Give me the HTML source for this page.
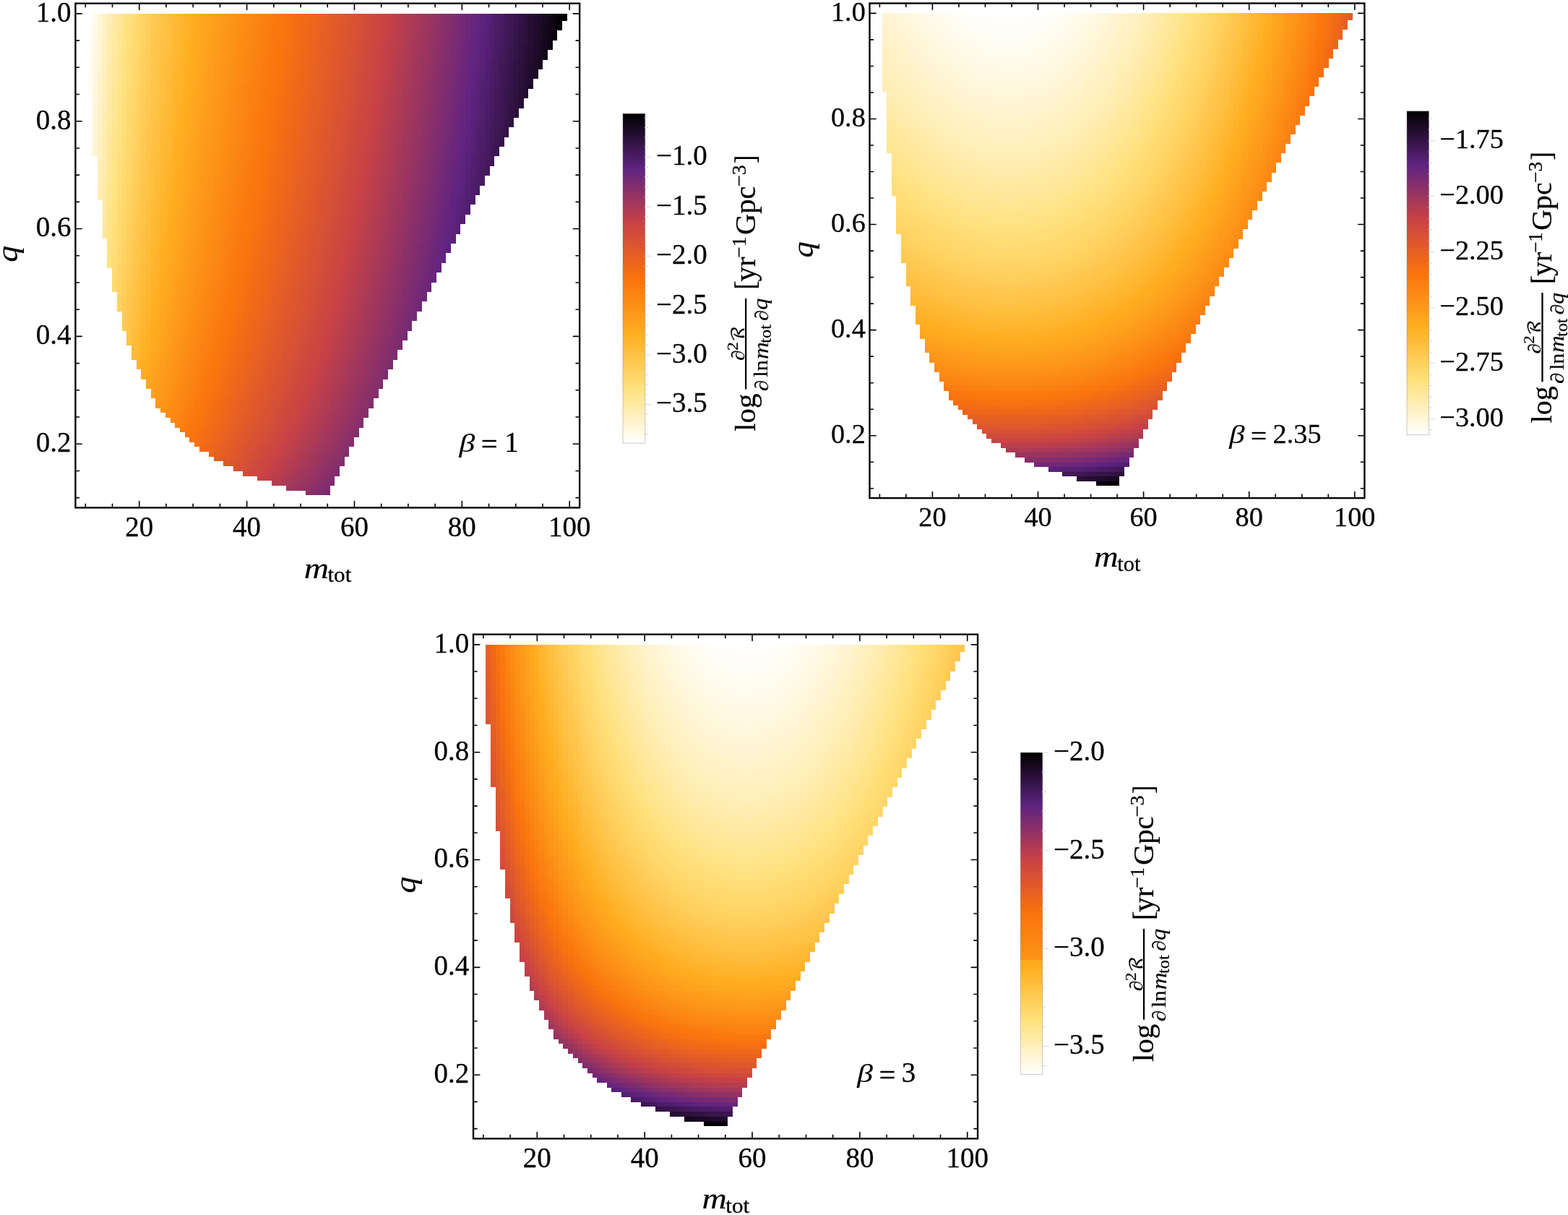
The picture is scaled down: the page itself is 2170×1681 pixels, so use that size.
<!DOCTYPE html>
<html lang="en"><head><meta charset="utf-8"><title>Merger rate distribution</title>
<style>html,body{margin:0;padding:0;background:#fff}svg{display:block}</style></head>
<body><svg width="2170" height="1681" viewBox="0 0 2170 1681" font-family="'Liberation Serif','DejaVu Serif',serif" font-size="39" fill="#000">
<rect width="2170" height="1681" fill="#fff"/>
<defs>
<linearGradient id="cb0" x1="0" x2="0" y1="0" y2="1"><stop offset="0.0000" stop-color="#000000"/><stop offset="0.1667" stop-color="#5f2381"/><stop offset="0.3333" stop-color="#c94245"/><stop offset="0.5000" stop-color="#fa730d"/><stop offset="0.6667" stop-color="#ffae21"/><stop offset="0.8333" stop-color="#ffe17d"/><stop offset="1.0000" stop-color="#ffffff"/></linearGradient>
<linearGradient id="cb1" x1="0" x2="0" y1="0" y2="1"><stop offset="0.0000" stop-color="#000000"/><stop offset="0.1667" stop-color="#5f2381"/><stop offset="0.3333" stop-color="#c94245"/><stop offset="0.5000" stop-color="#fa730d"/><stop offset="0.6667" stop-color="#ffae21"/><stop offset="0.8333" stop-color="#ffe17d"/><stop offset="1.0000" stop-color="#ffffff"/></linearGradient>
<linearGradient id="cb2" x1="0" x2="0" y1="0" y2="1"><stop offset="0.0000" stop-color="#000000"/><stop offset="0.1667" stop-color="#5f2381"/><stop offset="0.3333" stop-color="#c94245"/><stop offset="0.5000" stop-color="#fa730d"/><stop offset="0.6447" stop-color="#fc9518"/><stop offset="0.6447" stop-color="#ffa81f"/><stop offset="0.6667" stop-color="#ffae21"/><stop offset="0.8333" stop-color="#ffe17d"/><stop offset="1.0000" stop-color="#ffffff"/></linearGradient>
</defs>
<g shape-rendering="crispEdges"><path fill="#000000" d="M778 19h7v3h-7zm0 3h7v7h-7z"/><path fill="#050207" d="M771 22h7v7h-7zm0 7h7v7h-7zm0 7h7v6h-7z"/><path fill="#07030a" d="M771 19h7v3h-7z"/><path fill="#09030c" d="M765 42h6v7h-6zm0 7h6v7h-6z"/><path fill="#0b040f" d="M765 22h6v7h-6zm0 7h6v7h-6zm0 7h6v6h-6z"/><path fill="#0d0511" d="M765 19h6v3h-6z"/><path fill="#0e0513" d="M758 49h7v7h-7zm0 7h7v6h-7zm0 6h7v7h-7z"/><path fill="#100616" d="M758 29h7v7h-7zm0 7h7v6h-7zm0 6h7v7h-7z"/><path fill="#120718" d="M758 19h7v3h-7zm0 3h7v7h-7zm-7 47h7v7h-7zm0 7h7v7h-7z"/><path fill="#14071b" d="M751 56h7v6h-7zm0 6h7v7h-7z"/><path fill="#15081d" d="M751 36h7v6h-7zm0 6h7v7h-7zm0 7h7v7h-7z"/><path fill="#170920" d="M751 19h7v3h-7zm0 3h7v7h-7zm0 7h7v7h-7zm-6 47h6v7h-6zm0 7h6v6h-6zm0 6h6v7h-6z"/><path fill="#190922" d="M745 56h6v6h-6zm0 6h6v7h-6zm0 7h6v7h-6z"/><path fill="#1b0a24" d="M745 36h6v6h-6zm0 6h6v7h-6zm0 7h6v7h-6zm-7 47h7v7h-7zm0 7h7v6h-7z"/><path fill="#1d0b27" d="M745 19h6v3h-6zm0 3h6v7h-6zm0 7h6v7h-6zm-7 47h7v7h-7zm0 7h7v6h-7zm0 6h7v7h-7z"/><path fill="#1e0b29" d="M738 56h7v6h-7zm0 6h7v7h-7zm0 7h7v7h-7zm-7 47h7v7h-7z"/><path fill="#200c2c" d="M738 42h7v7h-7zm0 7h7v7h-7zm-7 47h7v7h-7zm0 7h7v6h-7zm0 6h7v7h-7z"/><path fill="#220c2e" d="M738 22h7v7h-7zm0 7h7v7h-7zm0 7h7v6h-7zm-7 47h7v6h-7zm0 6h7v7h-7z"/><path fill="#240d31" d="M738 19h7v3h-7zm-7 43h7v7h-7zm0 7h7v7h-7zm0 7h7v7h-7zm-6 40h6v7h-6zm0 7h6v6h-6zm0 6h6v7h-6z"/><path fill="#260e33" d="M731 42h7v7h-7zm0 7h7v7h-7zm0 7h7v6h-7zm-6 47h6v6h-6zm0 6h6v7h-6z"/><path fill="#270e35" d="M731 22h7v7h-7zm0 7h7v7h-7zm0 7h7v6h-7zm-6 47h6v6h-6zm0 6h6v7h-6zm0 7h6v7h-6zm-7 40h7v7h-7zm0 7h7v7h-7z"/><path fill="#290f38" d="M731 19h7v3h-7zm-6 43h6v7h-6zm0 7h6v7h-6zm0 7h6v7h-6zm-7 47h7v6h-7zm0 6h7v7h-7z"/><path fill="#2b103a" d="M725 42h6v7h-6zm0 7h6v7h-6zm0 7h6v6h-6zm-7 47h7v6h-7zm0 6h7v7h-7zm0 7h7v7h-7zm-7 40h7v7h-7z"/><path fill="#2d103d" d="M725 22h6v7h-6zm0 7h6v7h-6zm0 7h6v6h-6zm-7 47h7v6h-7zm0 6h7v7h-7zm0 7h7v7h-7zm-7 40h7v7h-7zm0 7h7v7h-7zm0 7h7v6h-7z"/><path fill="#2e113f" d="M725 19h6v3h-6zm-7 43h7v7h-7zm0 7h7v7h-7zm0 7h7v7h-7zm-7 47h7v6h-7zm0 6h7v7h-7z"/><path fill="#301242" d="M718 42h7v7h-7zm0 7h7v7h-7zm0 7h7v6h-7zm-7 47h7v6h-7zm0 6h7v7h-7zm0 7h7v7h-7zm-7 40h7v7h-7zm0 7h7v7h-7zm0 7h7v6h-7z"/><path fill="#321244" d="M718 29h7v7h-7zm0 7h7v6h-7zm-7 47h7v6h-7zm0 6h7v7h-7zm0 7h7v7h-7zm-7 47h7v7h-7zm0 7h7v6h-7z"/><path fill="#341346" d="M718 19h7v3h-7zm0 3h7v7h-7zm-7 40h7v7h-7zm0 7h7v7h-7zm0 7h7v7h-7zm-7 47h7v6h-7zm0 6h7v7h-7zm0 7h7v7h-7zm-6 40h6v7h-6zm0 7h6v7h-6z"/><path fill="#361449" d="M711 49h7v7h-7zm0 7h7v6h-7zm-7 47h7v6h-7zm0 6h7v7h-7zm0 7h7v7h-7zm-6 40h6v7h-6zm0 7h6v7h-6zm0 7h6v6h-6z"/><path fill="#37144b" d="M711 29h7v7h-7zm0 7h7v6h-7zm0 6h7v7h-7zm-7 41h7v6h-7zm0 6h7v7h-7zm0 7h7v7h-7zm-6 47h6v7h-6zm0 7h6v6h-6zm-7 40h7v6h-7zm0 6h7v7h-7z"/><path fill="#39154e" d="M711 19h7v3h-7zm0 3h7v7h-7zm-7 47h7v7h-7zm0 7h7v7h-7zm-6 47h6v6h-6zm0 6h6v7h-6zm0 7h6v7h-6zm-7 40h7v7h-7zm0 7h7v7h-7z"/><path fill="#3b1650" d="M704 49h7v7h-7zm0 7h7v6h-7zm0 6h7v7h-7zm-6 41h6v6h-6zm0 6h6v7h-6zm0 7h6v7h-6zm-7 40h7v7h-7zm0 7h7v7h-7zm0 7h7v6h-7zm-7 33h7v7h-7zm0 7h7v6h-7z"/><path fill="#3d1653" d="M704 29h7v7h-7zm0 7h7v6h-7zm0 6h7v7h-7zm-6 41h6v6h-6zm0 6h6v7h-6zm0 7h6v7h-6zm-7 47h7v7h-7zm0 7h7v6h-7zm-7 40h7v6h-7zm0 6h7v7h-7z"/><path fill="#3f1755" d="M704 19h7v3h-7zm0 3h7v7h-7zm-6 47h6v7h-6zm0 7h6v7h-6zm-7 47h7v6h-7zm0 6h7v7h-7zm0 7h7v7h-7zm-7 40h7v7h-7zm0 7h7v7h-7zm-6 40h6v7h-6z"/><path fill="#401857" d="M698 49h6v7h-6zm0 7h6v6h-6zm0 6h6v7h-6zm-7 41h7v6h-7zm0 6h7v7h-7zm0 7h7v7h-7zm-7 40h7v7h-7zm0 7h7v7h-7zm0 7h7v6h-7zm-6 33h6v7h-6zm0 7h6v6h-6zm0 6h6v7h-6z"/><path fill="#42185a" d="M698 29h6v7h-6zm0 7h6v6h-6zm0 6h6v7h-6zm-7 41h7v6h-7zm0 6h7v7h-7zm0 7h7v7h-7zm-7 40h7v7h-7zm0 7h7v7h-7zm0 7h7v6h-7zm-6 40h6v6h-6zm0 6h6v7h-6zm-7 41h7v6h-7z"/><path fill="#44195c" d="M698 19h6v3h-6zm0 3h6v7h-6zm-7 47h7v7h-7zm0 7h7v7h-7zm-7 47h7v6h-7zm0 6h7v7h-7zm-6 41h6v6h-6zm0 6h6v7h-6zm0 7h6v7h-6zm-7 40h7v7h-7zm0 7h7v7h-7z"/><path fill="#461a5f" d="M691 49h7v7h-7zm0 7h7v6h-7zm0 6h7v7h-7zm-7 41h7v6h-7zm0 6h7v7h-7zm0 7h7v7h-7zm-6 40h6v7h-6zm0 7h6v7h-6zm-7 40h7v7h-7zm0 7h7v6h-7zm0 6h7v7h-7zm-7 34h7v7h-7z"/><path fill="#481a61" d="M691 29h7v7h-7zm0 7h7v6h-7zm0 6h7v7h-7zm-7 41h7v6h-7zm0 6h7v7h-7zm0 7h7v7h-7zm-6 40h6v7h-6zm0 7h6v7h-6zm0 7h6v6h-6zm-7 40h7v6h-7zm0 6h7v7h-7zm-7 41h7v6h-7zm0 6h7v7h-7z"/><path fill="#491b64" d="M691 19h7v3h-7zm0 3h7v7h-7zm-7 47h7v7h-7zm0 7h7v7h-7zm-6 47h6v6h-6zm0 6h6v7h-6zm-7 41h7v6h-7zm0 6h7v7h-7zm0 7h7v7h-7zm-7 33h7v7h-7zm0 7h7v7h-7zm0 7h7v7h-7zm-6 33h6v7h-6z"/><path fill="#4b1c66" d="M684 49h7v7h-7zm0 7h7v6h-7zm0 6h7v7h-7zm-6 41h6v6h-6zm0 6h6v7h-6zm0 7h6v7h-6zm-7 40h7v7h-7zm0 7h7v7h-7zm-7 40h7v7h-7zm0 7h7v6h-7zm-6 40h6v7h-6zm0 7h6v6h-6z"/><path fill="#4d1c68" d="M684 29h7v7h-7zm0 7h7v6h-7zm0 6h7v7h-7zm-6 41h6v6h-6zm0 6h6v7h-6zm0 7h6v7h-6zm-7 40h7v7h-7zm0 7h7v7h-7zm0 7h7v6h-7zm-7 40h7v6h-7zm0 6h7v7h-7zm-6 34h6v7h-6zm0 7h6v6h-6zm0 6h6v7h-6zm-7 34h7v6h-7z"/><path fill="#4f1d6b" d="M684 19h7v3h-7zm0 3h7v7h-7zm-6 40h6v7h-6zm0 7h6v7h-6zm0 7h6v7h-6zm-7 47h7v6h-7zm0 6h7v7h-7zm-7 41h7v6h-7zm0 6h7v7h-7zm0 7h7v7h-7zm-6 33h6v7h-6zm0 7h6v7h-6zm-7 40h7v7h-7zm0 7h7v7h-7z"/><path fill="#501e6d" d="M678 49h6v7h-6zm0 7h6v6h-6zm-7 47h7v6h-7zm0 6h7v7h-7zm0 7h7v7h-7zm-7 40h7v7h-7zm0 7h7v7h-7zm-6 40h6v7h-6zm0 7h6v6h-6zm-7 33h7v7h-7zm0 7h7v7h-7zm0 7h7v6h-7zm-7 33h7v7h-7z"/><path fill="#521e70" d="M678 29h6v7h-6zm0 7h6v6h-6zm0 6h6v7h-6zm-7 41h7v6h-7zm0 6h7v7h-7zm0 7h7v7h-7zm-7 40h7v7h-7zm0 7h7v7h-7zm0 7h7v6h-7zm-6 33h6v7h-6zm0 7h6v6h-6zm0 6h6v7h-6zm-7 34h7v7h-7zm0 7h7v6h-7zm-7 40h7v6h-7zm0 6h7v7h-7z"/><path fill="#541f72" d="M678 19h6v3h-6zm0 3h6v7h-6zm-7 40h7v7h-7zm0 7h7v7h-7zm0 7h7v7h-7zm-7 40h7v7h-7zm0 7h7v6h-7zm0 6h7v7h-7zm-6 41h6v6h-6zm0 6h6v7h-6zm-7 40h7v7h-7zm0 7h7v7h-7zm-7 34h7v6h-7zm0 6h7v7h-7zm0 7h7v7h-7zm-7 27h7v7h-7zm0 7h7v6h-7z"/><path fill="#562075" d="M671 42h7v7h-7zm0 7h7v7h-7zm0 7h7v6h-7zm-7 47h7v6h-7zm0 6h7v7h-7zm-6 41h6v6h-6zm0 6h6v7h-6zm0 7h6v7h-6zm-7 33h7v7h-7zm0 7h7v7h-7zm0 7h7v6h-7zm-7 33h7v7h-7zm0 7h7v7h-7zm-7 33h7v7h-7zm0 7h7v7h-7z"/><path fill="#582077" d="M671 22h7v7h-7zm0 7h7v7h-7zm0 7h7v6h-7zm-7 47h7v6h-7zm0 6h7v7h-7zm0 7h7v7h-7zm-6 40h6v7h-6zm0 7h6v7h-6zm-7 40h7v7h-7zm0 7h7v6h-7zm-7 40h7v7h-7zm0 7h7v6h-7zm-7 33h7v7h-7zm0 7h7v6h-7zm-6 33h6v7h-6zm0 7h6v7h-6z"/><path fill="#592179" d="M671 19h7v3h-7zm-7 43h7v7h-7zm0 7h7v7h-7zm0 7h7v7h-7zm-6 40h6v7h-6zm0 7h6v6h-6zm0 6h6v7h-6zm-7 34h7v7h-7zm0 7h7v6h-7zm0 6h7v7h-7zm-7 34h7v6h-7zm0 6h7v7h-7zm0 7h7v7h-7zm-7 34h7v6h-7zm0 6h7v7h-7zm-6 34h6v7h-6zm0 7h6v6h-6z"/><path fill="#5b217c" d="M664 42h7v7h-7zm0 7h7v7h-7zm0 7h7v6h-7zm-6 40h6v7h-6zm0 7h6v6h-6zm0 6h6v7h-6zm-7 41h7v6h-7zm0 6h7v7h-7zm-7 40h7v7h-7zm0 7h7v7h-7zm-7 40h7v7h-7zm0 7h7v7h-7zm-6 33h6v7h-6zm0 7h6v7h-6zm-7 34h7v6h-7zm0 6h7v7h-7z"/><path fill="#5d227e" d="M664 22h7v7h-7zm0 7h7v7h-7zm0 7h7v6h-7zm-6 47h6v6h-6zm0 6h6v7h-6zm-7 40h7v7h-7zm0 7h7v7h-7zm0 7h7v7h-7zm-7 40h7v7h-7zm0 7h7v6h-7zm-7 33h7v7h-7zm0 7h7v7h-7zm0 7h7v6h-7zm-6 33h6v7h-6zm0 7h6v6h-6zm-7 33h7v7h-7zm0 7h7v7h-7zm-7 27h7v6h-7z"/><path fill="#5f2381" d="M664 19h7v3h-7zm-6 43h6v7h-6zm0 7h6v7h-6zm0 7h6v7h-6zm-7 40h7v7h-7zm0 7h7v6h-7zm-7 40h7v7h-7zm0 7h7v6h-7zm0 6h7v7h-7zm-7 34h7v6h-7zm0 6h7v7h-7zm-6 41h6v6h-6zm0 6h6v7h-6zm-7 34h7v7h-7zm0 7h7v6h-7zm-7 26h7v7h-7zm0 7h7v7h-7z"/><path fill="#612380" d="M658 42h6v7h-6zm0 7h6v7h-6zm0 7h6v6h-6zm-7 40h7v7h-7zm0 7h7v6h-7zm0 6h7v7h-7zm-7 41h7v6h-7zm0 6h7v7h-7zm-7 40h7v7h-7zm0 7h7v7h-7zm-6 34h6v6h-6zm0 6h6v7h-6zm0 7h6v7h-6zm-7 27h7v6h-7zm0 6h7v7h-7zm0 7h7v7h-7zm-7 27h7v7h-7zm0 7h7v6h-7zm-6 26h6v7h-6zm0 7h6v7h-6z"/><path fill="#63247f" d="M658 22h6v7h-6zm0 7h6v7h-6zm0 7h6v6h-6zm-7 40h7v7h-7zm0 7h7v6h-7zm0 6h7v7h-7zm-7 40h7v7h-7zm0 7h7v7h-7zm0 7h7v7h-7zm-7 33h7v7h-7zm0 7h7v7h-7zm0 7h7v6h-7zm-6 33h6v7h-6zm0 7h6v7h-6zm-7 33h7v7h-7zm0 7h7v7h-7zm-7 34h7v6h-7zm0 6h7v7h-7zm-6 34h6v6h-6z"/><path fill="#65257e" d="M658 19h6v3h-6zm-7 37h7v6h-7zm0 6h7v7h-7zm0 7h7v7h-7zm-7 40h7v7h-7zm0 7h7v7h-7zm0 7h7v6h-7zm-7 40h7v7h-7zm0 7h7v6h-7zm-6 40h6v6h-6zm0 6h6v7h-6zm-7 34h7v7h-7zm0 7h7v6h-7zm-7 33h7v7h-7zm0 7h7v7h-7zm-6 33h6v7h-6zm0 7h6v7h-6zm-7 27h7v7h-7zm0 7h7v6h-7z"/><path fill="#67257d" d="M651 36h7v6h-7zm0 6h7v7h-7zm0 7h7v7h-7zm-7 47h7v7h-7zm0 7h7v6h-7zm-7 40h7v7h-7zm0 7h7v6h-7zm0 6h7v7h-7zm-6 34h6v6h-6zm0 6h6v7h-6zm0 7h6v7h-6zm-7 34h7v6h-7zm0 6h7v7h-7zm-7 34h7v6h-7zm0 6h7v7h-7zm-6 34h6v7h-6zm0 7h6v6h-6zm-7 26h7v7h-7zm0 7h7v7h-7zm-7 27h7v7h-7z"/><path fill="#69267c" d="M651 22h7v7h-7zm0 7h7v7h-7zm-7 47h7v7h-7zm0 7h7v6h-7zm0 6h7v7h-7zm-7 40h7v7h-7zm0 7h7v7h-7zm-6 40h6v7h-6zm0 7h6v7h-6zm-7 40h7v7h-7zm0 7h7v7h-7zm-7 33h7v7h-7zm0 7h7v7h-7zm-6 34h6v6h-6zm0 6h6v7h-6zm-7 27h7v7h-7zm0 7h7v6h-7zm-7 27h7v6h-7zm0 6h7v7h-7z"/><path fill="#6b267b" d="M651 19h7v3h-7zm-7 37h7v6h-7zm0 6h7v7h-7zm0 7h7v7h-7zm-7 40h7v7h-7zm0 7h7v7h-7zm0 7h7v6h-7zm-6 33h6v7h-6zm0 7h6v7h-6zm0 7h6v6h-6zm-7 33h7v7h-7zm0 7h7v6h-7zm0 6h7v7h-7zm-7 34h7v7h-7zm0 7h7v6h-7zm-6 33h6v7h-6zm0 7h6v7h-6zm-7 27h7v6h-7zm0 6h7v7h-7zm-7 27h7v7h-7zm0 7h7v7h-7zm-6 27h6v6h-6zm0 6h6v7h-6z"/><path fill="#6d2779" d="M644 36h7v6h-7zm0 6h7v7h-7zm0 7h7v7h-7zm-7 40h7v7h-7zm0 7h7v7h-7zm0 7h7v6h-7zm-6 40h6v7h-6zm0 7h6v6h-6zm-7 40h7v6h-7zm0 6h7v7h-7zm-7 34h7v7h-7zm0 7h7v6h-7zm0 6h7v7h-7zm-6 27h6v7h-6zm0 7h6v6h-6zm0 6h6v7h-6zm-7 27h7v7h-7zm0 7h7v7h-7zm-7 27h7v6h-7zm0 6h7v7h-7zm-6 27h6v7h-6zm0 7h6v7h-6zm-7 27h7v6h-7z"/><path fill="#6f2878" d="M644 19h7v3h-7zm0 3h7v7h-7zm0 7h7v7h-7zm-7 40h7v7h-7zm0 7h7v7h-7zm0 7h7v6h-7zm-6 40h6v6h-6zm0 6h6v7h-6zm0 7h6v7h-6zm-7 34h7v6h-7zm0 6h7v7h-7zm0 7h7v7h-7zm-7 33h7v7h-7zm0 7h7v7h-7zm-6 34h6v6h-6zm0 6h6v7h-6zm-7 34h7v7h-7zm0 7h7v6h-7zm-7 33h7v7h-7zm-6 34h6v6h-6zm-7 26h7v7h-7zm0 7h7v7h-7z"/><path fill="#712877" d="M637 56h7v6h-7zm0 6h7v7h-7zm-6 41h6v6h-6zm0 6h6v7h-6zm0 7h6v7h-6zm-7 40h7v7h-7zm0 7h7v7h-7zm-7 40h7v7h-7zm0 7h7v6h-7zm-6 33h6v7h-6zm0 7h6v7h-6zm-7 33h7v7h-7zm0 7h7v7h-7zm-7 34h7v6h-7zm0 6h7v7h-7zm-6 27h6v7h-6zm0 7h6v7h-6zm-7 27h7v6h-7zm-7 26h7v7h-7zm0 7h7v7h-7z"/><path fill="#732976" d="M637 36h7v6h-7zm0 6h7v7h-7zm0 7h7v7h-7zm-6 40h6v7h-6zm0 7h6v7h-6zm-7 40h7v7h-7zm0 7h7v7h-7zm0 7h7v6h-7zm-7 33h7v7h-7zm0 7h7v6h-7zm0 6h7v7h-7zm-6 34h6v7h-6zm0 7h6v6h-6zm-7 33h7v7h-7zm0 7h7v6h-7zm-7 33h7v7h-7zm0 7h7v7h-7zm-6 27h6v6h-6zm0 6h6v7h-6zm-7 27h7v7h-7zm0 7h7v7h-7zm-7 20h7v7h-7zm0 7h7v6h-7zm-7 27h7v6h-7z"/><path fill="#752975" d="M637 19h7v3h-7zm0 3h7v7h-7zm0 7h7v7h-7zm-6 40h6v7h-6zm0 7h6v7h-6zm0 7h6v6h-6zm-7 40h7v6h-7zm0 6h7v7h-7zm-7 41h7v6h-7zm0 6h7v7h-7zm-6 34h6v6h-6zm0 6h6v7h-6zm0 7h6v7h-6zm-7 34h7v6h-7zm0 6h7v7h-7zm-7 34h7v7h-7zm0 7h7v6h-7zm-6 26h6v7h-6zm0 7h6v7h-6zm-7 27h7v7h-7zm0 7h7v6h-7zm-7 26h7v7h-7zm-7 27h7v7h-7zm0 7h7v7h-7zm-6 20h6v7h-6z"/><path fill="#772a74" d="M631 49h6v7h-6zm0 7h6v6h-6zm0 6h6v7h-6zm-7 41h7v6h-7zm0 6h7v7h-7zm0 7h7v7h-7zm-7 34h7v6h-7zm0 6h7v7h-7zm0 7h7v7h-7zm-6 33h6v7h-6zm0 7h6v7h-6zm-7 34h7v6h-7zm0 6h7v7h-7zm0 7h7v7h-7zm-7 27h7v6h-7zm0 6h7v7h-7zm0 7h7v7h-7zm-6 27h6v7h-6zm0 7h6v6h-6zm-7 26h7v7h-7zm0 7h7v7h-7zm-7 27h7v7h-7zm0 7h7v6h-7zm-7 20h7v6h-7zm0 6h7v7h-7zm-6 21h6v6h-6zm0 6h6v7h-6zm-7 20h7v7h-7z"/><path fill="#792a73" d="M631 29h6v7h-6zm0 7h6v6h-6zm0 6h6v7h-6zm-7 41h7v6h-7zm0 6h7v7h-7zm0 7h7v7h-7zm-7 40h7v7h-7zm0 7h7v7h-7zm-6 40h6v7h-6zm0 7h6v6h-6zm-7 33h7v7h-7zm0 7h7v7h-7zm-7 33h7v7h-7zm0 7h7v7h-7zm-6 34h6v6h-6zm0 6h6v7h-6zm-7 27h7v7h-7zm0 7h7v6h-7zm-7 27h7v6h-7zm0 6h7v7h-7zm-7 27h7v7h-7zm-6 27h6v7h-6zm-7 27h7v6h-7zm-7 20h7v6h-7zm-100 201h7v6h-7z"/><path fill="#7b2b72" d="M631 19h6v3h-6zm0 3h6v7h-6zm-7 40h7v7h-7zm0 7h7v7h-7zm0 7h7v7h-7zm-7 40h7v7h-7zm0 7h7v6h-7zm0 6h7v7h-7zm-6 34h6v7h-6zm0 7h6v6h-6zm0 6h6v7h-6zm-7 34h7v6h-7zm0 6h7v7h-7zm-7 34h7v7h-7zm0 7h7v6h-7zm-6 33h6v7h-6zm0 7h6v7h-6zm-7 27h7v6h-7zm0 6h7v7h-7zm-7 27h7v7h-7zm0 7h7v7h-7zm-7 27h7v6h-7zm0 6h7v7h-7zm-6 20h6v7h-6zm0 7h6v7h-6zm-7 20h7v7h-7zm0 7h7v7h-7zm-7 20h7v7h-7zm-6 20h6v7h-6z"/><path fill="#7d2c70" d="M624 42h7v7h-7zm0 7h7v7h-7zm0 7h7v6h-7zm-7 40h7v7h-7zm0 7h7v6h-7zm0 6h7v7h-7zm-6 41h6v6h-6zm0 6h6v7h-6zm-7 34h7v6h-7zm0 6h7v7h-7zm0 7h7v7h-7zm-7 34h7v6h-7zm0 6h7v7h-7zm-6 34h6v6h-6zm0 6h6v7h-6zm-7 27h7v7h-7zm0 7h7v7h-7zm-7 33h7v7h-7zm-7 27h7v7h-7zm0 7h7v7h-7zm-6 27h6v6h-6zm-7 27h7v6h-7zm-7 26h7v7h-7zm-6 20h6v7h-6zm-7 20h7v7h-7zm-80 161h6v7h-6zm-7 7h7v7h-7zm-7 7h7v6h-7z"/><path fill="#7f2c6f" d="M624 29h7v7h-7zm0 7h7v6h-7zm-7 47h7v6h-7zm0 6h7v7h-7zm-6 40h6v7h-6zm0 7h6v7h-6zm0 7h6v7h-6zm-7 33h7v7h-7zm0 7h7v7h-7zm-7 40h7v7h-7zm0 7h7v7h-7zm-6 33h6v7h-6zm0 7h6v7h-6zm-7 27h7v7h-7zm0 7h7v6h-7zm-7 33h7v7h-7zm0 7h7v6h-7zm-7 27h7v6h-7zm-6 26h6v7h-6zm0 7h6v7h-6zm-7 20h7v7h-7zm0 7h7v7h-7zm-7 20h7v7h-7zm0 7h7v6h-7zm-6 20h6v6h-6zm-7 20h7v6h-7zm-7 20h7v7h-7zm-67 134h7v7h-7z"/><path fill="#812d6e" d="M624 19h7v3h-7zm0 3h7v7h-7zm-7 40h7v7h-7zm0 7h7v7h-7zm0 7h7v7h-7zm-6 33h6v7h-6zm0 7h6v7h-6zm0 7h6v6h-6zm-7 40h7v7h-7zm0 7h7v6h-7zm-7 33h7v7h-7zm0 7h7v6h-7zm0 6h7v7h-7zm-6 34h6v7h-6zm0 7h6v6h-6zm-7 26h7v7h-7zm0 7h7v7h-7zm-7 34h7v6h-7zm0 6h7v7h-7zm-7 27h7v7h-7zm0 7h7v7h-7zm-6 20h6v7h-6zm0 7h6v6h-6zm-7 26h7v7h-7zm-7 27h7v7h-7zm-6 27h6v7h-6zm-7 20h7v7h-7zm-7 20h7v7h-7zm-6 20h6v7h-6zm-54 107h7v7h-7zm-13 21h6v6h-6zm-7 6h7v7h-7zm-7 7h7v7h-7zm-6 7h6v6h-6z"/><path fill="#832d6d" d="M617 42h7v7h-7zm0 7h7v7h-7zm0 7h7v6h-7zm-6 40h6v7h-6zm0 7h6v6h-6zm-7 40h7v7h-7zm0 7h7v6h-7zm0 6h7v7h-7zm-7 34h7v6h-7zm0 6h7v7h-7zm-6 34h6v7h-6zm0 7h6v6h-6zm0 6h6v7h-6zm-7 27h7v7h-7zm0 7h7v6h-7zm-7 33h7v7h-7zm0 7h7v7h-7zm-7 27h7v6h-7zm0 6h7v7h-7zm-6 27h6v7h-6zm-7 27h7v7h-7zm0 7h7v6h-7zm-7 20h7v7h-7zm0 7h7v6h-7zm-6 20h6v6h-6zm0 6h6v7h-6zm-7 20h7v7h-7zm-7 20h7v7h-7zm-6 21h6v6h-6zm-7 20h7v6h-7zm-7 13h7v7h-7zm-33 67h6v7h-6zm-14 20h7v7h-7z"/><path fill="#852e6c" d="M617 22h7v7h-7zm0 7h7v7h-7zm0 7h7v6h-7zm-6 40h6v7h-6zm0 7h6v6h-6zm0 6h6v7h-6zm-7 34h7v6h-7zm0 6h7v7h-7zm0 7h7v7h-7zm-7 34h7v6h-7zm0 6h7v7h-7zm0 7h7v7h-7zm-6 33h6v7h-6zm0 7h6v7h-6zm-7 34h7v6h-7zm0 6h7v7h-7zm-7 34h7v7h-7zm0 7h7v6h-7zm-7 26h7v7h-7zm0 7h7v7h-7zm-6 27h6v7h-6zm0 7h6v6h-6zm-7 26h7v7h-7zm-7 27h7v7h-7zm-6 27h6v7h-6zm-7 20h7v7h-7zm0 7h7v6h-7zm-7 20h7v6h-7zm-6 20h6v7h-6zm-7 20h7v7h-7zm-7 13h7v7h-7zm-7 20h7v7h-7zm-6 14h6v7h-6zm-7 13h7v7h-7zm-7 14h7v6h-7zm-13 20h7v6h-7zm-13 20h6v7h-6zm-7 7h7v6h-7z"/><path fill="#872f6b" d="M617 19h7v3h-7zm-6 37h6v6h-6zm0 6h6v7h-6zm0 7h6v7h-6zm-7 40h7v7h-7zm0 7h7v7h-7zm-7 40h7v7h-7zm0 7h7v7h-7zm-6 40h6v7h-6zm0 7h6v6h-6zm-7 33h7v7h-7zm0 7h7v7h-7zm-7 33h7v7h-7zm0 7h7v7h-7zm-7 27h7v7h-7zm0 7h7v6h-7zm-6 26h6v7h-6zm0 7h6v7h-6zm-7 27h7v7h-7zm0 7h7v6h-7zm-7 20h7v6h-7zm0 6h7v7h-7zm-6 21h6v6h-6zm0 6h6v7h-6zm-7 20h7v7h-7zm-7 20h7v7h-7zm0 7h7v7h-7zm-6 20h6v7h-6zm-7 14h7v6h-7zm0 6h7v7h-7zm-7 14h7v6h-7zm-7 20h7v6h-7zm-6 13h6v7h-6zm-7 14h7v6h-7zm-7 13h7v7h-7zm-6 13h6v7h-6zm-14 20h7v7h-7zm-20 27h7v7h-7zm-6 7h6v7h-6zm-7 7h7v6h-7z"/><path fill="#892f6a" d="M611 36h6v6h-6zm0 6h6v7h-6zm0 7h6v7h-6zm-7 40h7v7h-7zm0 7h7v7h-7zm0 7h7v6h-7zm-7 33h7v7h-7zm0 7h7v7h-7zm0 7h7v6h-7zm-6 33h6v7h-6zm0 7h6v6h-6zm0 6h6v7h-6zm-7 34h7v7h-7zm0 7h7v6h-7zm-7 33h7v7h-7zm0 7h7v6h-7zm-7 27h7v6h-7zm0 6h7v7h-7zm-6 27h6v7h-6zm0 7h6v6h-6zm-7 27h7v6h-7zm0 6h7v7h-7zm-7 27h7v7h-7zm-6 27h6v7h-6zm-7 27h7v6h-7zm-7 20h7v6h-7zm-6 20h6v6h-6zm0 6h6v7h-6zm-7 14h7v7h-7zm-7 20h7v7h-7zm-7 20h7v7h-7zm-6 13h6v7h-6zm-7 14h7v7h-7zm-7 13h7v7h-7zm-6 14h6v6h-6zm-7 13h7v7h-7zm-13 20h6v7h-6zm-7 7h7v7h-7z"/><path fill="#8b3068" d="M611 19h6v3h-6zm0 3h6v7h-6zm0 7h6v7h-6zm-7 40h7v7h-7zm0 7h7v7h-7zm0 7h7v6h-7zm-7 40h7v6h-7zm0 6h7v7h-7zm-6 41h6v6h-6zm0 6h6v7h-6zm-7 34h7v6h-7zm0 6h7v7h-7zm0 7h7v7h-7zm-7 27h7v7h-7zm0 7h7v6h-7zm0 6h7v7h-7zm-7 27h7v7h-7zm0 7h7v7h-7zm-6 27h6v6h-6zm0 6h6v7h-6zm-7 27h7v7h-7zm0 7h7v7h-7zm-7 27h7v6h-7zm0 6h7v7h-7zm-6 20h6v7h-6zm0 7h6v7h-6zm-7 20h7v7h-7zm0 7h7v7h-7zm-7 20h7v7h-7zm-6 20h6v7h-6zm-7 20h7v7h-7zm-7 20h7v7h-7zm-7 20h7v7h-7zm-6 14h6v6h-6zm-7 13h7v7h-7zm-13 27h6v7h-6zm-7 13h7v7h-7zm-7 14h7v6h-7zm-6 6h6v7h-6zm-14 21h7v6h-7zm-6 6h6v7h-6zm-7 7h7v7h-7zm-7 7h7v6h-7z"/><path fill="#8d3067" d="M604 49h7v7h-7zm0 7h7v6h-7zm0 6h7v7h-7zm-7 41h7v6h-7zm0 6h7v7h-7zm0 7h7v7h-7zm-6 34h6v6h-6zm0 6h6v7h-6zm0 7h6v7h-6zm-7 33h7v7h-7zm0 7h7v7h-7zm-7 34h7v6h-7zm0 6h7v7h-7zm-7 34h7v6h-7zm0 6h7v7h-7zm-6 27h6v7h-6zm0 7h6v7h-6zm-7 27h7v6h-7zm0 6h7v7h-7zm-7 27h7v7h-7zm0 7h7v7h-7zm-6 27h6v6h-6zm-7 27h7v6h-7zm-7 20h7v6h-7zm0 6h7v7h-7zm-6 20h6v7h-6zm-7 20h7v7h-7zm-7 21h7v6h-7zm-7 20h7v6h-7zm-6 13h6v7h-6zm-14 34h7v6h-7zm-20 33h7v7h-7zm-13 20h7v7h-7z"/><path fill="#8f3166" d="M604 29h7v7h-7zm0 7h7v6h-7zm0 6h7v7h-7zm-7 41h7v6h-7zm0 6h7v7h-7zm0 7h7v7h-7zm-6 40h6v7h-6zm0 7h6v7h-6zm-7 33h7v7h-7zm0 7h7v7h-7zm0 7h7v6h-7zm-7 33h7v7h-7zm0 7h7v7h-7zm-7 33h7v7h-7zm0 7h7v7h-7zm-6 27h6v7h-6zm0 7h6v6h-6zm-7 33h7v7h-7zm-7 27h7v7h-7zm0 7h7v6h-7zm-6 26h6v7h-6zm0 7h6v7h-6zm-7 20h7v7h-7zm0 7h7v7h-7zm-7 20h7v7h-7zm-6 20h6v7h-6zm0 7h6v6h-6zm-7 20h7v6h-7zm-7 20h7v7h-7zm-7 20h7v7h-7zm-6 13h6v7h-6zm-7 20h7v7h-7zm-7 14h7v7h-7zm-6 13h6v7h-6zm-7 14h7v6h-7zm-13 20h6v6h-6zm-14 20h7v7h-7zm-6 7h6v6h-6z"/><path fill="#913265" d="M604 19h7v3h-7zm0 3h7v7h-7zm-7 40h7v7h-7zm0 7h7v7h-7zm0 7h7v7h-7zm-6 40h6v7h-6zm0 7h6v6h-6zm0 6h6v7h-6zm-7 34h7v7h-7zm0 7h7v6h-7zm-7 40h7v6h-7zm0 6h7v7h-7zm-7 34h7v7h-7zm0 7h7v6h-7zm-6 26h6v7h-6zm0 7h6v7h-6zm-7 34h7v6h-7zm0 6h7v7h-7zm-7 27h7v7h-7zm-6 27h6v7h-6zm0 7h6v6h-6zm-7 20h7v6h-7zm0 6h7v7h-7zm-7 21h7v6h-7zm0 6h7v7h-7zm-6 20h6v7h-6zm-7 20h7v7h-7zm0 7h7v7h-7zm-7 20h7v7h-7zm-7 20h7v7h-7zm-6 14h6v6h-6zm-7 20h7v6h-7zm-7 13h7v7h-7zm-6 14h6v6h-6zm-7 13h7v7h-7zm-7 13h7v7h-7zm-13 20h7v7h-7zm-20 27h7v7h-7zm-7 7h7v7h-7z"/><path fill="#933264" d="M597 49h7v7h-7zm0 7h7v6h-7zm-6 40h6v7h-6zm0 7h6v6h-6zm0 6h6v7h-6zm-7 34h7v7h-7zm0 7h7v6h-7zm0 6h7v7h-7zm-7 34h7v6h-7zm0 6h7v7h-7zm0 7h7v7h-7zm-7 27h7v7h-7zm0 7h7v6h-7zm0 6h7v7h-7zm-6 27h6v7h-6zm0 7h6v6h-6zm-7 33h7v7h-7zm0 7h7v7h-7zm-7 27h7v6h-7zm0 6h7v7h-7zm-6 21h6v6h-6zm0 6h6v7h-6zm-7 27h7v7h-7zm-7 27h7v7h-7zm-6 27h6v6h-6zm-7 20h7v6h-7zm-7 20h7v6h-7zm0 6h7v7h-7zm-7 14h7v7h-7zm0 7h7v6h-7zm-6 13h6v7h-6zm-7 20h7v7h-7zm-7 13h7v7h-7zm-6 14h6v7h-6zm-7 13h7v7h-7zm-7 14h7v6h-7zm-6 13h6v7h-6zm-7 7h7v6h-7zm-7 13h7v7h-7zm-6 7h6v7h-6z"/><path fill="#953363" d="M597 29h7v7h-7zm0 7h7v6h-7zm0 6h7v7h-7zm-6 41h6v6h-6zm0 6h6v7h-6zm-7 40h7v7h-7zm0 7h7v7h-7zm-7 40h7v7h-7zm0 7h7v7h-7zm-7 33h7v7h-7zm0 7h7v7h-7zm-6 34h6v6h-6zm0 6h6v7h-6zm-7 34h7v7h-7zm0 7h7v6h-7zm-7 26h7v7h-7zm0 7h7v7h-7zm-6 27h6v7h-6zm-7 27h7v6h-7zm0 6h7v7h-7zm-7 20h7v7h-7zm0 7h7v7h-7zm-6 20h6v7h-6zm0 7h6v7h-6zm-7 20h7v7h-7zm-7 20h7v7h-7zm-7 20h7v7h-7zm-6 20h6v7h-6zm-7 20h7v7h-7zm-7 14h7v6h-7zm-6 13h6v7h-6zm-7 14h7v6h-7zm-7 13h7v7h-7zm-6 13h6v7h-6zm-14 20h7v7h-7zm-13 21h7v6h-7zm-7 6h7v7h-7zm-7 7h7v7h-7z"/><path fill="#973362" d="M597 19h7v3h-7zm0 3h7v7h-7zm-6 40h6v7h-6zm0 7h6v7h-6zm0 7h6v7h-6zm-7 33h7v7h-7zm0 7h7v7h-7zm0 7h7v6h-7zm-7 33h7v7h-7zm0 7h7v7h-7zm0 7h7v6h-7zm-7 33h7v7h-7zm0 7h7v6h-7zm-6 33h6v7h-6zm0 7h6v7h-6zm-7 33h7v7h-7zm0 7h7v7h-7zm-7 27h7v7h-7zm0 7h7v6h-7zm-6 26h6v7h-6zm0 7h6v7h-6zm-7 20h7v7h-7zm0 7h7v7h-7zm-7 27h7v6h-7zm-6 27h6v6h-6zm-7 20h7v6h-7zm0 6h7v7h-7zm-7 20h7v7h-7zm-7 20h7v7h-7zm-6 21h6v6h-6zm-7 20h7v6h-7zm-7 13h7v7h-7zm-26 54h6v6h-6zm-7 13h7v7h-7zm-13 20h6v7h-6z"/><path fill="#993461" d="M591 42h6v7h-6zm0 7h6v7h-6zm0 7h6v6h-6zm-7 33h7v7h-7zm0 7h7v7h-7zm0 7h7v6h-7zm-7 40h7v7h-7zm0 7h7v6h-7zm-7 33h7v7h-7zm0 7h7v6h-7zm0 6h7v7h-7zm-6 34h6v7h-6zm0 7h6v6h-6zm-7 26h7v7h-7zm0 7h7v7h-7zm0 7h7v6h-7zm-7 27h7v6h-7zm0 6h7v7h-7zm-6 27h6v7h-6zm0 7h6v6h-6zm-7 27h7v6h-7zm-7 26h7v7h-7zm0 7h7v7h-7zm-6 20h6v7h-6zm0 7h6v7h-6zm-7 20h7v7h-7zm-7 27h7v6h-7zm-7 20h7v6h-7zm-6 20h6v7h-6zm-7 20h7v7h-7zm-7 13h7v7h-7zm-6 20h6v7h-6zm-7 14h7v7h-7zm-7 13h7v7h-7zm-20 34h7v6h-7zm-13 20h7v7h-7zm-7 7h7v6h-7zm-7 6h7v7h-7z"/><path fill="#9b345f" d="M591 22h6v7h-6zm0 7h6v7h-6zm0 7h6v6h-6zm-7 40h7v7h-7zm0 7h7v6h-7zm-7 40h7v6h-7zm0 6h7v7h-7zm0 7h7v7h-7zm-7 34h7v6h-7zm0 6h7v7h-7zm-6 34h6v6h-6zm0 6h6v7h-6zm0 7h6v7h-6zm-7 27h7v7h-7zm0 7h7v6h-7zm-7 33h7v7h-7zm0 7h7v7h-7zm-6 27h6v6h-6zm0 6h6v7h-6zm-7 27h7v7h-7zm0 7h7v7h-7zm-7 20h7v7h-7zm0 7h7v6h-7zm-6 26h6v7h-6zm-7 27h7v7h-7zm-7 20h7v7h-7zm0 7h7v7h-7zm-7 20h7v7h-7zm-6 20h6v7h-6zm-7 20h7v7h-7zm-7 14h7v6h-7zm-6 20h6v6h-6zm-7 13h7v7h-7zm-7 14h7v6h-7zm-6 13h6v7h-6zm-7 13h7v7h-7zm-7 7h7v7h-7zm-6 13h6v7h-6zm-7 7h7v7h-7zm-20 27h6v7h-6z"/><path fill="#9d355e" d="M591 19h6v3h-6zm-7 37h7v6h-7zm0 6h7v7h-7zm0 7h7v7h-7zm-7 34h7v6h-7zm0 6h7v7h-7zm0 7h7v7h-7zm-7 34h7v6h-7zm0 6h7v7h-7zm0 7h7v7h-7zm-6 33h6v7h-6zm0 7h6v7h-6zm-7 34h7v6h-7zm0 6h7v7h-7zm-7 34h7v6h-7zm0 6h7v7h-7zm-6 27h6v7h-6zm0 7h6v7h-6zm-7 27h7v6h-7zm0 6h7v7h-7zm-7 27h7v7h-7zm-6 27h6v7h-6zm0 7h6v6h-6zm-7 20h7v7h-7zm0 7h7v6h-7zm-7 20h7v6h-7zm-7 20h7v6h-7zm0 6h7v7h-7zm-6 14h6v6h-6zm0 6h6v7h-6zm-7 14h7v7h-7zm0 7h7v6h-7zm-7 13h7v7h-7zm-6 20h6v7h-6zm-7 13h7v7h-7zm-7 14h7v7h-7zm-6 13h6v7h-6zm-7 14h7v6h-7zm-13 20h6v6h-6zm-14 20h7v7h-7z"/><path fill="#9e365d" d="M584 36h7v6h-7zm0 6h7v7h-7zm0 7h7v7h-7zm-7 40h7v7h-7zm0 7h7v7h-7zm-7 40h7v7h-7zm0 7h7v7h-7zm-6 40h6v7h-6zm0 7h6v6h-6zm-7 33h7v7h-7zm0 7h7v7h-7zm-7 33h7v7h-7zm0 7h7v7h-7zm-6 27h6v7h-6zm0 7h6v6h-6zm-7 26h7v7h-7zm0 7h7v7h-7zm-7 27h7v7h-7zm0 7h7v6h-7zm-6 20h6v6h-6zm0 6h6v7h-6zm-7 27h7v7h-7zm-7 20h7v7h-7zm0 7h7v7h-7zm-7 20h7v7h-7zm-6 20h6v7h-6zm-7 20h7v7h-7zm-7 20h7v7h-7zm-6 20h6v7h-6zm-7 14h7v6h-7zm-7 13h7v7h-7zm-6 14h6v6h-6zm-7 13h7v7h-7zm-7 13h7v7h-7zm-13 20h7v7h-7zm-14 21h7v6h-7zm-6 6h6v7h-6zm-7 7h7v7h-7z"/><path fill="#a0365c" d="M584 19h7v3h-7zm0 3h7v7h-7zm0 7h7v7h-7zm-7 40h7v7h-7zm0 7h7v7h-7zm0 7h7v6h-7zm-7 33h7v7h-7zm0 7h7v6h-7zm0 6h7v7h-7zm-6 34h6v7h-6zm0 7h6v6h-6zm0 6h6v7h-6zm-7 27h7v7h-7zm0 7h7v6h-7zm0 6h7v7h-7zm-7 27h7v7h-7zm0 7h7v7h-7zm0 7h7v6h-7zm-6 26h6v7h-6zm0 7h6v7h-6zm-7 27h7v7h-7zm0 7h7v6h-7zm-7 26h7v7h-7zm0 7h7v7h-7zm-6 27h6v7h-6zm-7 27h7v6h-7zm0 6h7v7h-7zm-7 21h7v6h-7zm-7 26h7v7h-7zm-6 20h6v7h-6zm-7 20h7v7h-7zm-7 21h7v6h-7zm-6 20h6v6h-6zm-7 13h7v7h-7zm-7 13h7v7h-7zm-20 41h7v6h-7zm-6 13h6v7h-6zm-14 20h7v7h-7zm-7 7h7v7h-7z"/><path fill="#a2375b" d="M577 49h7v7h-7zm0 7h7v6h-7zm0 6h7v7h-7zm-7 34h7v7h-7zm0 7h7v6h-7zm0 6h7v7h-7zm-6 41h6v6h-6zm0 6h6v7h-6zm-7 34h7v6h-7zm0 6h7v7h-7zm-7 34h7v7h-7zm0 7h7v6h-7zm-6 33h6v7h-6zm0 7h6v6h-6zm-7 27h7v6h-7zm0 6h7v7h-7zm-7 27h7v7h-7zm0 7h7v6h-7zm-6 27h6v6h-6zm0 6h6v7h-6zm-7 20h7v7h-7zm0 7h7v7h-7zm-7 20h7v7h-7zm0 7h7v7h-7zm-7 20h7v7h-7zm0 7h7v6h-7zm-6 20h6v6h-6zm-7 20h7v6h-7zm-7 20h7v7h-7zm-6 20h6v7h-6zm-7 13h7v7h-7zm-13 34h6v7h-6zm-7 13h7v7h-7zm-13 20h6v7h-6zm-7 14h7v6h-7zm-20 27h6v6h-6zm-7 6h7v7h-7z"/><path fill="#a4375a" d="M577 29h7v7h-7zm0 7h7v6h-7zm0 6h7v7h-7zm-7 41h7v6h-7zm0 6h7v7h-7zm-6 40h6v7h-6zm0 7h6v7h-6zm0 7h6v7h-6zm-7 33h7v7h-7zm0 7h7v7h-7zm-7 33h7v7h-7zm0 7h7v7h-7zm-6 34h6v6h-6zm0 6h6v7h-6zm-7 27h7v7h-7zm0 7h7v7h-7zm-7 27h7v6h-7zm0 6h7v7h-7zm-6 27h6v7h-6zm0 7h6v7h-6zm-7 27h7v6h-7zm-7 26h7v7h-7zm-7 27h7v7h-7zm-6 20h6v7h-6zm0 7h6v7h-6zm-7 20h7v7h-7zm-7 20h7v7h-7zm-6 20h6v7h-6zm-7 14h7v6h-7zm-7 20h7v6h-7zm-6 13h6v7h-6zm-7 14h7v6h-7zm-7 13h7v7h-7zm-13 20h7v7h-7zm-7 13h7v7h-7zm-7 7h7v7h-7zm-20 27h7v7h-7z"/><path fill="#a63859" d="M577 19h7v3h-7zm0 3h7v7h-7zm-7 40h7v7h-7zm0 7h7v7h-7zm0 7h7v7h-7zm-6 33h6v7h-6zm0 7h6v7h-6zm0 7h6v6h-6zm-7 33h7v7h-7zm0 7h7v7h-7zm0 7h7v6h-7zm-7 33h7v7h-7zm0 7h7v6h-7zm-6 33h6v7h-6zm0 7h6v7h-6zm-7 27h7v6h-7zm0 6h7v7h-7zm-7 34h7v7h-7zm-6 27h6v6h-6zm0 6h6v7h-6zm-7 27h7v7h-7zm0 7h7v7h-7zm-7 20h7v7h-7zm0 7h7v6h-7zm-7 20h7v7h-7zm0 7h7v6h-7zm-6 20h6v6h-6zm-7 20h7v6h-7zm0 6h7v7h-7zm-7 14h7v6h-7zm0 6h7v7h-7zm-6 14h6v7h-6zm0 7h6v6h-6zm-7 13h7v7h-7zm-7 20h7v7h-7zm-6 13h6v7h-6zm-7 14h7v7h-7zm-7 13h7v7h-7zm-6 14h6v6h-6zm-14 20h7v6h-7zm-13 20h6v7h-6zm-7 7h7v6h-7z"/><path fill="#a83958" d="M570 42h7v7h-7zm0 7h7v7h-7zm0 7h7v6h-7zm-6 40h6v7h-6zm0 7h6v6h-6zm-7 40h7v7h-7zm0 7h7v6h-7zm-7 33h7v7h-7zm0 7h7v6h-7zm0 6h7v7h-7zm-6 27h6v7h-6zm0 7h6v7h-6zm0 7h6v6h-6zm-7 26h7v7h-7zm0 7h7v7h-7zm-7 34h7v6h-7zm0 6h7v7h-7zm-6 27h6v7h-6zm-7 27h7v7h-7zm0 7h7v6h-7zm-7 26h7v7h-7zm-7 27h7v7h-7zm-6 20h6v7h-6zm0 7h6v7h-6zm-7 20h7v7h-7zm-7 20h7v7h-7zm-6 20h6v7h-6zm-7 20h7v7h-7zm-7 20h7v7h-7zm-6 14h6v6h-6zm-7 13h7v7h-7zm-7 14h7v6h-7zm-6 13h6v7h-6zm-7 13h7v7h-7zm-14 20h7v7h-7zm-20 27h7v7h-7z"/><path fill="#aa3956" d="M570 22h7v7h-7zm0 7h7v7h-7zm0 7h7v6h-7zm-6 40h6v7h-6zm0 7h6v6h-6zm0 6h6v7h-6zm-7 34h7v6h-7zm0 6h7v7h-7zm0 7h7v7h-7zm-7 34h7v6h-7zm0 6h7v7h-7zm-6 34h6v6h-6zm0 6h6v7h-6zm-7 34h7v7h-7zm0 7h7v6h-7zm-7 33h7v7h-7zm0 7h7v7h-7zm-6 27h6v6h-6zm0 6h6v7h-6zm-7 20h7v7h-7zm0 7h7v7h-7zm-7 27h7v7h-7zm0 7h7v6h-7zm-7 20h7v6h-7zm0 6h7v7h-7zm-6 21h6v6h-6zm-7 26h7v7h-7zm-7 20h7v7h-7zm-6 20h6v7h-6zm-7 21h7v6h-7zm-7 20h7v6h-7zm-6 13h6v7h-6zm-7 13h7v7h-7zm-20 41h7v6h-7zm-7 13h7v7h-7zm-13 20h6v7h-6zm-7 7h7v7h-7z"/><path fill="#ac3a55" d="M570 19h7v3h-7zm-6 37h6v6h-6zm0 6h6v7h-6zm0 7h6v7h-6zm-7 34h7v6h-7zm0 6h7v7h-7zm0 7h7v7h-7zm-7 34h7v6h-7zm0 6h7v7h-7zm0 7h7v7h-7zm-6 33h6v7h-6zm0 7h6v7h-6zm-7 34h7v6h-7zm0 6h7v7h-7zm-7 27h7v7h-7zm0 7h7v6h-7zm0 6h7v7h-7zm-6 27h6v7h-6zm0 7h6v7h-6zm-7 27h7v6h-7zm-7 27h7v6h-7zm0 6h7v7h-7zm-7 27h7v7h-7zm-6 27h6v7h-6zm-7 20h7v7h-7zm0 7h7v6h-7zm-7 20h7v6h-7zm-6 20h6v6h-6zm-7 20h7v7h-7zm-7 20h7v7h-7zm-6 13h6v7h-6zm-14 34h7v7h-7zm-6 13h6v7h-6zm-14 20h7v7h-7zm-7 14h7v6h-7zm-20 27h7v6h-7zm-6 6h6v7h-6z"/><path fill="#ae3a54" d="M564 36h6v6h-6zm0 6h6v7h-6zm0 7h6v7h-6zm-7 40h7v7h-7zm0 7h7v7h-7zm-7 40h7v7h-7zm0 7h7v7h-7zm-6 33h6v7h-6zm0 7h6v7h-6zm0 7h6v6h-6zm-7 26h7v7h-7zm0 7h7v7h-7zm0 7h7v7h-7zm-7 27h7v6h-7zm0 6h7v7h-7zm-6 34h6v7h-6zm0 7h6v6h-6zm-7 26h7v7h-7zm0 7h7v7h-7zm-7 20h7v7h-7zm0 7h7v7h-7zm-7 27h7v6h-7zm0 6h7v7h-7zm-6 20h6v7h-6zm0 7h6v7h-6zm-7 20h7v7h-7zm-7 20h7v7h-7zm0 7h7v7h-7zm-6 20h6v7h-6zm-7 20h7v7h-7zm-7 14h7v6h-7zm0 6h7v7h-7zm-6 14h6v6h-6zm-7 20h7v6h-7zm-7 13h7v7h-7zm-6 14h6v6h-6zm-7 13h7v7h-7zm-14 20h7v7h-7zm-6 13h6v7h-6zm-7 7h7v7h-7z"/><path fill="#b03b53" d="M564 19h6v3h-6zm0 3h6v7h-6zm0 7h6v7h-6zm-7 40h7v7h-7zm0 7h7v7h-7zm0 7h7v6h-7zm-7 33h7v7h-7zm0 7h7v6h-7zm0 6h7v7h-7zm-6 34h6v7h-6zm0 7h6v6h-6zm-7 33h7v7h-7zm0 7h7v6h-7zm-7 33h7v7h-7zm0 7h7v7h-7zm-6 33h6v7h-6zm0 7h6v7h-6zm-7 27h7v7h-7zm0 7h7v6h-7zm-7 26h7v7h-7zm-7 27h7v7h-7zm0 7h7v7h-7zm-6 20h6v7h-6zm0 7h6v6h-6zm-7 20h7v7h-7zm0 7h7v6h-7zm-7 20h7v6h-7zm-6 20h6v6h-6zm0 6h6v7h-6zm-7 14h7v6h-7zm0 6h7v7h-7zm-7 14h7v7h-7zm-6 20h6v7h-6zm-7 20h7v7h-7zm-7 13h7v7h-7zm-6 14h6v7h-6zm-7 13h7v7h-7zm-7 14h7v6h-7zm-13 20h6v6h-6zm-14 20h7v7h-7zm-6 7h6v6h-6z"/><path fill="#b23c52" d="M557 49h7v7h-7zm0 7h7v6h-7zm0 6h7v7h-7zm-7 34h7v7h-7zm0 7h7v6h-7zm0 6h7v7h-7zm-6 34h6v7h-6zm0 7h6v6h-6zm0 6h6v7h-6zm-7 34h7v6h-7zm0 6h7v7h-7zm-7 34h7v7h-7zm0 7h7v6h-7zm-6 33h6v7h-6zm0 7h6v6h-6zm-7 27h7v6h-7zm0 6h7v7h-7zm-7 27h7v7h-7zm0 7h7v6h-7zm-7 20h7v7h-7zm0 7h7v6h-7zm-6 26h6v7h-6zm-7 27h7v7h-7zm-7 27h7v7h-7zm-6 20h6v7h-6zm-7 20h7v7h-7zm-7 20h7v7h-7zm-6 20h6v7h-6zm-7 20h7v7h-7zm-7 14h7v6h-7zm-6 13h6v7h-6zm-7 14h7v6h-7zm-7 13h7v7h-7zm-7 13h7v7h-7zm-13 20h7v7h-7zm-20 27h7v7h-7z"/><path fill="#b43c51" d="M557 29h7v7h-7zm0 7h7v6h-7zm0 6h7v7h-7zm-7 41h7v6h-7zm0 6h7v7h-7zm-6 40h6v7h-6zm0 7h6v7h-6zm-7 34h7v6h-7zm0 6h7v7h-7zm0 7h7v7h-7zm-7 33h7v7h-7zm0 7h7v7h-7zm-6 27h6v7h-6zm0 7h6v6h-6zm0 6h6v7h-6zm-7 27h7v7h-7zm0 7h7v7h-7zm-7 27h7v6h-7zm0 6h7v7h-7zm-7 27h7v7h-7zm-6 27h6v7h-6zm0 7h6v6h-6zm-7 20h7v6h-7zm0 6h7v7h-7zm-7 21h7v6h-7zm0 6h7v7h-7zm-6 20h6v7h-6zm-7 20h7v7h-7zm-7 20h7v7h-7zm-6 21h6v6h-6zm-7 20h7v6h-7zm-7 13h7v7h-7zm-6 13h6v7h-6zm-14 27h7v7h-7zm-7 14h7v6h-7zm-6 13h6v7h-6zm-14 20h7v7h-7zm-6 7h6v7h-6z"/><path fill="#b63d50" d="M557 19h7v3h-7zm0 3h7v7h-7zm-7 40h7v7h-7zm0 7h7v7h-7zm0 7h7v7h-7zm-6 33h6v7h-6zm0 7h6v7h-6zm0 7h6v6h-6zm-7 33h7v7h-7zm0 7h7v7h-7zm-7 33h7v7h-7zm0 7h7v7h-7zm0 7h7v6h-7zm-6 27h6v6h-6zm0 6h6v7h-6zm-7 34h7v6h-7zm0 6h7v7h-7zm-7 27h7v7h-7zm0 7h7v7h-7zm-7 27h7v6h-7zm0 6h7v7h-7zm-6 21h6v6h-6zm0 6h6v7h-6zm-7 27h7v7h-7zm-7 27h7v7h-7zm-6 20h6v7h-6zm0 7h6v6h-6zm-7 20h7v6h-7zm-7 20h7v6h-7zm-6 20h6v7h-6zm-7 20h7v7h-7zm-7 13h7v7h-7zm-6 14h6v6h-6zm-7 20h7v7h-7zm-20 33h6v7h-6zm-7 14h7v6h-7zm-7 6h7v7h-7zm-13 21h7v6h-7zm-7 6h7v7h-7z"/><path fill="#b83d4e" d="M550 42h7v7h-7zm0 7h7v7h-7zm0 7h7v6h-7zm-6 33h6v7h-6zm0 7h6v7h-6zm0 7h6v6h-6zm-7 33h7v7h-7zm0 7h7v7h-7zm0 7h7v6h-7zm-7 33h7v7h-7zm0 7h7v6h-7zm-6 33h6v7h-6zm0 7h6v7h-6zm-7 33h7v7h-7zm0 7h7v7h-7zm-7 27h7v7h-7zm0 7h7v6h-7zm-7 26h7v7h-7zm0 7h7v7h-7zm-6 27h6v7h-6zm-7 27h7v6h-7zm0 6h7v7h-7zm-7 20h7v7h-7zm0 7h7v7h-7zm-6 20h6v7h-6zm-7 20h7v7h-7zm0 7h7v7h-7zm-7 20h7v7h-7zm-6 20h6v7h-6zm-7 14h7v6h-7zm0 6h7v7h-7zm-7 14h7v6h-7zm-13 33h7v7h-7zm-7 14h7v6h-7zm-7 13h7v7h-7zm-13 20h7v7h-7zm-13 20h6v7h-6z"/><path fill="#ba3e4d" d="M550 22h7v7h-7zm0 7h7v7h-7zm0 7h7v6h-7zm-6 40h6v7h-6zm0 7h6v6h-6zm-7 40h7v6h-7zm0 6h7v7h-7zm-7 34h7v7h-7zm0 7h7v6h-7zm0 6h7v7h-7zm-6 34h6v6h-6zm0 6h6v7h-6zm-7 27h7v7h-7zm0 7h7v7h-7zm0 7h7v6h-7zm-7 26h7v7h-7zm0 7h7v7h-7zm-7 27h7v7h-7zm0 7h7v6h-7zm-6 26h6v7h-6zm0 7h6v7h-6zm-7 20h7v7h-7zm0 7h7v7h-7zm-7 20h7v7h-7zm0 7h7v6h-7zm-6 20h6v7h-6zm0 7h6v6h-6zm-7 20h7v6h-7zm-7 20h7v6h-7zm0 6h7v7h-7zm-6 14h6v6h-6zm0 6h6v7h-6zm-7 14h7v7h-7zm-7 20h7v7h-7zm-6 20h6v7h-6zm-7 13h7v7h-7zm-7 14h7v7h-7zm-7 13h7v7h-7zm-6 14h6v6h-6zm-14 20h7v6h-7zm-13 20h7v7h-7zm-7 7h7v6h-7z"/><path fill="#bc3f4c" d="M550 19h7v3h-7zm-6 37h6v6h-6zm0 6h6v7h-6zm0 7h6v7h-6zm-7 34h7v6h-7zm0 6h7v7h-7zm0 7h7v7h-7zm-7 34h7v6h-7zm0 6h7v7h-7zm-6 34h6v6h-6zm0 6h6v7h-6zm0 7h6v7h-6zm-7 27h7v7h-7zm0 7h7v6h-7zm-7 33h7v7h-7zm0 7h7v6h-7zm-7 27h7v6h-7zm0 6h7v7h-7zm-6 27h6v7h-6zm0 7h6v6h-6zm-7 27h7v6h-7zm-7 26h7v7h-7zm-6 27h6v7h-6zm-7 27h7v7h-7zm-7 20h7v7h-7zm-6 20h6v7h-6zm-7 20h7v7h-7zm-7 20h7v7h-7zm-6 20h6v7h-6zm-7 14h7v6h-7zm-7 13h7v7h-7zm-7 14h7v6h-7zm-6 13h6v7h-6zm-7 13h7v7h-7zm-13 20h6v7h-6z"/><path fill="#be3f4b" d="M544 36h6v6h-6zm0 6h6v7h-6zm0 7h6v7h-6zm-7 34h7v6h-7zm0 6h7v7h-7zm0 7h7v7h-7zm-7 33h7v7h-7zm0 7h7v7h-7zm0 7h7v7h-7zm-6 33h6v7h-6zm0 7h6v7h-6zm-7 33h7v7h-7zm0 7h7v7h-7zm-7 34h7v6h-7zm0 6h7v7h-7zm-7 27h7v7h-7zm0 7h7v7h-7zm-6 27h6v6h-6zm0 6h6v7h-6zm-7 27h7v7h-7zm0 7h7v7h-7zm-7 20h7v7h-7zm0 7h7v6h-7zm-6 20h6v6h-6zm0 6h6v7h-6zm-7 21h7v6h-7zm0 6h7v7h-7zm-7 20h7v7h-7zm-6 20h6v7h-6zm-7 20h7v7h-7zm-7 21h7v6h-7zm-6 20h6v6h-6zm-7 13h7v7h-7zm-7 13h7v7h-7zm-7 14h7v7h-7zm-6 13h6v7h-6zm-7 14h7v6h-7zm-7 13h7v7h-7zm-13 20h7v7h-7zm-7 7h7v7h-7z"/><path fill="#c0404a" d="M544 19h6v3h-6zm0 3h6v7h-6zm0 7h6v7h-6zm-7 33h7v7h-7zm0 7h7v7h-7zm0 7h7v7h-7zm-7 40h7v7h-7zm0 7h7v6h-7zm-6 33h6v7h-6zm0 7h6v7h-6zm0 7h6v6h-6zm-7 33h7v7h-7zm0 7h7v6h-7zm-7 27h7v6h-7zm0 6h7v7h-7zm0 7h7v7h-7zm-7 27h7v6h-7zm0 6h7v7h-7zm-6 27h6v7h-6zm0 7h6v7h-6zm-7 27h7v6h-7zm0 6h7v7h-7zm-7 21h7v6h-7zm0 6h7v7h-7zm-6 27h6v7h-6zm-7 27h7v7h-7zm-7 20h7v7h-7zm0 7h7v6h-7zm-6 20h6v6h-6zm-7 20h7v6h-7zm-7 20h7v7h-7zm-6 13h6v7h-6zm0 7h6v7h-6zm-7 13h7v7h-7zm-7 14h7v6h-7zm-27 53h7v7h-7zm-6 14h6v6h-6zm-7 6h7v7h-7zm-13 21h6v6h-6z"/><path fill="#c24049" d="M537 49h7v7h-7zm0 7h7v6h-7zm-7 40h7v7h-7zm0 7h7v6h-7zm0 6h7v7h-7zm-6 34h6v7h-6zm0 7h6v6h-6zm-7 33h7v7h-7zm0 7h7v6h-7zm0 6h7v7h-7zm-7 27h7v7h-7zm0 7h7v7h-7zm-7 33h7v7h-7zm0 7h7v7h-7zm-6 27h6v7h-6zm0 7h6v6h-6zm-7 26h7v7h-7zm0 7h7v7h-7zm-7 27h7v7h-7zm-6 27h6v6h-6zm0 6h6v7h-6zm-7 20h7v7h-7zm0 7h7v7h-7zm-7 20h7v7h-7zm-6 20h6v7h-6zm0 7h6v7h-6zm-7 20h7v7h-7zm-7 20h7v7h-7zm-6 14h6v6h-6zm-7 20h7v6h-7zm-7 13h7v7h-7zm-7 20h7v7h-7zm-6 14h6v6h-6zm-7 13h7v7h-7zm-13 20h6v7h-6zm-14 20h7v7h-7z"/><path fill="#c44148" d="M537 29h7v7h-7zm0 7h7v6h-7zm0 6h7v7h-7zm-7 34h7v7h-7zm0 7h7v6h-7zm0 6h7v7h-7zm-6 34h6v6h-6zm0 6h6v7h-6zm0 7h6v7h-6zm-7 34h7v6h-7zm0 6h7v7h-7zm-7 34h7v6h-7zm0 6h7v7h-7zm-7 34h7v7h-7zm0 7h7v6h-7zm-6 26h6v7h-6zm0 7h6v7h-6zm-7 27h7v7h-7zm0 7h7v6h-7zm-7 26h7v7h-7zm0 7h7v7h-7zm-6 20h6v7h-6zm0 7h6v7h-6zm-7 20h7v7h-7zm0 7h7v6h-7zm-7 20h7v7h-7zm0 7h7v6h-7zm-6 20h6v6h-6zm-7 20h7v6h-7zm0 6h7v7h-7zm-7 14h7v6h-7zm0 6h7v7h-7zm-6 14h6v7h-6zm-7 20h7v7h-7zm-14 33h7v7h-7zm-6 14h6v7h-6zm-7 13h7v7h-7zm-7 14h7v6h-7zm-13 20h7v6h-7zm-13 20h6v7h-6z"/><path fill="#c64147" d="M537 19h7v3h-7zm0 3h7v7h-7zm-7 34h7v6h-7zm0 6h7v7h-7zm0 7h7v7h-7zm-6 40h6v7h-6zm0 7h6v7h-6zm-7 34h7v6h-7zm0 6h7v7h-7zm0 7h7v7h-7zm-7 33h7v7h-7zm0 7h7v7h-7zm-7 34h7v6h-7zm0 6h7v7h-7zm-6 27h6v7h-6zm0 7h6v6h-6zm-7 27h7v6h-7zm0 6h7v7h-7zm-7 27h7v7h-7zm0 7h7v6h-7zm-6 27h6v6h-6zm-7 26h7v7h-7zm-7 27h7v7h-7zm-6 27h6v7h-6zm-7 20h7v7h-7zm-7 20h7v7h-7zm-6 20h6v7h-6zm-7 20h7v7h-7zm-7 20h7v7h-7zm-7 14h7v6h-7zm-6 13h6v7h-6zm-7 14h7v6h-7zm-7 13h7v7h-7zm-6 13h6v7h-6zm-14 20h7v7h-7zm-13 21h7v6h-7z"/><path fill="#c84245" d="M530 36h7v6h-7zm0 6h7v7h-7zm0 7h7v7h-7zm-6 40h6v7h-6zm0 7h6v7h-6zm0 7h6v6h-6zm-7 33h7v7h-7zm0 7h7v7h-7zm-7 33h7v7h-7zm0 7h7v7h-7zm0 7h7v6h-7zm-7 26h7v7h-7zm0 7h7v7h-7zm0 7h7v7h-7zm-6 27h6v6h-6zm0 6h6v7h-6zm-7 27h7v7h-7zm0 7h7v7h-7zm-7 27h7v6h-7zm0 6h7v7h-7zm-6 27h6v7h-6zm0 7h6v7h-6zm-7 20h7v7h-7zm0 7h7v6h-7zm-7 20h7v6h-7zm0 6h7v7h-7zm-6 21h6v6h-6zm0 6h6v7h-6zm-7 20h7v7h-7zm-7 20h7v7h-7zm-6 20h6v7h-6zm-7 21h7v6h-7zm-7 20h7v6h-7zm-7 13h7v7h-7zm-6 13h6v7h-6zm-7 14h7v7h-7zm-7 13h7v7h-7zm-6 14h6v6h-6zm-7 13h7v7h-7zm-13 20h6v7h-6zm-7 7h7v7h-7z"/><path fill="#ca4344" d="M530 22h7v7h-7zm0 7h7v7h-7zm-6 40h6v7h-6zm0 7h6v7h-6zm0 7h6v6h-6zm-7 33h7v7h-7zm0 7h7v6h-7zm0 6h7v7h-7zm-7 34h7v7h-7zm0 7h7v6h-7zm-7 33h7v7h-7zm0 7h7v6h-7zm-6 33h6v7h-6zm0 7h6v7h-6zm-7 27h7v6h-7zm0 6h7v7h-7zm-7 27h7v7h-7zm0 7h7v7h-7zm-6 27h6v6h-6zm0 6h6v7h-6zm-7 27h7v7h-7zm-7 27h7v7h-7zm-6 27h6v7h-6zm-7 20h7v7h-7zm0 7h7v6h-7zm-7 20h7v6h-7zm-6 20h6v6h-6zm-7 20h7v7h-7zm-7 13h7v7h-7zm0 7h7v7h-7zm-7 13h7v7h-7zm-6 14h6v6h-6zm-27 53h7v7h-7zm-7 14h7v6h-7zm-20 27h7v6h-7z"/><path fill="#cb4443" d="M530 19h7v3h-7zm-6 30h6v7h-6zm0 7h6v6h-6zm0 6h6v7h-6zm-7 34h7v7h-7zm0 7h7v6h-7zm0 6h7v7h-7zm-7 34h7v7h-7zm0 7h7v6h-7zm0 6h7v7h-7zm-7 34h7v6h-7zm0 6h7v7h-7zm-6 27h6v7h-6zm0 7h6v7h-6zm0 7h6v6h-6zm-7 26h7v7h-7zm0 7h7v7h-7zm-7 27h7v7h-7zm0 7h7v6h-7zm-6 26h6v7h-6zm0 7h6v7h-6zm-7 27h7v7h-7zm0 7h7v6h-7zm-7 20h7v6h-7zm0 6h7v7h-7zm-6 20h6v7h-6zm0 7h6v7h-6zm-7 20h7v7h-7zm-7 20h7v7h-7zm0 7h7v7h-7zm-6 20h6v7h-6zm-7 20h7v7h-7zm-7 14h7v6h-7zm-7 20h7v6h-7zm-6 13h6v7h-6zm-7 20h7v7h-7zm-7 14h7v6h-7zm-6 13h6v7h-6zm-14 20h7v7h-7zm-6 13h6v7h-6zm-7 7h7v7h-7z"/><path fill="#cb4542" d="M524 29h6v7h-6zm0 7h6v6h-6zm0 6h6v7h-6zm-7 41h7v6h-7zm0 6h7v7h-7zm-7 40h7v7h-7zm0 7h7v7h-7zm-7 34h7v6h-7zm0 6h7v7h-7zm0 7h7v7h-7zm-6 27h6v6h-6zm0 6h6v7h-6zm-7 34h7v7h-7zm0 7h7v6h-7zm-7 26h7v7h-7zm0 7h7v7h-7zm-6 27h6v7h-6zm0 7h6v6h-6zm-7 26h7v7h-7zm0 7h7v7h-7zm-7 20h7v7h-7zm0 7h7v7h-7zm-6 27h6v6h-6zm-7 20h7v7h-7zm0 7h7v6h-7zm-7 20h7v6h-7zm-6 20h6v6h-6zm0 6h6v7h-6zm-7 14h7v6h-7zm0 6h7v7h-7zm-7 14h7v7h-7zm-7 20h7v7h-7zm-6 13h6v7h-6zm-7 20h7v7h-7zm-7 14h7v7h-7zm-6 13h6v7h-6zm-7 14h7v6h-7zm-13 20h6v6h-6zm-14 20h7v7h-7z"/><path fill="#cc4641" d="M524 19h6v3h-6zm0 3h6v7h-6zm-7 40h7v7h-7zm0 7h7v7h-7zm0 7h7v7h-7zm-7 33h7v7h-7zm0 7h7v7h-7zm0 7h7v6h-7zm-7 33h7v7h-7zm0 7h7v7h-7zm-6 33h6v7h-6zm0 7h6v7h-6zm-7 34h7v6h-7zm0 6h7v7h-7zm-7 27h7v7h-7zm0 7h7v6h-7zm-6 27h6v6h-6zm0 6h6v7h-6zm-7 27h7v7h-7zm0 7h7v6h-7zm-7 27h7v6h-7zm-6 26h6v7h-6zm0 7h6v7h-6zm-7 20h7v7h-7zm-7 27h7v7h-7zm-6 20h6v7h-6zm-7 20h7v7h-7zm-7 20h7v7h-7zm-7 20h7v7h-7zm-13 34h7v6h-7zm-7 13h7v7h-7zm-6 14h6v6h-6zm-7 13h7v7h-7zm-7 13h7v7h-7zm-13 20h7v7h-7z"/><path fill="#cd4740" d="M517 42h7v7h-7zm0 7h7v7h-7zm0 7h7v6h-7zm-7 33h7v7h-7zm0 7h7v7h-7zm0 7h7v6h-7zm-7 33h7v7h-7zm0 7h7v7h-7zm0 7h7v6h-7zm-6 26h6v7h-6zm0 7h6v7h-6zm0 7h6v6h-6zm-7 26h7v7h-7zm0 7h7v7h-7zm0 7h7v7h-7zm-7 27h7v6h-7zm0 6h7v7h-7zm-6 27h6v7h-6zm0 7h6v7h-6zm-7 27h7v6h-7zm0 6h7v7h-7zm-7 27h7v7h-7zm0 7h7v7h-7zm-6 20h6v7h-6zm0 7h6v6h-6zm-7 20h7v6h-7zm0 6h7v7h-7zm-7 21h7v6h-7zm0 6h7v7h-7zm-6 20h6v7h-6zm-7 20h7v7h-7zm-7 20h7v7h-7zm-7 21h7v6h-7zm-6 13h6v7h-6zm0 7h6v6h-6zm-7 13h7v7h-7zm-7 13h7v7h-7zm-6 14h6v7h-6zm-7 13h7v7h-7zm-7 14h7v6h-7zm-6 13h6v7h-6zm-14 20h7v7h-7z"/><path fill="#ce473f" d="M517 22h7v7h-7zm0 7h7v7h-7zm0 7h7v6h-7zm-7 33h7v7h-7zm0 7h7v7h-7zm0 7h7v6h-7zm-7 33h7v7h-7zm0 7h7v6h-7zm0 6h7v7h-7zm-6 34h6v7h-6zm0 7h6v6h-6zm-7 33h7v7h-7zm0 7h7v6h-7zm-7 33h7v7h-7zm0 7h7v7h-7zm-6 27h6v6h-6zm0 6h6v7h-6zm-7 27h7v7h-7zm0 7h7v7h-7zm-7 27h7v6h-7zm0 6h7v7h-7zm-6 27h6v7h-6zm-7 27h7v7h-7zm-7 27h7v7h-7zm-6 20h6v7h-6zm0 7h6v6h-6zm-7 20h7v6h-7zm-7 20h7v6h-7zm-7 20h7v7h-7zm-6 13h6v7h-6zm-7 20h7v7h-7zm-7 14h7v6h-7zm-26 53h6v7h-6zm-7 14h7v6h-7zm-14 20h7v7h-7z"/><path fill="#cf483e" d="M517 19h7v3h-7zm-7 37h7v6h-7zm0 6h7v7h-7zm-7 41h7v6h-7zm0 6h7v7h-7zm-6 34h6v7h-6zm0 7h6v6h-6zm0 6h6v7h-6zm-7 34h7v6h-7zm0 6h7v7h-7zm-7 34h7v7h-7zm0 7h7v6h-7zm-6 26h6v7h-6zm0 7h6v7h-6zm-7 27h7v7h-7zm0 7h7v6h-7zm-7 26h7v7h-7zm0 7h7v7h-7zm-6 27h6v7h-6zm0 7h6v6h-6zm-7 20h7v6h-7zm0 6h7v7h-7zm-7 20h7v7h-7zm0 7h7v7h-7zm-6 20h6v7h-6zm-7 20h7v7h-7zm0 7h7v7h-7zm-7 20h7v7h-7zm-7 20h7v7h-7zm-6 14h6v6h-6zm-7 20h7v6h-7zm-7 13h7v7h-7zm-6 20h6v7h-6zm-7 14h7v6h-7zm-7 13h7v7h-7zm-13 20h7v7h-7zm-7 13h7v7h-7z"/><path fill="#d0493d" d="M510 36h7v6h-7zm0 6h7v7h-7zm0 7h7v7h-7zm-7 34h7v6h-7zm0 6h7v7h-7zm0 7h7v7h-7zm-6 33h6v7h-6zm0 7h6v7h-6zm-7 34h7v6h-7zm0 6h7v7h-7zm0 7h7v7h-7zm-7 27h7v6h-7zm0 6h7v7h-7zm0 7h7v7h-7zm-6 27h6v7h-6zm0 7h6v6h-6zm-7 26h7v7h-7zm0 7h7v7h-7zm-7 27h7v7h-7zm0 7h7v6h-7zm-6 26h6v7h-6zm0 7h6v7h-6zm-7 20h7v7h-7zm0 7h7v7h-7zm-7 27h7v6h-7zm-6 20h6v7h-6zm0 7h6v6h-6zm-7 20h7v6h-7zm-7 20h7v6h-7zm0 6h7v7h-7zm-7 14h7v6h-7zm0 6h7v7h-7zm-6 14h6v7h-6zm-7 20h7v7h-7zm-13 33h6v7h-6zm-7 14h7v7h-7zm-7 13h7v7h-7zm-6 14h6v6h-6zm-14 20h7v6h-7zm-7 13h7v7h-7zm-6 7h6v7h-6z"/><path fill="#d14a3c" d="M510 19h7v3h-7zm0 3h7v7h-7zm0 7h7v7h-7zm-7 33h7v7h-7zm0 7h7v7h-7zm0 7h7v7h-7zm-6 33h6v7h-6zm0 7h6v7h-6zm0 7h6v6h-6zm-7 33h7v7h-7zm0 7h7v7h-7zm-7 33h7v7h-7zm0 7h7v7h-7zm-6 34h6v6h-6zm0 6h6v7h-6zm-7 27h7v7h-7zm0 7h7v6h-7zm-7 27h7v6h-7zm0 6h7v7h-7zm-6 27h6v7h-6zm0 7h6v6h-6zm-7 27h7v6h-7zm-7 26h7v7h-7zm0 7h7v7h-7zm-6 20h6v7h-6zm-7 27h7v7h-7zm-7 20h7v7h-7zm-7 20h7v7h-7zm-6 20h6v7h-6zm-7 20h7v7h-7zm-7 20h7v7h-7zm-6 14h6v6h-6zm-7 13h7v7h-7zm-7 14h7v6h-7zm-6 13h6v7h-6zm-7 13h7v7h-7zm-14 20h7v7h-7z"/><path fill="#d24b3b" d="M503 42h7v7h-7zm0 7h7v7h-7zm0 7h7v6h-7zm-6 40h6v7h-6zm0 7h6v6h-6zm-7 33h7v7h-7zm0 7h7v7h-7zm0 7h7v6h-7zm-7 33h7v7h-7zm0 7h7v6h-7zm-6 33h6v7h-6zm0 7h6v7h-6zm-7 27h7v6h-7zm0 6h7v7h-7zm-7 27h7v7h-7zm0 7h7v7h-7zm-6 27h6v6h-6zm0 6h6v7h-6zm-7 27h7v7h-7zm0 7h7v7h-7zm-7 20h7v7h-7zm0 7h7v6h-7zm-6 20h6v6h-6zm0 6h6v7h-6zm-7 21h7v6h-7zm0 6h7v7h-7zm-7 20h7v7h-7zm-7 20h7v7h-7zm-6 20h6v7h-6zm-7 21h7v6h-7zm-7 20h7v6h-7zm-6 13h6v7h-6zm-7 13h7v7h-7zm-7 14h7v7h-7zm-13 27h7v6h-7zm-7 13h7v7h-7zm-13 20h6v7h-6z"/><path fill="#d34c3a" d="M503 22h7v7h-7zm0 7h7v7h-7zm0 7h7v6h-7zm-6 40h6v7h-6zm0 7h6v6h-6zm0 6h6v7h-6zm-7 34h7v6h-7zm0 6h7v7h-7zm-7 34h7v7h-7zm0 7h7v6h-7zm0 6h7v7h-7zm-6 27h6v7h-6zm0 7h6v6h-6zm0 6h6v7h-6zm-7 27h7v7h-7zm0 7h7v7h-7zm-7 27h7v6h-7zm0 6h7v7h-7zm-6 27h6v7h-6zm0 7h6v7h-6zm-7 27h7v6h-7zm0 6h7v7h-7zm-7 27h7v7h-7zm-6 27h6v7h-6zm-7 27h7v7h-7zm-7 20h7v7h-7zm0 7h7v6h-7zm-7 20h7v6h-7zm-6 20h6v6h-6zm-7 20h7v7h-7zm-7 13h7v7h-7zm0 7h7v7h-7zm-6 13h6v7h-6zm-7 14h7v6h-7zm-13 33h6v7h-6zm-14 20h7v7h-7zm-7 14h7v6h-7zm-13 20h7v7h-7z"/><path fill="#d44d39" d="M503 19h7v3h-7zm-6 37h6v6h-6zm0 6h6v7h-6zm0 7h6v7h-6zm-7 34h7v6h-7zm0 6h7v7h-7zm0 7h7v7h-7zm-7 34h7v6h-7zm0 6h7v7h-7zm-6 34h6v6h-6zm0 6h6v7h-6zm-7 34h7v7h-7zm0 7h7v6h-7zm-7 26h7v7h-7zm0 7h7v7h-7zm-6 27h6v7h-6zm0 7h6v6h-6zm-7 26h7v7h-7zm0 7h7v7h-7zm-7 27h7v7h-7zm0 7h7v6h-7zm-6 20h6v6h-6zm0 6h6v7h-6zm-7 20h7v7h-7zm0 7h7v7h-7zm-7 20h7v7h-7zm-7 20h7v7h-7zm0 7h7v7h-7zm-6 20h6v7h-6zm-7 20h7v7h-7zm-7 14h7v6h-7zm-6 20h6v6h-6zm-14 33h7v7h-7zm-6 14h6v6h-6zm-7 13h7v7h-7zm-20 33h6v7h-6z"/><path fill="#d54e38" d="M497 36h6v6h-6zm0 6h6v7h-6zm0 7h6v7h-6zm-7 34h7v6h-7zm0 6h7v7h-7zm0 7h7v7h-7zm-7 33h7v7h-7zm0 7h7v7h-7zm0 7h7v7h-7zm-6 33h6v7h-6zm0 7h6v7h-6zm-7 33h7v7h-7zm0 7h7v7h-7zm-7 27h7v7h-7zm0 7h7v6h-7zm-6 26h6v7h-6zm0 7h6v7h-6zm-7 27h7v7h-7zm0 7h7v6h-7zm-7 26h7v7h-7zm0 7h7v7h-7zm-6 20h6v7h-6zm0 7h6v7h-6zm-7 27h7v6h-7zm-7 20h7v7h-7zm0 7h7v6h-7zm-7 20h7v6h-7zm-6 20h6v6h-6zm0 6h6v7h-6zm-7 14h7v6h-7zm0 6h7v7h-7zm-7 14h7v7h-7zm-6 20h6v7h-6zm-7 20h7v7h-7zm-7 13h7v7h-7zm-6 14h6v7h-6zm-7 13h7v7h-7zm-7 14h7v6h-7zm-7 13h7v7h-7zm-13 20h7v7h-7z"/><path fill="#d64f37" d="M497 19h6v3h-6zm0 3h6v7h-6zm0 7h6v7h-6zm-7 40h7v7h-7zm0 7h7v7h-7zm-7 33h7v7h-7zm0 7h7v7h-7zm0 7h7v6h-7zm-6 33h6v7h-6zm0 7h6v7h-6zm0 7h6v6h-6zm-7 26h7v7h-7zm0 7h7v7h-7zm0 7h7v6h-7zm-7 27h7v6h-7zm0 6h7v7h-7zm-6 27h6v7h-6zm0 7h6v6h-6zm-7 27h7v6h-7zm0 6h7v7h-7zm-7 27h7v7h-7zm0 7h7v6h-7zm-6 27h6v6h-6zm-7 26h7v7h-7zm0 7h7v7h-7zm-7 20h7v7h-7zm-7 27h7v7h-7zm-6 20h6v7h-6zm-7 20h7v7h-7zm-7 20h7v7h-7zm-6 20h6v7h-6zm-7 20h7v7h-7zm-7 14h7v6h-7zm-6 13h6v7h-6zm-7 14h7v6h-7zm-7 13h7v7h-7zm-7 13h7v7h-7zm-6 14h6v6h-6z"/><path fill="#d65036" d="M490 49h7v7h-7zm0 7h7v6h-7zm0 6h7v7h-7zm-7 34h7v7h-7zm0 7h7v6h-7zm-6 40h6v7h-6zm0 7h6v6h-6zm-7 33h7v7h-7zm0 7h7v6h-7zm-7 33h7v7h-7zm0 7h7v7h-7zm-6 27h6v6h-6zm0 6h6v7h-6zm-7 34h7v7h-7zm-7 27h7v6h-7zm0 6h7v7h-7zm-6 27h6v7h-6zm0 7h6v7h-6zm-7 20h7v7h-7zm0 7h7v6h-7zm-7 20h7v6h-7zm0 6h7v7h-7zm-7 21h7v6h-7zm0 6h7v7h-7zm-6 20h6v7h-6zm-7 20h7v7h-7zm-7 20h7v7h-7zm-6 21h6v6h-6zm-7 20h7v6h-7zm-7 13h7v7h-7zm-6 13h6v7h-6zm-27 54h6v7h-6zm-7 13h7v7h-7zm-7 7h7v7h-7z"/><path fill="#d75135" d="M490 29h7v7h-7zm0 7h7v6h-7zm0 6h7v7h-7zm-7 34h7v7h-7zm0 7h7v6h-7zm0 6h7v7h-7zm-6 34h6v6h-6zm0 6h6v7h-6zm0 7h6v7h-6zm-7 27h7v7h-7zm0 7h7v6h-7zm0 6h7v7h-7zm-7 27h7v7h-7zm0 7h7v6h-7zm0 6h7v7h-7zm-6 27h6v7h-6zm0 7h6v7h-6zm-7 27h7v6h-7zm0 6h7v7h-7zm0 7h7v7h-7zm-7 20h7v7h-7zm0 7h7v7h-7zm-6 27h6v6h-6zm0 6h6v7h-6zm-7 27h7v7h-7zm-7 27h7v7h-7zm-7 27h7v7h-7zm-6 20h6v7h-6zm0 7h6v6h-6zm-7 20h7v6h-7zm-7 20h7v6h-7zm-6 20h6v7h-6zm-7 20h7v7h-7zm-7 13h7v7h-7zm-13 34h7v7h-7zm-7 13h7v7h-7zm-7 14h7v6h-7zm-13 20h7v6h-7z"/><path fill="#d85233" d="M490 19h7v3h-7zm0 3h7v7h-7zm-7 34h7v6h-7zm0 6h7v7h-7zm0 7h7v7h-7zm-6 34h6v6h-6zm0 6h6v7h-6zm0 7h6v7h-6zm-7 34h7v6h-7zm0 6h7v7h-7zm-7 34h7v6h-7zm0 6h7v7h-7zm-6 34h6v7h-6zm0 7h6v6h-6zm-7 26h7v7h-7zm0 7h7v7h-7zm-7 34h7v6h-7zm-6 26h6v7h-6zm0 7h6v7h-6zm-7 27h7v7h-7zm0 7h7v6h-7zm-7 20h7v6h-7zm0 6h7v7h-7zm-7 20h7v7h-7zm0 7h7v7h-7zm-6 20h6v7h-6zm-7 20h7v7h-7zm0 7h7v7h-7zm-7 20h7v7h-7zm-6 20h6v7h-6zm-7 14h7v6h-7zm0 6h7v7h-7zm-7 14h7v6h-7zm-6 20h6v6h-6zm-7 13h7v7h-7zm-7 14h7v6h-7zm-7 13h7v7h-7zm-6 13h6v7h-6zm-14 20h7v7h-7z"/><path fill="#d95232" d="M483 36h7v6h-7zm0 6h7v7h-7zm0 7h7v7h-7zm-6 40h6v7h-6zm0 7h6v7h-6zm-7 33h7v7h-7zm0 7h7v7h-7zm0 7h7v7h-7zm-7 33h7v7h-7zm0 7h7v7h-7zm-6 33h6v7h-6zm0 7h6v7h-6zm-7 27h7v7h-7zm0 7h7v6h-7zm-7 33h7v7h-7zm0 7h7v7h-7zm-6 20h6v7h-6zm0 7h6v6h-6zm-7 26h7v7h-7zm0 7h7v7h-7zm-7 20h7v7h-7zm0 7h7v7h-7zm-7 27h7v6h-7zm-6 20h6v7h-6zm0 7h6v6h-6zm-7 20h7v6h-7zm-7 20h7v6h-7zm0 6h7v7h-7zm-6 14h6v6h-6zm0 6h6v7h-6zm-7 14h7v7h-7zm-7 20h7v7h-7zm-6 20h6v7h-6zm-7 13h7v7h-7zm-7 14h7v7h-7zm-7 13h7v7h-7zm-6 14h6v6h-6zm-7 13h7v7h-7zm-13 20h6v7h-6z"/><path fill="#da5331" d="M483 19h7v3h-7zm0 3h7v7h-7zm0 7h7v7h-7zm-6 40h6v7h-6zm0 7h6v7h-6zm0 7h6v6h-6zm-7 33h7v7h-7zm0 7h7v6h-7zm-7 33h7v7h-7zm0 7h7v7h-7zm0 7h7v6h-7zm-6 26h6v7h-6zm0 7h6v7h-6zm0 7h6v6h-6zm-7 27h7v6h-7zm0 6h7v7h-7zm-7 27h7v7h-7zm0 7h7v6h-7zm0 6h7v7h-7zm-6 27h6v7h-6zm-7 27h7v7h-7zm0 7h7v6h-7zm-7 27h7v6h-7zm-7 26h7v7h-7zm0 7h7v7h-7zm-6 20h6v7h-6zm-7 27h7v7h-7zm-7 20h7v7h-7zm-6 20h6v7h-6zm-7 20h7v7h-7zm-7 20h7v7h-7zm-6 20h6v7h-6zm-7 14h7v6h-7zm-7 13h7v7h-7zm-20 40h7v7h-7zm-7 14h7v6h-7z"/><path fill="#db5430" d="M477 49h6v7h-6zm0 7h6v6h-6zm0 6h6v7h-6zm-7 34h7v7h-7zm0 7h7v6h-7zm0 6h7v7h-7zm-7 34h7v7h-7zm0 7h7v6h-7zm-6 33h6v7h-6zm0 7h6v6h-6zm-7 33h7v7h-7zm0 7h7v7h-7zm-7 27h7v6h-7zm0 6h7v7h-7zm-6 34h6v7h-6zm0 7h6v6h-6zm-7 20h7v6h-7zm0 6h7v7h-7zm-7 27h7v7h-7zm0 7h7v7h-7zm-7 20h7v7h-7zm0 7h7v6h-7zm-6 20h6v6h-6zm0 6h6v7h-6zm-7 21h7v6h-7zm0 6h7v7h-7zm-7 20h7v7h-7zm-6 20h6v7h-6zm-7 20h7v7h-7zm-7 21h7v6h-7zm-6 20h6v6h-6zm-7 13h7v7h-7zm-14 34h7v6h-7zm-6 13h6v7h-6zm-20 33h6v7h-6z"/><path fill="#dc552f" d="M477 29h6v7h-6zm0 7h6v6h-6zm0 6h6v7h-6zm-7 34h7v7h-7zm0 7h7v6h-7zm0 6h7v7h-7zm-7 34h7v6h-7zm0 6h7v7h-7zm0 7h7v7h-7zm-6 27h6v7h-6zm0 7h6v6h-6zm0 6h6v7h-6zm-7 34h7v6h-7zm0 6h7v7h-7zm-7 27h7v7h-7zm0 7h7v7h-7zm-6 33h6v7h-6zm0 7h6v7h-6zm-7 27h7v7h-7zm-7 27h7v6h-7zm0 6h7v7h-7zm-7 27h7v7h-7zm-6 27h6v7h-6zm-7 27h7v7h-7zm-7 20h7v7h-7zm0 7h7v6h-7zm-6 20h6v6h-6zm-7 20h7v6h-7zm-7 20h7v7h-7zm-6 20h6v7h-6zm-7 13h7v7h-7zm-7 20h7v7h-7zm-7 14h7v7h-7zm-6 13h6v7h-6zm-7 14h7v6h-7zm-7 13h7v7h-7z"/><path fill="#dd562e" d="M477 19h6v3h-6zm0 3h6v7h-6zm-7 34h7v6h-7zm0 6h7v7h-7zm0 7h7v7h-7zm-7 34h7v6h-7zm0 6h7v7h-7zm0 7h7v7h-7zm-6 34h6v6h-6zm0 6h6v7h-6zm-7 34h7v6h-7zm0 6h7v7h-7zm0 7h7v7h-7zm-7 27h7v7h-7zm0 7h7v6h-7zm-6 26h6v7h-6zm0 7h6v7h-6zm0 7h6v6h-6zm-7 27h7v6h-7zm0 6h7v7h-7zm-7 20h7v7h-7zm0 7h7v7h-7zm-7 27h7v7h-7zm0 7h7v6h-7zm-6 20h6v6h-6zm0 6h6v7h-6zm-7 20h7v7h-7zm0 7h7v7h-7zm-7 20h7v7h-7zm-6 20h6v7h-6zm0 7h6v7h-6zm-7 20h7v7h-7zm-7 20h7v7h-7zm-6 20h6v7h-6zm-7 14h7v6h-7zm-7 20h7v6h-7zm-7 13h7v7h-7zm-6 14h6v6h-6zm-7 13h7v7h-7zm-7 13h7v7h-7zm-6 14h6v6h-6z"/><path fill="#de572d" d="M470 42h7v7h-7zm0 7h7v7h-7zm-7 40h7v7h-7zm0 7h7v7h-7zm-6 33h6v7h-6zm0 7h6v7h-6zm0 7h6v7h-6zm-7 33h7v7h-7zm0 7h7v7h-7zm-7 33h7v7h-7zm0 7h7v7h-7zm-6 27h6v7h-6zm0 7h6v6h-6zm-7 33h7v7h-7zm0 7h7v7h-7zm-7 27h7v6h-7zm-7 26h7v7h-7zm0 7h7v7h-7zm-6 27h6v7h-6zm-7 27h7v6h-7zm-7 20h7v7h-7zm0 7h7v6h-7zm-6 20h6v6h-6zm-7 20h7v6h-7zm0 6h7v7h-7zm-7 20h7v7h-7zm-6 14h6v7h-6zm0 7h6v6h-6zm-7 13h7v7h-7zm-7 20h7v7h-7zm-7 13h7v7h-7zm-6 14h6v7h-6zm-20 40h6v7h-6zm-7 13h7v7h-7z"/><path fill="#df582c" d="M470 22h7v7h-7zm0 7h7v7h-7zm0 7h7v6h-7zm-7 33h7v7h-7zm0 7h7v7h-7zm0 7h7v6h-7zm-6 33h6v7h-6zm0 7h6v6h-6zm-7 33h7v7h-7zm0 7h7v7h-7zm0 7h7v6h-7zm-7 26h7v7h-7zm0 7h7v7h-7zm0 7h7v6h-7zm-6 27h6v6h-6zm0 6h6v7h-6zm-7 34h7v6h-7zm0 6h7v7h-7zm-7 27h7v7h-7zm0 7h7v7h-7zm-7 20h7v7h-7zm0 7h7v6h-7zm-6 27h6v6h-6zm0 6h6v7h-6zm-7 20h7v7h-7zm0 7h7v7h-7zm-7 20h7v7h-7zm-6 27h6v7h-6zm-7 20h7v7h-7zm-7 20h7v7h-7zm0 7h7v6h-7zm-6 13h6v7h-6zm-7 20h7v7h-7zm-7 20h7v7h-7zm-7 14h7v6h-7zm-13 33h7v7h-7zm-7 14h7v6h-7zm-13 20h7v6h-7z"/><path fill="#e0592b" d="M470 19h7v3h-7zm-7 30h7v7h-7zm0 7h7v6h-7zm0 6h7v7h-7zm-6 34h6v7h-6zm0 7h6v6h-6zm0 6h6v7h-6zm-7 34h7v7h-7zm0 7h7v6h-7zm-7 33h7v7h-7zm0 7h7v6h-7zm-6 33h6v7h-6zm0 7h6v7h-6zm-7 27h7v6h-7zm0 6h7v7h-7zm0 7h7v7h-7zm-7 27h7v7h-7zm0 7h7v6h-7zm-7 20h7v6h-7zm0 6h7v7h-7zm-6 27h6v7h-6zm0 7h6v7h-6zm-7 20h7v7h-7zm0 7h7v6h-7zm-7 20h7v6h-7zm0 6h7v7h-7zm-6 21h6v6h-6zm0 6h6v7h-6zm-7 20h7v7h-7zm-7 20h7v7h-7zm-6 20h6v7h-6zm-7 21h7v6h-7zm-7 20h7v6h-7zm-7 13h7v7h-7zm-6 20h6v7h-6zm-7 14h7v6h-7zm-7 13h7v7h-7zm-6 13h6v7h-6zm-14 20h7v7h-7z"/><path fill="#e15a2a" d="M463 29h7v7h-7zm0 7h7v6h-7zm0 6h7v7h-7zm-6 34h6v7h-6zm0 7h6v6h-6zm0 6h6v7h-6zm-7 34h7v6h-7zm0 6h7v7h-7zm0 7h7v7h-7zm-7 34h7v6h-7zm0 6h7v7h-7zm-6 34h6v6h-6zm0 6h6v7h-6zm-7 27h7v7h-7zm0 7h7v7h-7zm-7 33h7v7h-7zm0 7h7v7h-7zm-7 27h7v7h-7zm-6 27h6v6h-6zm0 6h6v7h-6zm-7 27h7v7h-7zm-7 27h7v7h-7zm-6 27h6v7h-6zm-7 20h7v7h-7zm0 7h7v6h-7zm-7 20h7v6h-7zm-6 20h6v6h-6zm-7 20h7v7h-7zm-7 20h7v7h-7zm-7 13h7v7h-7zm-6 20h6v7h-6zm-7 14h7v7h-7zm-7 13h7v7h-7zm-6 14h6v6h-6zm-7 13h7v7h-7z"/><path fill="#e15b29" d="M463 19h7v3h-7zm0 3h7v7h-7zm-6 40h6v7h-6zm0 7h6v7h-6zm-7 40h7v7h-7zm0 7h7v7h-7zm-7 34h7v6h-7zm0 6h7v7h-7zm0 7h7v7h-7zm-6 27h6v6h-6zm0 6h6v7h-6zm0 7h6v7h-6zm-7 27h7v7h-7zm0 7h7v6h-7zm-7 33h7v7h-7zm0 7h7v6h-7zm-7 27h7v6h-7zm0 6h7v7h-7zm-6 20h6v7h-6zm0 7h6v7h-6zm-7 27h7v7h-7zm0 7h7v6h-7zm-7 20h7v6h-7zm0 6h7v7h-7zm-6 20h6v7h-6zm0 7h6v7h-6zm-7 20h7v7h-7zm-7 27h7v7h-7zm-6 20h6v7h-6zm-7 20h7v7h-7zm-7 20h7v7h-7zm-7 14h7v6h-7zm-6 20h6v6h-6zm-7 13h7v7h-7zm-27 54h7v6h-7z"/><path fill="#e25c28" d="M457 42h6v7h-6zm0 7h6v7h-6zm0 7h6v6h-6zm-7 33h7v7h-7zm0 7h7v7h-7zm0 7h7v6h-7zm-7 33h7v7h-7zm0 7h7v7h-7zm-6 33h6v7h-6zm0 7h6v7h-6zm-7 33h7v7h-7zm0 7h7v7h-7zm-7 27h7v7h-7zm0 7h7v6h-7zm0 6h7v7h-7zm-7 27h7v7h-7zm0 7h7v7h-7zm-6 27h6v6h-6zm-7 26h7v7h-7zm0 7h7v7h-7zm-7 27h7v7h-7zm-6 27h6v6h-6zm-7 27h7v6h-7zm-7 20h7v6h-7zm0 6h7v7h-7zm-6 20h6v7h-6zm-7 20h7v7h-7zm-7 21h7v6h-7zm-7 13h7v7h-7zm-6 20h6v7h-6zm-7 13h7v7h-7zm-7 21h7v6h-7zm-6 13h6v7h-6zm-7 13h7v7h-7z"/><path fill="#e35d27" d="M457 22h6v7h-6zm0 7h6v7h-6zm0 7h6v6h-6zm-7 33h7v7h-7zm0 7h7v7h-7zm0 7h7v6h-7zm-7 33h7v7h-7zm0 7h7v6h-7zm0 6h7v7h-7zm-6 27h6v7h-6zm0 7h6v7h-6zm0 7h6v6h-6zm-7 26h7v7h-7zm0 7h7v7h-7zm0 7h7v6h-7zm-7 27h7v6h-7zm0 6h7v7h-7zm-7 34h7v6h-7zm0 6h7v7h-7zm-6 27h6v7h-6zm0 7h6v7h-6zm-7 20h7v7h-7zm0 7h7v6h-7zm-7 27h7v6h-7zm0 6h7v7h-7zm-6 20h6v7h-6zm0 7h6v7h-6zm-7 20h7v7h-7zm0 7h7v7h-7zm-7 20h7v7h-7zm-6 20h6v7h-6zm0 7h6v6h-6zm-7 20h7v6h-7zm-7 20h7v7h-7zm-7 13h7v7h-7zm-6 20h6v7h-6zm-14 34h7v7h-7zm-6 13h6v7h-6zm-7 14h7v6h-7zm-7 13h7v7h-7z"/><path fill="#e45e26" d="M457 19h6v3h-6zm-7 30h7v7h-7zm0 7h7v6h-7zm0 6h7v7h-7zm-7 34h7v7h-7zm0 7h7v6h-7zm0 6h7v7h-7zm-6 34h6v7h-6zm0 7h6v6h-6zm-7 33h7v7h-7zm0 7h7v6h-7zm-7 33h7v7h-7zm0 7h7v7h-7zm-7 27h7v6h-7zm0 6h7v7h-7zm0 7h7v7h-7zm-6 27h6v7h-6zm0 7h6v6h-6zm-7 26h7v7h-7zm-7 27h7v7h-7zm0 7h7v7h-7zm-6 27h6v6h-6zm-7 26h7v7h-7zm-7 21h7v6h-7zm0 6h7v7h-7zm-6 20h6v7h-6zm-7 20h7v7h-7zm0 7h7v7h-7zm-7 13h7v7h-7zm0 7h7v7h-7zm-7 14h7v6h-7zm-6 20h6v6h-6zm-7 20h7v6h-7zm-7 13h7v7h-7zm-6 14h6v6h-6zm-7 13h7v7h-7zm-7 13h7v7h-7zm-6 14h6v6h-6z"/><path fill="#e55e25" d="M450 29h7v7h-7zm0 7h7v6h-7zm0 6h7v7h-7zm-7 34h7v7h-7zm0 7h7v6h-7zm0 6h7v7h-7zm-6 34h6v6h-6zm0 6h6v7h-6zm0 7h6v7h-6zm-7 34h7v6h-7zm0 6h7v7h-7zm-7 34h7v6h-7zm0 6h7v7h-7zm-7 27h7v7h-7zm0 7h7v7h-7zm-6 33h6v7h-6zm0 7h6v7h-6zm-7 27h7v7h-7zm0 7h7v6h-7zm-7 20h7v6h-7zm0 6h7v7h-7zm-6 27h6v7h-6zm0 7h6v7h-6zm-7 20h7v7h-7zm0 7h7v6h-7zm-7 20h7v7h-7zm-6 27h6v6h-6zm-7 20h7v6h-7zm-7 20h7v6h-7zm-7 20h7v7h-7zm-6 20h6v7h-6zm-7 20h7v7h-7zm-7 13h7v7h-7z"/><path fill="#e65f24" d="M450 19h7v3h-7zm0 3h7v7h-7zm-7 40h7v7h-7zm0 7h7v7h-7zm-6 40h6v7h-6zm0 7h6v7h-6zm-7 34h7v6h-7zm0 6h7v7h-7zm0 7h7v7h-7zm-7 27h7v6h-7zm0 6h7v7h-7zm0 7h7v7h-7zm-7 27h7v7h-7zm0 7h7v6h-7zm-6 33h6v7h-6zm0 7h6v6h-6zm-7 27h7v6h-7zm0 6h7v7h-7zm-7 27h7v7h-7zm-6 27h6v7h-6zm0 7h6v6h-6zm-7 20h7v6h-7zm0 6h7v7h-7zm-7 20h7v7h-7zm0 7h7v7h-7zm-6 20h6v7h-6zm0 7h6v7h-6zm-7 20h7v7h-7zm-7 20h7v7h-7zm-7 20h7v7h-7zm-6 20h6v7h-6zm-7 20h7v7h-7zm-7 14h7v6h-7zm-6 20h6v7h-6zm-7 13h7v7h-7zm-7 14h7v6h-7zm-6 13h6v7h-6z"/><path fill="#e76023" d="M443 42h7v7h-7zm0 7h7v7h-7zm0 7h7v6h-7zm-6 33h6v7h-6zm0 7h6v7h-6zm0 7h6v6h-6zm-7 33h7v7h-7zm0 7h7v7h-7zm-7 33h7v7h-7zm0 7h7v7h-7zm-7 33h7v7h-7zm0 7h7v7h-7zm-6 27h6v7h-6zm0 7h6v6h-6zm0 6h6v7h-6zm-7 27h7v7h-7zm0 7h7v7h-7zm-7 27h7v6h-7zm0 6h7v7h-7zm-6 20h6v7h-6zm0 7h6v7h-6zm-7 27h7v7h-7zm-7 27h7v6h-7zm-6 27h6v6h-6zm-7 20h7v6h-7zm0 6h7v7h-7zm-7 20h7v7h-7zm-7 20h7v7h-7zm-6 21h6v6h-6zm-7 20h7v6h-7zm-7 13h7v7h-7zm-6 20h6v7h-6zm-7 14h7v6h-7zm-7 13h7v7h-7zm-6 13h6v7h-6zm-7 14h7v6h-7z"/><path fill="#e86122" d="M443 22h7v7h-7zm0 7h7v7h-7zm0 7h7v6h-7zm-6 33h6v7h-6zm0 7h6v7h-6zm0 7h6v6h-6zm-7 33h7v7h-7zm0 7h7v6h-7zm0 6h7v7h-7zm-7 27h7v7h-7zm0 7h7v7h-7zm0 7h7v6h-7zm-7 33h7v7h-7zm0 7h7v6h-7zm-6 27h6v6h-6zm0 6h6v7h-6zm-7 34h7v6h-7zm0 6h7v7h-7zm-7 27h7v7h-7zm0 7h7v7h-7zm-6 27h6v6h-6zm-7 27h7v6h-7zm0 6h7v7h-7zm-7 20h7v7h-7zm0 7h7v7h-7zm-6 20h6v7h-6zm0 7h6v7h-6zm-7 20h7v7h-7zm-7 27h7v6h-7zm-7 20h7v6h-7zm-6 20h6v7h-6zm-7 20h7v7h-7zm-7 13h7v7h-7zm-6 20h6v7h-6zm-7 14h7v7h-7zm-20 40h7v7h-7z"/><path fill="#e96221" d="M443 19h7v3h-7zm-6 30h6v7h-6zm0 7h6v6h-6zm0 6h6v7h-6zm-7 34h7v7h-7zm0 7h7v6h-7zm0 6h7v7h-7zm-7 34h7v7h-7zm0 7h7v6h-7zm-7 33h7v7h-7zm0 7h7v6h-7zm0 6h7v7h-7zm-6 27h6v7h-6zm0 7h6v7h-6zm-7 33h7v7h-7zm0 7h7v7h-7zm-7 27h7v7h-7zm0 7h7v6h-7zm-6 26h6v7h-6zm0 7h6v7h-6zm-7 20h7v7h-7zm0 7h7v7h-7zm-7 27h7v6h-7zm-6 26h6v7h-6zm-7 27h7v7h-7zm-7 20h7v7h-7zm0 7h7v7h-7zm-7 20h7v7h-7zm-6 20h6v7h-6zm-7 20h7v7h-7zm-7 14h7v6h-7zm-6 20h6v6h-6zm-7 13h7v7h-7zm-7 20h7v7h-7zm-6 14h6v6h-6z"/><path fill="#ea631f" d="M437 29h6v7h-6zm0 7h6v6h-6zm0 6h6v7h-6zm-7 41h7v6h-7zm0 6h7v7h-7zm-7 34h7v6h-7zm0 6h7v7h-7zm0 7h7v7h-7zm-7 34h7v6h-7zm0 6h7v7h-7zm-6 34h6v6h-6zm0 6h6v7h-6zm-7 27h7v7h-7zm0 7h7v7h-7zm0 7h7v6h-7zm-7 26h7v7h-7zm0 7h7v7h-7zm-6 27h6v7h-6zm0 7h6v6h-6zm-7 26h7v7h-7zm-7 27h7v7h-7zm0 7h7v7h-7zm-6 20h6v7h-6zm0 7h6v6h-6zm-7 20h7v7h-7zm0 7h7v6h-7zm-7 20h7v6h-7zm-7 20h7v6h-7zm0 6h7v7h-7zm-6 20h6v7h-6zm-7 21h7v6h-7zm-7 13h7v7h-7zm-6 20h6v7h-6zm-14 34h7v6h-7zm-6 13h6v7h-6zm-7 13h7v7h-7z"/><path fill="#eb641e" d="M437 19h6v3h-6zm0 3h6v7h-6zm-7 40h7v7h-7zm0 7h7v7h-7zm0 7h7v7h-7zm-7 33h7v7h-7zm0 7h7v7h-7zm-7 34h7v6h-7zm0 6h7v7h-7zm0 7h7v7h-7zm-6 27h6v6h-6zm0 6h6v7h-6zm0 7h6v7h-6zm-7 27h7v7h-7zm0 7h7v6h-7zm-7 33h7v7h-7zm0 7h7v6h-7zm-6 27h6v6h-6zm0 6h6v7h-6zm-7 27h7v7h-7zm0 7h7v6h-7zm-7 20h7v7h-7zm0 7h7v6h-7zm-6 26h6v7h-6zm-7 27h7v7h-7zm-7 20h7v7h-7zm0 7h7v7h-7zm-7 20h7v7h-7zm-6 20h6v7h-6zm0 7h6v6h-6zm-7 13h7v7h-7zm0 7h7v7h-7zm-7 13h7v7h-7zm-6 20h6v7h-6zm-7 20h7v7h-7zm-7 14h7v7h-7zm-6 13h6v7h-6zm-7 14h7v6h-7zm-7 13h7v7h-7z"/><path fill="#ec651d" d="M430 42h7v7h-7zm0 7h7v7h-7zm0 7h7v6h-7zm-7 33h7v7h-7zm0 7h7v7h-7zm0 7h7v6h-7zm-7 33h7v7h-7zm0 7h7v7h-7zm-6 33h6v7h-6zm0 7h6v7h-6zm-7 33h7v7h-7zm0 7h7v7h-7zm-7 34h7v6h-7zm0 6h7v7h-7zm-6 27h6v7h-6zm0 7h6v7h-6zm-7 27h7v6h-7zm0 6h7v7h-7zm-7 27h7v7h-7zm-6 27h6v7h-6zm0 7h6v6h-6zm-7 20h7v6h-7zm0 6h7v7h-7zm-7 21h7v6h-7zm-7 26h7v7h-7zm-6 20h6v7h-6zm-7 20h7v7h-7zm-7 21h7v6h-7zm-6 20h6v6h-6zm-7 20h7v6h-7zm-7 13h7v7h-7z"/><path fill="#ec661c" d="M430 22h7v7h-7zm0 7h7v7h-7zm0 7h7v6h-7zm-7 33h7v7h-7zm0 7h7v7h-7zm0 7h7v6h-7zm-7 33h7v7h-7zm0 7h7v6h-7zm0 6h7v7h-7zm-6 34h6v7h-6zm0 7h6v6h-6zm-7 33h7v7h-7zm0 7h7v6h-7zm-7 27h7v6h-7zm0 6h7v7h-7zm0 7h7v7h-7zm-6 27h6v6h-6zm0 6h6v7h-6zm-7 27h7v7h-7zm0 7h7v7h-7zm-7 27h7v6h-7zm0 6h7v7h-7zm-6 21h6v6h-6zm0 6h6v7h-6zm-7 27h7v7h-7zm-7 27h7v7h-7zm-7 20h7v7h-7zm0 7h7v6h-7zm-6 20h6v6h-6zm-7 20h7v6h-7zm-7 20h7v7h-7zm-6 20h6v7h-6zm-7 20h7v7h-7zm-7 13h7v7h-7zm-6 21h6v6h-6zm-7 13h7v7h-7zm-7 13h7v7h-7z"/><path fill="#ed671b" d="M430 19h7v3h-7zm-7 30h7v7h-7zm0 7h7v6h-7zm0 6h7v7h-7zm-7 34h7v7h-7zm0 7h7v6h-7zm0 6h7v7h-7zm-6 34h6v7h-6zm0 7h6v6h-6zm0 6h6v7h-6zm-7 27h7v7h-7zm0 7h7v6h-7zm0 6h7v7h-7zm-7 27h7v7h-7zm0 7h7v7h-7zm-6 33h6v7h-6zm0 7h6v7h-6zm-7 27h7v7h-7zm0 7h7v6h-7zm-7 26h7v7h-7zm0 7h7v7h-7zm-6 27h6v7h-6zm-7 27h7v6h-7zm0 6h7v7h-7zm-7 20h7v7h-7zm0 7h7v7h-7zm-7 20h7v7h-7zm-6 27h6v7h-6zm-7 20h7v7h-7zm-7 20h7v7h-7zm-6 20h6v7h-6zm-7 20h7v7h-7zm-13 34h6v7h-6zm-7 13h7v7h-7zm-7 14h7v6h-7z"/><path fill="#ee681a" d="M423 36h7v6h-7zm0 6h7v7h-7zm-7 41h7v6h-7zm0 6h7v7h-7zm-6 34h6v6h-6zm0 6h6v7h-6zm0 7h6v7h-6zm-7 34h7v6h-7zm0 6h7v7h-7zm-7 34h7v6h-7zm0 6h7v7h-7zm-6 34h6v7h-6zm0 7h6v6h-6zm-7 26h7v7h-7zm0 7h7v7h-7zm-7 27h7v7h-7zm0 7h7v6h-7zm-6 26h6v7h-6zm0 7h6v7h-6zm-7 20h7v7h-7zm0 7h7v7h-7zm-7 27h7v6h-7zm-7 27h7v6h-7zm-6 20h6v6h-6zm0 6h6v7h-6zm-7 20h7v7h-7zm-7 20h7v7h-7zm-6 21h6v6h-6zm-7 20h7v6h-7zm-7 20h7v6h-7zm-6 13h6v7h-6z"/><path fill="#ef6919" d="M423 19h7v3h-7zm0 3h7v7h-7zm0 7h7v7h-7zm-7 33h7v7h-7zm0 7h7v7h-7zm0 7h7v7h-7zm-6 33h6v7h-6zm0 7h6v7h-6zm-7 34h7v6h-7zm0 6h7v7h-7zm0 7h7v7h-7zm-7 33h7v7h-7zm0 7h7v7h-7zm-6 27h6v7h-6zm0 7h6v6h-6zm0 6h6v7h-6zm-7 27h7v7h-7zm0 7h7v6h-7zm-7 27h7v6h-7zm0 6h7v7h-7zm-6 27h6v7h-6zm0 7h6v6h-6zm-7 27h7v6h-7zm-7 26h7v7h-7zm0 7h7v7h-7zm-7 20h7v7h-7zm0 7h7v7h-7zm-6 20h6v7h-6zm-7 20h7v7h-7zm0 7h7v6h-7zm-7 20h7v6h-7zm-6 20h6v7h-6zm-7 20h7v7h-7zm-7 20h7v7h-7zm-6 13h6v7h-6zm-7 21h7v6h-7zm-7 13h7v7h-7zm-7 13h7v7h-7z"/><path fill="#f06918" d="M416 42h7v7h-7zm0 7h7v7h-7zm0 7h7v6h-7zm-6 33h6v7h-6zm0 7h6v7h-6zm0 7h6v6h-6zm-7 33h7v7h-7zm0 7h7v7h-7zm-7 33h7v7h-7zm0 7h7v7h-7zm0 7h7v6h-7zm-6 26h6v7h-6zm0 7h6v7h-6zm-7 34h7v6h-7zm0 6h7v7h-7zm-7 27h7v7h-7zm0 7h7v7h-7zm-6 27h6v6h-6zm0 6h6v7h-6zm-7 27h7v7h-7zm0 7h7v7h-7zm-7 20h7v7h-7zm0 7h7v6h-7zm-7 26h7v7h-7zm-6 21h6v6h-6zm0 6h6v7h-6zm-7 20h7v7h-7zm-7 27h7v7h-7zm-6 20h6v7h-6zm-7 20h7v7h-7zm-7 20h7v7h-7zm-6 14h6v6h-6zm-7 20h7v7h-7zm-7 13h7v7h-7zm-7 14h7v6h-7z"/><path fill="#f16a17" d="M416 22h7v7h-7zm0 7h7v7h-7zm0 7h7v6h-7zm-6 33h6v7h-6zm0 7h6v7h-6zm0 7h6v6h-6zm-7 33h7v7h-7zm0 7h7v6h-7zm0 6h7v7h-7zm-7 34h7v7h-7zm0 7h7v6h-7zm-6 33h6v7h-6zm0 7h6v6h-6zm-7 33h7v7h-7zm0 7h7v7h-7zm-7 27h7v6h-7zm0 6h7v7h-7zm-6 27h6v7h-6zm0 7h6v7h-6zm-7 27h7v6h-7zm0 6h7v7h-7zm-7 27h7v7h-7zm-7 27h7v7h-7zm0 7h7v6h-7zm-6 20h6v7h-6zm-7 27h7v6h-7zm-7 20h7v6h-7zm0 6h7v7h-7zm-6 20h6v7h-6zm-7 21h7v6h-7zm-7 20h7v6h-7zm-6 13h6v7h-6zm-7 20h7v7h-7zm-7 14h7v6h-7z"/><path fill="#f26b16" d="M416 19h7v3h-7zm-6 37h6v6h-6zm0 6h6v7h-6zm-7 41h7v6h-7zm0 6h7v7h-7zm-7 34h7v7h-7zm0 7h7v6h-7zm0 6h7v7h-7zm-6 34h6v6h-6zm0 6h6v7h-6zm-7 27h7v7h-7zm0 7h7v7h-7zm0 7h7v6h-7zm-7 26h7v7h-7zm0 7h7v7h-7zm-6 27h6v7h-6zm0 7h6v6h-6zm-7 26h7v7h-7zm0 7h7v7h-7zm-7 27h7v7h-7zm0 7h7v6h-7zm-7 20h7v6h-7zm0 6h7v7h-7zm-6 27h6v7h-6zm-7 20h7v7h-7zm0 7h7v7h-7zm-7 20h7v7h-7zm-6 20h6v7h-6zm0 7h6v6h-6zm-7 20h7v7h-7zm-7 20h7v7h-7zm-13 33h7v7h-7zm-14 34h7v7h-7zm-6 13h6v7h-6z"/><path fill="#f36c15" d="M410 36h6v6h-6zm0 6h6v7h-6zm0 7h6v7h-6zm-7 34h7v6h-7zm0 6h7v7h-7zm0 7h7v7h-7zm-7 33h7v7h-7zm0 7h7v7h-7zm-6 34h6v6h-6zm0 6h6v7h-6zm0 7h6v7h-6zm-7 27h7v6h-7zm0 6h7v7h-7zm-7 34h7v7h-7zm0 7h7v6h-7zm-6 26h6v7h-6zm0 7h6v7h-6zm-7 27h7v7h-7zm0 7h7v6h-7zm-7 26h7v7h-7zm0 7h7v7h-7zm-7 27h7v7h-7zm-6 27h6v6h-6zm0 6h6v7h-6zm-7 21h7v6h-7zm-7 26h7v7h-7zm-6 20h6v7h-6zm-7 27h7v7h-7zm-7 20h7v7h-7zm-6 20h6v7h-6zm-7 14h7v6h-7zm-7 20h7v7h-7zm-7 13h7v7h-7zm-6 14h6v6h-6z"/><path fill="#f46d14" d="M410 19h6v3h-6zm0 3h6v7h-6zm0 7h6v7h-6zm-7 33h7v7h-7zm0 7h7v7h-7zm0 7h7v7h-7zm-7 33h7v7h-7zm0 7h7v7h-7zm0 7h7v6h-7zm-6 33h6v7h-6zm0 7h6v7h-6zm-7 33h7v7h-7zm0 7h7v7h-7zm-7 34h7v6h-7zm0 6h7v7h-7zm-6 27h6v7h-6zm0 7h6v6h-6zm-7 33h7v7h-7zm-7 27h7v7h-7zm0 7h7v6h-7zm-7 27h7v6h-7zm0 6h7v7h-7zm-6 20h6v7h-6zm0 7h6v7h-6zm-7 27h7v7h-7zm-7 20h7v7h-7zm0 7h7v6h-7zm-6 20h6v6h-6zm-7 20h7v6h-7zm0 6h7v7h-7zm-7 21h7v6h-7zm-6 20h6v6h-6zm-7 13h7v7h-7zm-7 20h7v7h-7zm-7 14h7v6h-7z"/><path fill="#f56e13" d="M403 42h7v7h-7zm0 7h7v7h-7zm0 7h7v6h-7zm-7 33h7v7h-7zm0 7h7v7h-7zm0 7h7v6h-7zm-6 33h6v7h-6zm0 7h6v7h-6zm0 7h6v6h-6zm-7 26h7v7h-7zm0 7h7v7h-7zm0 7h7v6h-7zm-7 26h7v7h-7zm0 7h7v7h-7zm0 7h7v7h-7zm-6 27h6v6h-6zm0 6h6v7h-6zm-7 34h7v7h-7zm0 7h7v6h-7zm-7 26h7v7h-7zm-7 27h7v7h-7zm0 7h7v7h-7zm-6 27h6v6h-6zm-7 26h7v7h-7zm0 7h7v7h-7zm-7 20h7v7h-7zm-6 27h6v7h-6zm-7 20h7v7h-7zm-7 20h7v7h-7zm0 7h7v7h-7zm-6 20h6v7h-6zm-7 13h7v7h-7zm-7 20h7v7h-7zm-13 34h6v7h-6z"/><path fill="#f66f12" d="M403 22h7v7h-7zm0 7h7v7h-7zm0 7h7v6h-7zm-7 40h7v7h-7zm0 7h7v6h-7zm-6 40h6v6h-6zm0 6h6v7h-6zm-7 34h7v7h-7zm0 7h7v6h-7zm-7 33h7v7h-7zm0 7h7v6h-7zm-6 33h6v7h-6zm0 7h6v7h-6zm-7 33h7v7h-7zm0 7h7v7h-7zm-7 27h7v7h-7zm0 7h7v6h-7zm-7 26h7v7h-7zm-6 27h6v7h-6zm0 7h6v7h-6zm-7 20h7v7h-7zm0 7h7v6h-7zm-7 27h7v6h-7zm-6 20h6v6h-6zm0 6h6v7h-6zm-7 20h7v7h-7zm-7 20h7v7h-7zm-6 27h6v7h-6zm-7 14h7v6h-7zm-7 20h7v6h-7zm-7 20h7v7h-7zm-6 13h6v7h-6z"/><path fill="#f77011" d="M403 19h7v3h-7zm-7 37h7v6h-7zm0 6h7v7h-7zm0 7h7v7h-7zm-6 34h6v6h-6zm0 6h6v7h-6zm0 7h6v7h-6zm-7 34h7v6h-7zm0 6h7v7h-7zm-7 34h7v6h-7zm0 6h7v7h-7zm-6 34h6v7h-6zm0 7h6v6h-6zm-7 26h7v7h-7zm0 7h7v7h-7zm0 7h7v6h-7zm-7 27h7v6h-7zm0 6h7v7h-7zm-7 27h7v7h-7zm0 7h7v6h-7zm-6 20h6v7h-6zm0 7h6v6h-6zm-7 26h7v7h-7zm-7 27h7v7h-7zm0 7h7v7h-7zm-6 20h6v7h-6zm-7 27h7v6h-7zm-7 20h7v6h-7zm-6 20h6v7h-6zm0 7h6v6h-6zm-7 13h7v7h-7zm-7 20h7v7h-7zm-7 20h7v7h-7zm-6 14h6v6h-6zm-7 20h7v6h-7z"/><path fill="#f77110" d="M396 36h7v6h-7zm0 6h7v7h-7zm0 7h7v7h-7zm-6 34h6v6h-6zm0 6h6v7h-6zm0 7h6v7h-6zm-7 33h7v7h-7zm0 7h7v7h-7zm0 7h7v7h-7zm-7 27h7v6h-7zm0 6h7v7h-7zm0 7h7v7h-7zm-6 33h6v7h-6zm0 7h6v7h-6zm-7 27h7v7h-7zm0 7h7v6h-7zm-7 33h7v7h-7zm0 7h7v7h-7zm-7 27h7v6h-7zm0 6h7v7h-7zm-6 27h6v7h-6zm-7 27h7v7h-7zm0 7h7v6h-7zm-7 26h7v7h-7zm-6 27h6v7h-6zm-7 20h7v7h-7zm0 7h7v7h-7zm-7 20h7v7h-7zm-6 20h6v7h-6zm-7 20h7v7h-7zm-7 20h7v7h-7zm-7 20h7v7h-7zm-13 34h7v7h-7z"/><path fill="#f8720f" d="M396 19h7v3h-7zm0 3h7v7h-7zm0 7h7v7h-7zm-6 33h6v7h-6zm0 7h6v7h-6zm0 7h6v7h-6zm-7 33h7v7h-7zm0 7h7v7h-7zm0 7h7v6h-7zm-7 33h7v7h-7zm0 7h7v7h-7zm-6 33h6v7h-6zm0 7h6v7h-6zm0 7h6v6h-6zm-7 27h7v6h-7zm0 6h7v7h-7zm-7 34h7v6h-7zm0 6h7v7h-7zm-7 27h7v7h-7zm0 7h7v7h-7zm-6 27h6v6h-6zm0 6h6v7h-6zm-7 27h7v7h-7zm-7 27h7v7h-7zm0 7h7v6h-7zm-6 20h6v7h-6zm0 7h6v6h-6zm-7 20h7v6h-7zm-7 26h7v7h-7zm-6 20h6v7h-6zm-7 21h7v6h-7zm-7 20h7v6h-7zm-7 20h7v6h-7zm-6 20h6v7h-6zm-7 13h7v7h-7z"/><path fill="#f9730e" d="M390 42h6v7h-6zm0 7h6v7h-6zm0 7h6v6h-6zm-7 40h7v7h-7zm0 7h7v6h-7zm-7 33h7v7h-7zm0 7h7v7h-7zm0 7h7v6h-7zm-6 33h6v7h-6zm0 7h6v6h-6zm-7 33h7v7h-7zm0 7h7v7h-7zm-7 33h7v7h-7zm0 7h7v7h-7zm-7 27h7v7h-7zm0 7h7v6h-7zm-6 26h6v7h-6zm0 7h6v7h-6zm-7 27h7v7h-7zm0 7h7v6h-7zm-7 20h7v6h-7zm0 6h7v7h-7zm-6 27h6v7h-6zm-7 27h7v7h-7zm-7 20h7v7h-7zm0 7h7v6h-7zm-6 20h6v6h-6zm-7 20h7v7h-7zm-7 20h7v7h-7zm-7 20h7v7h-7zm-6 20h6v7h-6z"/><path fill="#fa740d" d="M390 29h6v7h-6zm0 7h6v6h-6zm-7 40h7v7h-7zm0 7h7v6h-7zm0 6h7v7h-7zm-7 34h7v6h-7zm0 6h7v7h-7zm-6 34h6v7h-6zm0 7h6v6h-6zm0 6h6v7h-6zm-7 34h7v6h-7zm0 6h7v7h-7zm-7 34h7v7h-7zm0 7h7v6h-7zm-7 26h7v7h-7zm0 7h7v7h-7zm-6 27h6v7h-6zm0 7h6v6h-6zm-7 26h7v7h-7zm0 7h7v7h-7zm-7 27h7v7h-7zm-6 27h6v6h-6zm0 6h6v7h-6zm-7 21h7v6h-7zm0 6h7v7h-7zm-7 20h7v7h-7zm-6 27h6v7h-6zm-7 20h7v7h-7zm-7 20h7v7h-7zm-7 20h7v7h-7zm-6 20h6v7h-6zm-7 21h7v6h-7zm-7 13h7v7h-7z"/><path fill="#fa750e" d="M390 19h6v3h-6zm0 3h6v7h-6zm-7 34h7v6h-7zm0 6h7v7h-7zm0 7h7v7h-7zm-7 34h7v6h-7zm0 6h7v7h-7zm0 7h7v7h-7zm-6 34h6v6h-6zm0 6h6v7h-6zm-7 34h7v6h-7zm0 6h7v7h-7zm0 7h7v7h-7zm-7 27h7v7h-7zm0 7h7v6h-7zm0 6h7v7h-7zm-7 27h7v7h-7zm0 7h7v6h-7zm-6 27h6v6h-6zm0 6h6v7h-6zm-7 27h7v7h-7zm0 7h7v6h-7zm-7 27h7v6h-7zm0 6h7v7h-7zm-6 27h6v7h-6zm-7 27h7v7h-7zm-7 27h7v6h-7zm-6 26h6v7h-6zm-7 20h7v7h-7zm-7 21h7v6h-7zm-7 20h7v6h-7zm-6 20h6v6h-6zm-7 20h7v7h-7zm-7 13h7v7h-7z"/><path fill="#fa760e" d="M383 36h7v6h-7zm0 6h7v7h-7zm0 7h7v7h-7zm-7 40h7v7h-7zm0 7h7v7h-7zm-6 33h6v7h-6zm0 7h6v7h-6zm0 7h6v7h-6zm-7 33h7v7h-7zm0 7h7v7h-7zm-7 33h7v7h-7zm0 7h7v7h-7zm-7 34h7v6h-7zm0 6h7v7h-7zm-6 27h6v7h-6zm0 7h6v7h-6zm-7 33h7v7h-7zm-7 27h7v7h-7zm0 7h7v7h-7zm-6 27h6v6h-6zm0 6h6v7h-6zm-7 20h7v7h-7zm0 7h7v7h-7zm-7 20h7v7h-7zm0 7h7v7h-7zm-6 20h6v7h-6zm0 7h6v6h-6zm-7 20h7v6h-7zm-7 20h7v7h-7zm-7 20h7v7h-7zm-6 20h6v7h-6zm-7 20h7v7h-7z"/><path fill="#fa770e" d="M383 19h7v3h-7zm0 3h7v7h-7zm0 7h7v7h-7zm-7 40h7v7h-7zm0 7h7v7h-7zm0 7h7v6h-7zm-6 33h6v7h-6zm0 7h6v6h-6zm-7 33h7v7h-7zm0 7h7v7h-7zm0 7h7v6h-7zm-7 33h7v7h-7zm0 7h7v6h-7zm-7 33h7v7h-7zm0 7h7v7h-7zm-6 27h6v6h-6zm0 6h6v7h-6zm-7 34h7v7h-7zm0 7h7v6h-7zm-7 26h7v7h-7zm-6 27h6v7h-6zm0 7h6v7h-6zm-7 27h7v6h-7zm-7 27h7v6h-7zm-6 26h6v7h-6zm-7 27h7v7h-7zm-7 20h7v7h-7zm-7 20h7v7h-7zm-6 20h6v7h-6zm-7 20h7v7h-7zm-7 21h7v6h-7z"/><path fill="#fa780f" d="M376 49h7v7h-7zm0 7h7v6h-7zm0 6h7v7h-7zm-6 34h6v7h-6zm0 7h6v6h-6zm0 6h6v7h-6zm-7 34h7v7h-7zm0 7h7v6h-7zm-7 33h7v7h-7zm0 7h7v6h-7zm0 6h7v7h-7zm-7 34h7v7h-7zm0 7h7v6h-7zm-6 26h6v7h-6zm0 7h6v7h-6zm-7 34h7v6h-7zm0 6h7v7h-7zm-7 27h7v7h-7zm0 7h7v6h-7zm-6 27h6v6h-6zm-7 26h7v7h-7zm0 7h7v7h-7zm-7 27h7v7h-7zm-6 27h6v6h-6zm-7 20h7v6h-7zm0 6h7v7h-7zm-7 20h7v7h-7zm-7 21h7v6h-7zm-6 20h6v6h-6zm-7 20h7v6h-7zm-7 20h7v7h-7z"/><path fill="#fa790f" d="M376 29h7v7h-7zm0 7h7v6h-7zm0 6h7v7h-7zm-6 34h6v7h-6zm0 7h6v6h-6zm0 6h6v7h-6zm-7 34h7v6h-7zm0 6h7v7h-7zm0 7h7v7h-7zm-7 34h7v6h-7zm0 6h7v7h-7zm-7 34h7v6h-7zm0 6h7v7h-7zm0 7h7v7h-7zm-6 27h6v7h-6zm0 7h6v6h-6zm-7 33h7v7h-7zm0 7h7v7h-7zm-7 27h7v6h-7zm0 6h7v7h-7zm-6 27h6v7h-6zm0 7h6v7h-6zm-7 27h7v6h-7zm-7 26h7v7h-7zm0 7h7v7h-7zm-6 20h6v7h-6zm0 7h6v7h-6zm-7 20h7v7h-7zm-7 27h7v6h-7zm-7 20h7v7h-7zm-6 20h6v7h-6zm-7 20h7v7h-7zm-7 20h7v7h-7zm-6 20h6v7h-6z"/><path fill="#fa7a0f" d="M376 19h7v3h-7zm0 3h7v7h-7zm-6 40h6v7h-6zm0 7h6v7h-6zm-7 40h7v7h-7zm0 7h7v7h-7zm-7 40h7v7h-7zm0 7h7v7h-7zm-7 33h7v7h-7zm0 7h7v7h-7zm-6 34h6v6h-6zm0 6h6v7h-6zm-7 34h7v6h-7zm0 6h7v7h-7zm-7 27h7v7h-7zm0 7h7v7h-7zm-6 27h6v6h-6zm0 6h6v7h-6zm-7 27h7v7h-7zm0 7h7v7h-7zm-7 27h7v6h-7zm-6 27h6v6h-6zm-7 26h7v7h-7zm-7 27h7v7h-7zm-7 20h7v7h-7zm-6 20h6v7h-6zm-14 40h7v7h-7zm-6 21h6v6h-6z"/><path fill="#fa7b10" d="M370 42h6v7h-6zm0 7h6v7h-6zm0 7h6v6h-6zm-7 33h7v7h-7zm0 7h7v7h-7zm0 7h7v6h-7zm-7 33h7v7h-7zm0 7h7v7h-7zm0 7h7v6h-7zm-7 33h7v7h-7zm0 7h7v6h-7zm-6 33h6v7h-6zm0 7h6v7h-6zm-7 33h7v7h-7zm0 7h7v7h-7zm-7 27h7v7h-7zm0 7h7v6h-7zm-6 26h6v7h-6zm0 7h6v7h-6zm-7 27h7v7h-7zm0 7h7v6h-7zm-7 26h7v7h-7zm0 7h7v7h-7zm-6 20h6v7h-6zm0 7h6v7h-6zm-7 20h7v7h-7zm0 7h7v6h-7zm-7 20h7v6h-7zm0 6h7v7h-7zm-7 20h7v7h-7zm-6 21h6v6h-6zm-7 26h7v7h-7zm-13 34h6v7h-6z"/><path fill="#fb7d10" d="M370 22h6v7h-6zm0 7h6v7h-6zm0 7h6v6h-6zm-7 33h7v7h-7zm0 7h7v7h-7zm0 7h7v6h-7zm-7 33h7v7h-7zm0 7h7v6h-7zm0 6h7v7h-7zm-7 34h7v7h-7zm0 7h7v6h-7zm0 6h7v7h-7zm-6 27h6v7h-6zm0 7h6v6h-6zm0 6h6v7h-6zm-7 27h7v7h-7zm0 7h7v7h-7zm0 7h7v6h-7zm-7 26h7v7h-7zm0 7h7v7h-7zm-6 34h6v6h-6zm-7 33h7v7h-7zm-7 27h7v7h-7zm0 7h7v6h-7zm-6 26h6v7h-6zm-7 27h7v7h-7zm-7 27h7v7h-7zm-7 27h7v6h-7zm-6 20h6v7h-6zm-7 27h7v6h-7zm-7 20h7v6h-7zm-6 13h6v7h-6z"/><path fill="#fb7e11" d="M370 19h6v3h-6zm-7 30h7v7h-7zm0 7h7v6h-7zm0 6h7v7h-7zm-7 41h7v6h-7zm0 6h7v7h-7zm-7 41h7v6h-7zm0 6h7v7h-7zm-6 34h6v6h-6zm0 6h6v7h-6zm-7 34h7v7h-7zm0 7h7v6h-7zm-7 33h7v7h-7zm0 7h7v6h-7zm-6 33h6v7h-6zm0 7h6v7h-6zm-7 27h7v6h-7zm0 6h7v7h-7zm-7 27h7v7h-7zm-6 27h6v7h-6zm0 7h6v6h-6zm-7 27h7v6h-7zm-7 26h7v7h-7zm-7 27h7v7h-7zm-6 20h6v7h-6zm-7 27h7v7h-7zm-7 20h7v7h-7zm-13 34h7v6h-7z"/><path fill="#fb7f11" d="M363 36h7v6h-7zm0 6h7v7h-7zm-7 41h7v6h-7zm0 6h7v7h-7zm0 7h7v7h-7zm-7 33h7v7h-7zm0 7h7v7h-7zm0 7h7v7h-7zm-6 33h6v7h-6zm0 7h6v7h-6zm-7 33h7v7h-7zm0 7h7v7h-7zm-7 34h7v6h-7zm0 6h7v7h-7zm-6 34h6v7h-6zm0 7h6v6h-6zm-7 26h7v7h-7zm0 7h7v7h-7zm-7 27h7v7h-7zm0 7h7v6h-7zm-6 26h6v7h-6zm-7 27h7v7h-7zm0 7h7v7h-7zm-7 20h7v7h-7zm0 7h7v6h-7zm-7 20h7v6h-7zm0 6h7v7h-7zm-6 20h6v7h-6zm-7 21h7v6h-7zm0 6h7v7h-7zm-7 20h7v7h-7zm-6 20h6v7h-6z"/><path fill="#fb8011" d="M363 19h7v3h-7zm0 3h7v7h-7zm0 7h7v7h-7zm-7 33h7v7h-7zm0 7h7v7h-7zm0 7h7v7h-7zm-7 33h7v7h-7zm0 7h7v7h-7zm0 7h7v6h-7zm-6 33h6v7h-6zm0 7h6v7h-6zm0 7h6v6h-6zm-7 33h7v7h-7zm0 7h7v6h-7zm-7 33h7v7h-7zm0 7h7v7h-7zm-6 33h6v7h-6zm0 7h6v7h-6zm-7 27h7v7h-7zm0 7h7v6h-7zm-7 26h7v7h-7zm0 7h7v7h-7zm-6 27h6v7h-6zm0 7h6v6h-6zm-7 26h7v7h-7zm-7 27h7v7h-7zm-7 27h7v7h-7zm-6 27h6v6h-6zm-7 20h7v7h-7zm-7 27h7v6h-7zm-6 20h6v6h-6zm-7 20h7v7h-7z"/><path fill="#fb8112" d="M356 42h7v7h-7zm0 7h7v7h-7zm0 7h7v6h-7zm-7 40h7v7h-7zm0 7h7v6h-7zm-6 40h6v7h-6zm0 7h6v6h-6zm-7 33h7v7h-7zm0 7h7v6h-7zm0 6h7v7h-7zm-7 34h7v7h-7zm0 7h7v6h-7zm-6 33h6v7h-6zm0 7h6v6h-6zm-7 27h7v6h-7zm0 6h7v7h-7zm-7 27h7v7h-7zm0 7h7v6h-7zm-6 27h6v6h-6zm0 6h6v7h-6zm-7 27h7v7h-7zm0 7h7v6h-7zm-7 27h7v6h-7zm-7 26h7v7h-7zm-6 27h6v7h-6zm-7 20h7v7h-7zm-7 27h7v7h-7zm-6 20h6v7h-6zm-7 20h7v7h-7z"/><path fill="#fb8212" d="M356 22h7v7h-7zm0 7h7v7h-7zm0 7h7v6h-7zm-7 40h7v7h-7zm0 7h7v6h-7zm0 6h7v7h-7zm-6 34h6v6h-6zm0 6h6v7h-6zm0 7h6v7h-6zm-7 34h7v6h-7zm0 6h7v7h-7zm-7 34h7v6h-7zm0 6h7v7h-7zm0 7h7v7h-7zm-6 27h6v7h-6zm0 7h6v6h-6zm0 6h6v7h-6zm-7 27h7v7h-7zm0 7h7v7h-7zm-7 33h7v7h-7zm-6 34h6v7h-6zm-7 33h7v7h-7zm-7 27h7v7h-7zm0 7h7v7h-7zm-7 20h7v7h-7zm0 7h7v6h-7zm-6 20h6v6h-6zm0 6h6v7h-6zm-7 20h7v7h-7zm-7 27h7v7h-7zm-6 20h6v7h-6zm-7 20h7v7h-7z"/><path fill="#fb8313" d="M356 19h7v3h-7zm-7 37h7v6h-7zm0 6h7v7h-7zm0 7h7v7h-7zm-6 40h6v7h-6zm0 7h6v7h-6zm-7 40h7v7h-7zm0 7h7v7h-7zm-7 33h7v7h-7zm0 7h7v7h-7zm-6 34h6v6h-6zm0 6h6v7h-6zm-7 34h7v6h-7zm0 6h7v7h-7zm-7 34h7v7h-7zm0 7h7v6h-7zm-6 26h6v7h-6zm0 7h6v7h-6zm-7 27h7v7h-7zm0 7h7v6h-7zm-7 26h7v7h-7zm-7 27h7v7h-7zm-6 27h6v7h-6zm-7 27h7v6h-7zm-7 27h7v6h-7zm-6 20h6v6h-6zm-7 20h7v6h-7zm-7 20h7v7h-7z"/><path fill="#fb8413" d="M349 36h7v6h-7zm0 6h7v7h-7zm0 7h7v7h-7zm-6 40h6v7h-6zm0 7h6v7h-6zm0 7h6v6h-6zm-7 33h7v7h-7zm0 7h7v7h-7zm0 7h7v6h-7zm-7 33h7v7h-7zm0 7h7v6h-7zm-6 33h6v7h-6zm0 7h6v7h-6zm-7 33h7v7h-7zm0 7h7v7h-7zm-7 34h7v6h-7zm0 6h7v7h-7zm-6 27h6v7h-6zm0 7h6v6h-6zm-7 27h7v6h-7zm0 6h7v7h-7zm-7 27h7v7h-7zm0 7h7v6h-7zm-7 27h7v6h-7zm-6 26h6v7h-6zm-7 27h7v7h-7zm-7 27h7v7h-7zm-6 20h6v7h-6zm-7 20h7v7h-7zm-7 20h7v7h-7z"/><path fill="#fb8513" d="M349 19h7v3h-7zm0 3h7v7h-7zm0 7h7v7h-7zm-6 40h6v7h-6zm0 7h6v7h-6zm0 7h6v6h-6zm-7 33h7v7h-7zm0 7h7v6h-7zm0 6h7v7h-7zm-7 34h7v7h-7zm0 7h7v6h-7zm0 6h7v7h-7zm-6 34h6v6h-6zm0 6h6v7h-6zm-7 34h7v7h-7zm0 7h7v6h-7zm-7 33h7v7h-7zm0 7h7v7h-7zm-6 27h6v6h-6zm0 6h6v7h-6zm-7 34h7v7h-7zm-7 33h7v7h-7zm-7 27h7v7h-7zm0 7h7v7h-7zm-6 20h6v7h-6zm0 7h6v6h-6zm-7 26h7v7h-7zm-7 20h7v7h-7zm0 7h7v7h-7zm-6 20h6v7h-6zm-7 20h7v7h-7zm-7 20h7v7h-7z"/><path fill="#fb8714" d="M343 49h6v7h-6zm0 7h6v6h-6zm0 6h6v7h-6zm-7 41h7v6h-7zm0 6h7v7h-7zm-7 41h7v6h-7zm0 6h7v7h-7zm-6 40h6v7h-6zm0 7h6v7h-6zm-7 34h7v6h-7zm0 6h7v7h-7zm-7 34h7v6h-7zm0 6h7v7h-7zm-6 27h6v7h-6zm0 7h6v7h-6zm-7 33h7v7h-7zm0 7h7v7h-7zm-7 27h7v7h-7zm0 7h7v6h-7zm-7 26h7v7h-7zm-6 27h6v7h-6zm-7 27h7v7h-7zm0 7h7v6h-7zm-7 20h7v6h-7zm-6 27h6v6h-6zm-7 20h7v6h-7z"/><path fill="#fc8814" d="M343 29h6v7h-6zm0 7h6v6h-6zm0 6h6v7h-6zm-7 41h7v6h-7zm0 6h7v7h-7zm0 7h7v7h-7zm-7 33h7v7h-7zm0 7h7v7h-7zm0 7h7v7h-7zm-6 33h6v7h-6zm0 7h6v7h-6zm0 7h6v6h-6zm-7 33h7v7h-7zm0 7h7v7h-7zm-7 33h7v7h-7zm0 7h7v7h-7zm-6 34h6v6h-6zm-7 33h7v7h-7zm0 7h7v6h-7zm-7 27h7v6h-7zm0 6h7v7h-7zm-7 27h7v7h-7zm0 7h7v6h-7zm-6 27h6v6h-6zm-7 26h7v7h-7zm-7 27h7v7h-7zm-6 27h6v7h-6zm-7 20h7v7h-7zm-7 27h7v6h-7z"/><path fill="#fc8914" d="M343 19h6v3h-6zm0 3h6v7h-6zm-7 40h7v7h-7zm0 7h7v7h-7zm0 7h7v7h-7zm-7 40h7v7h-7zm0 7h7v6h-7zm-6 40h6v7h-6zm0 7h6v6h-6zm-7 33h7v7h-7zm0 7h7v6h-7zm0 6h7v7h-7zm-7 34h7v7h-7zm0 7h7v6h-7zm-6 33h6v7h-6zm0 7h6v7h-6zm-7 27h7v6h-7zm0 6h7v7h-7zm-7 34h7v7h-7zm-7 33h7v7h-7zm-6 27h6v7h-6zm0 7h6v7h-6zm-7 27h7v6h-7zm-7 26h7v7h-7zm-6 27h6v7h-6zm-7 20h7v7h-7zm-7 27h7v7h-7zm-6 20h6v7h-6z"/><path fill="#fc8a15" d="M336 42h7v7h-7zm0 7h7v7h-7zm0 7h7v6h-7zm-7 40h7v7h-7zm0 7h7v6h-7zm0 6h7v7h-7zm-6 34h6v7h-6zm0 7h6v6h-6zm0 6h6v7h-6zm-7 34h7v6h-7zm0 6h7v7h-7zm-7 34h7v7h-7zm0 7h7v6h-7zm0 6h7v7h-7zm-6 34h6v6h-6zm0 6h6v7h-6zm-7 27h7v7h-7zm0 7h7v7h-7zm-7 33h7v7h-7zm0 7h7v7h-7zm-7 27h7v7h-7zm0 7h7v6h-7zm-6 26h6v7h-6zm-7 27h7v7h-7zm0 7h7v7h-7zm-7 27h7v6h-7zm-6 26h6v7h-6zm-7 21h7v6h-7zm-7 26h7v7h-7zm-6 20h6v7h-6z"/><path fill="#fc8b15" d="M336 22h7v7h-7zm0 7h7v7h-7zm0 7h7v6h-7zm-7 40h7v7h-7zm0 7h7v6h-7zm0 6h7v7h-7zm-6 40h6v7h-6zm0 7h6v7h-6zm-7 40h7v7h-7zm0 7h7v7h-7zm-7 33h7v7h-7zm0 7h7v7h-7zm-6 34h6v6h-6zm0 6h6v7h-6zm0 7h6v7h-6zm-7 27h7v7h-7zm0 7h7v6h-7zm-7 33h7v7h-7zm0 7h7v6h-7zm-7 27h7v6h-7zm0 6h7v7h-7zm-6 27h6v7h-6zm0 7h6v6h-6zm-7 27h7v6h-7zm-7 26h7v7h-7zm0 7h7v7h-7zm-6 20h6v7h-6zm0 7h6v6h-6zm-7 20h7v7h-7zm-7 27h7v6h-7zm-6 20h6v6h-6z"/><path fill="#fc8c16" d="M336 19h7v3h-7zm-7 37h7v6h-7zm0 6h7v7h-7zm0 7h7v7h-7zm-6 40h6v7h-6zm0 7h6v7h-6zm0 7h6v6h-6zm-7 33h7v7h-7zm0 7h7v7h-7zm0 7h7v6h-7zm-7 33h7v7h-7zm0 7h7v6h-7zm-6 33h6v7h-6zm0 7h6v7h-6zm-7 33h7v7h-7zm0 7h7v7h-7zm-7 34h7v6h-7zm0 6h7v7h-7zm-7 34h7v7h-7zm-6 33h6v7h-6zm-7 27h7v7h-7zm0 7h7v7h-7zm-7 27h7v6h-7zm-6 26h6v7h-6zm-7 27h7v7h-7zm-7 27h7v7h-7zm-6 20h6v7h-6z"/><path fill="#fc8d16" d="M329 42h7v7h-7zm0 7h7v7h-7zm-6 40h6v7h-6zm0 7h6v7h-6zm0 7h6v6h-6zm-7 40h7v7h-7zm0 7h7v6h-7zm-7 40h7v6h-7zm0 6h7v7h-7zm-6 34h6v7h-6zm0 7h6v6h-6zm-7 33h7v7h-7zm0 7h7v6h-7zm-7 33h7v7h-7zm0 7h7v7h-7zm-7 33h7v7h-7zm0 7h7v7h-7zm-6 27h6v7h-6zm0 7h6v6h-6zm-7 26h7v7h-7zm-7 34h7v7h-7zm-6 27h6v6h-6zm-7 26h7v7h-7zm-7 27h7v7h-7zm-6 20h6v7h-6z"/><path fill="#fc8e16" d="M329 22h7v7h-7zm0 7h7v7h-7zm0 7h7v6h-7zm-6 40h6v7h-6zm0 7h6v6h-6zm-7 40h7v6h-7zm0 6h7v7h-7zm0 7h7v7h-7zm-7 34h7v6h-7zm0 6h7v7h-7zm0 7h7v7h-7zm-6 33h6v7h-6zm0 7h6v7h-6zm-7 34h7v6h-7zm0 6h7v7h-7zm-7 34h7v7h-7zm0 7h7v6h-7zm-7 33h7v7h-7zm0 7h7v6h-7zm-6 27h6v6h-6zm0 6h6v7h-6zm-7 27h7v7h-7zm0 7h7v6h-7zm-7 27h7v6h-7zm0 6h7v7h-7zm-6 27h6v7h-6zm-7 27h7v6h-7zm-7 27h7v6h-7zm-6 20h6v6h-6zm-7 26h7v7h-7z"/><path fill="#fc8f17" d="M329 19h7v3h-7zm-6 37h6v6h-6zm0 6h6v7h-6zm0 7h6v7h-6zm-7 34h7v6h-7zm0 6h7v7h-7zm0 7h7v7h-7zm-7 40h7v7h-7zm0 7h7v7h-7zm-6 40h6v7h-6zm0 7h6v6h-6zm-7 33h7v7h-7zm0 7h7v7h-7zm-7 33h7v7h-7zm0 7h7v7h-7zm-7 34h7v6h-7zm0 6h7v7h-7zm-6 34h6v7h-6zm-7 33h7v7h-7zm-7 34h7v7h-7zm-6 27h6v6h-6zm0 6h6v7h-6zm-7 27h7v7h-7zm-7 27h7v7h-7zm-6 20h6v7h-6zm-7 27h7v6h-7z"/><path fill="#fc9117" d="M323 36h6v6h-6zm0 6h6v7h-6zm0 7h6v7h-6zm-7 40h7v7h-7zm0 7h7v7h-7zm-7 40h7v7h-7zm0 7h7v7h-7zm0 7h7v6h-7zm-6 33h6v7h-6zm0 7h6v6h-6zm0 6h6v7h-6zm-7 34h7v7h-7zm0 7h7v6h-7zm-7 33h7v7h-7zm0 7h7v6h-7zm-7 33h7v7h-7zm0 7h7v7h-7zm-6 33h6v7h-6zm0 7h6v7h-6zm-7 27h7v7h-7zm0 7h7v6h-7zm-7 26h7v7h-7zm0 7h7v7h-7zm-6 27h6v7h-6zm-7 27h7v6h-7zm0 6h7v7h-7zm-7 20h7v7h-7zm0 7h7v7h-7zm-6 20h6v7h-6zm-7 27h7v7h-7z"/><path fill="#fc9217" d="M323 19h6v3h-6zm0 3h6v7h-6zm0 7h6v7h-6zm-7 40h7v7h-7zm0 7h7v7h-7zm0 7h7v6h-7zm-7 40h7v6h-7zm0 6h7v7h-7zm-6 41h6v6h-6zm0 6h6v7h-6zm-7 40h7v7h-7zm0 7h7v7h-7zm-7 34h7v6h-7zm0 6h7v7h-7zm-7 34h7v7h-7zm0 7h7v6h-7zm-6 33h6v7h-6zm0 7h6v6h-6zm-7 33h7v7h-7zm-7 34h7v6h-7zm-6 27h6v6h-6zm0 6h6v7h-6zm-7 27h7v7h-7zm-7 27h7v6h-7zm-6 27h6v6h-6zm-7 26h7v7h-7z"/><path fill="#fd9318" d="M316 49h7v7h-7zm0 7h7v6h-7zm0 6h7v7h-7zm-7 41h7v6h-7zm0 6h7v7h-7zm0 7h7v7h-7zm-6 34h6v6h-6zm0 6h6v7h-6zm0 7h6v7h-6zm-7 33h7v7h-7zm0 7h7v7h-7zm0 7h7v6h-7zm-7 33h7v7h-7zm0 7h7v7h-7zm-7 33h7v7h-7zm0 7h7v7h-7zm-6 34h6v6h-6zm0 6h6v7h-6zm-7 34h7v7h-7zm0 7h7v6h-7zm-7 26h7v7h-7zm0 7h7v7h-7zm-6 27h6v7h-6zm-7 33h7v7h-7zm-7 27h7v7h-7zm-6 27h6v7h-6zm-7 27h7v6h-7zm-7 20h7v6h-7z"/><path fill="#fd9418" d="M316 29h7v7h-7zm0 7h7v6h-7zm0 6h7v7h-7zm-7 41h7v6h-7zm0 6h7v7h-7zm0 7h7v7h-7zm-6 40h6v7h-6zm0 7h6v7h-6zm-7 40h7v7h-7zm0 7h7v6h-7zm-7 40h7v7h-7zm0 7h7v6h-7zm-7 33h7v7h-7zm0 7h7v6h-7zm-6 33h6v7h-6zm0 7h6v7h-6zm-7 33h7v7h-7zm0 7h7v7h-7zm-7 27h7v7h-7zm0 7h7v6h-7zm-6 33h6v7h-6zm-7 27h7v7h-7zm0 7h7v6h-7zm-7 26h7v7h-7zm-6 27h6v7h-6zm-7 27h7v7h-7z"/><path fill="#fd9519" d="M316 19h7v3h-7zm0 3h7v7h-7zm-7 40h7v7h-7zm0 7h7v7h-7zm0 7h7v7h-7zm-6 40h6v7h-6zm0 7h6v6h-6zm0 6h6v7h-6zm-7 41h7v6h-7zm0 6h7v7h-7zm-7 40h7v7h-7zm0 7h7v7h-7zm-7 34h7v6h-7zm0 6h7v7h-7zm-6 34h6v7h-6zm0 7h6v6h-6zm-7 33h7v7h-7zm0 7h7v6h-7zm-7 33h7v7h-7zm-6 34h6v6h-6zm0 6h6v7h-6zm-7 27h7v7h-7zm-7 34h7v6h-7zm-6 26h6v7h-6zm-7 27h7v7h-7zm-7 27h7v7h-7z"/><path fill="#fd9619" d="M309 49h7v7h-7zm0 7h7v6h-7zm-6 47h6v6h-6zm0 6h6v7h-6zm-7 41h7v6h-7zm0 6h7v7h-7zm0 7h7v7h-7zm-7 33h7v7h-7zm0 7h7v7h-7zm0 7h7v6h-7zm-7 33h7v7h-7zm0 7h7v7h-7zm-6 33h6v7h-6zm0 7h6v7h-6zm-7 34h7v6h-7zm0 6h7v7h-7zm-7 34h7v7h-7zm0 7h7v6h-7zm-6 33h6v7h-6zm-7 34h7v6h-7zm-7 26h7v7h-7zm0 7h7v7h-7zm-6 27h6v6h-6zm-7 27h7v6h-7zm-7 26h7v7h-7z"/><path fill="#fd9719" d="M309 29h7v7h-7zm0 7h7v6h-7zm0 6h7v7h-7zm-6 41h6v6h-6zm0 6h6v7h-6zm0 7h6v7h-6zm-7 40h7v7h-7zm0 7h7v7h-7zm-7 40h7v7h-7zm0 7h7v6h-7zm-7 40h7v7h-7zm0 7h7v6h-7zm-6 33h6v7h-6zm0 7h6v6h-6zm-7 40h7v7h-7zm-7 33h7v7h-7zm0 7h7v7h-7zm-6 34h6v6h-6zm0 6h6v7h-6zm-7 27h7v7h-7zm0 7h7v7h-7zm-7 27h7v6h-7zm-6 33h6v7h-6zm-7 27h7v7h-7zm-7 27h7v6h-7z"/><path fill="#fd981a" d="M309 19h7v3h-7zm0 3h7v7h-7zm-6 40h6v7h-6zm0 7h6v7h-6zm0 7h6v7h-6zm-7 40h7v7h-7zm0 7h7v6h-7zm0 6h7v7h-7zm-7 34h7v7h-7zm0 7h7v6h-7zm0 6h7v7h-7zm-7 40h7v7h-7zm0 7h7v7h-7zm-6 34h6v6h-6zm0 6h6v7h-6zm-7 41h7v6h-7zm0 6h7v7h-7zm-7 34h7v6h-7zm-6 33h6v7h-6zm0 7h6v7h-6zm-7 33h7v7h-7zm-7 34h7v7h-7zm-6 27h6v6h-6zm0 6h6v7h-6zm-7 27h7v7h-7zm-7 27h7v7h-7zm-7 20h7v7h-7z"/><path fill="#fd991a" d="M303 42h6v7h-6zm0 7h6v7h-6zm0 7h6v6h-6zm-7 40h7v7h-7zm0 7h7v6h-7zm0 6h7v7h-7zm-7 41h7v6h-7zm0 6h7v7h-7zm-7 40h7v7h-7zm0 7h7v7h-7zm0 7h7v6h-7zm-6 33h6v7h-6zm0 7h6v7h-6zm-7 40h7v7h-7zm0 7h7v7h-7zm-7 33h7v7h-7zm0 7h7v7h-7zm-6 34h6v6h-6zm-7 33h7v7h-7zm0 7h7v6h-7zm-7 27h7v6h-7zm0 6h7v7h-7zm-6 27h6v7h-6zm-7 27h7v6h-7zm0 6h7v7h-7zm-7 27h7v7h-7z"/><path fill="#fd9a1a" d="M303 22h6v7h-6zm0 7h6v7h-6zm0 7h6v6h-6zm-7 47h7v6h-7zm0 6h7v7h-7zm-7 40h7v7h-7zm0 7h7v7h-7zm0 7h7v7h-7zm-7 40h7v7h-7zm0 7h7v6h-7zm-6 40h6v7h-6zm0 7h6v6h-6zm-7 40h7v6h-7zm0 6h7v7h-7zm-7 34h7v7h-7zm0 7h7v6h-7zm-6 33h6v7h-6zm0 7h6v7h-6zm-7 27h7v6h-7zm0 6h7v7h-7zm-7 34h7v7h-7zm-6 33h6v7h-6zm-7 27h7v7h-7zm-7 34h7v6h-7zm-7 26h7v7h-7z"/><path fill="#fd9c1b" d="M303 19h6v3h-6zm-7 43h7v7h-7zm0 7h7v7h-7zm0 7h7v7h-7zm-7 40h7v7h-7zm0 7h7v6h-7zm-7 40h7v7h-7zm0 7h7v6h-7zm0 6h7v7h-7zm-6 40h6v7h-6zm0 7h6v7h-6zm-7 40h7v7h-7zm0 7h7v7h-7zm-7 34h7v6h-7zm0 6h7v7h-7zm-6 34h6v6h-6zm0 6h6v7h-6zm-7 34h7v7h-7zm-7 33h7v7h-7zm0 7h7v7h-7zm-6 27h6v7h-6zm0 7h6v6h-6zm-7 26h7v7h-7zm-7 27h7v7h-7zm0 7h7v7h-7zm-7 27h7v6h-7z"/><path fill="#fd9d1b" d="M296 42h7v7h-7zm0 7h7v7h-7zm0 7h7v6h-7zm-7 40h7v7h-7zm0 7h7v6h-7zm0 6h7v7h-7zm-7 41h7v6h-7zm0 6h7v7h-7zm-6 40h6v7h-6zm0 7h6v7h-6zm0 7h6v6h-6zm-7 33h7v7h-7zm0 7h7v7h-7zm0 7h7v6h-7zm-7 33h7v7h-7zm0 7h7v7h-7zm-6 33h6v7h-6zm0 7h6v7h-6zm-7 34h7v6h-7zm0 6h7v7h-7zm-7 34h7v6h-7zm-6 33h6v7h-6zm-7 34h7v6h-7zm-7 26h7v7h-7zm-7 34h7v7h-7z"/><path fill="#fe9e1c" d="M296 22h7v7h-7zm0 7h7v7h-7zm0 7h7v6h-7zm-7 40h7v7h-7zm0 7h7v6h-7zm0 6h7v7h-7zm-7 40h7v7h-7zm0 7h7v7h-7zm0 7h7v7h-7zm-6 40h6v7h-6zm0 7h6v6h-6zm-7 40h7v7h-7zm0 7h7v6h-7zm-7 40h7v6h-7zm0 6h7v7h-7zm-6 34h6v7h-6zm0 7h6v6h-6zm-7 40h7v7h-7zm-7 33h7v7h-7zm0 7h7v7h-7zm-6 34h6v6h-6zm-7 33h7v7h-7zm-7 27h7v6h-7zm-7 33h7v7h-7z"/><path fill="#fe9f1c" d="M296 19h7v3h-7zm-7 43h7v7h-7zm0 7h7v7h-7zm-7 47h7v7h-7zm0 7h7v6h-7zm-6 47h6v6h-6zm0 6h6v7h-6zm-7 40h7v7h-7zm0 7h7v7h-7zm-7 40h7v7h-7zm0 7h7v7h-7zm-6 40h6v7h-6zm-7 40h7v7h-7zm0 7h7v7h-7zm-7 34h7v6h-7zm-6 33h6v7h-6zm0 7h6v7h-6zm-7 27h7v6h-7zm0 6h7v7h-7zm-7 27h7v7h-7zm-7 27h7v7h-7zm0 7h7v6h-7z"/><path fill="#fea01c" d="M289 42h7v7h-7zm0 7h7v7h-7zm0 7h7v6h-7zm-7 40h7v7h-7zm0 7h7v6h-7zm0 6h7v7h-7zm-6 41h6v6h-6zm0 6h6v7h-6zm0 7h6v7h-6zm-7 40h7v7h-7zm0 7h7v6h-7zm-7 40h7v7h-7zm0 7h7v6h-7zm-6 40h6v7h-6zm0 7h6v6h-6zm-7 33h7v7h-7zm0 7h7v6h-7zm-7 33h7v7h-7zm0 7h7v7h-7zm-6 33h6v7h-6zm-7 34h7v7h-7zm-7 33h7v7h-7zm-7 27h7v7h-7zm-6 34h6v6h-6z"/><path fill="#fea11d" d="M289 22h7v7h-7zm0 7h7v7h-7zm0 7h7v6h-7zm-7 40h7v7h-7zm0 7h7v6h-7zm0 6h7v7h-7zm-6 47h6v7h-6zm0 7h6v7h-6zm-7 40h7v7h-7zm0 7h7v6h-7zm0 6h7v7h-7zm-7 41h7v6h-7zm0 6h7v7h-7zm-6 40h6v7h-6zm0 7h6v7h-6zm-7 34h7v6h-7zm0 6h7v7h-7zm-7 34h7v7h-7zm0 7h7v6h-7zm-6 33h6v7h-6zm0 7h6v6h-6zm-7 27h7v6h-7zm0 6h7v7h-7zm-7 34h7v6h-7zm-7 26h7v7h-7zm-6 34h6v7h-6z"/><path fill="#fea21d" d="M289 19h7v3h-7zm-7 43h7v7h-7zm0 7h7v7h-7zm-6 47h6v7h-6zm0 7h6v6h-6zm0 6h6v7h-6zm-7 41h7v6h-7zm0 6h7v7h-7zm-7 40h7v7h-7zm0 7h7v7h-7zm0 7h7v7h-7zm-6 40h6v7h-6zm0 7h6v6h-6zm-7 33h7v7h-7zm0 7h7v7h-7zm-7 40h7v7h-7zm-6 34h6v6h-6zm0 6h6v7h-6zm-7 34h7v7h-7zm-7 33h7v7h-7zm0 7h7v7h-7zm-7 27h7v6h-7zm-6 33h6v7h-6z"/><path fill="#fea31d" d="M282 42h7v7h-7zm0 7h7v7h-7zm0 7h7v6h-7zm-6 40h6v7h-6zm0 7h6v6h-6zm0 6h6v7h-6zm-7 41h7v6h-7zm0 6h7v7h-7zm0 7h7v7h-7zm-7 40h7v7h-7zm0 7h7v6h-7zm-6 40h6v7h-6zm0 7h6v6h-6zm0 6h6v7h-6zm-7 34h7v7h-7zm0 7h7v6h-7zm-7 40h7v6h-7zm0 6h7v7h-7zm-6 34h6v7h-6zm-7 40h7v7h-7zm-7 34h7v6h-7zm-7 33h7v7h-7zm-6 34h6v6h-6z"/><path fill="#fea41e" d="M282 22h7v7h-7zm0 7h7v7h-7zm0 7h7v6h-7zm-6 47h6v6h-6zm0 6h6v7h-6zm-7 47h7v7h-7zm0 7h7v7h-7zm-7 47h7v6h-7zm0 6h7v7h-7zm-6 41h6v6h-6zm0 6h6v7h-6zm-7 40h7v7h-7zm0 7h7v7h-7zm-7 40h7v7h-7zm0 7h7v7h-7zm-6 34h6v6h-6zm0 6h6v7h-6zm-7 34h7v6h-7zm0 6h7v7h-7zm-7 34h7v7h-7zm-7 33h7v7h-7zm-6 27h6v7h-6zm0 7h6v7h-6z"/><path fill="#fea61e" d="M282 19h7v3h-7zm-6 43h6v7h-6zm0 7h6v7h-6zm0 7h6v7h-6zm-7 40h7v7h-7zm0 7h7v6h-7zm0 6h7v7h-7zm-7 41h7v6h-7zm0 6h7v7h-7zm0 7h7v7h-7zm-6 40h6v7h-6zm0 7h6v7h-6zm-7 40h7v7h-7zm0 7h7v6h-7zm-7 40h7v7h-7zm0 7h7v6h-7zm-6 33h6v7h-6zm0 7h6v7h-6zm-7 33h7v7h-7zm0 7h7v7h-7zm-7 34h7v6h-7zm0 6h7v7h-7zm-7 27h7v7h-7zm0 7h7v6h-7zm-6 26h6v7h-6z"/><path fill="#fea71f" d="M276 42h6v7h-6zm0 7h6v7h-6zm0 7h6v6h-6zm-7 47h7v6h-7zm0 6h7v7h-7zm-7 47h7v7h-7zm0 7h7v7h-7zm-6 47h6v6h-6zm0 6h6v7h-6zm-7 41h7v6h-7zm0 6h7v7h-7zm-7 41h7v6h-7zm0 6h7v7h-7zm-6 40h6v7h-6zm-7 41h7v6h-7zm-7 40h7v7h-7zm-7 33h7v7h-7zm-6 34h6v6h-6zm-7 33h7v7h-7z"/><path fill="#fea81f" d="M276 22h6v7h-6zm0 7h6v7h-6zm0 7h6v6h-6zm-7 47h7v6h-7zm0 6h7v7h-7zm0 7h7v7h-7zm-7 40h7v7h-7zm0 7h7v7h-7zm0 7h7v6h-7zm-6 40h6v6h-6zm0 6h6v7h-6zm0 7h6v7h-6zm-7 40h7v7h-7zm0 7h7v7h-7zm-7 40h7v7h-7zm0 7h7v7h-7zm-6 40h6v7h-6zm0 7h6v6h-6zm-7 33h7v7h-7zm0 7h7v7h-7zm-7 33h7v7h-7zm0 7h7v7h-7zm-7 34h7v6h-7zm-6 33h6v7h-6zm-7 34h7v6h-7z"/><path fill="#ffa91f" d="M276 19h6v3h-6zm-7 43h7v7h-7zm0 7h7v7h-7zm0 7h7v7h-7zm-7 47h7v6h-7zm0 6h7v7h-7zm-6 47h6v7h-6zm0 7h6v7h-6zm-7 47h7v7h-7zm0 7h7v6h-7zm-7 40h7v6h-7zm0 6h7v7h-7zm-6 41h6v6h-6zm0 6h6v7h-6zm-7 41h7v6h-7zm-7 40h7v6h-7zm-7 33h7v7h-7zm0 7h7v7h-7zm-6 33h6v7h-6zm-7 34h7v7h-7z"/><path fill="#ffaa20" d="M269 42h7v7h-7zm0 7h7v7h-7zm0 7h7v6h-7zm-7 47h7v6h-7zm0 6h7v7h-7zm0 7h7v7h-7zm-6 47h6v7h-6zm0 7h6v6h-6zm-7 46h7v7h-7zm0 7h7v7h-7zm-7 40h7v7h-7zm0 7h7v7h-7zm-6 40h6v7h-6zm0 7h6v7h-6zm-7 40h7v7h-7zm0 7h7v7h-7zm-7 33h7v7h-7zm0 7h7v7h-7zm-7 34h7v6h-7zm-6 33h6v7h-6zm0 7h6v6h-6zm-7 26h7v7h-7zm0 7h7v7h-7z"/><path fill="#ffab20" d="M269 22h7v7h-7zm0 7h7v7h-7zm0 7h7v6h-7zm-7 53h7v7h-7zm0 7h7v7h-7zm-6 47h6v7h-6zm0 7h6v6h-6zm0 6h6v7h-6zm-7 40h7v7h-7zm0 7h7v7h-7zm0 7h7v6h-7zm-7 40h7v7h-7zm0 7h7v6h-7zm-6 40h6v7h-6zm0 7h6v6h-6zm-7 40h7v6h-7zm0 6h7v7h-7zm-7 41h7v6h-7zm-7 40h7v7h-7zm-6 33h6v7h-6zm-7 34h7v6h-7z"/><path fill="#ffac20" d="M269 19h7v3h-7zm-7 50h7v7h-7zm0 7h7v7h-7zm0 7h7v6h-7zm-6 46h6v7h-6zm0 7h6v7h-6zm-7 47h7v7h-7zm0 7h7v6h-7zm-7 47h7v6h-7zm0 6h7v7h-7zm-6 40h6v7h-6zm0 7h6v7h-6zm-7 40h7v7h-7zm0 7h7v7h-7zm-7 40h7v7h-7zm0 7h7v7h-7zm-7 33h7v7h-7zm0 7h7v7h-7zm-6 34h6v6h-6zm-7 33h7v7h-7z"/><path fill="#ffad21" d="M262 49h7v7h-7zm0 7h7v6h-7zm0 6h7v7h-7zm-6 47h6v7h-6zm0 7h6v7h-6zm0 7h6v6h-6zm-7 47h7v6h-7zm0 6h7v7h-7zm-7 47h7v7h-7zm0 7h7v7h-7zm-6 40h6v7h-6zm0 7h6v6h-6zm-7 40h7v7h-7zm0 7h7v6h-7zm-7 40h7v7h-7zm0 7h7v6h-7zm-7 40h7v6h-7zm-6 33h6v7h-6zm0 7h6v7h-6zm-7 33h7v7h-7zm-7 34h7v7h-7z"/><path fill="#ffae22" d="M262 29h7v7h-7zm0 7h7v6h-7zm0 6h7v7h-7zm-6 47h6v7h-6zm0 7h6v7h-6zm0 7h6v6h-6zm-7 47h7v6h-7zm0 6h7v7h-7zm0 7h7v7h-7zm-7 40h7v7h-7zm0 7h7v6h-7zm0 6h7v7h-7zm-6 41h6v6h-6zm0 6h6v7h-6zm-7 47h7v7h-7zm-7 40h7v7h-7zm0 7h7v7h-7zm-7 40h7v7h-7zm0 7h7v7h-7zm-6 34h6v6h-6zm-7 40h7v6h-7zm-7 33h7v7h-7z"/><path fill="#ffaf23" d="M262 19h7v3h-7zm0 3h7v7h-7zm-6 54h6v7h-6zm0 7h6v6h-6zm-7 53h7v7h-7zm0 7h7v7h-7zm-7 47h7v6h-7zm0 6h7v7h-7zm-6 47h6v7h-6zm0 7h6v7h-6zm-7 47h7v7h-7zm0 7h7v6h-7zm-7 40h7v6h-7zm-7 40h7v7h-7zm0 7h7v6h-7zm-6 40h6v7h-6zm-7 33h7v7h-7zm0 7h7v7h-7zm-7 33h7v7h-7z"/><path fill="#ffb025" d="M256 56h6v6h-6zm0 6h6v7h-6zm0 7h6v7h-6zm-7 47h7v7h-7zm0 7h7v6h-7zm0 6h7v7h-7zm-7 47h7v7h-7zm0 7h7v7h-7zm-6 47h6v7h-6zm0 7h6v6h-6zm-7 46h7v7h-7zm0 7h7v7h-7zm-7 40h7v7h-7zm0 7h7v7h-7zm-7 40h7v7h-7zm-6 40h6v7h-6zm0 7h6v7h-6zm-7 34h7v6h-7zm-7 40h7v6h-7z"/><path fill="#ffb127" d="M256 36h6v6h-6zm0 6h6v7h-6zm0 7h6v7h-6zm-7 47h7v7h-7zm0 7h7v6h-7zm0 6h7v7h-7zm-7 47h7v7h-7zm0 7h7v7h-7zm0 7h7v6h-7zm-6 46h6v7h-6zm0 7h6v7h-6zm-7 47h7v7h-7zm0 7h7v6h-7zm-7 40h7v7h-7zm0 7h7v6h-7zm-7 40h7v7h-7zm0 7h7v6h-7zm-6 40h6v6h-6zm-7 40h7v7h-7zm-7 33h7v7h-7zm0 7h7v7h-7z"/><path fill="#ffb229" d="M256 19h6v3h-6zm0 3h6v7h-6zm0 7h6v7h-6zm-7 54h7v6h-7zm0 6h7v7h-7zm-7 54h7v7h-7zm0 7h7v6h-7zm-6 46h6v7h-6zm0 7h6v7h-6zm0 7h6v6h-6zm-7 40h7v7h-7zm0 7h7v6h-7zm0 6h7v7h-7zm-7 41h7v6h-7zm0 6h7v7h-7zm-7 40h7v7h-7zm0 7h7v7h-7zm-6 40h6v7h-6zm0 7h6v7h-6zm-7 34h7v6h-7zm0 6h7v7h-7zm-7 34h7v6h-7z"/><path fill="#ffb32a" d="M249 62h7v7h-7zm0 7h7v7h-7zm0 7h7v7h-7zm-7 47h7v6h-7zm0 6h7v7h-7zm0 7h7v7h-7zm-6 47h6v7h-6zm0 7h6v6h-6zm-7 47h7v6h-7zm0 6h7v7h-7zm-7 47h7v7h-7zm0 7h7v7h-7zm-7 47h7v6h-7zm-6 40h6v7h-6zm0 7h6v6h-6zm-7 40h7v7h-7zm-7 40h7v7h-7zm-6 33h6v7h-6z"/><path fill="#ffb42c" d="M249 42h7v7h-7zm0 7h7v7h-7zm0 7h7v6h-7zm-7 47h7v6h-7zm0 6h7v7h-7zm0 7h7v7h-7zm-6 54h6v6h-6zm0 6h6v7h-6zm-7 47h7v7h-7zm0 7h7v7h-7zm-7 47h7v6h-7zm0 6h7v7h-7zm-7 47h7v7h-7zm0 7h7v7h-7zm-6 40h6v7h-6zm-7 40h7v7h-7zm0 7h7v7h-7zm-7 40h7v7h-7zm-6 34h6v6h-6z"/><path fill="#ffb52e" d="M249 22h7v7h-7zm0 7h7v7h-7zm0 7h7v6h-7zm-7 53h7v7h-7zm0 7h7v7h-7zm-6 54h6v6h-6zm0 6h6v7h-6zm0 7h6v7h-6zm-7 47h7v6h-7zm0 6h7v7h-7zm-7 47h7v7h-7zm0 7h7v7h-7zm-7 47h7v7h-7zm0 7h7v6h-7zm-6 40h6v7h-6zm0 7h6v6h-6zm-7 40h7v6h-7zm-7 40h7v7h-7zm0 7h7v6h-7zm-6 33h6v7h-6z"/><path fill="#ffb630" d="M249 19h7v3h-7zm-7 50h7v7h-7zm0 7h7v7h-7zm0 7h7v6h-7zm-6 53h6v7h-6zm0 7h6v7h-6zm-7 47h7v6h-7zm0 6h7v7h-7zm0 7h7v7h-7zm-7 47h7v7h-7zm0 7h7v6h-7zm-7 47h7v6h-7zm0 6h7v7h-7zm-6 40h6v7h-6zm0 7h6v7h-6zm-7 40h7v7h-7zm0 7h7v7h-7zm-7 40h7v7h-7zm-6 40h6v7h-6z"/><path fill="#ffb731" d="M242 49h7v7h-7zm0 7h7v6h-7zm0 6h7v7h-7zm-6 54h6v7h-6zm0 7h6v6h-6zm0 6h6v7h-6zm-7 47h7v7h-7zm0 7h7v7h-7zm-7 54h7v6h-7zm0 6h7v7h-7zm-7 47h7v7h-7zm0 7h7v7h-7zm-6 47h6v6h-6zm-7 47h7v6h-7zm-7 40h7v7h-7zm0 7h7v6h-7zm-6 40h6v6h-6z"/><path fill="#ffb833" d="M242 29h7v7h-7zm0 7h7v6h-7zm0 6h7v7h-7zm-6 54h6v7h-6zm0 7h6v6h-6zm0 6h6v7h-6zm-7 54h7v7h-7zm0 7h7v6h-7zm-7 53h7v7h-7zm0 7h7v7h-7zm-7 47h7v6h-7zm0 6h7v7h-7zm-6 47h6v7h-6zm0 7h6v7h-6zm-7 40h7v7h-7zm0 7h7v7h-7zm-7 40h7v7h-7zm-6 40h6v7h-6zm0 7h6v7h-6z"/><path fill="#ffb935" d="M242 19h7v3h-7zm0 3h7v7h-7zm-6 61h6v6h-6zm0 6h6v7h-6zm-7 54h7v7h-7zm0 7h7v6h-7zm0 6h7v7h-7zm-7 47h7v7h-7zm0 7h7v6h-7zm0 6h7v7h-7zm-7 47h7v7h-7zm0 7h7v7h-7zm-6 47h6v7h-6zm0 7h6v6h-6zm-7 40h7v7h-7zm0 7h7v6h-7zm-7 40h7v6h-7zm0 6h7v7h-7zm-6 41h6v6h-6z"/><path fill="#ffba36" d="M236 62h6v7h-6zm0 7h6v7h-6zm0 7h6v7h-6zm-7 53h7v7h-7zm0 7h7v7h-7zm-7 54h7v6h-7zm0 6h7v7h-7zm-7 54h7v7h-7zm0 7h7v6h-7zm-6 47h6v6h-6zm0 6h6v7h-6zm-7 47h7v7h-7zm-7 47h7v7h-7zm-6 47h6v7h-6zm-7 40h7v7h-7z"/><path fill="#ffbb38" d="M236 42h6v7h-6zm0 7h6v7h-6zm0 7h6v6h-6zm-7 53h7v7h-7zm0 7h7v7h-7zm0 7h7v6h-7zm-7 53h7v7h-7zm0 7h7v7h-7zm-7 54h7v6h-7zm0 6h7v7h-7zm-6 47h6v7h-6zm0 7h6v7h-6zm-7 47h7v6h-7zm0 6h7v7h-7zm-7 41h7v6h-7zm0 6h7v7h-7zm-6 41h6v6h-6zm0 6h6v7h-6zm-7 40h7v7h-7z"/><path fill="#ffbc3a" d="M236 22h6v7h-6zm0 7h6v7h-6zm0 7h6v6h-6zm-7 53h7v7h-7zm0 7h7v7h-7zm0 7h7v6h-7zm-7 53h7v7h-7zm0 7h7v7h-7zm0 7h7v6h-7zm-7 46h7v7h-7zm0 7h7v7h-7zm0 7h7v7h-7zm-6 47h6v6h-6zm0 6h6v7h-6zm-7 47h7v7h-7zm0 7h7v7h-7zm-7 47h7v7h-7zm-6 47h6v7h-6zm-7 40h7v7h-7zm0 7h7v6h-7z"/><path fill="#ffbd3c" d="M236 19h6v3h-6zm-7 57h7v7h-7zm0 7h7v6h-7zm-7 60h7v7h-7zm0 7h7v6h-7zm-7 53h7v7h-7zm0 7h7v6h-7zm-6 53h6v7h-6zm0 7h6v7h-6zm-7 47h7v7h-7zm0 7h7v6h-7zm-7 47h7v6h-7zm0 6h7v7h-7zm-6 40h6v7h-6zm0 7h6v7h-6zm-7 40h7v7h-7z"/><path fill="#ffbe3d" d="M229 56h7v6h-7zm0 6h7v7h-7zm0 7h7v7h-7zm-7 54h7v6h-7zm0 6h7v7h-7zm0 7h7v7h-7zm-7 54h7v6h-7zm0 6h7v7h-7zm-6 54h6v7h-6zm0 7h6v6h-6zm-7 47h7v6h-7zm0 6h7v7h-7zm-7 47h7v7h-7zm0 7h7v7h-7zm-6 47h6v6h-6zm-7 47h7v6h-7z"/><path fill="#ffbf3f" d="M229 36h7v6h-7zm0 6h7v7h-7zm0 7h7v7h-7zm-7 54h7v6h-7zm0 6h7v7h-7zm0 7h7v7h-7zm-7 54h7v6h-7zm0 6h7v7h-7zm0 7h7v7h-7zm-6 54h6v6h-6zm0 6h6v7h-6zm-7 47h7v7h-7zm0 7h7v7h-7zm-7 53h7v7h-7zm-6 47h6v7h-6zm0 7h6v7h-6zm-7 40h7v7h-7zm0 7h7v7h-7z"/><path fill="#ffc041" d="M229 19h7v3h-7zm0 3h7v7h-7zm0 7h7v7h-7zm-7 60h7v7h-7zm0 7h7v7h-7zm-7 60h7v7h-7zm0 7h7v7h-7zm-6 53h6v7h-6zm0 7h6v7h-6zm0 7h6v7h-6zm-7 47h7v6h-7zm0 6h7v7h-7zm-7 54h7v7h-7zm0 7h7v6h-7zm-6 47h6v6h-6zm-7 47h7v6h-7z"/><path fill="#ffc143" d="M222 69h7v7h-7zm0 7h7v7h-7zm0 7h7v6h-7zm-7 53h7v7h-7zm0 7h7v7h-7zm0 7h7v6h-7zm-6 53h6v7h-6zm0 7h6v6h-6zm-7 53h7v7h-7zm0 7h7v7h-7zm-7 54h7v6h-7zm0 6h7v7h-7zm-6 47h6v7h-6zm0 7h6v7h-6zm-7 40h7v7h-7zm0 7h7v7h-7zm-7 40h7v7h-7z"/><path fill="#ffc244" d="M222 49h7v7h-7zm0 7h7v6h-7zm0 6h7v7h-7zm-7 61h7v6h-7zm0 6h7v7h-7zm-6 61h6v6h-6zm0 6h6v7h-6zm-7 54h7v7h-7zm0 7h7v6h-7zm-7 53h7v7h-7zm0 7h7v7h-7zm-6 47h6v7h-6zm0 7h6v6h-6zm-7 46h7v7h-7zm-7 47h7v7h-7z"/><path fill="#ffc346" d="M222 29h7v7h-7zm0 7h7v6h-7zm0 6h7v7h-7zm-7 61h7v6h-7zm0 6h7v7h-7zm0 7h7v7h-7zm-6 54h6v6h-6zm0 6h6v7h-6zm0 7h6v7h-6zm-7 54h7v6h-7zm0 6h7v7h-7zm-7 54h7v7h-7zm0 7h7v6h-7zm-6 53h6v7h-6zm-7 47h7v7h-7zm0 7h7v6h-7zm-7 47h7v6h-7z"/><path fill="#ffc348" d="M222 19h7v3h-7zm0 3h7v7h-7zm-7 61h7v6h-7zm0 6h7v7h-7zm0 7h7v7h-7zm-6 60h6v7h-6zm0 7h6v7h-6zm-7 60h7v7h-7zm0 7h7v7h-7zm-7 53h7v7h-7zm0 7h7v7h-7zm-6 54h6v6h-6zm0 6h6v7h-6zm-7 47h7v7h-7zm-7 47h7v7h-7zm0 7h7v7h-7z"/><path fill="#ffc44a" d="M215 69h7v7h-7zm0 7h7v7h-7zm-6 60h6v7h-6zm0 7h6v7h-6zm0 7h6v6h-6zm-7 60h7v6h-7zm0 6h7v7h-7zm-7 54h7v7h-7zm0 7h7v6h-7zm-6 53h6v7h-6zm0 7h6v7h-6zm-7 47h7v7h-7zm0 7h7v6h-7zm-7 47h7v6h-7z"/><path fill="#ffc54b" d="M215 49h7v7h-7zm0 7h7v6h-7zm0 6h7v7h-7zm-6 61h6v6h-6zm0 6h6v7h-6zm-7 61h7v6h-7zm0 6h7v7h-7zm0 7h7v7h-7zm-7 54h7v6h-7zm0 6h7v7h-7zm-6 54h6v7h-6zm0 7h6v6h-6zm-7 53h7v7h-7zm-7 47h7v7h-7zm0 7h7v7h-7z"/><path fill="#ffc64d" d="M215 29h7v7h-7zm0 7h7v6h-7zm0 6h7v7h-7zm-6 61h6v6h-6zm0 6h6v7h-6zm0 7h6v7h-6zm-7 60h7v7h-7zm0 7h7v7h-7zm-7 60h7v7h-7zm0 7h7v7h-7zm-6 54h6v6h-6zm0 6h6v7h-6zm-7 54h7v7h-7zm0 7h7v6h-7zm-7 46h7v7h-7z"/><path fill="#ffc74f" d="M215 19h7v3h-7zm0 3h7v7h-7zm-6 67h6v7h-6zm0 7h6v7h-6zm-7 60h7v7h-7zm0 7h7v7h-7zm0 7h7v6h-7zm-7 60h7v7h-7zm0 7h7v6h-7zm-6 53h6v7h-6zm0 7h6v7h-6zm-7 53h7v7h-7zm0 7h7v7h-7zm-7 47h7v7h-7zm0 7h7v6h-7z"/><path fill="#ffc850" d="M209 69h6v7h-6zm0 7h6v7h-6zm0 7h6v6h-6zm-7 60h7v7h-7zm0 7h7v6h-7zm-7 60h7v6h-7zm0 6h7v7h-7zm0 7h7v7h-7zm-6 54h6v6h-6zm0 6h6v7h-6zm-7 54h7v7h-7zm0 7h7v6h-7zm-7 53h7v7h-7zm-6 54h6v7h-6z"/><path fill="#ffc952" d="M209 49h6v7h-6zm0 7h6v6h-6zm0 6h6v7h-6zm-7 61h7v6h-7zm0 6h7v7h-7zm0 7h7v7h-7zm-7 60h7v7h-7zm0 7h7v7h-7zm-6 60h6v7h-6zm0 7h6v7h-6zm-7 60h7v7h-7zm-7 54h7v7h-7zm0 7h7v6h-7zm-6 47h6v6h-6zm0 6h6v7h-6z"/><path fill="#ffca54" d="M209 29h6v7h-6zm0 7h6v6h-6zm0 6h6v7h-6zm-7 67h7v7h-7zm0 7h7v7h-7zm-7 67h7v7h-7zm0 7h7v6h-7zm-6 60h6v7h-6zm0 7h6v6h-6zm-7 60h7v7h-7zm0 7h7v6h-7zm-7 53h7v7h-7zm-6 54h6v7h-6z"/><path fill="#ffcb56" d="M209 19h6v3h-6zm0 3h6v7h-6zm-7 67h7v7h-7zm0 7h7v7h-7zm0 7h7v6h-7zm-7 60h7v7h-7zm0 7h7v6h-7zm0 6h7v7h-7zm-6 61h6v6h-6zm0 6h6v7h-6zm-7 61h7v6h-7zm0 6h7v7h-7zm-7 54h7v7h-7zm0 7h7v6h-7zm-6 46h6v7h-6zm0 7h6v7h-6z"/><path fill="#ffcc57" d="M202 69h7v7h-7zm0 7h7v7h-7zm0 7h7v6h-7zm-7 67h7v6h-7zm0 6h7v7h-7zm-6 67h6v7h-6zm0 7h6v7h-6zm-7 60h7v7h-7zm0 7h7v7h-7zm-7 53h7v7h-7zm0 7h7v7h-7zm-6 54h6v6h-6z"/><path fill="#ffcd59" d="M202 49h7v7h-7zm0 7h7v6h-7zm0 6h7v7h-7zm-7 67h7v7h-7zm0 7h7v7h-7zm0 7h7v7h-7zm-6 60h6v7h-6zm0 7h6v6h-6zm0 6h6v7h-6zm-7 61h7v6h-7zm0 6h7v7h-7zm-7 54h7v7h-7zm0 7h7v6h-7zm-6 53h6v7h-6zm0 7h6v7h-6z"/><path fill="#ffce5b" d="M202 36h7v6h-7zm0 6h7v7h-7zm-7 74h7v7h-7zm0 7h7v6h-7zm-6 67h6v6h-6zm0 6h6v7h-6zm-7 67h7v7h-7zm0 7h7v7h-7zm-7 60h7v7h-7zm-6 61h6v6h-6z"/><path fill="#ffcf5d" d="M202 19h7v3h-7zm0 3h7v7h-7zm0 7h7v7h-7zm-7 67h7v7h-7zm0 7h7v6h-7zm0 6h7v7h-7zm-6 67h6v7h-6zm0 7h6v7h-6zm-7 67h7v7h-7zm0 7h7v6h-7zm-7 60h7v7h-7zm0 7h7v6h-7zm-6 53h6v7h-6zm0 7h6v7h-6z"/><path fill="#ffd05e" d="M195 76h7v7h-7zm0 7h7v6h-7zm0 6h7v7h-7zm-6 67h6v7h-6zm0 7h6v7h-6zm0 7h6v6h-6zm-7 60h7v7h-7zm0 7h7v6h-7zm0 6h7v7h-7zm-7 61h7v6h-7zm0 6h7v7h-7zm-6 54h6v7h-6zm0 7h6v6h-6zm-7 53h7v7h-7z"/><path fill="#ffd160" d="M195 62h7v7h-7zm0 7h7v7h-7zm-6 74h6v7h-6zm0 7h6v6h-6zm-7 66h7v7h-7zm0 7h7v7h-7zm-7 67h7v7h-7zm0 7h7v7h-7zm-6 60h6v7h-6zm-7 60h7v7h-7z"/><path fill="#ffd262" d="M195 42h7v7h-7zm0 7h7v7h-7zm0 7h7v6h-7zm-6 67h6v6h-6zm0 6h6v7h-6zm0 7h6v7h-6zm-7 67h7v7h-7zm0 7h7v6h-7zm-7 67h7v6h-7zm0 6h7v7h-7zm-6 61h6v6h-6zm0 6h6v7h-6zm-7 54h7v7h-7zm0 7h7v6h-7z"/><path fill="#ffd364" d="M195 22h7v7h-7zm0 7h7v7h-7zm0 7h7v6h-7zm-6 73h6v7h-6zm0 7h6v7h-6zm-7 74h7v6h-7zm0 6h7v7h-7zm-7 67h7v7h-7zm0 7h7v7h-7zm-6 60h6v7h-6zm0 7h6v7h-6zm-7 60h7v7h-7z"/><path fill="#ffd465" d="M195 19h7v3h-7zm-6 70h6v7h-6zm0 7h6v7h-6zm0 7h6v6h-6zm-7 67h7v6h-7zm0 6h7v7h-7zm0 7h7v7h-7zm-7 67h7v7h-7zm0 7h7v6h-7zm-6 60h6v7h-6zm0 7h6v6h-6zm-7 60h7v7h-7zm0 7h7v6h-7z"/><path fill="#ffd567" d="M189 69h6v7h-6zm0 7h6v7h-6zm0 7h6v6h-6zm-7 73h7v7h-7zm0 7h7v7h-7zm-7 67h7v7h-7zm0 7h7v6h-7zm0 6h7v7h-7zm-6 61h6v6h-6zm0 6h6v7h-6zm-7 61h7v6h-7zm0 6h7v7h-7z"/><path fill="#ffd669" d="M189 49h6v7h-6zm0 7h6v6h-6zm0 6h6v7h-6zm-7 74h7v7h-7zm0 7h7v7h-7zm0 7h7v6h-7zm-7 66h7v7h-7zm0 7h7v7h-7zm-6 67h6v7h-6zm0 7h6v7h-6zm-7 67h7v7h-7z"/><path fill="#ffd76a" d="M189 29h6v7h-6zm0 7h6v6h-6zm0 6h6v7h-6zm-7 81h7v6h-7zm0 6h7v7h-7zm-7 74h7v7h-7zm0 7h7v6h-7zm-6 67h6v6h-6zm0 6h6v7h-6zm-7 67h7v7h-7zm0 7h7v7h-7z"/><path fill="#ffd86c" d="M189 19h6v3h-6zm0 3h6v7h-6zm-7 81h7v6h-7zm0 6h7v7h-7zm0 7h7v7h-7zm-7 74h7v6h-7zm0 6h7v7h-7zm-6 67h6v7h-6zm0 7h6v7h-6zm-7 67h7v7h-7zm0 7h7v6h-7z"/><path fill="#ffd96e" d="M182 83h7v6h-7zm0 6h7v7h-7zm0 7h7v7h-7zm-7 74h7v6h-7zm0 6h7v7h-7zm0 7h7v7h-7zm-6 67h6v7h-6zm0 7h6v6h-6zm-7 67h7v6h-7zm0 6h7v7h-7zm-7 61h7v6h-7zm0 6h7v7h-7z"/><path fill="#ffd970" d="M182 62h7v7h-7zm0 7h7v7h-7zm0 7h7v7h-7zm-7 80h7v7h-7zm0 7h7v7h-7zm-6 74h6v6h-6zm0 6h6v7h-6zm-7 67h7v7h-7zm0 7h7v7h-7zm-7 67h7v7h-7z"/><path fill="#ffda71" d="M182 49h7v7h-7zm0 7h7v6h-7zm-7 80h7v7h-7zm0 7h7v7h-7zm0 7h7v6h-7zm-6 73h6v7h-6zm0 7h6v7h-6zm-7 67h7v7h-7zm0 7h7v6h-7zm-7 67h7v6h-7zm0 6h7v7h-7z"/><path fill="#ffdb73" d="M182 29h7v7h-7zm0 7h7v6h-7zm0 6h7v7h-7zm-7 81h7v6h-7zm0 6h7v7h-7zm-6 81h6v6h-6zm0 6h6v7h-6zm-7 67h7v7h-7zm0 7h7v7h-7zm-7 67h7v7h-7zm0 7h7v7h-7z"/><path fill="#ffdc75" d="M182 19h7v3h-7zm0 3h7v7h-7zm-7 81h7v6h-7zm0 6h7v7h-7zm0 7h7v7h-7zm-6 74h6v6h-6zm0 6h6v7h-6zm0 7h6v7h-6zm-7 67h7v7h-7zm0 7h7v6h-7zm-7 73h7v7h-7z"/><path fill="#ffdd77" d="M175 83h7v6h-7zm0 6h7v7h-7zm0 7h7v7h-7zm-6 80h6v7h-6zm0 7h6v7h-6zm-7 74h7v6h-7zm0 6h7v7h-7zm-7 74h7v7h-7zm0 7h7v6h-7z"/><path fill="#ffde78" d="M175 62h7v7h-7zm0 7h7v7h-7zm0 7h7v7h-7zm-6 80h6v7h-6zm0 7h6v7h-6zm0 7h6v6h-6zm-7 73h7v7h-7zm0 7h7v7h-7zm-7 74h7v6h-7zm0 6h7v7h-7z"/><path fill="#ffdf7a" d="M175 49h7v7h-7zm0 7h7v6h-7zm-6 87h6v7h-6zm0 7h6v6h-6zm-7 80h7v7h-7zm0 7h7v6h-7zm-7 73h7v7h-7zm0 7h7v7h-7z"/><path fill="#ffe07c" d="M175 29h7v7h-7zm0 7h7v6h-7zm0 6h7v7h-7zm-6 81h6v6h-6zm0 6h6v7h-6zm0 7h6v7h-6zm-7 80h7v7h-7zm0 7h7v7h-7zm-7 74h7v7h-7zm0 7h7v6h-7z"/><path fill="#ffe17e" d="M175 19h7v3h-7zm0 3h7v7h-7zm-6 87h6v7h-6zm0 7h6v7h-6zm-7 87h7v7h-7zm0 7h7v6h-7zm-7 73h7v7h-7zm0 7h7v7h-7zm-7 74h7v7h-7z"/><path fill="#ffe280" d="M169 89h6v7h-6zm0 7h6v7h-6zm0 7h6v6h-6zm-7 80h7v7h-7zm0 7h7v6h-7zm0 6h7v7h-7zm-7 74h7v7h-7zm0 7h7v6h-7zm-7 73h7v7h-7zm0 7h7v7h-7z"/><path fill="#ffe283" d="M169 69h6v7h-6zm0 7h6v7h-6zm0 7h6v6h-6zm-7 87h7v6h-7zm0 6h7v7h-7zm-7 81h7v6h-7zm0 6h7v7h-7zm-7 74h7v7h-7zm0 7h7v6h-7z"/><path fill="#ffe385" d="M169 49h6v7h-6zm0 7h6v6h-6zm0 6h6v7h-6zm-7 88h7v6h-7zm0 6h7v7h-7zm0 7h7v7h-7zm-7 80h7v7h-7zm0 7h7v7h-7zm-7 80h7v7h-7z"/><path fill="#ffe387" d="M169 36h6v6h-6zm0 6h6v7h-6zm-7 94h7v7h-7zm0 7h7v7h-7zm-7 87h7v7h-7zm0 7h7v6h-7zm-7 80h7v7h-7zm0 7h7v6h-7z"/><path fill="#ffe48a" d="M169 19h6v3h-6zm0 3h6v7h-6zm0 7h6v7h-6zm-7 87h7v7h-7zm0 7h7v6h-7zm0 6h7v7h-7zm-7 87h7v7h-7zm0 7h7v7h-7zm-7 81h7v6h-7zm0 6h7v7h-7z"/><path fill="#ffe48c" d="M162 103h7v6h-7zm0 6h7v7h-7zm-7 87h7v7h-7zm0 7h7v7h-7zm0 7h7v6h-7zm-7 80h7v7h-7zm0 7h7v7h-7z"/><path fill="#ffe58f" d="M162 83h7v6h-7zm0 6h7v7h-7zm0 7h7v7h-7zm-7 87h7v7h-7zm0 7h7v6h-7zm-7 87h7v6h-7zm0 6h7v7h-7z"/><path fill="#ffe691" d="M162 62h7v7h-7zm0 7h7v7h-7zm0 7h7v7h-7zm-7 94h7v6h-7zm0 6h7v7h-7zm-7 87h7v7h-7zm0 7h7v7h-7z"/><path fill="#ffe694" d="M162 42h7v7h-7zm0 7h7v7h-7zm0 7h7v6h-7zm-7 94h7v6h-7zm0 6h7v7h-7zm0 7h7v7h-7zm-7 87h7v7h-7zm0 7h7v6h-7z"/><path fill="#ffe796" d="M162 22h7v7h-7zm0 7h7v7h-7zm0 7h7v6h-7zm-7 100h7v7h-7zm0 7h7v7h-7zm-7 87h7v7h-7zm0 7h7v6h-7zm0 6h7v7h-7zm-6 81h6v6h-6z"/><path fill="#ffe799" d="M162 19h7v3h-7zm-7 97h7v7h-7zm0 7h7v6h-7zm0 6h7v7h-7zm-7 87h7v7h-7zm0 7h7v7h-7zm-6 87h6v7h-6zm0 7h6v7h-6z"/><path fill="#ffe89b" d="M155 96h7v7h-7zm0 7h7v6h-7zm0 6h7v7h-7zm-7 94h7v7h-7zm0 7h7v6h-7zm-6 87h6v7h-6zm0 7h6v6h-6z"/><path fill="#ffe89d" d="M155 83h7v6h-7zm0 6h7v7h-7zm-7 101h7v6h-7zm0 6h7v7h-7zm-6 87h6v7h-6zm0 7h6v7h-6z"/><path fill="#ffe9a0" d="M155 62h7v7h-7zm0 7h7v7h-7zm0 7h7v7h-7zm-7 94h7v6h-7zm0 6h7v7h-7zm0 7h7v7h-7zm-6 87h6v7h-6zm0 7h6v6h-6z"/><path fill="#ffeaa2" d="M155 42h7v7h-7zm0 7h7v7h-7zm0 7h7v6h-7zm-7 100h7v7h-7zm0 7h7v7h-7zm-6 94h6v6h-6zm0 6h6v7h-6z"/><path fill="#ffeaa5" d="M155 22h7v7h-7zm0 7h7v7h-7zm0 7h7v6h-7zm-7 100h7v7h-7zm0 7h7v7h-7zm0 7h7v6h-7zm-6 93h6v7h-6zm0 7h6v7h-6z"/><path fill="#ffeba7" d="M155 19h7v3h-7zm-7 104h7v6h-7zm0 6h7v7h-7zm-6 101h6v7h-6zm0 7h6v6h-6z"/><path fill="#ffebaa" d="M148 103h7v6h-7zm0 6h7v7h-7zm0 7h7v7h-7zm-6 100h6v7h-6zm0 7h6v7h-6z"/><path fill="#ffecac" d="M148 83h7v6h-7zm0 6h7v7h-7zm0 7h7v7h-7zm-6 100h6v7h-6zm0 7h6v7h-6zm0 7h6v6h-6z"/><path fill="#ffecae" d="M148 62h7v7h-7zm0 7h7v7h-7zm0 7h7v7h-7zm-6 107h6v7h-6zm0 7h6v6h-6z"/><path fill="#ffedb1" d="M148 49h7v7h-7zm0 7h7v6h-7zm-6 107h6v7h-6zm0 7h6v6h-6zm0 6h6v7h-6z"/><path fill="#ffedb3" d="M148 29h7v7h-7zm0 7h7v6h-7zm0 6h7v7h-7zm-6 108h6v6h-6zm0 6h6v7h-6zm-7 107h7v7h-7zm0 7h7v7h-7z"/><path fill="#ffeeb6" d="M148 19h7v3h-7zm0 3h7v7h-7zm-6 107h6v7h-6zm0 7h6v7h-6zm0 7h6v7h-6zm-7 100h7v7h-7zm0 7h7v7h-7zm0 7h7v6h-7z"/><path fill="#ffefb8" d="M142 116h6v7h-6zm0 7h6v6h-6zm-7 107h7v7h-7zm0 7h7v6h-7z"/><path fill="#ffefbb" d="M142 96h6v7h-6zm0 7h6v6h-6zm0 6h6v7h-6zm-7 107h7v7h-7zm0 7h7v7h-7z"/><path fill="#fff0bd" d="M142 76h6v7h-6zm0 7h6v6h-6zm0 6h6v7h-6zm-7 114h7v7h-7zm0 7h7v6h-7z"/><path fill="#fff0c0" d="M142 62h6v7h-6zm0 7h6v7h-6zm-7 114h7v7h-7zm0 7h7v6h-7zm0 6h7v7h-7z"/><path fill="#fff1c2" d="M142 42h6v7h-6zm0 7h6v7h-6zm0 7h6v6h-6zm-7 114h7v6h-7zm0 6h7v7h-7z"/><path fill="#fff1c4" d="M142 22h6v7h-6zm0 7h6v7h-6zm0 7h6v6h-6zm-7 114h7v6h-7zm0 6h7v7h-7zm0 7h7v7h-7z"/><path fill="#fff2c7" d="M142 19h6v3h-6zm-7 117h7v7h-7zm0 7h7v7h-7z"/><path fill="#fff3c9" d="M135 116h7v7h-7zm0 7h7v6h-7zm0 6h7v7h-7z"/><path fill="#fff3cc" d="M135 103h7v6h-7zm0 6h7v7h-7z"/><path fill="#fff4ce" d="M135 83h7v6h-7zm0 6h7v7h-7zm0 7h7v7h-7zm-7 114h7v6h-7z"/><path fill="#fff4d1" d="M135 62h7v7h-7zm0 7h7v7h-7zm0 7h7v7h-7zm-7 120h7v7h-7zm0 7h7v7h-7z"/><path fill="#fff5d3" d="M135 42h7v7h-7zm0 7h7v7h-7zm0 7h7v6h-7zm-7 127h7v7h-7zm0 7h7v6h-7z"/><path fill="#fff5d6" d="M135 22h7v7h-7zm0 7h7v7h-7zm0 7h7v6h-7zm-7 127h7v7h-7zm0 7h7v6h-7zm0 6h7v7h-7z"/><path fill="#fff6d8" d="M135 19h7v3h-7zm-7 131h7v6h-7zm0 6h7v7h-7z"/><path fill="#fff7da" d="M128 129h7v7h-7zm0 7h7v7h-7zm0 7h7v7h-7z"/><path fill="#fff7dd" d="M128 116h7v7h-7zm0 7h7v6h-7z"/><path fill="#fff8df" d="M128 96h7v7h-7zm0 7h7v6h-7zm0 6h7v7h-7z"/><path fill="#fff8e2" d="M128 76h7v7h-7zm0 7h7v6h-7zm0 6h7v7h-7z"/><path fill="#fff9e4" d="M128 62h7v7h-7zm0 7h7v7h-7z"/><path fill="#fff9e7" d="M128 42h7v7h-7zm0 7h7v7h-7zm0 7h7v6h-7z"/><path fill="#fffae9" d="M128 22h7v7h-7zm0 7h7v7h-7zm0 7h7v6h-7z"/><path fill="#fffaeb" d="M128 19h7v3h-7z"/><path fill="#fffcf0" d="M122 123h6v6h-6z"/><path fill="#fffcf3" d="M122 103h6v6h-6zm0 6h6v7h-6zm0 7h6v7h-6z"/><path fill="#fffdf5" d="M122 89h6v7h-6zm0 7h6v7h-6z"/><path fill="#fffdf8" d="M122 69h6v7h-6zm0 7h6v7h-6zm0 7h6v6h-6z"/><path fill="#fffefa" d="M122 49h6v7h-6zm0 7h6v6h-6zm0 6h6v7h-6z"/><path fill="#fffefd" d="M122 29h6v7h-6zm0 7h6v6h-6zm0 6h6v7h-6z"/><path fill="#ffffff" d="M122 19h6v3h-6zm0 3h6v7h-6z"/></g>
<path d="M118.30 702.40v-5.10M118.30 4.70v5.10M155.52 702.40v-5.10M155.52 4.70v5.10M192.73 702.40v-8.80M192.73 4.70v8.80M229.95 702.40v-5.10M229.95 4.70v5.10M267.17 702.40v-5.10M267.17 4.70v5.10M304.38 702.40v-5.10M304.38 4.70v5.10M341.60 702.40v-8.80M341.60 4.70v8.80M378.82 702.40v-5.10M378.82 4.70v5.10M416.03 702.40v-5.10M416.03 4.70v5.10M453.25 702.40v-5.10M453.25 4.70v5.10M490.47 702.40v-8.80M490.47 4.70v8.80M527.68 702.40v-5.10M527.68 4.70v5.10M564.90 702.40v-5.10M564.90 4.70v5.10M602.12 702.40v-5.10M602.12 4.70v5.10M639.33 702.40v-8.80M639.33 4.70v8.80M676.55 702.40v-5.10M676.55 4.70v5.10M713.77 702.40v-5.10M713.77 4.70v5.10M750.98 702.40v-5.10M750.98 4.70v5.10M788.20 702.40v-8.80M788.20 4.70v8.80M104.40 688.66h5.10M802.15 688.66h-5.10M104.40 651.45h5.10M802.15 651.45h-5.10M104.40 614.24h8.80M802.15 614.24h-8.80M104.40 577.03h5.10M802.15 577.03h-5.10M104.40 539.82h5.10M802.15 539.82h-5.10M104.40 502.62h5.10M802.15 502.62h-5.10M104.40 465.41h8.80M802.15 465.41h-8.80M104.40 428.20h5.10M802.15 428.20h-5.10M104.40 390.99h5.10M802.15 390.99h-5.10M104.40 353.78h5.10M802.15 353.78h-5.10M104.40 316.57h8.80M802.15 316.57h-8.80M104.40 279.36h5.10M802.15 279.36h-5.10M104.40 242.15h5.10M802.15 242.15h-5.10M104.40 204.94h5.10M802.15 204.94h-5.10M104.40 167.74h8.80M802.15 167.74h-8.80M104.40 130.53h5.10M802.15 130.53h-5.10M104.40 93.32h5.10M802.15 93.32h-5.10M104.40 56.11h5.10M802.15 56.11h-5.10M104.40 18.90h8.80M802.15 18.90h-8.80" stroke="#000" stroke-width="1.6" stroke-linecap="round" fill="none"/>
<rect x="104.40" y="4.70" width="697.75" height="697.70" fill="none" stroke="#000" stroke-width="2.35"/>
<g stroke="#000" stroke-width="0.28">
<text x="192.73" y="742.10" text-anchor="middle">20</text>
<text x="341.60" y="742.10" text-anchor="middle">40</text>
<text x="490.47" y="742.10" text-anchor="middle">60</text>
<text x="639.33" y="742.10" text-anchor="middle">80</text>
<text x="788.20" y="742.10" text-anchor="middle">100</text>
<text x="98.60" y="625.14" text-anchor="end">0.2</text>
<text x="98.60" y="476.31" text-anchor="end">0.4</text>
<text x="98.60" y="327.47" text-anchor="end">0.6</text>
<text x="98.60" y="178.64" text-anchor="end">0.8</text>
<text x="98.60" y="29.80" text-anchor="end">1.0</text>
<g transform="translate(453.27 799.50)"><text transform="translate(-32.52 0.00) scale(1.142 1)" font-size="41.6" font-style="italic" stroke-width="0.15">m</text><text transform="translate(0.20 5.50) scale(1.038 1)" font-size="30">tot</text></g>
<g transform="translate(23.80 361.35) rotate(-90) scale(1.0000)"><text transform="translate(-1.51 0.00) scale(1.065 1)" font-size="42.8" font-style="italic" stroke-width="0.1">q</text></g>
<g transform="translate(675.06 624.54)"><text transform="translate(-39.61 0.00) scale(1.197 1)" font-size="36.5" font-style="italic" stroke-width="0.1">β</text><text transform="translate(-9.35 3.30) scale(1.047 1)" font-size="39">=</text><text x="23.16" y="0.00" font-size="39">1</text></g>
</g>
<g shape-rendering="crispEdges"><path fill="#000000" d="M1543 666h6v6h-6z"/><path fill="#020102" d="M1536 666h7v6h-7z"/><path fill="#050207" d="M1530 666h6v6h-6z"/><path fill="#07030a" d="M1523 666h7v6h-7z"/><path fill="#09030c" d="M1517 666h6v6h-6z"/><path fill="#190922" d="M1543 659h6v7h-6z"/><path fill="#1b0a24" d="M1536 659h7v7h-7z"/><path fill="#1d0b27" d="M1530 659h6v7h-6z"/><path fill="#200c2c" d="M1523 659h7v7h-7z"/><path fill="#220c2e" d="M1517 659h6v7h-6z"/><path fill="#240d31" d="M1510 659h7v7h-7z"/><path fill="#260e33" d="M1503 659h7v7h-7z"/><path fill="#270e35" d="M1497 659h6v7h-6z"/><path fill="#290f38" d="M1490 659h7v7h-7z"/><path fill="#2d103d" d="M1549 653h7v6h-7z"/><path fill="#2e113f" d="M1543 653h6v6h-6z"/><path fill="#321244" d="M1536 653h7v6h-7z"/><path fill="#341346" d="M1530 653h6v6h-6z"/><path fill="#361449" d="M1523 653h7v6h-7z"/><path fill="#37144b" d="M1517 653h6v6h-6z"/><path fill="#39154e" d="M1510 653h7v6h-7z"/><path fill="#3b1650" d="M1503 653h7v6h-7z"/><path fill="#3d1653" d="M1497 653h6v6h-6z"/><path fill="#3f1755" d="M1490 653h7v6h-7z"/><path fill="#401857" d="M1549 646h7v7h-7zm-65 7h6v6h-6z"/><path fill="#42185a" d="M1470 653h14v6h-14z"/><path fill="#44195c" d="M1543 646h6v7h-6z"/><path fill="#461a5f" d="M1536 646h7v7h-7z"/><path fill="#481a61" d="M1530 646h6v7h-6z"/><path fill="#4b1c66" d="M1523 646h7v7h-7z"/><path fill="#4d1c68" d="M1517 646h6v7h-6z"/><path fill="#4f1d6b" d="M1510 646h7v7h-7z"/><path fill="#501e6d" d="M1503 646h7v7h-7z"/><path fill="#521e70" d="M1556 640h7v6h-7zm-59 6h6v7h-6z"/><path fill="#541f72" d="M1549 640h7v6h-7zm-59 6h7v7h-7z"/><path fill="#562075" d="M1477 646h13v7h-13z"/><path fill="#582077" d="M1543 640h6v6h-6zm-73 6h7v7h-7z"/><path fill="#592179" d="M1536 640h7v6h-7zm-79 6h13v7h-13z"/><path fill="#5b217c" d="M1530 640h6v6h-6zm-79 6h6v7h-6z"/><path fill="#5d227e" d="M1523 640h7v6h-7z"/><path fill="#612380" d="M1517 640h6v6h-6z"/><path fill="#63247f" d="M1510 640h7v6h-7z"/><path fill="#65257e" d="M1556 633h7v7h-7zm-53 7h7v6h-7z"/><path fill="#67257d" d="M1549 633h7v7h-7zm-52 7h6v6h-6z"/><path fill="#69267c" d="M1484 640h13v6h-13z"/><path fill="#6b267b" d="M1543 633h6v7h-6zm-66 7h7v6h-7z"/><path fill="#6d2779" d="M1536 633h7v7h-7zm-66 7h7v6h-7z"/><path fill="#6f2878" d="M1530 633h6v7h-6zm-73 7h13v6h-13z"/><path fill="#712877" d="M1523 633h7v7h-7zm-85 7h19v6h-19z"/><path fill="#732976" d="M1563 626h6v7h-6zm-132 14h7v6h-7z"/><path fill="#752975" d="M1517 633h6v7h-6z"/><path fill="#772a74" d="M1556 626h7v7h-7zm-46 7h7v7h-7z"/><path fill="#792a73" d="M1549 626h7v7h-7zm-46 7h7v7h-7z"/><path fill="#7b2b72" d="M1497 633h6v7h-6z"/><path fill="#7d2c70" d="M1543 626h6v7h-6zm-59 7h13v7h-13z"/><path fill="#7f2c6f" d="M1536 626h7v7h-7zm-59 7h7v7h-7z"/><path fill="#812d6e" d="M1470 633h7v7h-7z"/><path fill="#832d6d" d="M1530 626h6v7h-6zm-73 7h13v7h-13z"/><path fill="#852e6c" d="M1563 620h6v6h-6zm-40 6h7v7h-7zm-79 7h13v7h-13z"/><path fill="#872f6b" d="M1517 626h6v7h-6zm-99 7h26v7h-26z"/><path fill="#892f6a" d="M1556 620h7v6h-7zm-46 6h7v7h-7z"/><path fill="#8b3068" d="M1549 620h7v6h-7zm-46 6h7v7h-7z"/><path fill="#8d3067" d="M1497 626h6v7h-6z"/><path fill="#8f3166" d="M1543 620h6v6h-6zm-53 6h7v7h-7z"/><path fill="#913265" d="M1536 620h7v6h-7zm-52 6h6v7h-6z"/><path fill="#933264" d="M1569 613h7v7h-7zm-39 7h6v6h-6zm-60 6h14v7h-14z"/><path fill="#953363" d="M1563 613h6v7h-6zm-99 13h6v7h-6z"/><path fill="#973362" d="M1523 620h7v6h-7zm-72 6h13v7h-13z"/><path fill="#993461" d="M1556 613h7v7h-7zm-39 7h6v6h-6zm-86 6h20v7h-20z"/><path fill="#9b345f" d="M1549 613h7v7h-7zm-39 7h7v6h-7zm-105 6h26v7h-26z"/><path fill="#9d355e" d="M1503 620h7v6h-7z"/><path fill="#9e365d" d="M1543 613h6v7h-6zm-46 7h6v6h-6z"/><path fill="#a0365c" d="M1569 607h7v6h-7zm-33 6h7v7h-7zm-46 7h7v6h-7z"/><path fill="#a2375b" d="M1477 620h13v6h-13z"/><path fill="#a4375a" d="M1563 607h6v6h-6zm-33 6h6v7h-6zm-60 7h7v6h-7z"/><path fill="#a63859" d="M1523 613h7v7h-7zm-66 7h13v6h-13z"/><path fill="#a83958" d="M1556 607h7v6h-7zm-39 6h6v7h-6zm-73 7h13v6h-13z"/><path fill="#aa3956" d="M1549 607h7v6h-7zm-39 6h7v7h-7zm-86 7h20v6h-20z"/><path fill="#ac3a55" d="M1576 600h6v7h-6zm-73 13h7v7h-7zm-111 7h32v6h-32z"/><path fill="#ae3a54" d="M1543 607h6v6h-6zm-46 6h6v7h-6z"/><path fill="#b03b53" d="M1569 600h7v7h-7zm-33 7h7v6h-7zm-46 6h7v7h-7z"/><path fill="#b23c52" d="M1563 600h6v7h-6zm-33 7h6v6h-6zm-46 6h6v7h-6z"/><path fill="#b43c51" d="M1470 613h14v7h-14z"/><path fill="#b63d50" d="M1556 600h7v7h-7zm-33 7h7v6h-7zm-59 6h6v7h-6z"/><path fill="#b83d4e" d="M1549 600h7v7h-7zm-32 7h6v6h-6zm-66 6h13v7h-13z"/><path fill="#ba3e4d" d="M1576 594h6v6h-6zm-66 13h7v6h-7zm-79 6h20v7h-20z"/><path fill="#bc3f4c" d="M1543 600h6v7h-6zm-40 7h7v6h-7zm-118 6h46v7h-46z"/><path fill="#be3f4b" d="M1569 594h7v6h-7zm-33 6h7v7h-7zm-39 7h6v6h-6z"/><path fill="#c0404a" d="M1563 594h6v6h-6zm-73 13h7v6h-7z"/><path fill="#c24049" d="M1530 600h6v7h-6zm-46 7h6v6h-6z"/><path fill="#c44148" d="M1582 587h7v7h-7zm-26 7h7v6h-7zm-33 6h7v7h-7zm-53 7h14v6h-14z"/><path fill="#c64147" d="M1576 587h6v7h-6zm-27 7h7v6h-7zm-32 6h6v7h-6zm-60 7h13v6h-13z"/><path fill="#c84245" d="M1510 600h7v7h-7zm-66 7h13v6h-13z"/><path fill="#ca4344" d="M1569 587h7v7h-7zm-26 7h6v6h-6zm-40 6h7v7h-7zm-131 7h6v6h-6zm52 0h20v6h-20z"/><path fill="#cb4443" d="M1536 594h7v6h-7zm-39 6h6v7h-6zm-119 7h46v6h-46z"/><path fill="#cb4542" d="M1563 587h6v7h-6zm-73 13h7v7h-7z"/><path fill="#cc4641" d="M1582 580h7v7h-7zm-26 7h7v7h-7zm-26 7h6v6h-6zm-46 6h6v7h-6z"/><path fill="#cd4740" d="M1523 594h7v6h-7zm-46 6h7v7h-7z"/><path fill="#ce473f" d="M1576 580h6v7h-6zm-27 7h7v7h-7zm-32 7h6v6h-6zm-53 6h13v7h-13z"/><path fill="#cf483e" d="M1569 580h7v7h-7zm-26 7h6v7h-6zm-33 7h7v6h-7zm-59 6h13v7h-13z"/><path fill="#d0493d" d="M1589 574h6v6h-6zm-86 20h7v6h-7zm-138 6h7v7h-7zm73 0h13v7h-13z"/><path fill="#d14a3c" d="M1563 580h6v7h-6zm-27 7h7v7h-7zm-39 7h6v6h-6zm-125 6h66v7h-66z"/><path fill="#d24b3b" d="M1582 574h7v6h-7zm-52 13h6v7h-6zm-40 7h7v6h-7z"/><path fill="#d34c3a" d="M1576 574h6v6h-6zm-20 6h7v7h-7zm-33 7h7v7h-7zm-39 7h6v6h-6z"/><path fill="#d44d39" d="M1549 580h7v7h-7zm-72 14h7v6h-7z"/><path fill="#d54e38" d="M1589 567h6v7h-6zm-20 7h7v6h-7zm-52 13h6v7h-6zm-53 7h13v6h-13z"/><path fill="#d64f37" d="M1543 580h6v7h-6zm-33 7h7v7h-7zm-59 7h13v6h-13z"/><path fill="#d65036" d="M1582 567h7v7h-7zm-19 7h6v6h-6zm-27 6h7v7h-7zm-33 7h7v7h-7zm-144 7h6v6h-6zm79 0h13v6h-13z"/><path fill="#d75135" d="M1530 580h6v7h-6zm-33 7h6v7h-6zm-132 7h73v6h-73z"/><path fill="#d85233" d="M1595 561h7v6h-7zm-19 6h6v7h-6zm-20 7h7v6h-7zm-66 13h7v7h-7z"/><path fill="#d95232" d="M1549 574h7v6h-7zm-26 6h7v7h-7zm-39 7h6v7h-6z"/><path fill="#da5331" d="M1589 561h6v6h-6zm-20 6h7v7h-7zm-52 13h6v7h-6zm-47 7h14v7h-14z"/><path fill="#db5430" d="M1543 574h6v6h-6zm-33 6h7v7h-7zm-46 7h6v7h-6z"/><path fill="#dc552f" d="M1582 561h7v6h-7zm-19 6h6v7h-6zm-27 7h7v6h-7zm-33 6h7v7h-7zm-151 7h7v7h-7zm99 0h13v7h-13z"/><path fill="#dd562e" d="M1595 554h7v7h-7zm-39 13h7v7h-7zm-26 7h6v6h-6zm-33 6h6v7h-6zm-138 7h19v7h-19zm72 0h20v7h-20z"/><path fill="#de572d" d="M1576 561h6v6h-6zm-86 19h7v7h-7zm-112 7h53v7h-53z"/><path fill="#df582c" d="M1589 554h6v7h-6zm-20 7h7v6h-7zm-20 6h7v7h-7zm-26 7h7v6h-7zm-39 6h6v7h-6z"/><path fill="#e0592b" d="M1602 548h7v6h-7zm-59 19h6v7h-6zm-26 7h6v6h-6zm-40 6h7v7h-7z"/><path fill="#e15a2a" d="M1582 554h7v7h-7zm-19 7h6v6h-6zm-53 13h7v6h-7zm-46 6h13v7h-13z"/><path fill="#e15b29" d="M1595 548h7v6h-7zm-59 19h7v7h-7zm-33 7h7v6h-7zm-157 6h6v7h-6zm105 0h13v7h-13z"/><path fill="#e25c28" d="M1576 554h6v7h-6zm-20 7h7v6h-7zm-26 6h6v7h-6zm-33 7h6v6h-6zm-145 6h13v7h-13zm86 0h13v7h-13z"/><path fill="#e35d27" d="M1865 22h7v6h-7zm-276 526h6v6h-6zm-40 13h7v6h-7zm-26 6h7v7h-7zm-33 7h7v6h-7zm-125 6h73v7h-73z"/><path fill="#e45e26" d="M1865 18h7v4h-7zm-263 523h7v7h-7zm-33 13h7v7h-7zm-85 20h6v6h-6z"/><path fill="#e55e25" d="M1582 548h7v6h-7zm-19 6h6v7h-6zm-20 7h6v6h-6zm-26 6h6v7h-6zm-40 7h7v6h-7z"/><path fill="#e65f24" d="M1609 534h6v7h-6zm-14 7h7v7h-7zm-59 20h7v6h-7zm-26 6h7v7h-7zm-46 7h13v6h-13z"/><path fill="#e76023" d="M1858 28h7v7h-7zm0 7h7v6h-7zm-282 513h6v6h-6zm-20 6h7v7h-7zm-53 13h7v7h-7zm-164 7h13v6h-13zm112 0h13v6h-13z"/><path fill="#e86122" d="M1858 22h7v6h-7zm-256 512h7v7h-7zm-13 7h6v7h-6zm-20 7h7v6h-7zm-20 6h7v7h-7zm-19 7h6v6h-6zm-33 6h6v7h-6zm-145 7h13v6h-13zm86 0h13v6h-13z"/><path fill="#e96221" d="M1858 18h7v4h-7zm-335 543h7v6h-7zm-33 6h7v7h-7zm-125 7h73v6h-73z"/><path fill="#ea631f" d="M1852 48h6v7h-6zm-243 480h6v6h-6zm-14 6h7v7h-7zm-13 7h7v7h-7zm-19 7h6v6h-6zm-20 6h6v7h-6zm-26 7h6v6h-6zm-33 6h6v7h-6z"/><path fill="#eb641e" d="M1852 41h6v7h-6zm-276 500h6v7h-6zm-40 13h7v7h-7zm-26 7h7v6h-7zm-40 6h14v7h-14z"/><path fill="#ec651d" d="M1852 28h6v7h-6zm0 7h6v6h-6zm-237 486h7v7h-7zm-26 13h6v7h-6zm-33 14h7v6h-7zm-53 13h7v6h-7zm-171 6h7v7h-7zm132 0h6v7h-6z"/><path fill="#ec661c" d="M1852 22h6v6h-6zm-7 39h7v7h-7zm-243 467h7v6h-7zm-33 13h7v7h-7zm-20 7h7v6h-7zm-19 6h6v7h-6zm-33 7h6v6h-6zm-158 6h13v7h-13zm112 0h13v7h-13z"/><path fill="#ed671b" d="M1852 18h6v4h-6zm-7 37h7v6h-7zm-263 479h7v7h-7zm-59 20h7v7h-7zm-33 7h7v6h-7zm-138 6h20v7h-20zm79 0h20v7h-20z"/><path fill="#ee681a" d="M1845 48h7v7h-7zm-236 473h6v7h-6zm-14 7h7v6h-7zm-32 13h6v7h-6zm-20 7h6v6h-6zm-26 6h6v7h-6zm-33 7h6v6h-6zm-112 6h59v7h-59z"/><path fill="#ef6919" d="M1845 41h7v7h-7zm-230 474h7v6h-7zm-39 19h6v7h-6zm-40 14h7v6h-7zm-26 6h7v7h-7zm-33 7h7v6h-7z"/><path fill="#f06918" d="M1845 28h7v7h-7zm0 7h7v6h-7zm-6 33h6v6h-6zm0 6h6v7h-6zm-237 447h7v7h-7zm-13 7h6v6h-6zm-33 13h7v7h-7zm-230 20h6v6h-6zm138 0h13v6h-13z"/><path fill="#f16a17" d="M1845 22h7v6h-7zm-6 39h6v7h-6zm-217 447h6v7h-6zm-53 26h7v7h-7zm-20 7h7v7h-7zm-19 7h6v6h-6zm-27 6h7v7h-7zm-171 7h14v6h-14zm125 0h7v6h-7z"/><path fill="#f26b16" d="M1845 18h7v4h-7zm-6 37h6v6h-6zm-230 460h6v6h-6zm-14 6h7v7h-7zm-13 7h7v6h-7zm-59 20h7v6h-7zm-26 6h6v7h-6zm-151 7h13v6h-13zm98 0h13v6h-13z"/><path fill="#f36c15" d="M1839 48h6v7h-6zm-7 39h7v7h-7zm-217 421h7v7h-7zm-39 20h6v6h-6zm-13 6h6v7h-6zm-20 7h6v7h-6zm-26 7h6v6h-6zm-33 6h13v7h-13zm-125 7h26v6h-26zm59 0h26v6h-26z"/><path fill="#f46d14" d="M1839 41h6v7h-6zm-7 33h7v7h-7zm0 7h7v6h-7zm-230 434h7v6h-7zm-13 6h6v7h-6zm-33 13h7v7h-7zm-20 7h7v7h-7zm-26 7h7v6h-7zm-33 6h7v7h-7zm-92 7h33v6h-33z"/><path fill="#f56e13" d="M1839 28h6v7h-6zm0 7h6v6h-6zm-7 33h7v6h-7zm-210 434h6v6h-6zm-53 26h7v6h-7zm-250 26h13v7h-13zm151 0h7v7h-7z"/><path fill="#f66f12" d="M1839 22h6v6h-6zm-7 39h7v7h-7zm-7 33h7v7h-7zm0 7h7v6h-7zm-197 394h7v7h-7zm-19 13h6v7h-6zm-14 7h7v6h-7zm-13 6h7v7h-7zm-33 13h7v7h-7zm-19 7h6v7h-6zm-27 7h7v6h-7zm-171 6h14v7h-14zm125 0h13v7h-13z"/><path fill="#f77011" d="M1839 18h6v4h-6zm-7 37h7v6h-7zm-7 32h7v7h-7zm-210 415h7v6h-7zm-52 26h6v6h-6zm-20 6h6v7h-6zm-20 7h7v7h-7zm-26 7h6v6h-6zm-151 6h13v7h-13zm98 0h13v7h-13z"/><path fill="#f77110" d="M1832 48h7v7h-7zm-7 33h7v6h-7zm-6 33h6v6h-6zm-197 381h6v7h-6zm-20 13h7v7h-7zm-13 7h6v6h-6zm-13 6h6v7h-6zm-59 20h6v7h-6zm-33 7h13v6h-13zm-125 6h19v7h-19zm65 0h20v7h-20z"/><path fill="#f8720f" d="M1832 35h7v6h-7zm0 6h7v7h-7zm-7 33h7v7h-7zm-6 33h6v7h-6zm-210 395h6v6h-6zm-40 19h7v7h-7zm-13 7h7v6h-7zm-20 6h7v7h-7zm-26 7h7v7h-7zm-197 7h6v6h-6zm164 0h7v6h-7zm-99 6h46v7h-46z"/><path fill="#f9730e" d="M1832 28h7v7h-7zm-7 40h7v6h-7zm-6 33h6v6h-6zm-184 381h6v6h-6zm-7 6h7v7h-7zm-33 20h7v7h-7zm-13 7h7v6h-7zm-33 13h7v6h-7zm-19 6h6v7h-6zm-27 7h7v7h-7zm-184 7h13v6h-13zm151 0h7v6h-7z"/><path fill="#fa740d" d="M1832 22h7v6h-7zm-7 39h7v7h-7zm-6 33h6v7h-6zm-7 33h7v6h-7zm-197 368h7v7h-7zm-13 7h7v6h-7zm-39 19h6v7h-6zm-40 13h7v7h-7zm-26 7h6v7h-6zm-165 7h7v6h-7zm125 0h13v6h-13z"/><path fill="#fa750e" d="M1832 18h7v4h-7zm-7 37h7v6h-7zm-6 32h6v7h-6zm-7 33h7v7h-7zm-190 368h6v7h-6zm-33 20h6v7h-6zm-13 7h6v6h-6zm-33 13h6v6h-6zm-53 13h7v7h-7zm-151 7h13v6h-13zm105 0h13v6h-13z"/><path fill="#fa760e" d="M1825 41h7v7h-7zm0 7h7v7h-7zm-6 33h6v6h-6zm-7 33h7v6h-7zm-184 368h7v6h-7zm-19 13h6v7h-6zm-53 26h7v7h-7zm-20 7h7v6h-7zm-19 6h6v7h-6zm-33 7h6v7h-6zm-132 7h20v6h-20zm72 0h20v6h-20z"/><path fill="#fa770e" d="M1825 35h7v6h-7zm-6 39h6v7h-6zm-7 33h7v7h-7zm-6 33h6v7h-6zm-165 329h7v6h-7zm-6 6h6v7h-6zm-20 13h7v7h-7zm-20 14h7v6h-7zm-13 6h7v7h-7zm-13 7h7v6h-7zm-20 6h7v7h-7zm-39 13h7v7h-7zm-197 7h6v7h-6zm164 0h7v7h-7zm-105 7h52v6h-52z"/><path fill="#fa780f" d="M1825 28h7v7h-7zm-6 40h6v6h-6zm-7 33h7v6h-7zm-6 32h6v7h-6zm-184 349h6v6h-6zm-20 13h7v7h-7zm-39 20h6v6h-6zm-33 13h6v6h-6zm-27 6h7v7h-7zm-184 7h13v7h-13zm151 0h7v7h-7z"/><path fill="#fa790f" d="M1825 22h7v6h-7zm-6 33h6v6h-6zm0 6h6v7h-6zm-7 33h7v7h-7zm-6 33h6v6h-6zm-7 26h7v7h-7zm-171 322h7v7h-7zm-19 13h6v7h-6zm-20 14h6v6h-6zm-13 6h6v7h-6zm-33 13h6v7h-6zm-20 7h7v6h-7zm-26 6h6v7h-6zm-165 7h14v7h-14zm125 0h13v7h-13z"/><path fill="#fa7a0f" d="M1825 18h7v4h-7zm-6 30h6v7h-6zm-7 39h7v7h-7zm-6 33h6v7h-6zm-7 27h7v6h-7zm-158 315h7v7h-7zm-6 7h6v6h-6zm-40 26h7v7h-7zm-26 13h7v7h-7zm-13 7h7v6h-7zm-20 6h7v7h-7zm-19 7h6v6h-6zm-27 6h7v7h-7zm-144 7h13v7h-13zm98 0h13v7h-13z"/><path fill="#fa7b10" d="M1819 41h6v7h-6zm-7 33h7v7h-7zm0 7h7v6h-7zm-6 33h6v6h-6zm-7 26h7v7h-7zm-6 26h6v7h-6zm-145 290h7v6h-7zm-33 26h7v6h-7zm-33 20h7v6h-7zm-72 26h7v6h-7zm-204 6h13v7h-13zm178 0h6v7h-6zm-125 7h19v7h-19zm65 0h20v7h-20z"/><path fill="#fb7d10" d="M1819 35h6v6h-6zm-7 33h7v6h-7zm-6 33h6v6h-6zm0 6h6v7h-6zm-7 26h7v7h-7zm-6 27h6v6h-6zm-165 309h7v6h-7zm-6 6h6v7h-6zm-20 13h7v7h-7zm-13 7h6v7h-6zm-13 7h6v6h-6zm-13 6h6v7h-6zm-14 7h7v6h-7zm-19 6h6v7h-6zm-27 7h7v6h-7zm-184 6h7v7h-7zm151 0h14v7h-14zm-92 7h46v7h-46z"/><path fill="#fb7e11" d="M1819 22h6v6h-6zm0 6h6v7h-6zm-7 33h7v7h-7zm-6 33h6v7h-6zm-7 33h7v6h-7zm-6 26h6v7h-6zm-7 26h7v7h-7zm-145 277h7v6h-7zm-6 6h6v7h-6zm-26 20h6v6h-6zm-66 33h6v6h-6zm-20 6h7v7h-7zm-26 7h6v6h-6zm-171 6h13v7h-13zm138 0h6v7h-6z"/><path fill="#fb7f11" d="M1819 18h6v4h-6zm-7 37h7v6h-7zm-6 32h6v7h-6zm-7 33h7v7h-7zm-6 27h6v6h-6zm-7 26h7v6h-7zm-131 269h6v7h-6zm-7 7h7v7h-7zm-33 26h7v7h-7zm-20 13h7v7h-7zm-13 7h7v7h-7zm-13 7h7v6h-7zm-13 6h7v7h-7zm-39 13h6v7h-6zm-27 7h7v6h-7zm-151 6h7v7h-7zm112 0h13v7h-13z"/><path fill="#fb8011" d="M1812 48h7v7h-7zm-6 33h6v6h-6zm-7 33h7v6h-7zm-6 26h6v7h-6zm-14 53h7v6h-7zm-151 269h7v7h-7zm-6 7h6v6h-6zm-20 13h7v6h-7zm-53 26h7v7h-7zm-13 7h7v6h-7zm-230 13h7v6h-7zm178 0h6v6h-6zm-138 6h19v7h-19zm92 0h13v7h-13z"/><path fill="#fb8112" d="M1812 41h7v7h-7zm-6 33h6v7h-6zm-7 33h7v7h-7zm-6 26h6v7h-6zm-7 33h7v7h-7zm-7 20h7v7h-7zm-118 243h7v7h-7zm-6 7h6v6h-6zm-7 6h7v7h-7zm-7 7h7v7h-7zm-6 7h6v6h-6zm-26 19h6v7h-6zm-20 13h6v7h-6zm-13 7h6v7h-6zm-13 7h6v6h-6zm-33 13h6v6h-6zm-20 6h7v7h-7zm-197 7h6v6h-6zm164 0h7v6h-7zm-112 6h33v7h-33zm40 0h33v7h-33z"/><path fill="#fb8212" d="M1812 28h7v7h-7zm0 7h7v6h-7zm-6 33h6v6h-6zm-7 33h7v6h-7zm-6 26h6v6h-6zm-7 33h7v6h-7zm-13 46h6v6h-6zm-158 263h7v6h-7zm-20 13h7v6h-7zm-52 26h6v7h-6zm-20 7h7v6h-7zm-20 6h7v7h-7zm-184 7h13v6h-13zm151 0h7v6h-7zm-72 6h7v7h-7z"/><path fill="#fb8313" d="M1812 22h7v6h-7zm-6 39h6v7h-6zm-7 33h7v7h-7zm-6 26h6v7h-6zm-7 33h7v7h-7zm-7 26h7v7h-7zm-6 20h6v7h-6zm-145 257h7v6h-7zm-6 6h6v7h-6zm-20 13h7v7h-7zm-20 13h7v7h-7zm-13 7h7v7h-7zm-13 7h7v6h-7zm-20 6h7v7h-7zm-19 7h6v6h-6zm-20 6h6v7h-6zm-165 7h7v6h-7zm125 0h13v6h-13z"/><path fill="#fb8413" d="M1812 18h7v4h-7zm-6 30h6v7h-6zm0 7h6v6h-6zm-7 32h7v7h-7zm-6 27h6v6h-6zm-7 33h7v6h-7zm-7 26h7v6h-7zm-13 46h7v6h-7zm-98 197h6v7h-6zm-7 7h7v6h-7zm-6 6h6v7h-6zm-7 7h7v6h-7zm-7 6h7v7h-7zm-6 7h6v7h-6zm-26 20h6v6h-6zm-20 13h6v6h-6zm-40 20h7v6h-7zm-249 19h6v7h-6zm190 0h7v7h-7zm-151 7h13v6h-13zm105 0h13v6h-13z"/><path fill="#fb8513" d="M1806 41h6v7h-6zm-7 40h7v6h-7zm-6 26h6v7h-6zm-7 33h7v7h-7zm-7 26h7v7h-7zm-6 27h6v6h-6zm-7 19h7v7h-7zm-6 20h6v7h-6zm-86 171h7v7h-7zm-59 59h7v7h-7zm-20 13h7v7h-7zm-19 13h6v7h-6zm-13 7h6v7h-6zm-33 13h6v7h-6zm-20 7h7v6h-7zm-204 6h13v7h-13zm171 0h13v7h-13zm-125 7h20v6h-20zm72 0h20v6h-20z"/><path fill="#fb8714" d="M1806 35h6v6h-6zm-7 33h7v6h-7zm0 6h7v7h-7zm-6 27h6v6h-6zm-7 32h7v7h-7zm-7 27h7v6h-7zm-6 26h6v7h-6zm-7 20h7v6h-7zm-98 204h6v6h-6zm-7 6h7v7h-7zm-33 33h7v7h-7zm-6 7h6v6h-6zm-40 26h7v6h-7zm-13 6h7v7h-7zm-13 7h7v7h-7zm-13 7h6v6h-6zm-20 6h7v7h-7zm-20 7h7v6h-7zm-184 6h7v7h-7zm151 0h7v7h-7zm-98 7h52v6h-52z"/><path fill="#fc8814" d="M1806 28h6v7h-6zm-7 33h7v7h-7zm-6 33h6v7h-6zm-7 33h7v6h-7zm-7 26h7v7h-7zm-6 26h6v7h-6zm-7 20h7v7h-7zm-6 26h6v7h-6zm-7 20h7v7h-7zm-72 145h6v6h-6zm-26 33h6v6h-6zm-7 6h7v7h-7zm-7 7h7v6h-7zm-6 6h6v7h-6zm-26 20h6v7h-6zm-7 7h7v6h-7zm-13 6h6v7h-6zm-53 27h7v6h-7zm-19 6h6v7h-6zm-20 7h6v6h-6zm-171 6h13v7h-13zm138 0h6v7h-6z"/><path fill="#fc8914" d="M1806 18h6v4h-6zm0 4h6v6h-6zm-7 33h7v6h-7zm-6 32h6v7h-6zm-7 33h7v7h-7zm-7 27h7v6h-7zm-6 26h6v6h-6zm-13 46h6v6h-6zm-7 20h7v6h-7zm-6 19h6v7h-6zm-60 119h7v6h-7zm-13 19h7v7h-7zm-6 7h6v7h-6zm-53 53h7v6h-7zm-39 26h6v6h-6zm-13 6h6v7h-6zm-14 7h7v7h-7zm-249 20h6v6h-6zm190 0h7v6h-7zm-151 6h13v7h-13zm112 0h13v7h-13z"/><path fill="#fc8a15" d="M1799 48h7v7h-7zm-6 33h6v6h-6zm-7 33h7v6h-7zm-7 26h7v7h-7zm-6 26h6v7h-6zm-7 27h7v6h-7zm-6 19h6v7h-6zm-7 20h7v7h-7zm-6 20h6v6h-6zm-7 19h7v7h-7zm-7 14h7v6h-7zm-39 79h7v6h-7zm-13 19h6v7h-6zm-20 27h7v6h-7zm-6 6h6v7h-6zm-7 7h7v6h-7zm-7 6h7v7h-7zm-6 7h6v6h-6zm-7 6h7v7h-7zm-6 7h6v7h-6zm-27 20h7v6h-7zm-13 6h7v7h-7zm-39 20h6v7h-6zm-13 7h6v6h-6zm-20 6h7v7h-7zm-204 7h13v6h-13zm178 0h6v6h-6zm-132 6h13v7h-13zm79 0h20v7h-20z"/><path fill="#fc8b15" d="M1799 41h7v7h-7zm-6 33h6v7h-6zm-7 33h7v7h-7zm-7 26h7v7h-7zm-6 27h6v6h-6zm-7 26h7v7h-7zm-6 20h6v6h-6zm-7 19h7v7h-7zm-6 20h6v7h-6zm-7 20h7v6h-7zm-13 33h6v6h-6zm-7 13h7v6h-7zm-6 13h6v7h-6zm-7 13h7v7h-7zm-6 13h6v7h-6zm-14 20h7v7h-7zm-13 20h7v6h-7zm-65 66h6v6h-6zm-7 6h7v7h-7zm-33 20h7v6h-7zm-13 6h7v7h-7zm-33 14h7v6h-7zm-20 6h7v7h-7zm-184 7h7v6h-7zm151 0h14v6h-14zm-105 6h66v7h-66z"/><path fill="#fc8c16" d="M1799 28h7v7h-7zm0 7h7v6h-7zm-6 33h6v6h-6zm-7 33h7v6h-7zm-7 26h7v6h-7zm-6 26h6v7h-6zm-7 26h7v7h-7zm-6 20h6v7h-6zm-20 59h7v7h-7zm-7 20h7v7h-7zm-6 13h6v7h-6zm-33 66h7v7h-7zm-13 20h6v6h-6zm-13 19h6v7h-6zm-7 7h7v7h-7zm-46 46h7v7h-7zm-26 20h6v6h-6zm-13 6h6v7h-6zm-27 13h7v7h-7zm-13 7h7v7h-7zm-19 7h6v6h-6zm-224 6h7v7h-7zm204 0h6v7h-6zm-171 7h13v6h-13zm138 0h6v6h-6z"/><path fill="#fc8d16" d="M1799 22h7v6h-7zm-6 33h6v6h-6zm0 6h6v7h-6zm-7 26h7v7h-7zm0 7h7v7h-7zm-7 26h7v7h-7zm-6 27h6v6h-6zm-7 26h7v6h-7zm-13 46h7v6h-7zm-6 20h6v6h-6zm-14 32h7v7h-7zm-13 33h7v7h-7zm-6 13h6v7h-6zm-7 14h7v6h-7zm-6 13h6v6h-6zm-14 20h7v6h-7zm-13 19h7v7h-7zm-19 27h6v6h-6zm-7 6h7v7h-7zm-7 7h7v6h-7zm-6 6h6v7h-6zm-7 7h7v6h-7zm-6 6h6v7h-6zm-27 20h7v7h-7zm-32 20h6v6h-6zm-33 13h6v7h-6zm-20 7h7v6h-7zm-210 6h6v7h-6zm190 0h7v7h-7zm-151 7h7v6h-7zm112 0h13v6h-13z"/><path fill="#fc8e16" d="M1799 18h7v4h-7zm-6 30h6v7h-6zm-7 33h7v6h-7zm-7 33h7v6h-7zm-6 26h6v7h-6zm-7 26h7v7h-7zm-6 27h6v6h-6zm-7 19h7v7h-7zm-6 20h6v7h-6zm-7 20h7v6h-7zm-13 33h6v6h-6zm-7 13h7v6h-7zm-19 39h6v7h-6zm-7 13h7v7h-7zm-13 20h6v7h-6zm-13 20h6v6h-6zm-7 6h7v7h-7zm-52 53h6v7h-6zm-7 7h7v6h-7zm-20 13h7v6h-7zm-13 6h7v7h-7zm-13 7h7v6h-7zm-13 6h6v7h-6zm-237 20h13v7h-13zm178 0h6v7h-6zm-138 7h19v6h-19zm92 0h13v6h-13z"/><path fill="#fc8f17" d="M1793 41h6v7h-6zm-7 33h7v7h-7zm-7 33h7v7h-7zm-6 26h6v7h-6zm-7 27h7v6h-7zm-6 26h6v7h-6zm-7 20h7v6h-7zm-6 19h6v7h-6zm-7 20h7v7h-7zm-7 20h7v6h-7zm-6 13h6v7h-6zm-13 33h6v6h-6zm-7 13h7v7h-7zm-20 33h7v7h-7zm-13 20h7v6h-7zm-19 26h6v7h-6zm-7 7h7v6h-7zm-20 19h7v7h-7zm-6 7h6v6h-6zm-7 6h7v7h-7zm-26 20h6v7h-6zm-66 33h7v7h-7zm-20 7h7v6h-7zm-184 6h7v7h-7zm151 0h14v7h-14zm-105 7h73v6h-73z"/><path fill="#fc9117" d="M1793 35h6v6h-6zm-7 33h7v6h-7zm-7 33h7v6h-7zm-6 26h6v6h-6zm-7 26h7v7h-7zm-6 26h6v7h-6zm-7 20h7v7h-7zm-20 59h7v7h-7zm-13 33h7v7h-7zm-6 13h6v7h-6zm-7 13h7v7h-7zm-6 14h6v6h-6zm-7 13h7v6h-7zm-13 20h6v6h-6zm-13 19h6v7h-6zm-27 33h7v7h-7zm-6 7h6v6h-6zm-40 33h7v6h-7zm-19 13h6v6h-6zm-13 6h6v7h-6zm-14 7h7v6h-7zm-13 6h7v7h-7zm-19 7h6v7h-6zm-224 7h7v6h-7zm204 0h6v6h-6zm-171 6h13v7h-13zm138 0h6v7h-6z"/><path fill="#fc9217" d="M1793 28h6v7h-6zm-7 33h7v7h-7zm-7 33h7v7h-7zm-6 26h6v7h-6zm-7 27h7v6h-7zm-6 26h6v6h-6zm-13 46h6v6h-6zm-7 20h7v6h-7zm-13 32h6v7h-6zm-7 14h7v6h-7zm-33 65h7v7h-7zm-13 20h7v7h-7zm-13 20h7v6h-7zm-6 6h6v7h-6zm-46 46h6v7h-6zm-7 7h7v7h-7zm-20 13h7v7h-7zm-13 7h7v6h-7zm-26 13h6v6h-6zm-13 6h6v7h-6zm-20 7h7v7h-7zm-210 7h6v6h-6zm190 0h7v6h-7zm-151 6h7v7h-7zm112 0h13v7h-13z"/><path fill="#fd9318" d="M1793 18h6v4h-6zm0 4h6v6h-6zm-7 33h7v6h-7zm-7 32h7v7h-7zm-6 27h6v6h-6zm-7 26h7v7h-7zm-6 26h6v7h-6zm-7 27h7v6h-7zm-6 19h6v7h-6zm-7 20h7v7h-7zm-7 20h7v6h-7zm-6 13h6v6h-6zm-13 33h6v6h-6zm-7 13h7v6h-7zm-6 13h6v7h-6zm-7 13h7v7h-7zm-13 20h6v7h-6zm-13 20h6v6h-6zm-20 26h7v7h-7zm-7 7h7v6h-7zm-6 6h6v7h-6zm-7 7h7v6h-7zm-6 6h6v7h-6zm-7 7h7v6h-7zm-26 20h6v6h-6zm-33 19h7v7h-7zm-33 13h7v7h-7zm-20 7h7v7h-7zm-197 7h13v6h-13zm171 0h13v6h-13zm-131 6h19v7h-19zm92 0h13v7h-13z"/><path fill="#fd9418" d="M1786 41h7v7h-7zm0 7h7v7h-7zm-7 33h7v6h-7zm-6 26h6v7h-6zm-7 26h7v7h-7zm-6 27h6v6h-6zm-7 26h7v7h-7zm-6 20h6v6h-6zm-7 19h7v7h-7zm-7 20h7v7h-7zm-13 33h7v7h-7zm-6 13h6v7h-6zm-20 40h7v6h-7zm-7 13h7v6h-7zm-13 20h7v6h-7zm-13 19h7v7h-7zm-59 59h7v7h-7zm-7 7h7v7h-7zm-19 13h6v7h-6zm-13 7h6v6h-6zm-14 6h7v7h-7zm-13 7h7v6h-7zm-250 13h7v7h-7zm211 0h6v7h-6zm-178 7h7v6h-7zm151 0h7v6h-7zm-105 6h73v7h-73z"/><path fill="#fd9519" d="M1786 35h7v6h-7zm-7 33h7v6h-7zm0 6h7v7h-7zm-6 27h6v6h-6zm-7 26h7v6h-7zm-6 26h6v7h-6zm-7 26h7v7h-7zm-6 20h6v7h-6zm-7 20h7v6h-7zm-7 20h7v6h-7zm-6 19h6v7h-6zm-7 13h7v7h-7zm-13 33h7v7h-7zm-6 13h6v7h-6zm-20 33h6v7h-6zm-13 20h6v7h-6zm-13 20h6v6h-6zm-7 6h7v7h-7zm-7 7h7v7h-7zm-19 20h6v6h-6zm-7 6h7v7h-7zm-6 7h6v6h-6zm-27 20h7v6h-7zm-13 6h7v7h-7zm-39 20h6v6h-6zm-13 6h6v7h-6zm-224 7h13v7h-13zm197 0h7v7h-7zm-164 7h13v6h-13zm138 0h6v6h-6z"/><path fill="#fd9619" d="M1786 28h7v7h-7zm-7 33h7v7h-7zm-6 33h6v7h-6zm-7 26h7v7h-7zm-6 27h6v6h-6zm-7 26h7v6h-7zm-6 20h6v6h-6zm-20 59h6v6h-6zm-13 33h6v6h-6zm-7 13h7v6h-7zm-6 13h6v6h-6zm-7 13h7v7h-7zm-7 13h7v7h-7zm-13 20h7v7h-7zm-13 20h7v6h-7zm-26 33h6v6h-6zm-7 6h7v7h-7zm-33 26h7v7h-7zm-6 7h6v7h-6zm-33 20h7v6h-7zm-13 6h6v7h-6zm-33 13h7v7h-7zm-204 7h7v7h-7zm178 0h6v7h-6zm-145 7h13v6h-13zm112 0h13v6h-13z"/><path fill="#fd9719" d="M1786 22h7v6h-7zm-7 33h7v6h-7zm-6 32h6v7h-6zm-7 27h7v6h-7zm-6 26h6v7h-6zm-7 26h7v7h-7zm-13 46h7v7h-7zm-7 20h7v7h-7zm-13 33h7v6h-7zm-6 13h6v7h-6zm-33 66h6v6h-6zm-13 20h6v6h-6zm-13 19h6v7h-6zm-7 7h7v6h-7zm-46 46h7v6h-7zm-26 20h6v6h-6zm-13 6h6v7h-6zm-14 7h7v6h-7zm-13 6h7v7h-7zm-13 7h7v6h-7zm-237 6h7v7h-7zm217 0h7v7h-7zm-190 7h6v7h-6zm164 0h7v7h-7zm-125 7h13v6h-13zm79 0h20v6h-20z"/><path fill="#fd981a" d="M1786 18h7v4h-7zm-7 30h7v7h-7zm-6 33h6v6h-6zm-7 26h7v7h-7zm-6 26h6v7h-6zm-7 27h7v6h-7zm-6 26h6v7h-6zm-7 20h7v6h-7zm-7 19h7v7h-7zm-6 20h6v7h-6zm-7 13h7v7h-7zm-13 33h7v7h-7zm-6 13h6v7h-6zm-7 13h7v7h-7zm-7 14h7v6h-7zm-13 19h7v7h-7zm-13 20h7v7h-7zm-20 26h7v7h-7zm-6 7h6v7h-6zm-7 7h7v6h-7zm-6 6h6v7h-6zm-7 7h7v6h-7zm-6 6h6v7h-6zm-27 20h7v7h-7zm-65 33h6v6h-6zm-224 6h7v7h-7zm204 0h6v7h-6zm-178 7h13v7h-13zm151 0h7v7h-7zm-105 7h66v6h-66z"/><path fill="#fd991a" d="M1779 41h7v7h-7zm-6 33h6v7h-6zm-7 27h7v6h-7zm-6 26h6v6h-6zm-7 26h7v7h-7zm-6 26h6v7h-6zm-7 20h7v7h-7zm-7 20h7v6h-7zm-6 20h6v6h-6zm-13 32h6v7h-6zm-7 14h7v6h-7zm-20 39h7v7h-7zm-6 13h6v7h-6zm-13 20h6v7h-6zm-13 20h6v6h-6zm-7 6h7v7h-7zm-53 53h7v6h-7zm-6 6h6v7h-6zm-20 14h7v6h-7zm-13 6h7v7h-7zm-13 7h6v6h-6zm-13 6h6v7h-6zm-20 7h7v6h-7zm-210 6h6v7h-6zm190 0h7v7h-7zm-158 7h7v7h-7zm125 0h13v7h-13z"/><path fill="#fd9a1a" d="M1779 28h7v7h-7zm0 7h7v6h-7zm-6 26h6v7h-6zm0 7h6v6h-6zm-7 26h7v7h-7zm-6 26h6v7h-6zm-7 27h7v6h-7zm-6 26h6v6h-6zm-7 20h7v6h-7zm-7 19h7v7h-7zm-6 20h6v7h-6zm-7 20h7v6h-7zm-6 13h6v6h-6zm-13 33h6v6h-6zm-7 13h7v6h-7zm-20 33h7v6h-7zm-13 20h7v6h-7zm-20 26h7v6h-7zm-6 6h6v7h-6zm-7 7h7v7h-7zm-6 7h6v6h-6zm-7 6h7v7h-7zm-6 7h6v6h-6zm-7 6h7v7h-7zm-26 20h6v7h-6zm-13 7h6v6h-6zm-40 19h7v7h-7zm-243 7h6v6h-6zm223 0h7v6h-7zm-197 6h7v7h-7zm178 0h6v7h-6zm-145 7h13v7h-13zm105 0h13v7h-13z"/><path fill="#fd9c1b" d="M1779 22h7v6h-7zm-6 33h6v6h-6zm-7 32h7v7h-7zm-6 27h6v6h-6zm-7 26h7v7h-7zm-6 26h6v7h-6zm-7 20h7v7h-7zm-13 39h6v7h-6zm-7 20h7v7h-7zm-13 33h7v7h-7zm-6 13h6v7h-6zm-7 13h7v7h-7zm-7 13h7v7h-7zm-6 14h6v6h-6zm-13 19h6v7h-6zm-13 20h6v7h-6zm-66 66h6v6h-6zm-7 6h7v7h-7zm-13 7h7v7h-7zm-20 13h7v7h-7zm-13 7h7v6h-7zm-19 6h6v7h-6zm-231 7h7v6h-7zm211 0h6v6h-6zm-184 6h13v7h-13zm157 0h14v7h-14zm-118 7h20v7h-20zm72 0h20v7h-20z"/><path fill="#fd9d1b" d="M1779 18h7v4h-7zm-6 30h6v7h-6zm-7 33h7v6h-7zm-6 26h6v7h-6zm-7 26h7v7h-7zm-6 27h6v6h-6zm-14 46h7v6h-7zm-13 33h7v6h-7zm-6 19h6v7h-6zm-7 13h7v7h-7zm-33 66h7v7h-7zm-13 20h7v7h-7zm-13 20h7v6h-7zm-7 6h7v7h-7zm-6 7h6v6h-6zm-33 33h7v6h-7zm-7 6h7v7h-7zm-19 13h6v7h-6zm-20 14h7v6h-7zm-13 6h6v7h-6zm-13 7h6v6h-6zm-237 13h7v6h-7zm197 0h7v6h-7zm-164 6h6v7h-6zm138 0h6v7h-6zm-92 7h52v7h-52z"/><path fill="#fe9e1c" d="M1773 41h6v7h-6zm-7 33h7v7h-7zm-6 27h6v6h-6zm-7 26h7v6h-7zm-6 26h6v7h-6zm-7 26h7v7h-7zm-7 20h7v7h-7zm-6 20h6v6h-6zm-13 33h6v6h-6zm-13 33h6v6h-6zm-7 13h7v6h-7zm-7 13h7v6h-7zm-6 13h6v7h-6zm-13 20h6v6h-6zm-13 20h6v6h-6zm-27 32h7v7h-7zm-6 7h6v7h-6zm-7 7h7v6h-7zm-6 6h6v7h-6zm-27 20h7v6h-7zm-19 13h6v7h-6zm-40 20h7v6h-7zm-243 6h6v7h-6zm230 0h7v7h-7zm-210 7h13v6h-13zm184 0h6v6h-6zm-152 6h14v7h-14zm119 0h13v7h-13z"/><path fill="#fe9f1c" d="M1773 35h6v6h-6zm-7 33h7v6h-7zm-6 26h6v7h-6zm-7 26h7v7h-7zm-6 27h6v6h-6zm-7 26h7v6h-7zm-7 20h7v6h-7zm-6 19h6v7h-6zm-7 20h7v7h-7zm-13 33h7v6h-7zm-6 13h6v7h-6zm-7 13h7v7h-7zm-7 13h7v7h-7zm-6 13h6v7h-6zm-7 14h7v6h-7zm-13 19h7v7h-7zm-13 20h7v7h-7zm-7 7h7v6h-7zm-46 46h7v6h-7zm-6 6h6v7h-6zm-20 13h7v7h-7zm-20 14h7v6h-7zm-13 6h7v7h-7zm-250 13h7v7h-7zm217 0h7v7h-7zm-190 7h6v6h-6zm164 0h7v6h-7zm-131 6h13v7h-13zm92 0h13v7h-13z"/><path fill="#fea01c" d="M1773 22h6v6h-6zm0 6h6v7h-6zm-7 27h7v6h-7zm0 6h7v7h-7zm-6 26h6v7h-6zm-7 27h7v6h-7zm-6 26h6v7h-6zm-7 26h7v7h-7zm-7 20h7v7h-7zm-6 20h6v6h-6zm-7 19h7v7h-7zm-6 20h6v7h-6zm-7 13h7v7h-7zm-39 79h6v7h-6zm-13 20h6v7h-6zm-20 26h6v7h-6zm-7 7h7v6h-7zm-6 6h6v7h-6zm-7 7h7v7h-7zm-6 7h6v6h-6zm-7 6h7v7h-7zm-26 20h6v6h-6zm-20 13h7v7h-7zm-13 7h6v6h-6zm-13 6h6v7h-6zm-13 7h6v6h-6zm-224 6h7v7h-7zm204 0h6v7h-6zm-178 7h7v6h-7zm151 0h7v6h-7zm-111 6h26v7h-26zm52 0h27v7h-27z"/><path fill="#fea11d" d="M1773 18h6v4h-6zm-7 30h7v7h-7zm-6 33h6v6h-6zm-7 26h7v7h-7zm-6 26h6v7h-6zm-7 27h7v6h-7zm-7 19h7v7h-7zm-6 20h6v7h-6zm-7 20h7v6h-7zm-6 20h6v6h-6zm-13 32h6v7h-6zm-7 14h7v6h-7zm-7 13h7v6h-7zm-6 13h6v6h-6zm-7 13h7v7h-7zm-13 20h7v6h-7zm-13 20h7v6h-7zm-7 6h7v7h-7zm-59 59h7v7h-7zm-19 13h6v7h-6zm-40 20h7v7h-7zm-13 7h7v6h-7zm-210 6h6v7h-6zm190 0h7v7h-7zm-164 7h13v6h-13zm131 0h13v6h-13zm-72 6h26v7h-26z"/><path fill="#fea21d" d="M1766 41h7v7h-7zm-6 33h6v7h-6zm-7 27h7v6h-7zm-6 26h6v6h-6zm-7 26h7v7h-7zm-7 20h7v6h-7zm-19 59h6v7h-6zm-7 20h7v6h-7zm-6 13h6v6h-6zm-27 52h7v7h-7zm-6 14h6v6h-6zm-13 19h6v7h-6zm-20 27h6v6h-6zm-7 6h7v7h-7zm-6 7h6v6h-6zm-13 13h6v7h-6zm-7 7h7v6h-7zm-7 6h7v7h-7zm-6 7h6v6h-6zm-20 13h7v6h-7zm-20 13h7v7h-7zm-13 7h7v6h-7zm-256 13h6v6h-6zm223 0h7v6h-7zm-197 6h7v7h-7zm171 0h13v7h-13zm-138 7h13v6h-13zm105 0h13v6h-13z"/><path fill="#fea31d" d="M1766 35h7v6h-7zm-6 33h6v6h-6zm-7 26h7v7h-7zm-6 26h6v7h-6zm-7 27h7v6h-7zm-7 19h7v7h-7zm-6 27h6v6h-6zm-7 19h7v7h-7zm-13 33h7v7h-7zm-13 33h7v7h-7zm-7 13h7v7h-7zm-6 13h6v7h-6zm-20 33h7v7h-7zm-13 20h7v7h-7zm-7 7h7v6h-7zm-26 32h7v7h-7zm-39 33h6v7h-6zm-20 13h7v7h-7zm-13 7h6v7h-6zm-13 7h6v6h-6zm-13 6h6v7h-6zm-231 7h14v6h-14zm211 0h6v6h-6zm-184 6h13v7h-13zm157 0h7v7h-7zm-118 7h20v6h-20zm79 0h13v6h-13z"/><path fill="#fea41e" d="M1766 22h7v6h-7zm0 6h7v7h-7zm-6 27h6v6h-6zm0 6h6v7h-6zm-7 26h7v7h-7zm-6 27h6v6h-6zm-7 26h7v7h-7zm-13 46h6v7h-6zm-7 20h7v6h-7zm-6 19h6v7h-6zm-7 14h7v6h-7zm-6 19h6v7h-6zm-7 13h7v7h-7zm-7 14h7v6h-7zm-6 13h6v6h-6zm-7 13h7v6h-7zm-6 13h6v7h-6zm-13 20h6v6h-6zm-20 26h6v7h-6zm-7 7h7v6h-7zm-33 33h7v6h-7zm-6 6h6v7h-6zm-7 7h7v6h-7zm-19 13h6v6h-6zm-14 6h7v7h-7zm-26 14h7v6h-7zm-250 6h7v7h-7zm237 0h7v7h-7zm-210 7h6v6h-6zm190 0h7v6h-7zm-164 6h6v7h-6zm138 0h6v7h-6zm-92 7h59v6h-59z"/><path fill="#fea61e" d="M1766 18h7v4h-7zm-6 30h6v7h-6zm-7 33h7v6h-7zm-6 26h6v7h-6zm-7 26h7v7h-7zm-7 27h7v6h-7zm-6 19h6v7h-6zm-7 20h7v7h-7zm-6 20h6v6h-6zm-13 33h6v6h-6zm-7 13h7v6h-7zm-26 52h6v7h-6zm-7 14h7v6h-7zm-13 19h7v7h-7zm-7 7h7v7h-7zm-19 26h6v7h-6zm-7 7h7v6h-7zm-6 6h6v7h-6zm-7 7h7v7h-7zm-26 20h6v6h-6zm-7 6h7v7h-7zm-33 20h7v7h-7zm-256 13h6v7h-6zm223 0h7v7h-7zm-197 7h7v6h-7zm178 0h6v6h-6zm-152 6h14v7h-14zm119 0h13v7h-13z"/><path fill="#fea71f" d="M1760 41h6v7h-6zm-7 33h7v7h-7zm-6 27h6v6h-6zm-7 26h7v6h-7zm-7 26h7v7h-7zm-6 20h6v6h-6zm-7 20h7v6h-7zm-6 19h6v7h-6zm-7 20h7v7h-7zm-6 13h6v7h-6zm-14 33h7v7h-7zm-6 13h6v7h-6zm-7 13h7v7h-7zm-13 20h7v7h-7zm-6 13h6v7h-6zm-20 27h6v6h-6zm-7 6h7v7h-7zm-46 46h7v7h-7zm-19 13h6v7h-6zm-7 7h7v6h-7zm-13 6h6v7h-6zm-13 7h6v7h-6zm-13 7h6v6h-6zm-231 6h7v7h-7zm211 0h6v7h-6zm-184 7h6v6h-6zm164 0h7v6h-7zm-131 6h19v7h-19zm92 0h13v7h-13z"/><path fill="#fea81f" d="M1760 35h6v6h-6zm-7 33h7v6h-7zm-6 26h6v7h-6zm-7 26h7v7h-7zm-7 27h7v6h-7zm-6 19h6v7h-6zm-7 20h7v7h-7zm-6 20h6v6h-6zm-7 19h7v7h-7zm-13 33h7v7h-7zm-7 13h7v7h-7zm-6 14h6v6h-6zm-7 13h7v6h-7zm-6 13h6v6h-6zm-13 20h6v6h-6zm-7 13h7v6h-7zm-7 6h7v7h-7zm-19 27h6v6h-6zm-7 6h7v7h-7zm-6 7h6v6h-6zm-7 6h7v7h-7zm-7 7h7v7h-7zm-6 7h6v6h-6zm-20 13h7v6h-7zm-20 13h7v6h-7zm-13 6h7v7h-7zm-13 7h7v7h-7zm-250 7h7v6h-7zm237 0h7v6h-7zm-217 6h13v7h-13zm197 0h7v7h-7zm-171 7h13v6h-13zm145 0h13v6h-13zm-99 6h73v7h-73z"/><path fill="#ffa91f" d="M1760 22h6v6h-6zm0 6h6v7h-6zm-7 27h7v6h-7zm0 6h7v7h-7zm-6 26h6v7h-6zm-7 27h7v6h-7zm-7 26h7v7h-7zm-6 20h6v6h-6zm-20 59h7v6h-7zm-6 20h6v6h-6zm-7 13h7v6h-7zm-33 65h7v7h-7zm-13 20h7v7h-7zm-13 20h6v7h-6zm-7 7h7v6h-7zm-52 52h6v7h-6zm-20 13h7v7h-7zm-276 27h6v6h-6zm223 0h7v6h-7zm-197 6h7v7h-7zm178 0h6v7h-6zm-152 7h14v6h-14zm119 0h13v6h-13z"/><path fill="#ffaa20" d="M1760 18h6v4h-6zm-7 30h7v7h-7zm-6 33h6v6h-6zm-7 26h7v7h-7zm-7 26h7v7h-7zm-6 20h6v7h-6zm-7 26h7v7h-7zm-6 20h6v7h-6zm-13 33h6v7h-6zm-14 33h7v6h-7zm-6 13h6v7h-6zm-7 13h7v7h-7zm-6 13h6v7h-6zm-13 20h6v7h-6zm-14 20h7v6h-7zm-19 26h6v7h-6zm-7 7h7v6h-7zm-6 6h6v7h-6zm-7 7h7v6h-7zm-7 6h7v7h-7zm-6 7h6v7h-6zm-7 7h7v6h-7zm-19 13h6v6h-6zm-20 13h6v6h-6zm-13 6h6v7h-6zm-13 7h6v7h-6zm-231 7h7v6h-7zm211 0h6v6h-6zm-184 6h6v7h-6zm164 0h7v7h-7zm-131 7h13v6h-13zm92 0h13v6h-13z"/><path fill="#ffab20" d="M1753 41h7v7h-7zm-6 33h6v7h-6zm-7 27h7v6h-7zm-7 26h7v6h-7zm-6 20h6v6h-6zm-7 26h7v6h-7zm-6 20h6v6h-6zm-7 19h7v7h-7zm-6 13h6v7h-6zm-7 20h7v7h-7zm-7 13h7v7h-7zm-6 13h6v7h-6zm-7 14h7v6h-7zm-6 13h6v6h-6zm-7 13h7v6h-7zm-13 20h7v6h-7zm-13 19h6v7h-6zm-7 7h7v7h-7zm-52 53h6v6h-6zm-7 6h7v7h-7zm-20 13h7v7h-7zm-13 7h7v6h-7zm-13 6h7v7h-7zm-250 7h7v7h-7zm237 0h7v7h-7zm-217 7h7v6h-7zm197 0h7v6h-7zm-171 6h13v7h-13zm145 0h13v7h-13zm-105 7h19v6h-19zm59 0h20v6h-20z"/><path fill="#ffac20" d="M1753 35h7v6h-7zm-6 26h6v7h-6zm0 7h6v6h-6zm-7 26h7v7h-7zm-7 26h7v7h-7zm-6 20h6v7h-6zm-7 26h7v7h-7zm-6 20h6v7h-6zm-7 20h7v6h-7zm-13 33h7v6h-7zm-7 13h7v6h-7zm-26 52h7v7h-7zm-6 13h6v7h-6zm-14 20h7v7h-7zm-19 27h6v6h-6zm-7 6h7v7h-7zm-6 7h6v6h-6zm-14 13h7v6h-7zm-6 6h6v7h-6zm-7 7h7v7h-7zm-26 20h7v6h-7zm-13 6h6v7h-6zm-263 20h6v7h-6zm223 0h7v7h-7zm-203 7h13v6h-13zm184 0h6v6h-6zm-152 6h7v7h-7zm125 0h7v7h-7zm-79 7h40v6h-40z"/><path fill="#ffad21" d="M1753 22h7v6h-7zm0 6h7v7h-7zm-6 27h6v6h-6zm-7 32h7v7h-7zm-7 27h7v6h-7zm-6 19h6v7h-6zm-7 27h7v6h-7zm-6 19h6v7h-6zm-7 20h7v7h-7zm-6 20h6v6h-6zm-7 13h7v7h-7zm-13 33h6v6h-6zm-7 13h7v7h-7zm-6 13h6v7h-6zm-20 33h7v7h-7zm-13 20h6v6h-6zm-7 6h7v7h-7zm-26 33h7v7h-7zm-33 27h7v6h-7zm-6 6h6v7h-6zm-14 7h7v6h-7zm-19 13h6v6h-6zm-263 6h6v7h-6zm250 0h6v7h-6zm-231 7h7v7h-7zm211 0h6v7h-6zm-184 7h6v6h-6zm164 0h7v6h-7zm-138 6h13v7h-13zm105 0h13v7h-13z"/><path fill="#ffae22" d="M1753 18h7v4h-7zm-6 30h6v7h-6zm-7 26h7v7h-7zm0 7h7v6h-7zm-7 26h7v7h-7zm-6 20h6v6h-6zm-7 26h7v7h-7zm-6 20h6v6h-6zm-7 20h7v6h-7zm-6 19h6v7h-6zm-14 33h7v7h-7zm-6 13h6v7h-6zm-7 13h7v7h-7zm-6 14h6v6h-6zm-7 13h7v6h-7zm-6 13h6v6h-6zm-14 20h7v6h-7zm-19 26h6v7h-6zm-7 7h7v6h-7zm-33 32h7v7h-7zm-6 7h6v7h-6zm-20 13h7v7h-7zm-20 13h7v7h-7zm-13 7h7v6h-7zm-250 6h7v7h-7zm237 0h7v7h-7zm-217 7h7v7h-7zm197 0h7v7h-7zm-171 7h7v6h-7zm145 0h13v6h-13zm-112 6h26v7h-26zm72 0h20v7h-20z"/><path fill="#ffaf23" d="M1747 41h6v7h-6zm-7 27h7v6h-7zm-7 33h7v6h-7zm-6 19h6v7h-6zm-7 27h7v6h-7zm-6 19h6v7h-6zm-7 20h7v7h-7zm-6 20h6v6h-6zm-7 19h7v7h-7zm-7 14h7v6h-7zm-32 65h6v7h-6zm-7 13h7v7h-7zm-13 20h6v7h-6zm-7 7h7v6h-7zm-19 26h6v7h-6zm-7 7h7v6h-7zm-7 6h7v7h-7zm-6 7h6v6h-6zm-26 20h6v6h-6zm-20 13h6v6h-6zm-13 6h6v7h-6zm-13 7h6v6h-6zm-237 6h6v7h-6zm223 0h7v7h-7zm-203 7h13v7h-13zm184 0h6v7h-6zm-158 7h13v6h-13zm131 0h7v6h-7zm-79 6h46v7h-46z"/><path fill="#ffb025" d="M1747 35h6v6h-6zm-7 26h7v7h-7zm-7 26h7v7h-7zm0 7h7v7h-7zm-6 20h6v6h-6zm-7 26h7v7h-7zm-6 20h6v6h-6zm-7 19h7v7h-7zm-6 20h6v7h-6zm-7 20h7v6h-7zm-13 33h6v6h-6zm-7 13h7v6h-7zm-6 13h6v7h-6zm-7 13h7v7h-7zm-13 20h7v6h-7zm-7 13h7v7h-7zm-6 7h6v6h-6zm-13 19h6v7h-6zm-7 7h7v7h-7zm-39 39h6v7h-6zm-7 7h7v7h-7zm-20 13h7v7h-7zm-282 20h6v6h-6zm243 0h7v6h-7zm-224 6h7v7h-7zm211 0h6v7h-6zm-184 7h6v7h-6zm164 0h7v7h-7zm-138 7h13v6h-13zm105 0h13v6h-13z"/><path fill="#ffb127" d="M1747 22h6v6h-6zm0 6h6v7h-6zm-7 27h7v6h-7zm-7 26h7v6h-7zm-6 26h6v7h-6zm-7 26h7v7h-7zm-6 20h6v7h-6zm-13 40h6v6h-6zm-7 19h7v7h-7zm-7 20h7v7h-7zm-6 13h6v7h-6zm-7 13h7v7h-7zm-6 13h6v7h-6zm-7 14h7v6h-7zm-6 13h6v6h-6zm-14 19h7v7h-7zm-13 20h7v7h-7zm-19 27h6v6h-6zm-7 6h7v7h-7zm-7 7h7v6h-7zm-6 6h6v7h-6zm-7 7h7v6h-7zm-26 20h7v6h-7zm-20 13h7v6h-7zm-13 6h7v7h-7zm-250 7h7v6h-7zm20 6h13v7h-13zm197 0h7v7h-7zm-171 7h13v7h-13zm145 0h13v7h-13zm-112 7h20v6h-20zm72 0h20v6h-20z"/><path fill="#ffb229" d="M1747 18h6v4h-6zm-7 30h7v7h-7zm-7 26h7v7h-7zm-6 27h6v6h-6zm-7 26h7v6h-7zm-6 20h6v6h-6zm-7 26h7v6h-7zm-13 33h7v6h-7zm-7 19h7v7h-7zm-6 14h6v6h-6zm-33 65h7v7h-7zm-13 20h6v7h-6zm-13 20h6v6h-6zm-7 6h7v7h-7zm-39 40h6v6h-6zm-7 6h7v7h-7zm-6 7h6v7h-6zm-14 7h7v6h-7zm-6 6h6v7h-6zm-13 7h6v6h-6zm-263 6h6v7h-6zm250 0h6v7h-6zm-237 7h13v6h-13zm223 0h7v6h-7zm-197 6h7v7h-7zm178 0h6v7h-6zm-152 7h7v7h-7zm125 0h7v7h-7zm-85 7h52v6h-52z"/><path fill="#ffb32a" d="M1740 41h7v7h-7zm-7 27h7v6h-7zm-6 26h6v7h-6zm-7 26h7v7h-7zm-6 20h6v7h-6zm-7 26h7v7h-7zm-6 20h6v7h-6zm-14 33h7v6h-7zm-13 33h7v6h-7zm-6 13h6v6h-6zm-7 13h7v7h-7zm-6 13h6v7h-6zm-14 20h7v6h-7zm-13 20h7v6h-7zm-19 26h6v7h-6zm-7 7h7v6h-7zm-7 6h7v7h-7zm-6 7h6v6h-6zm-7 6h7v7h-7zm-26 20h7v7h-7zm-20 13h7v7h-7zm-13 7h7v6h-7zm-250 6h7v7h-7zm237 0h7v7h-7zm-217 7h7v6h-7zm204 0h6v6h-6zm-184 6h6v7h-6zm164 0h7v7h-7zm-138 7h13v7h-13zm105 0h13v7h-13z"/><path fill="#ffb42c" d="M1740 28h7v7h-7zm0 7h7v6h-7zm-7 26h7v7h-7zm-6 26h6v7h-6zm-7 27h7v6h-7zm-13 46h7v6h-7zm-6 19h6v7h-6zm-7 20h7v7h-7zm-7 13h7v7h-7zm-6 20h6v7h-6zm-7 13h7v7h-7zm-6 13h6v7h-6zm-7 13h7v7h-7zm-6 14h6v6h-6zm-7 13h7v6h-7zm-13 19h6v7h-6zm-13 20h6v7h-6zm-7 7h7v6h-7zm-46 46h7v6h-7zm-6 6h6v7h-6zm-20 14h6v6h-6zm-263 19h6v7h-6zm223 0h7v7h-7zm-203 7h6v6h-6zm190 0h7v6h-7zm-171 6h13v7h-13zm145 0h13v7h-13zm-112 7h20v7h-20zm72 0h20v7h-20z"/><path fill="#ffb52e" d="M1740 22h7v6h-7zm-7 33h7v6h-7zm-6 26h6v6h-6zm-7 26h7v7h-7zm-6 26h6v7h-6zm-7 20h7v7h-7zm-6 20h6v6h-6zm-7 20h7v6h-7zm-13 32h6v7h-6zm-7 14h7v6h-7zm-26 52h7v7h-7zm-7 13h7v7h-7zm-13 20h7v7h-7zm-6 7h6v6h-6zm-13 19h6v7h-6zm-7 7h7v7h-7zm-7 7h7v6h-7zm-6 6h6v7h-6zm-7 7h7v6h-7zm-6 6h6v7h-6zm-27 20h7v7h-7zm-19 13h6v7h-6zm-263 7h6v6h-6zm250 0h6v6h-6zm-231 6h7v7h-7zm211 0h6v7h-6zm-191 7h7v6h-7zm178 0h6v6h-6zm-152 6h7v7h-7zm125 0h7v7h-7zm-85 7h52v7h-52z"/><path fill="#ffb630" d="M1740 18h7v4h-7zm-7 23h7v7h-7zm0 7h7v7h-7zm-6 26h6v7h-6zm-7 27h7v6h-7zm-6 26h6v6h-6zm-7 20h7v6h-7zm-6 19h6v7h-6zm-7 20h7v7h-7zm-7 20h7v6h-7zm-6 13h6v6h-6zm-13 33h6v6h-6zm-7 13h7v6h-7zm-6 13h6v7h-6zm-14 20h7v6h-7zm-6 13h6v6h-6zm-20 26h7v7h-7zm-6 7h6v6h-6zm-46 46h6v6h-6zm-7 6h7v7h-7zm-13 7h6v7h-6zm-7 7h7v6h-7zm-13 6h7v7h-7zm-250 7h7v6h-7zm237 0h7v6h-7zm-217 6h7v7h-7zm197 0h7v7h-7zm-177 7h6v6h-6zm157 0h14v6h-14zm-131 6h20v7h-20zm105 0h13v7h-13z"/><path fill="#ffb731" d="M1733 35h7v6h-7zm-6 33h6v6h-6zm-7 26h7v7h-7zm-6 20h6v6h-6zm0 6h6v7h-6zm-7 20h7v7h-7zm-6 20h6v6h-6zm-7 19h7v7h-7zm-7 20h7v7h-7zm-13 33h7v7h-7zm-6 13h6v7h-6zm-7 13h7v7h-7zm-6 13h6v7h-6zm-7 14h7v6h-7zm-13 19h6v7h-6zm-7 13h7v7h-7zm-6 7h6v7h-6zm-20 26h7v7h-7zm-7 7h7v7h-7zm-6 7h6v6h-6zm-7 6h7v7h-7zm-6 7h6v6h-6zm-7 6h7v7h-7zm-20 13h7v7h-7zm-19 14h6v6h-6zm-270 6h7v7h-7zm257 0h6v7h-6zm-237 7h6v6h-6zm223 0h7v6h-7zm-203 6h6v7h-6zm184 0h6v7h-6zm-165 7h13v6h-13zm145 0h6v6h-6zm-105 6h19v7h-19zm59 0h26v7h-26z"/><path fill="#ffb833" d="M1733 28h7v7h-7zm-6 27h6v6h-6zm0 6h6v7h-6zm-7 26h7v7h-7zm-6 20h6v7h-6zm-7 26h7v7h-7zm-6 20h6v7h-6zm-7 20h7v6h-7zm-7 20h7v6h-7zm-6 19h6v7h-6zm-7 13h7v7h-7zm-6 14h6v6h-6zm-20 39h7v7h-7zm-7 13h7v7h-7zm-13 20h7v6h-7zm-13 20h7v6h-7zm-6 6h6v7h-6zm-46 46h6v7h-6zm-7 7h7v6h-7zm-20 13h7v7h-7zm-13 7h7v6h-7zm-256 6h6v7h-6zm243 0h7v7h-7zm-224 7h7v6h-7zm211 0h6v6h-6zm-191 6h7v7h-7zm171 0h7v7h-7zm-145 7h14v6h-14zm119 0h13v6h-13zm-73 6h40v7h-40z"/><path fill="#ffb935" d="M1733 22h7v6h-7zm-6 26h6v7h-6zm-7 26h7v7h-7zm0 7h7v6h-7zm-6 20h6v6h-6zm-7 26h7v6h-7zm-6 20h6v6h-6zm-7 19h7v7h-7zm-7 20h7v7h-7zm-6 20h6v6h-6zm-7 13h7v6h-7zm-13 33h7v6h-7zm-6 13h6v6h-6zm-20 33h6v6h-6zm-13 19h6v7h-6zm-20 27h7v6h-7zm-7 6h7v7h-7zm-6 7h6v7h-6zm-7 7h7v6h-7zm-6 6h6v7h-6zm-7 7h7v6h-7zm-26 19h6v7h-6zm-13 7h6v7h-6zm-270 7h7v6h-7zm13 6h7v7h-7zm20 7h7v6h-7zm197 0h7v6h-7zm-177 6h13v7h-13zm157 0h7v7h-7zm-124 7h13v6h-13zm92 0h13v6h-13z"/><path fill="#ffba36" d="M1733 18h7v4h-7zm-6 23h6v7h-6zm-7 27h7v6h-7zm-6 26h6v7h-6zm-7 26h7v7h-7zm-6 20h6v7h-6zm-7 20h7v6h-7zm-7 19h7v7h-7zm-6 20h6v7h-6zm-13 33h6v7h-6zm-7 13h7v7h-7zm-6 13h6v7h-6zm-7 13h7v7h-7zm-7 14h7v6h-7zm-13 19h7v7h-7zm-13 20h7v7h-7zm-6 7h6v6h-6zm-53 52h7v7h-7zm-7 7h7v6h-7zm-13 6h7v7h-7zm-269 14h6v6h-6zm250 0h6v6h-6zm-237 6h13v7h-13zm223 0h7v7h-7zm-203 7h13v6h-13zm184 0h6v6h-6zm-158 6h6v7h-6zm131 0h13v7h-13zm-98 7h26v6h-26zm52 0h27v6h-27z"/><path fill="#ffbb38" d="M1727 35h6v6h-6zm-7 26h7v7h-7zm-6 26h6v7h-6zm-7 27h7v6h-7zm-6 19h6v7h-6zm-7 20h7v7h-7zm-7 20h7v6h-7zm-6 20h6v6h-6zm-7 19h7v7h-7zm-6 13h6v7h-6zm-7 14h7v6h-7zm-6 13h6v6h-6zm-7 13h7v6h-7zm-7 13h7v7h-7zm-6 13h6v7h-6zm-13 20h6v6h-6zm-7 6h7v7h-7zm-13 20h7v7h-7zm-7 7h7v6h-7zm-6 6h6v7h-6zm-7 7h7v7h-7zm-6 7h6v6h-6zm-7 6h7v7h-7zm-6 7h6v6h-6zm-20 13h6v6h-6zm-283 13h7v7h-7zm263 0h7v7h-7zm-250 7h7v6h-7zm237 0h7v6h-7zm-217 6h7v7h-7zm204 0h6v7h-6zm-184 7h6v6h-6zm164 0h7v6h-7zm-145 6h14v7h-14zm119 0h6v7h-6zm-66 7h26v6h-26z"/><path fill="#ffbc3a" d="M1727 28h6v7h-6zm-7 27h7v6h-7zm-6 26h6v6h-6zm-7 26h7v7h-7zm-6 20h6v6h-6zm-20 59h6v7h-6zm-7 20h7v6h-7zm-6 13h6v6h-6zm-33 66h6v6h-6zm-7 13h7v6h-7zm-6 6h6v7h-6zm-13 20h6v7h-6zm-7 7h7v6h-7zm-46 46h7v6h-7zm-7 6h7v7h-7zm-19 13h6v7h-6zm-13 7h6v7h-6zm-237 7h6v6h-6zm223 0h7v6h-7zm-203 6h6v7h-6zm190 0h7v7h-7zm-171 7h7v6h-7zm145 0h13v6h-13zm-118 6h19v7h-19zm85 0h20v7h-20z"/><path fill="#ffbd3c" d="M1727 18h6v4h-6zm0 4h6v6h-6zm-7 26h7v7h-7zm-6 26h6v7h-6zm-7 27h7v6h-7zm-6 19h6v7h-6zm-7 27h7v6h-7zm-7 19h7v7h-7zm-6 13h6v7h-6zm-7 20h7v7h-7zm-13 33h7v7h-7zm-6 13h6v7h-6zm-7 13h7v7h-7zm-7 13h7v7h-7zm-13 20h7v7h-7zm-13 20h7v6h-7zm-20 26h7v7h-7zm-6 7h6v6h-6zm-7 6h7v7h-7zm-6 7h6v7h-6zm-7 7h7v6h-7zm-6 6h6v7h-6zm-20 13h6v7h-6zm-7 7h7v6h-7zm-13 6h7v7h-7zm-256 7h6v7h-6zm243 0h7v7h-7zm-224 7h7v6h-7zm211 0h6v6h-6zm-191 6h7v7h-7zm171 0h13v7h-13zm-151 7h13v6h-13zm131 0h7v6h-7zm-92 6h66v7h-66z"/><path fill="#ffbe3d" d="M1720 41h7v7h-7zm-6 27h6v6h-6zm-7 26h7v7h-7zm-6 20h6v6h-6zm-7 26h7v7h-7zm-7 20h7v6h-7zm-13 33h7v6h-7zm-6 19h6v7h-6zm-7 13h7v7h-7zm-6 14h6v6h-6zm-7 13h7v6h-7zm-7 13h7v6h-7zm-6 13h6v7h-6zm-13 20h6v6h-6zm-13 19h6v7h-6zm-7 7h7v7h-7zm-46 46h7v7h-7zm-7 7h7v6h-7zm-19 13h6v6h-6zm-270 6h7v7h-7zm257 0h6v7h-6zm-244 7h7v7h-7zm230 0h7v7h-7zm-210 7h7v6h-7zm197 0h7v6h-7zm-177 6h6v7h-6zm157 0h7v7h-7zm-131 7h13v6h-13zm105 0h13v6h-13z"/><path fill="#ffbf3f" d="M1720 28h7v7h-7zm0 7h7v6h-7zm-6 26h6v7h-6zm-7 26h7v7h-7zm-6 20h6v7h-6zm-7 26h7v7h-7zm-7 20h7v7h-7zm-6 20h6v6h-6zm-7 13h7v7h-7zm-6 20h6v6h-6zm-7 13h7v6h-7zm-6 13h6v7h-6zm-14 26h7v7h-7zm-6 13h6v7h-6zm-7 14h7v6h-7zm-13 19h7v7h-7zm-6 7h6v6h-6zm-14 20h7v6h-7zm-6 6h6v7h-6zm-7 7h7v6h-7zm-6 6h6v7h-6zm-7 7h7v7h-7zm-6 7h6v6h-6zm-20 13h6v6h-6zm-7 6h7v7h-7zm-282 7h6v6h-6zm269 0h7v6h-7zm-256 6h6v7h-6zm13 7h13v7h-13zm20 7h6v6h-6zm184 0h6v6h-6zm-165 6h13v7h-13zm145 0h6v7h-6zm-112 7h20v6h-20zm72 0h20v6h-20z"/><path fill="#ffc041" d="M1720 22h7v6h-7zm-6 26h6v7h-6zm0 7h6v6h-6zm-7 19h7v7h-7zm0 7h7v6h-7zm-6 20h6v6h-6zm-7 26h7v6h-7zm-7 20h7v6h-7zm-6 19h6v7h-6zm-13 33h6v7h-6zm-7 13h7v7h-7zm-13 33h7v7h-7zm-20 33h7v7h-7zm-6 13h6v7h-6zm-7 7h7v6h-7zm-13 19h7v7h-7zm-7 7h7v7h-7zm-39 40h7v6h-7zm-7 6h7v7h-7zm-19 13h6v7h-6zm-270 7h7v6h-7zm13 6h7v7h-7zm237 0h7v7h-7zm-217 7h7v7h-7zm204 0h6v7h-6zm-191 7h13v6h-13zm171 0h7v6h-7zm-145 6h14v7h-14zm119 0h13v7h-13zm-79 7h52v6h-52z"/><path fill="#ffc143" d="M1720 18h7v4h-7zm-6 23h6v7h-6zm-7 27h7v6h-7zm-6 26h6v7h-6zm-7 26h7v7h-7zm-7 20h7v7h-7zm-6 20h6v6h-6zm-7 19h7v7h-7zm-6 14h6v6h-6zm-13 32h6v7h-6zm-7 14h7v6h-7zm-7 13h7v6h-7zm-6 13h6v6h-6zm-13 20h6v6h-6zm-13 19h6v7h-6zm-20 27h6v6h-6zm-7 6h7v7h-7zm-6 7h6v6h-6zm-7 6h7v7h-7zm-6 7h6v7h-6zm-27 20h7v6h-7zm-282 6h6v7h-6zm13 7h6v6h-6zm250 0h6v6h-6zm-237 6h6v7h-6zm223 0h7v7h-7zm-203 7h6v7h-6zm184 0h13v7h-13zm-165 7h7v6h-7zm145 0h13v6h-13zm-118 6h13v7h-13zm92 0h13v7h-13z"/><path fill="#ffc244" d="M1714 35h6v6h-6zm-7 26h7v7h-7zm-6 26h6v7h-6zm-7 27h7v6h-7zm-7 19h7v7h-7zm-6 20h6v7h-6zm-7 20h7v6h-7zm-6 13h6v7h-6zm-7 20h7v6h-7zm-6 13h6v6h-6zm-7 13h7v7h-7zm-7 13h7v7h-7zm-6 13h6v7h-6zm-7 13h7v7h-7zm-13 20h7v7h-7zm-13 20h7v6h-7zm-7 6h7v7h-7zm-6 7h6v7h-6zm-33 33h7v7h-7zm-7 7h7v6h-7zm-6 6h6v7h-6zm-13 7h6v6h-6zm-270 6h7v7h-7zm263 0h7v7h-7zm-250 7h7v6h-7zm237 0h7v6h-7zm-224 6h7v7h-7zm211 0h6v7h-6zm-191 7h7v7h-7zm171 0h7v7h-7zm-151 7h13v6h-13zm131 0h7v6h-7zm-98 6h26v7h-26zm52 0h27v7h-27z"/><path fill="#ffc346" d="M1714 28h6v7h-6zm-7 27h7v6h-7zm-6 26h6v6h-6zm-7 20h7v6h-7zm0 6h7v7h-7zm-7 20h7v6h-7zm-6 20h6v6h-6zm-7 19h7v7h-7zm-13 33h7v7h-7zm-6 13h6v7h-6zm-20 40h6v6h-6zm-7 13h7v6h-7zm-6 13h6v7h-6zm-13 20h6v6h-6zm-7 6h7v7h-7zm-20 27h7v6h-7zm-6 6h6v7h-6zm-7 7h7v6h-7zm-6 6h6v7h-6zm-27 20h7v7h-7zm-19 13h6v7h-6zm-237 7h6v6h-6zm223 0h7v6h-7zm-210 6h7v7h-7zm197 0h7v7h-7zm-177 7h13v7h-13zm157 0h7v7h-7zm-131 7h13v6h-13zm105 0h13v6h-13zm-59 6h26v7h-26z"/><path fill="#ffc348" d="M1714 18h6v4h-6zm0 4h6v6h-6zm-7 26h7v7h-7zm-6 26h6v7h-6zm-7 20h7v7h-7zm-7 26h7v7h-7zm-6 20h6v7h-6zm-7 20h7v6h-7zm-6 19h6v7h-6zm-7 14h7v6h-7zm-13 32h7v7h-7zm-7 14h7v6h-7zm-19 32h6v7h-6zm-7 14h7v6h-7zm-6 6h6v7h-6zm-14 20h7v6h-7zm-6 6h6v7h-6zm-7 7h7v7h-7zm-26 26h7v7h-7zm-7 7h7v7h-7zm-6 7h6v6h-6zm-289 13h6v6h-6zm269 0h7v6h-7zm-256 6h6v7h-6zm243 0h7v7h-7zm-224 7h7v6h-7zm211 0h6v6h-6zm-197 6h13v7h-13zm184 0h6v7h-6zm-158 7h6v7h-6zm138 0h6v7h-6zm-112 7h20v6h-20zm72 0h20v6h-20z"/><path fill="#ffc44a" d="M1707 41h7v7h-7zm-6 27h6v6h-6zm-7 19h7v7h-7zm-7 27h7v6h-7zm-6 19h6v7h-6zm-7 20h7v7h-7zm-6 20h6v6h-6zm-7 13h7v7h-7zm-6 20h6v6h-6zm-7 13h7v6h-7zm-7 13h7v7h-7zm-6 13h6v7h-6zm-7 13h7v7h-7zm-13 20h7v7h-7zm-13 20h7v6h-7zm-7 6h7v7h-7zm-19 27h6v6h-6zm-7 6h7v7h-7zm-6 7h6v6h-6zm-27 20h7v6h-7zm-6 6h6v7h-6zm-270 7h7v6h-7zm257 0h6v6h-6zm-244 6h13v7h-13zm230 0h7v7h-7zm-210 7h7v6h-7zm197 0h7v6h-7zm-177 6h6v7h-6zm164 0h7v7h-7zm-145 7h14v7h-14zm119 0h13v7h-13zm-79 7h52v6h-52z"/><path fill="#ffc54b" d="M1707 28h7v7h-7zm0 7h7v6h-7zm-6 20h6v6h-6zm0 6h6v7h-6zm-7 20h7v6h-7zm-7 26h7v7h-7zm-6 20h6v6h-6zm-7 20h7v6h-7zm-6 19h6v7h-6zm-7 13h7v7h-7zm-6 20h6v7h-6zm-7 13h7v7h-7zm-7 13h7v7h-7zm-6 14h6v6h-6zm-7 13h7v6h-7zm-6 13h6v6h-6zm-13 20h6v6h-6zm-20 26h6v6h-6zm-7 6h7v7h-7zm-6 7h6v7h-6zm-13 13h6v7h-6zm-7 7h7v6h-7zm-7 6h7v7h-7zm-6 7h6v7h-6zm-289 13h6v7h-6zm269 0h7v7h-7zm-256 7h6v6h-6zm243 0h7v6h-7zm-224 6h7v7h-7zm211 0h6v7h-6zm-197 7h6v6h-6zm184 0h6v6h-6zm-165 6h7v7h-7zm145 0h13v7h-13zm-118 7h13v7h-13zm92 0h13v7h-13z"/><path fill="#ffc64d" d="M1707 22h7v6h-7zm-6 26h6v7h-6zm-7 26h7v7h-7zm-7 27h7v6h-7zm-6 19h6v7h-6zm-7 20h7v7h-7zm-6 20h6v6h-6zm-13 33h6v6h-6zm-7 13h7v6h-7zm-20 39h7v7h-7zm-6 13h6v7h-6zm-7 13h7v7h-7zm-6 7h6v7h-6zm-7 13h7v7h-7zm-7 7h7v6h-7zm-26 33h7v6h-7zm-33 26h7v7h-7zm-6 7h6v6h-6zm-270 6h7v7h-7zm257 0h6v7h-6zm-244 7h7v6h-7zm20 6h7v7h-7zm197 0h7v7h-7zm-184 7h13v6h-13zm171 0h7v6h-7zm-151 6h13v7h-13zm131 0h7v7h-7zm-98 7h33v7h-33zm46 0h33v7h-33z"/><path fill="#ffc74f" d="M1707 18h7v4h-7zm-6 23h6v7h-6zm-7 27h7v6h-7zm-7 26h7v7h-7zm-6 20h6v6h-6zm-7 19h7v7h-7zm-6 20h6v7h-6zm-7 20h7v6h-7zm-6 13h6v7h-6zm-14 33h7v6h-7zm-6 13h6v7h-6zm-20 33h7v6h-7zm-13 20h7v6h-7zm-13 19h6v7h-6zm-7 7h7v6h-7zm-6 6h6v7h-6zm-7 7h7v7h-7zm-6 7h6v6h-6zm-7 6h7v7h-7zm-7 7h7v6h-7zm-6 6h6v7h-6zm-289 14h6v6h-6zm269 0h7v6h-7zm-256 6h6v7h-6zm243 0h7v7h-7zm-230 7h6v6h-6zm223 0h7v6h-7zm-203 6h6v7h-6zm184 0h6v7h-6zm-165 7h7v6h-7zm151 0h7v6h-7zm-131 6h13v7h-13zm105 0h13v7h-13zm-52 7h13v7h-13z"/><path fill="#ffc850" d="M1701 35h6v6h-6zm-7 26h7v7h-7zm-7 20h7v6h-7zm0 6h7v7h-7zm-6 20h6v7h-6zm-7 20h7v6h-7zm-6 20h6v6h-6zm-7 19h7v7h-7zm-6 13h6v7h-6zm-7 20h7v7h-7zm-7 13h7v7h-7zm-6 13h6v7h-6zm-7 14h7v6h-7zm-6 13h6v6h-6zm-7 6h7v7h-7zm-6 13h6v7h-6zm-14 20h7v7h-7zm-6 7h6v6h-6zm-53 52h7v7h-7zm-289 7h7v7h-7zm283 0h6v7h-6zm-270 7h7v6h-7zm257 0h6v6h-6zm-244 6h7v7h-7zm13 7h7v6h-7zm211 0h6v6h-6zm-191 6h7v7h-7zm171 0h7v7h-7zm-151 7h13v6h-13zm131 0h13v6h-13zm-105 6h20v7h-20zm72 0h20v7h-20z"/><path fill="#ffc952" d="M1701 22h6v6h-6zm0 6h6v7h-6zm-7 27h7v6h-7zm-7 19h7v7h-7zm-6 27h6v6h-6zm-7 19h7v7h-7zm-6 20h6v7h-6zm-7 20h7v6h-7zm-6 13h6v6h-6zm-7 20h7v6h-7zm-7 13h7v6h-7zm-6 13h6v6h-6zm-7 13h7v7h-7zm-6 13h6v7h-6zm-13 20h6v6h-6zm-7 13h7v7h-7zm-7 7h7v6h-7zm-13 19h7v7h-7zm-6 7h6v6h-6zm-7 6h7v7h-7zm-6 7h6v7h-6zm-7 7h7v6h-7zm-7 6h7v7h-7zm-6 7h6v6h-6zm-289 13h6v7h-6zm269 0h7v7h-7zm-256 7h6v6h-6zm13 6h6v7h-6zm223 0h7v7h-7zm-210 7h13v6h-13zm197 0h7v6h-7zm-177 6h13v7h-13zm157 0h7v7h-7zm-131 7h13v6h-13zm105 0h13v6h-13zm-72 6h52v7h-52z"/><path fill="#ffca54" d="M1701 18h6v4h-6zm-7 23h7v7h-7zm0 7h7v7h-7zm-7 20h7v6h-7zm-6 26h6v7h-6zm-7 20h7v6h-7zm-6 19h6v7h-6zm-7 20h7v7h-7zm-13 33h7v7h-7zm-7 13h7v7h-7zm-6 13h6v7h-6zm-7 13h7v7h-7zm-6 14h6v6h-6zm-7 13h7v6h-7zm-13 19h7v7h-7zm-13 20h6v7h-6zm-7 7h7v6h-7zm-39 39h6v7h-6zm-7 7h7v6h-7zm-289 6h7v7h-7zm283 0h6v7h-6zm-270 7h7v7h-7zm257 0h6v7h-6zm-244 7h7v6h-7zm237 0h7v6h-7zm-224 6h7v7h-7zm211 0h6v7h-6zm-191 7h7v6h-7zm171 0h13v6h-13zm-151 6h6v7h-6zm131 0h13v7h-13zm-105 7h13v6h-13zm79 0h13v6h-13z"/><path fill="#ffcb56" d="M1694 35h7v6h-7zm-7 26h7v7h-7zm-6 26h6v7h-6zm-7 20h7v7h-7zm-6 20h6v6h-6zm-7 20h7v6h-7zm-6 19h6v7h-6zm-7 13h7v7h-7zm-7 14h7v6h-7zm-26 52h7v7h-7zm-6 13h6v7h-6zm-14 20h7v7h-7zm-6 7h6v6h-6zm-13 19h6v7h-6zm-7 7h7v6h-7zm-6 6h6v7h-6zm-7 7h7v7h-7zm-7 7h7v6h-7zm-295 19h6v7h-6zm269 0h7v7h-7zm-256 7h6v7h-6zm13 7h6v6h-6zm223 0h7v6h-7zm-210 6h7v7h-7zm197 0h7v7h-7zm-177 7h6v6h-6zm157 0h7v6h-7zm-138 6h14v7h-14zm119 0h6v7h-6zm-86 7h66v6h-66z"/><path fill="#ffcc57" d="M1694 28h7v7h-7zm-7 27h7v6h-7zm-6 19h6v7h-6zm0 7h6v6h-6zm-7 20h7v6h-7zm-6 19h6v7h-6zm-7 20h7v7h-7zm-6 20h6v6h-6zm-7 13h7v6h-7zm-13 33h6v6h-6zm-7 13h7v6h-7zm-6 13h6v7h-6zm-13 20h6v6h-6zm-7 13h7v6h-7zm-7 6h7v7h-7zm-13 20h7v7h-7zm-6 7h6v6h-6zm-7 6h7v7h-7zm-26 27h6v6h-6zm-7 6h7v7h-7zm-289 7h7v6h-7zm283 0h6v6h-6zm-270 6h7v7h-7zm257 0h6v7h-6zm-244 7h7v7h-7zm237 0h7v7h-7zm-224 7h7v6h-7zm211 0h6v6h-6zm-197 6h13v7h-13zm184 0h6v7h-6zm-165 7h13v6h-13zm145 0h6v6h-6zm-118 6h13v7h-13zm92 0h13v7h-13z"/><path fill="#ffcd59" d="M1694 22h7v6h-7zm-7 26h7v7h-7zm-6 20h6v6h-6zm-7 26h7v7h-7zm-6 20h6v6h-6zm-7 19h7v7h-7zm-6 20h6v7h-6zm-7 13h7v7h-7zm-7 20h7v7h-7zm-6 13h6v7h-6zm-7 13h7v7h-7zm-6 13h6v7h-6zm-7 14h7v6h-7zm-13 19h7v7h-7zm-13 20h6v7h-6zm-7 7h7v6h-7zm-19 26h6v6h-6zm-7 6h7v7h-7zm-7 7h7v7h-7zm-19 13h6v7h-6zm-276 7h6v6h-6zm269 0h7v6h-7zm-256 6h6v7h-6zm13 7h6v7h-6zm223 0h7v7h-7zm-210 7h7v6h-7zm197 0h7v6h-7zm-177 6h6v7h-6zm157 0h14v7h-14zm-138 7h14v6h-14zm119 0h13v6h-13zm-92 6h33v7h-33zm46 0h33v7h-33z"/><path fill="#ffce5b" d="M1694 18h7v4h-7zm-7 17h7v6h-7zm0 6h7v7h-7zm-6 20h6v7h-6zm-7 26h7v7h-7zm-6 20h6v7h-6zm-7 20h7v6h-7zm-6 20h6v6h-6zm-7 13h7v6h-7zm-7 19h7v7h-7zm-6 14h6v6h-6zm-7 13h7v6h-7zm-6 13h6v6h-6zm-7 13h7v7h-7zm-6 13h6v7h-6zm-7 7h7v6h-7zm-7 13h7v6h-7zm-6 6h6v7h-6zm-13 20h6v7h-6zm-7 7h7v6h-7zm-6 6h6v7h-6zm-7 7h7v6h-7zm-7 6h7v7h-7zm-6 7h6v7h-6zm-7 7h7v6h-7zm-289 6h7v7h-7zm13 7h7v6h-7zm257 0h6v6h-6zm-244 6h7v7h-7zm237 0h7v7h-7zm-224 7h7v7h-7zm211 0h6v7h-6zm-197 7h13v6h-13zm184 0h6v6h-6zm-165 6h13v7h-13zm145 0h6v7h-6zm-118 7h13v6h-13zm92 0h13v6h-13zm-46 6h13v7h-13z"/><path fill="#ffcf5d" d="M1687 28h7v7h-7zm-6 27h6v6h-6zm-7 26h7v6h-7zm-6 20h6v6h-6zm-7 19h7v7h-7zm-6 20h6v7h-6zm-7 13h7v7h-7zm-7 20h7v6h-7zm-6 13h6v7h-6zm-7 13h7v7h-7zm-6 13h6v7h-6zm-7 13h7v7h-7zm-6 14h6v6h-6zm-14 19h7v7h-7zm-13 20h7v7h-7zm-6 7h6v6h-6zm-46 46h6v6h-6zm-276 6h6v7h-6zm269 0h7v7h-7zm-256 7h6v6h-6zm243 0h7v6h-7zm-230 6h6v7h-6zm223 0h7v7h-7zm-210 7h7v7h-7zm197 0h7v7h-7zm-177 7h6v6h-6zm157 0h14v6h-14zm-138 6h7v7h-7zm119 0h13v7h-13zm-92 7h19v6h-19zm52 0h27v6h-27z"/><path fill="#ffd05e" d="M1687 22h7v6h-7zm-6 26h6v7h-6zm-7 20h7v6h-7zm0 6h7v7h-7zm-6 20h6v7h-6zm-7 20h7v6h-7zm-6 19h6v7h-6zm-14 33h7v7h-7zm-6 13h6v7h-6zm-26 53h6v7h-6zm-7 13h7v7h-7zm-13 20h6v6h-6zm-7 6h7v7h-7zm-13 20h7v7h-7zm-6 7h6v6h-6zm-7 6h7v7h-7zm-7 7h7v6h-7zm-6 6h6v7h-6zm-7 7h7v7h-7zm-289 7h7v6h-7zm13 6h7v7h-7zm257 0h6v7h-6zm-244 7h7v6h-7zm13 6h7v7h-7zm211 0h6v7h-6zm-197 7h6v7h-6zm184 0h6v7h-6zm-165 7h7v6h-7zm145 0h6v6h-6zm-125 6h13v7h-13zm99 0h13v7h-13zm-60 7h33v6h-33z"/><path fill="#ffd160" d="M1687 18h7v4h-7zm-6 23h6v7h-6zm-7 20h7v7h-7zm-6 26h6v7h-6zm-7 20h7v7h-7zm-6 20h6v6h-6zm-7 20h7v6h-7zm-7 13h7v6h-7zm-13 33h7v6h-7zm-6 13h6v6h-6zm-7 13h7v6h-7zm-13 20h7v6h-7zm-7 13h7v6h-7zm-6 6h6v7h-6zm-13 20h6v7h-6zm-7 7h7v6h-7zm-33 32h7v7h-7zm-289 7h7v7h-7zm283 0h6v7h-6zm-276 7h6v6h-6zm269 0h7v6h-7zm-256 6h6v7h-6zm243 0h7v7h-7zm-230 7h6v6h-6zm223 0h7v6h-7zm-210 6h7v7h-7zm197 0h7v7h-7zm-184 7h13v7h-13zm171 0h7v7h-7zm-151 7h13v6h-13zm131 0h7v6h-7zm-105 6h26v7h-26zm66 0h20v7h-20z"/><path fill="#ffd262" d="M1681 28h6v7h-6zm0 7h6v6h-6zm-7 20h7v6h-7zm-6 26h6v6h-6zm-7 20h7v6h-7zm-6 19h6v7h-6zm-7 20h7v7h-7zm-7 13h7v7h-7zm-6 20h6v6h-6zm-7 13h7v7h-7zm-6 13h6v7h-6zm-7 13h7v7h-7zm-6 13h6v7h-6zm-14 20h7v7h-7zm-13 20h7v6h-7zm-6 6h6v7h-6zm-13 20h6v7h-6zm-7 7h7v6h-7zm-7 6h7v7h-7zm-6 7h6v6h-6zm-303 6h7v7h-7zm283 7h7v7h-7zm-263 7h7v6h-7zm257 0h6v6h-6zm-244 6h7v7h-7zm13 7h7v6h-7zm211 0h6v6h-6zm-197 6h6v7h-6zm184 0h6v7h-6zm-165 7h7v7h-7zm145 0h13v7h-13zm-125 7h13v6h-13zm105 0h13v6h-13zm-66 6h40v7h-40z"/><path fill="#ffd364" d="M1681 22h6v6h-6zm-7 26h7v7h-7zm-6 20h6v6h-6zm0 6h6v7h-6zm-7 20h7v7h-7zm-6 20h6v6h-6zm-7 19h7v7h-7zm-7 14h7v6h-7zm-6 19h6v7h-6zm-7 13h7v7h-7zm-6 14h6v6h-6zm-7 13h7v6h-7zm-6 13h6v6h-6zm-7 13h7v7h-7zm-7 7h7v6h-7zm-6 13h6v6h-6zm-7 6h7v7h-7zm-13 20h7v7h-7zm-6 7h6v6h-6zm-7 6h7v7h-7zm-7 7h7v6h-7zm-6 6h6v7h-6zm-7 7h7v6h-7zm-289 6h7v7h-7zm283 0h6v7h-6zm-276 7h6v7h-6zm13 7h6v6h-6zm243 0h7v6h-7zm-230 6h6v7h-6zm223 0h7v7h-7zm-210 7h7v6h-7zm197 0h7v6h-7zm-184 6h13v7h-13zm171 0h7v7h-7zm-151 7h13v7h-13zm131 0h7v7h-7zm-105 7h20v6h-20zm72 0h20v6h-20z"/><path fill="#ffd465" d="M1681 18h6v4h-6zm-7 23h7v7h-7zm-6 20h6v7h-6zm-7 26h7v7h-7zm-6 20h6v7h-6zm-7 20h7v6h-7zm-7 13h7v7h-7zm-6 20h6v6h-6zm-7 13h7v6h-7zm-6 13h6v7h-6zm-7 13h7v7h-7zm-6 13h6v7h-6zm-7 13h7v7h-7zm-13 20h6v7h-6zm-13 20h6v6h-6zm-7 6h7v7h-7zm-329 40h7v6h-7zm14 6h6v7h-6zm269 0h7v7h-7zm-263 7h7v7h-7zm257 0h6v7h-6zm-244 7h7v6h-7zm230 0h7v6h-7zm-217 6h7v7h-7zm211 0h6v7h-6zm-197 7h13v6h-13zm184 0h6v6h-6zm-165 6h7v7h-7zm145 0h13v7h-13zm-125 7h13v7h-13zm105 0h13v7h-13zm-72 7h52v6h-52z"/><path fill="#ffd567" d="M1674 28h7v7h-7zm0 7h7v6h-7zm-6 20h6v6h-6zm-7 26h7v6h-7zm-6 20h6v6h-6zm-7 19h7v7h-7zm-7 13h7v7h-7zm-6 20h6v7h-6zm-7 13h7v7h-7zm-6 13h6v7h-6zm-13 27h6v6h-6zm-7 13h7v6h-7zm-7 13h7v7h-7zm-13 20h7v6h-7zm-6 6h6v7h-6zm-13 20h6v7h-6zm-7 7h7v6h-7zm-7 6h7v7h-7zm-6 7h6v6h-6zm-7 6h7v7h-7zm-289 7h7v6h-7zm283 0h6v6h-6zm-270 6h7v7h-7zm7 7h6v7h-6zm243 0h7v7h-7zm-230 7h6v6h-6zm217 0h6v6h-6zm-204 6h7v7h-7zm197 0h7v7h-7zm-177 7h6v6h-6zm157 0h14v6h-14zm-144 6h13v7h-13zm131 0h7v7h-7zm-105 7h20v7h-20zm72 0h20v7h-20z"/><path fill="#ffd669" d="M1674 22h7v6h-7zm-6 26h6v7h-6zm-7 20h7v6h-7zm0 6h7v7h-7zm-6 20h6v7h-6zm-7 20h7v6h-7zm-7 13h7v6h-7zm-6 20h6v6h-6zm-7 13h7v6h-7zm-13 33h7v6h-7zm-13 19h7v7h-7zm-7 13h7v7h-7zm-6 14h6v6h-6zm-7 6h7v7h-7zm-13 20h7v6h-7zm-6 6h6v7h-6zm-7 7h7v7h-7zm-20 20h7v6h-7zm-296 6h7v7h-7zm290 0h6v7h-6zm-276 7h6v6h-6zm269 0h7v6h-7zm-256 6h6v7h-6zm250 0h6v7h-6zm-244 7h7v7h-7zm230 0h7v7h-7zm-217 7h7v6h-7zm14 6h13v7h-13zm184 0h6v7h-6zm-165 7h7v6h-7zm145 0h6v6h-6zm-125 6h13v7h-13zm105 0h13v7h-13zm-72 7h52v7h-52z"/><path fill="#ffd76a" d="M1674 18h7v4h-7zm-6 23h6v7h-6zm-7 20h7v7h-7zm-6 20h6v6h-6zm0 6h6v7h-6zm-7 20h7v7h-7zm-7 13h7v7h-7zm-6 20h6v7h-6zm-7 13h7v7h-7zm-6 20h6v6h-6zm-7 13h7v7h-7zm-6 13h6v7h-6zm-14 20h7v6h-7zm-6 13h6v7h-6zm-13 20h6v6h-6zm-7 6h7v7h-7zm-20 27h7v6h-7zm-6 6h6v7h-6zm-303 7h7v6h-7zm7 6h7v7h-7zm13 7h7v6h-7zm257 0h6v6h-6zm-244 6h7v7h-7zm237 0h7v7h-7zm-230 7h6v7h-6zm217 0h6v7h-6zm-204 7h13v6h-13zm191 0h13v6h-13zm-171 6h6v7h-6zm157 0h14v7h-14zm-144 7h13v6h-13zm125 0h13v6h-13zm-99 6h20v7h-20zm72 0h20v7h-20z"/><path fill="#ffd86c" d="M1668 28h6v7h-6zm0 7h6v6h-6zm-7 20h7v6h-7zm-6 19h6v7h-6zm-7 20h7v7h-7zm0 7h7v6h-7zm-7 13h7v6h-7zm-6 19h6v7h-6zm-7 14h7v6h-7zm-6 19h6v7h-6zm-7 13h7v7h-7zm-6 14h6v6h-6zm-7 13h7v6h-7zm-13 19h6v7h-6zm-7 14h7v6h-7zm-6 6h6v7h-6zm-13 20h6v6h-6zm-7 6h7v7h-7zm-7 7h7v7h-7zm-6 7h6v6h-6zm-7 6h7v7h-7zm-289 7h7v6h-7zm283 0h6v6h-6zm-276 6h6v7h-6zm269 0h7v7h-7zm-256 7h6v6h-6zm13 6h6v7h-6zm223 0h7v7h-7zm-217 7h14v7h-14zm204 0h7v7h-7zm-184 7h7v6h-7zm171 0h7v6h-7zm-158 6h13v7h-13zm145 0h6v7h-6zm-125 7h13v6h-13zm105 0h7v6h-7zm-72 6h52v7h-52z"/><path fill="#ffd96e" d="M1668 22h6v6h-6zm-7 26h7v7h-7zm-6 20h6v6h-6zm-7 19h7v7h-7zm-7 20h7v7h-7zm-6 20h6v6h-6zm-7 13h7v7h-7zm-6 20h6v6h-6zm-7 13h7v6h-7zm-6 13h6v7h-6zm-7 13h7v7h-7zm-7 13h7v7h-7zm-13 20h7v7h-7zm-13 20h7v6h-7zm-6 6h6v7h-6zm-7 7h7v6h-7zm-316 26h7v7h-7zm14 7h6v6h-6zm269 0h7v6h-7zm-263 6h7v7h-7zm257 0h6v7h-6zm-244 7h7v6h-7zm237 0h7v6h-7zm-224 6h7v7h-7zm211 0h6v7h-6zm-197 7h6v7h-6zm184 0h6v7h-6zm-171 7h6v6h-6zm157 0h7v6h-7zm-138 6h7v7h-7zm119 0h13v7h-13zm-99 7h20v6h-20zm72 0h20v6h-20z"/><path fill="#ffd970" d="M1668 18h6v4h-6zm-7 23h7v7h-7zm-6 20h6v7h-6zm-7 20h7v6h-7zm-7 20h7v6h-7zm-6 19h6v7h-6zm-13 33h6v7h-6zm-7 13h7v7h-7zm-6 13h6v7h-6zm-7 14h7v6h-7zm-7 13h7v6h-7zm-6 13h6v6h-6zm-7 6h7v7h-7zm-6 14h6v6h-6zm-7 6h7v7h-7zm-20 26h7v7h-7zm-6 7h6v7h-6zm-7 7h7v6h-7zm-289 6h7v7h-7zm283 0h6v7h-6zm-270 7h7v6h-7zm7 6h6v7h-6zm243 0h7v7h-7zm-230 7h6v6h-6zm223 0h7v6h-7zm-210 6h7v7h-7zm197 0h7v7h-7zm-184 7h7v7h-7zm171 0h7v7h-7zm-158 7h13v6h-13zm145 0h6v6h-6zm-125 6h13v7h-13zm99 0h13v7h-13zm-66 7h52v6h-52z"/><path fill="#ffda71" d="M1661 28h7v7h-7zm0 7h7v6h-7zm-6 20h6v6h-6zm-7 19h7v7h-7zm-7 20h7v7h-7zm-6 20h6v6h-6zm-7 19h7v7h-7zm-6 14h6v6h-6zm-7 13h7v6h-7zm-6 13h6v6h-6zm-7 13h7v7h-7zm-7 13h7v7h-7zm-6 13h6v7h-6zm-13 20h6v7h-6zm-7 7h7v6h-7zm-6 13h6v6h-6zm-7 6h7v7h-7zm-7 7h7v6h-7zm-6 6h6v7h-6zm-7 7h7v7h-7zm-296 7h7v6h-7zm290 0h6v6h-6zm-276 6h6v7h-6zm269 0h7v7h-7zm-6 7h6v6h-6zm-244 6h7v7h-7zm230 0h7v7h-7zm-217 7h7v6h-7zm211 0h6v6h-6zm-197 6h6v7h-6zm184 0h6v7h-6zm-171 7h6v7h-6zm157 0h7v7h-7zm-138 7h7v6h-7zm119 0h13v6h-13zm-99 6h26v7h-26zm66 0h20v7h-20z"/><path fill="#ffdb73" d="M1661 22h7v6h-7zm-6 26h6v7h-6zm-7 20h7v6h-7zm-7 19h7v7h-7zm-6 20h6v7h-6zm-7 20h7v6h-7zm-6 13h6v7h-6zm-7 13h7v7h-7zm-6 13h6v7h-6zm-7 13h7v7h-7zm-7 14h7v6h-7zm-6 13h6v6h-6zm-7 13h7v6h-7zm-6 6h6v7h-6zm-13 20h6v7h-6zm-7 7h7v6h-7zm-316 26h7v7h-7zm7 7h7v6h-7zm13 6h7v7h-7zm257 0h6v7h-6zm-250 7h6v6h-6zm243 0h7v6h-7zm-230 6h6v7h-6zm217 0h6v7h-6zm-204 7h7v6h-7zm197 0h7v6h-7zm-184 6h7v7h-7zm171 0h7v7h-7zm-158 7h13v7h-13zm138 0h13v7h-13zm-118 7h20v6h-20zm99 0h13v6h-13zm-60 6h40v7h-40z"/><path fill="#ffdc75" d="M1661 18h7v4h-7zm-6 17h6v6h-6zm0 6h6v7h-6zm-7 20h7v7h-7zm-7 20h7v6h-7zm-6 20h6v6h-6zm-7 19h7v7h-7zm-6 13h6v7h-6zm-7 14h7v6h-7zm-20 39h7v7h-7zm-6 13h6v7h-6zm-7 13h7v7h-7zm-13 20h7v7h-7zm-6 7h6v6h-6zm-14 19h7v7h-7zm-6 7h6v6h-6zm-7 6h7v7h-7zm-289 7h7v7h-7zm283 0h6v7h-6zm-276 7h6v6h-6zm269 0h7v6h-7zm-256 6h6v7h-6zm243 0h7v7h-7zm-237 7h13v6h-13zm230 0h7v6h-7zm-217 6h7v7h-7zm14 7h6v6h-6zm184 0h6v6h-6zm-171 6h13v7h-13zm157 0h7v7h-7zm-138 7h14v7h-14zm119 0h6v7h-6zm-92 7h19v6h-19zm52 0h27v6h-27z"/><path fill="#ffdd77" d="M1655 28h6v7h-6zm-7 27h7v6h-7zm-7 19h7v7h-7zm-6 20h6v7h-6zm-7 13h7v7h-7zm0 7h7v6h-7zm-6 13h6v6h-6zm-7 13h7v7h-7zm-6 20h6v6h-6zm-7 13h7v6h-7zm-13 20h6v6h-6zm-7 13h7v6h-7zm-6 13h6v6h-6zm-7 6h7v7h-7zm-13 20h7v7h-7zm-7 7h7v6h-7zm-6 6h6v7h-6zm-309 7h6v6h-6zm302 0h7v6h-7zm-296 6h7v7h-7zm290 0h6v7h-6zm-276 7h6v7h-6zm269 0h7v7h-7zm-263 7h7v6h-7zm257 0h6v6h-6zm-244 6h7v7h-7zm13 7h7v6h-7zm211 0h6v6h-6zm-204 6h7v7h-7zm191 0h13v7h-13zm-178 7h13v6h-13zm171 0h7v6h-7zm-151 6h6v7h-6zm131 0h13v7h-13zm-111 7h13v7h-13zm85 0h20v7h-20zm-53 7h33v6h-33z"/><path fill="#ffde78" d="M1655 22h6v6h-6zm-7 19h7v7h-7zm0 7h7v7h-7zm-7 20h7v6h-7zm-6 19h6v7h-6zm-7 14h7v6h-7zm-6 19h6v7h-6zm-7 13h7v7h-7zm-6 20h6v7h-6zm-7 13h7v7h-7zm-7 13h7v7h-7zm-13 20h7v7h-7zm-6 13h6v7h-6zm-7 7h7v6h-7zm-6 13h6v7h-6zm-7 7h7v6h-7zm-7 6h7v7h-7zm-309 20h7v6h-7zm7 6h7v7h-7zm13 7h7v7h-7zm257 0h6v7h-6zm-250 7h6v6h-6zm243 0h7v6h-7zm-230 6h6v7h-6zm223 0h7v7h-7zm-210 7h7v6h-7zm197 0h7v6h-7zm-190 6h13v7h-13zm177 0h7v7h-7zm-158 7h7v6h-7zm145 0h13v6h-13zm-132 6h14v7h-14zm112 0h13v7h-13zm-85 7h33v7h-33zm46 0h26v7h-26z"/><path fill="#ffdf7a" d="M1655 18h6v4h-6zm-7 17h7v6h-7zm-7 20h7v6h-7zm0 6h7v7h-7zm-6 13h6v7h-6zm0 7h6v6h-6zm-7 13h7v7h-7zm-6 20h6v6h-6zm-7 13h7v6h-7zm-6 20h6v6h-6zm-7 13h7v6h-7zm-7 13h7v6h-7zm-6 13h6v7h-6zm-7 7h7v6h-7zm-6 13h6v6h-6zm-13 19h6v7h-6zm-7 7h7v7h-7zm-13 20h6v6h-6zm-309 6h6v7h-6zm302 0h7v7h-7zm-289 7h7v6h-7zm283 0h6v6h-6zm-276 6h6v7h-6zm269 0h7v7h-7zm-256 7h6v7h-6zm6 7h7v6h-7zm230 0h7v6h-7zm-217 6h7v7h-7zm211 0h6v7h-6zm-197 7h6v6h-6zm184 0h6v6h-6zm-171 6h6v7h-6zm157 0h7v7h-7zm-144 7h13v6h-13zm131 0h7v6h-7zm-111 6h19v7h-19zm85 0h13v7h-13zm-39 7h13v7h-13z"/><path fill="#ffe07c" d="M1648 28h7v7h-7zm-7 20h7v7h-7zm-6 20h6v6h-6zm-7 19h7v7h-7zm-6 20h6v7h-6zm-7 13h7v7h-7zm-6 20h6v7h-6zm-7 13h7v7h-7zm-7 13h7v7h-7zm-6 13h6v7h-6zm-13 20h6v7h-6zm-7 13h7v7h-7zm-6 7h6v6h-6zm-14 20h7v6h-7zm-6 6h6v7h-6zm-309 7h6v6h-6zm302 0h7v6h-7zm-296 6h7v7h-7zm290 0h6v7h-6zm-276 7h6v6h-6zm269 0h7v6h-7zm-263 6h7v7h-7zm257 0h6v7h-6zm-244 7h7v7h-7zm237 0h7v7h-7zm-230 7h6v6h-6zm217 0h6v6h-6zm-204 6h7v7h-7zm197 0h7v7h-7zm-184 7h7v6h-7zm171 0h7v6h-7zm-158 6h13v7h-13zm145 0h6v7h-6zm-125 7h13v6h-13zm105 0h13v6h-13zm-79 6h66v7h-66z"/><path fill="#ffe17e" d="M1648 22h7v6h-7zm-7 19h7v7h-7zm-6 20h6v7h-6zm-7 20h7v6h-7zm-6 20h6v6h-6zm-7 13h7v6h-7zm-6 19h6v7h-6zm-7 14h7v6h-7zm-7 13h7v6h-7zm-6 13h6v6h-6zm-7 13h7v7h-7zm-6 7h6v6h-6zm-7 13h7v6h-7zm-13 19h7v7h-7zm-7 7h7v7h-7zm-6 7h6v6h-6zm-309 6h6v7h-6zm302 0h7v7h-7zm-296 7h7v6h-7zm7 6h7v7h-7zm13 7h7v6h-7zm257 0h6v6h-6zm-250 6h6v7h-6zm243 0h7v7h-7zm-230 7h6v7h-6zm223 0h7v7h-7zm-217 7h7v6h-7zm204 0h7v6h-7zm-190 6h6v7h-6zm184 0h6v7h-6zm-171 7h13v6h-13zm157 0h7v6h-7zm-138 6h7v7h-7zm119 0h13v7h-13zm-99 7h20v6h-20zm72 0h20v6h-20z"/><path fill="#ffe280" d="M1648 18h7v4h-7zm-7 17h7v6h-7zm-6 20h6v6h-6zm-7 19h7v7h-7zm-6 20h6v7h-6zm-7 13h7v7h-7zm-6 20h6v6h-6zm-7 13h7v7h-7zm-7 13h7v7h-7zm-6 13h6v7h-6zm-7 13h7v7h-7zm-13 20h7v7h-7zm-6 13h6v7h-6zm-7 7h7v6h-7zm-7 6h7v7h-7zm-309 20h7v7h-7zm7 7h7v6h-7zm283 0h6v6h-6zm-276 6h6v7h-6zm269 0h7v7h-7zm-256 7h6v6h-6zm6 6h7v7h-7zm230 0h7v7h-7zm-217 7h7v7h-7zm211 0h6v7h-6zm-204 7h13v6h-13zm191 0h6v6h-6zm-178 6h13v7h-13zm164 0h14v7h-14zm-144 7h6v6h-6zm131 0h13v6h-13zm-118 6h20v7h-20zm99 0h13v7h-13zm-66 7h52v6h-52z"/><path fill="#ffe283" d="M1641 28h7v7h-7zm-6 20h6v7h-6zm-7 20h7v6h-7zm-6 19h6v7h-6zm-7 14h7v6h-7zm-6 19h6v7h-6zm-7 13h7v7h-7zm-7 14h7v6h-7zm-6 13h6v6h-6zm-7 13h7v6h-7zm-6 13h6v7h-6zm-7 7h7v6h-7zm-6 13h6v6h-6zm-7 6h7v7h-7zm-13 20h6v7h-6zm-309 7h6v6h-6zm302 0h7v6h-7zm-6 6h6v7h-6zm-276 7h6v6h-6zm269 0h7v6h-7zm-263 6h7v7h-7zm257 0h6v7h-6zm-244 7h7v6h-7zm237 0h7v6h-7zm-230 6h6v7h-6zm217 0h6v7h-6zm-204 7h7v7h-7zm197 0h7v7h-7zm-184 7h7v6h-7zm171 0h7v6h-7zm-158 6h7v7h-7zm145 0h6v7h-6zm-132 7h14v6h-14zm112 0h13v6h-13zm-85 6h19v7h-19zm59 0h20v7h-20z"/><path fill="#ffe385" d="M1641 18h7v4h-7zm0 4h7v6h-7zm-6 19h6v7h-6zm-7 20h7v7h-7zm-6 20h6v6h-6zm-7 13h7v7h-7zm-6 20h6v6h-6zm-7 13h7v6h-7zm-7 13h7v7h-7zm-6 13h6v7h-6zm-7 13h7v7h-7zm-6 13h6v7h-6zm-13 20h6v7h-6zm-14 20h7v6h-7zm-6 6h6v7h-6zm-309 7h6v7h-6zm302 0h7v7h-7zm-296 7h7v6h-7zm290 0h6v6h-6zm-283 6h7v7h-7zm276 0h7v7h-7zm-263 7h7v6h-7zm257 0h6v6h-6zm-250 6h6v7h-6zm243 0h7v7h-7zm-230 7h6v6h-6zm223 0h7v6h-7zm-217 6h7v7h-7zm204 0h7v7h-7zm-190 7h6v7h-6zm184 0h6v7h-6zm-171 7h6v6h-6zm157 0h7v6h-7zm-144 6h13v7h-13zm131 0h7v7h-7zm-111 7h13v6h-13zm85 0h13v6h-13zm-53 6h40v7h-40z"/><path fill="#ffe387" d="M1635 28h6v7h-6zm0 7h6v6h-6zm-7 13h7v7h-7zm0 7h7v6h-7zm-6 13h6v6h-6zm0 6h6v7h-6zm-7 13h7v7h-7zm-6 20h6v7h-6zm-7 13h7v7h-7zm-7 13h7v7h-7zm-6 14h6v6h-6zm-7 13h7v6h-7zm-6 13h6v6h-6zm-7 13h7v7h-7zm-6 7h6v6h-6zm-7 13h7v6h-7zm-7 6h7v7h-7zm-6 7h6v6h-6zm-309 6h6v7h-6zm6 7h7v7h-7zm7 7h7v6h-7zm7 6h6v7h-6zm13 7h6v6h-6zm6 6h7v7h-7zm230 0h7v7h-7zm-217 7h7v6h-7zm211 0h6v6h-6zm-204 6h7v7h-7zm191 0h6v7h-6zm-178 7h7v7h-7zm171 0h7v7h-7zm-158 7h13v6h-13zm145 0h6v6h-6zm-125 6h13v7h-13zm105 0h13v7h-13zm-85 7h72v6h-72z"/><path fill="#ffe48a" d="M1635 22h6v6h-6zm-7 19h7v7h-7zm-6 20h6v7h-6zm-7 20h7v6h-7zm-6 20h6v6h-6zm-7 13h7v6h-7zm-7 13h7v6h-7zm-6 13h6v7h-6zm-7 13h7v7h-7zm-6 13h6v7h-6zm-7 13h7v7h-7zm-6 7h6v7h-6zm-7 13h7v7h-7zm-7 7h7v6h-7zm-13 19h7v7h-7zm-289 7h7v7h-7zm283 0h6v7h-6zm-276 7h6v6h-6zm269 0h7v6h-7zm-263 6h7v7h-7zm257 0h6v7h-6zm-244 7h7v6h-7zm237 0h7v6h-7zm-230 6h6v7h-6zm217 0h6v7h-6zm-204 7h7v6h-7zm197 0h7v6h-7zm-190 6h13v7h-13zm177 0h7v7h-7zm-164 7h13v7h-13zm151 0h13v7h-13zm-132 7h14v6h-14zm119 0h13v6h-13zm-99 6h20v7h-20zm72 0h20v7h-20z"/><path fill="#ffe48c" d="M1635 18h6v4h-6zm-7 17h7v6h-7zm-6 20h6v6h-6zm-7 19h7v7h-7zm-6 20h6v7h-6zm-7 13h7v7h-7zm-7 13h7v7h-7zm-6 13h6v7h-6zm-7 14h7v6h-7zm-6 13h6v6h-6zm-7 13h7v6h-7zm-13 20h7v6h-7zm-7 6h7v7h-7zm-6 13h6v7h-6zm-309 7h6v6h-6zm302 0h7v6h-7zm-296 6h7v7h-7zm290 0h6v7h-6zm-276 7h6v7h-6zm269 0h7v7h-7zm-263 7h7v6h-7zm257 0h6v6h-6zm-250 6h6v7h-6zm243 0h7v7h-7zm-230 7h6v6h-6zm223 0h7v6h-7zm-217 6h7v7h-7zm204 0h7v7h-7zm-190 7h6v6h-6zm184 0h6v6h-6zm-171 6h6v7h-6zm157 0h7v7h-7zm-144 7h13v7h-13zm131 0h7v7h-7zm-111 7h13v6h-13zm92 0h13v6h-13zm-66 6h52v7h-52z"/><path fill="#ffe58f" d="M1628 28h7v7h-7zm-6 20h6v7h-6zm-7 20h7v6h-7zm-6 13h6v6h-6zm0 6h6v7h-6zm-7 14h7v6h-7zm-7 13h7v6h-7zm-6 13h6v6h-6zm-7 13h7v7h-7zm-6 13h6v7h-6zm-7 13h7v7h-7zm-6 13h6v7h-6zm-7 7h7v7h-7zm-329 20h7v6h-7zm316 0h6v6h-6zm-309 6h6v7h-6zm302 0h7v7h-7zm-296 7h7v6h-7zm290 0h6v6h-6zm-283 6h7v7h-7zm276 0h7v7h-7zm-263 7h7v7h-7zm257 0h6v7h-6zm-250 7h6v6h-6zm243 0h7v6h-7zm-237 6h7v7h-7zm230 0h7v7h-7zm-217 7h7v6h-7zm211 0h6v6h-6zm-204 6h13v7h-13zm191 0h6v7h-6zm-178 7h7v6h-7zm171 0h7v6h-7zm-158 6h13v7h-13zm145 0h6v7h-6zm-125 7h7v7h-7zm105 0h13v7h-13zm-85 7h26v6h-26zm52 0h27v6h-27z"/><path fill="#ffe691" d="M1628 22h7v6h-7zm-6 19h6v7h-6zm-7 20h7v7h-7zm-6 13h6v7h-6zm-7 20h7v7h-7zm-7 13h7v7h-7zm-6 13h6v7h-6zm-7 13h7v7h-7zm-6 14h6v6h-6zm-7 13h7v6h-7zm-6 13h6v6h-6zm-7 6h7v7h-7zm-7 14h7v6h-7zm-6 6h6v7h-6zm-309 7h6v6h-6zm302 0h7v6h-7zm-296 6h7v7h-7zm7 7h7v6h-7zm7 6h6v7h-6zm13 7h6v7h-6zm6 7h7v6h-7zm230 0h7v6h-7zm-223 6h6v7h-6zm217 0h6v7h-6zm-204 7h7v6h-7zm197 0h7v6h-7zm-184 6h7v7h-7zm171 0h7v7h-7zm-164 7h13v6h-13zm151 0h13v6h-13zm-132 6h7v7h-7zm119 0h13v7h-13zm-105 7h19v7h-19zm78 0h20v7h-20zm-39 7h26v6h-26z"/><path fill="#ffe694" d="M1628 18h7v4h-7zm-6 10h6v7h-6zm0 7h6v6h-6zm-7 13h7v7h-7zm0 7h7v6h-7zm-6 13h6v6h-6zm-7 19h7v7h-7zm-7 14h7v6h-7zm-6 13h6v6h-6zm-7 13h7v6h-7zm-6 13h6v7h-6zm-7 13h7v7h-7zm-6 13h6v7h-6zm-7 7h7v6h-7zm-7 13h7v7h-7zm-6 7h6v6h-6zm-316 6h7v7h-7zm13 7h7v6h-7zm7 6h7v7h-7zm283 0h6v7h-6zm-276 7h6v6h-6zm269 0h7v6h-7zm-263 6h7v7h-7zm257 0h6v7h-6zm-244 7h7v7h-7zm237 0h7v7h-7zm-230 7h6v6h-6zm6 6h7v7h-7zm204 0h7v7h-7zm-190 7h6v6h-6zm184 0h6v6h-6zm-171 6h6v7h-6zm157 0h7v7h-7zm-144 7h6v6h-6zm131 0h7v6h-7zm-118 6h20v7h-20zm99 0h13v7h-13zm-73 7h59v7h-59z"/><path fill="#ffe796" d="M1622 22h6v6h-6zm-7 19h7v7h-7zm-6 20h6v7h-6zm-7 20h7v6h-7zm-7 13h7v7h-7zm-6 13h6v7h-6zm-7 13h7v7h-7zm-6 13h6v7h-6zm-7 14h7v6h-7zm-6 13h6v6h-6zm-14 19h7v7h-7zm-6 7h6v7h-6zm-316 7h7v6h-7zm7 6h6v7h-6zm302 0h7v7h-7zm-289 7h7v6h-7zm283 0h6v6h-6zm-276 6h6v7h-6zm269 0h7v7h-7zm-263 7h7v6h-7zm257 0h6v6h-6zm-250 6h6v7h-6zm243 0h7v7h-7zm-230 7h6v7h-6zm223 0h7v7h-7zm-217 7h7v6h-7zm211 0h6v6h-6zm-204 6h13v7h-13zm191 0h6v7h-6zm-178 7h13v6h-13zm171 0h7v6h-7zm-158 6h13v7h-13zm145 0h6v7h-6zm-132 7h14v6h-14zm112 0h13v6h-13zm-85 6h19v7h-19zm52 0h27v7h-27z"/><path fill="#ffe799" d="M1622 18h6v4h-6zm-7 17h7v6h-7zm-6 20h6v6h-6zm-7 13h7v6h-7zm0 6h7v7h-7zm-7 13h7v7h-7zm-6 14h6v6h-6zm-7 13h7v6h-7zm-6 13h6v6h-6zm-7 13h7v7h-7zm-6 13h6v7h-6zm-7 13h7v7h-7zm-7 7h7v6h-7zm-322 13h7v7h-7zm7 7h6v6h-6zm302 0h7v6h-7zm-296 6h7v7h-7zm290 0h6v7h-6zm-7 7h7v6h-7zm-263 6h7v7h-7zm257 0h6v7h-6zm-250 7h6v6h-6zm243 0h7v6h-7zm-237 6h7v7h-7zm230 0h7v7h-7zm-217 7h7v7h-7zm211 0h6v7h-6zm-204 7h7v6h-7zm197 0h7v6h-7zm-184 6h7v7h-7zm171 0h7v7h-7zm-158 7h7v6h-7zm145 0h13v6h-13zm-132 6h7v7h-7zm119 0h13v7h-13zm-105 7h19v6h-19zm85 0h13v6h-13zm-53 6h33v7h-33z"/><path fill="#ffe89b" d="M1615 28h7v7h-7zm-6 20h6v7h-6zm-7 13h7v7h-7zm-7 20h7v6h-7zm-6 13h6v7h-6zm-7 13h7v7h-7zm-6 13h6v7h-6zm-7 13h7v7h-7zm-6 14h6v6h-6zm-7 13h7v6h-7zm-7 6h7v7h-7zm-322 13h7v7h-7zm316 0h6v7h-6zm-309 7h6v7h-6zm302 0h7v7h-7zm-296 7h7v6h-7zm290 0h6v6h-6zm-283 6h7v7h-7zm276 0h7v7h-7zm-269 7h6v6h-6zm13 6h6v7h-6zm6 7h7v6h-7zm230 0h7v6h-7zm-223 6h6v7h-6zm217 0h6v7h-6zm-204 7h7v7h-7zm197 0h7v7h-7zm-190 7h6v6h-6zm184 0h6v6h-6zm-171 6h6v7h-6zm157 0h7v7h-7zm-144 7h13v6h-13zm131 0h7v6h-7zm-118 6h20v7h-20zm99 0h13v7h-13zm-73 7h66v6h-66z"/><path fill="#ffe89d" d="M1615 18h7v4h-7zm0 4h7v6h-7zm-6 13h6v6h-6zm0 6h6v7h-6zm-7 14h7v6h-7zm-7 19h7v7h-7zm-6 13h6v7h-6zm-7 14h7v6h-7zm-6 13h6v6h-6zm-7 13h7v6h-7zm-6 13h6v7h-6zm-7 13h7v7h-7zm-7 7h7v6h-7zm-322 13h7v6h-7zm316 0h6v6h-6zm-309 6h6v7h-6zm302 0h7v7h-7zm-296 7h7v7h-7zm290 0h6v7h-6zm-283 7h7v6h-7zm7 6h6v7h-6zm6 7h7v6h-7zm257 0h6v6h-6zm-244 6h7v7h-7zm237 0h7v7h-7zm-230 7h6v6h-6zm6 6h7v7h-7zm204 0h7v7h-7zm-190 7h6v7h-6zm184 0h6v7h-6zm-178 7h13v6h-13zm164 0h14v6h-14zm-151 6h13v7h-13zm138 0h13v7h-13zm-118 7h13v6h-13zm105 0h13v6h-13zm-85 6h19v7h-19zm52 0h27v7h-27z"/><path fill="#ffe9a0" d="M1609 28h6v7h-6zm-7 20h7v7h-7zm-7 20h7v6h-7zm-6 13h6v6h-6zm-7 13h7v7h-7zm-6 13h6v7h-6zm-7 13h7v7h-7zm-6 13h6v7h-6zm-7 14h7v6h-7zm-7 6h7v7h-7zm-322 13h7v7h-7zm316 0h6v7h-6zm-309 7h6v6h-6zm302 0h7v6h-7zm-296 6h7v7h-7zm7 7h7v7h-7zm7 7h6v6h-6zm269 0h7v6h-7zm-263 6h7v7h-7zm257 0h6v7h-6zm-250 7h6v6h-6zm243 0h7v6h-7zm-230 6h6v7h-6zm223 0h7v7h-7zm-217 7h7v6h-7zm211 0h6v6h-6zm-204 6h13v7h-13zm191 0h6v7h-6zm-178 7h7v7h-7zm171 0h7v7h-7zm-158 7h7v6h-7zm145 0h6v6h-6zm-132 6h14v7h-14zm119 0h6v7h-6zm-99 7h13v6h-13zm72 0h20v6h-20zm-46 6h33v7h-33z"/><path fill="#ffeaa2" d="M1609 22h6v6h-6zm-7 19h7v7h-7zm-7 14h7v6h-7zm0 6h7v7h-7zm-6 13h6v7h-6zm-7 13h7v7h-7zm-6 14h6v6h-6zm-7 13h7v6h-7zm-6 13h6v6h-6zm-7 13h7v7h-7zm-7 7h7v6h-7zm-6 13h6v6h-6zm-309 6h6v7h-6zm302 0h7v7h-7zm-296 7h7v6h-7zm7 6h7v7h-7zm283 0h6v7h-6zm-276 7h6v7h-6zm269 0h7v7h-7zm-263 7h7v6h-7zm257 0h6v6h-6zm-250 6h6v7h-6zm243 0h7v7h-7zm-237 7h7v6h-7zm230 0h7v6h-7zm-217 6h7v7h-7zm211 0h6v7h-6zm-204 7h7v6h-7zm197 0h7v6h-7zm-184 6h7v7h-7zm171 0h7v7h-7zm-164 7h13v7h-13zm151 0h13v7h-13zm-138 7h13v6h-13zm125 0h13v6h-13zm-105 6h13v7h-13zm85 0h20v7h-20zm-66 7h59v6h-59z"/><path fill="#ffeaa5" d="M1609 18h6v4h-6zm-7 10h7v7h-7zm0 7h7v6h-7zm-7 13h7v7h-7zm-6 20h6v6h-6zm-7 13h7v6h-7zm-6 13h6v7h-6zm-7 13h7v7h-7zm-6 13h6v7h-6zm-7 13h7v7h-7zm-13 20h6v7h-6zm-316 7h7v6h-7zm20 13h7v6h-7zm283 0h6v6h-6zm-276 6h6v7h-6zm269 0h7v7h-7zm-263 7h7v7h-7zm257 0h6v7h-6zm-250 7h6v6h-6zm243 0h7v6h-7zm-237 6h7v7h-7zm230 0h7v7h-7zm-223 7h6v6h-6zm217 0h6v6h-6zm-204 6h7v7h-7zm197 0h7v7h-7zm-190 7h6v6h-6zm177 0h13v6h-13zm-164 6h6v7h-6zm157 0h7v7h-7zm-144 7h6v7h-6zm131 0h7v7h-7zm-118 7h13v6h-13zm99 0h13v6h-13zm-79 6h26v7h-26zm46 0h26v7h-26z"/><path fill="#ffeba7" d="M1602 22h7v6h-7zm-7 19h7v7h-7zm-6 20h6v7h-6zm-7 13h7v7h-7zm-6 13h6v7h-6zm-7 14h7v6h-7zm-6 13h6v6h-6zm-7 13h7v6h-7zm-7 13h7v7h-7zm-6 7h6v6h-6zm-316 6h7v7h-7zm7 7h6v6h-6zm302 0h7v6h-7zm-296 6h7v7h-7zm290 0h6v7h-6zm-7 7h7v6h-7zm-263 6h7v7h-7zm257 0h6v7h-6zm-250 7h6v7h-6zm243 0h7v7h-7zm-237 7h7v6h-7zm230 0h7v6h-7zm-223 6h6v7h-6zm217 0h6v7h-6zm-211 7h14v6h-14zm204 0h7v6h-7zm-190 6h6v7h-6zm184 0h6v7h-6zm-178 7h13v6h-13zm164 0h7v6h-7zm-151 6h13v7h-13zm138 0h13v7h-13zm-125 7h14v7h-14zm112 0h13v7h-13zm-92 7h20v6h-20zm66 0h20v6h-20zm-33 6h20v7h-20z"/><path fill="#ffebaa" d="M1602 18h7v4h-7zm-7 17h7v6h-7zm-6 13h6v7h-6zm0 7h6v6h-6zm-7 13h7v6h-7zm-6 13h6v6h-6zm-7 13h7v7h-7zm-6 13h6v7h-6zm-7 13h7v7h-7zm-7 13h7v7h-7zm-6 7h6v7h-6zm-316 7h7v6h-7zm7 6h6v7h-6zm302 0h7v7h-7zm-296 7h7v6h-7zm290 0h6v6h-6zm-283 6h7v7h-7zm276 0h7v7h-7zm-269 7h6v6h-6zm263 0h6v6h-6zm-250 6h6v7h-6zm6 7h7v7h-7zm7 7h6v6h-6zm6 6h7v7h-7zm204 0h7v7h-7zm-190 7h6v6h-6zm184 0h6v6h-6zm-178 6h7v7h-7zm171 0h7v7h-7zm-158 7h7v6h-7zm145 0h6v6h-6zm-132 6h14v7h-14zm119 0h6v7h-6zm-105 7h19v7h-19zm85 0h13v7h-13zm-59 7h46v6h-46z"/><path fill="#ffecac" d="M1595 22h7v6h-7zm0 6h7v7h-7zm-6 13h6v7h-6zm-7 20h7v7h-7zm-6 13h6v7h-6zm-7 13h7v7h-7zm-6 14h6v6h-6zm-7 13h7v6h-7zm-7 13h7v6h-7zm-6 6h6v7h-6zm-316 7h7v7h-7zm7 7h6v6h-6zm302 0h7v6h-7zm-296 6h7v7h-7zm290 0h6v7h-6zm-283 7h7v6h-7zm276 0h7v6h-7zm-269 6h6v7h-6zm6 7h7v6h-7zm13 6h7v7h-7zm237 0h7v7h-7zm-230 7h6v7h-6zm223 0h7v7h-7zm-217 7h7v6h-7zm211 0h6v6h-6zm-204 6h7v7h-7zm191 0h6v7h-6zm-178 7h7v6h-7zm171 0h7v6h-7zm-164 6h13v7h-13zm151 0h13v7h-13zm-138 7h13v6h-13zm125 0h13v6h-13zm-105 6h13v7h-13zm92 0h13v7h-13zm-73 7h66v7h-66z"/><path fill="#ffecae" d="M1595 18h7v4h-7zm-6 17h6v6h-6zm-7 13h7v7h-7zm0 7h7v6h-7zm-6 13h6v6h-6zm-7 13h7v6h-7zm-6 13h6v7h-6zm-7 13h7v7h-7zm-7 13h7v7h-7zm-6 7h6v6h-6zm-316 6h7v7h-7zm7 7h6v7h-6zm302 0h7v7h-7zm-296 7h7v6h-7zm290 0h6v6h-6zm-283 6h7v7h-7zm276 0h7v7h-7zm-269 7h6v6h-6zm6 6h7v7h-7zm257 0h6v7h-6zm-250 7h6v6h-6zm243 0h7v6h-7zm-230 6h6v7h-6zm223 0h7v7h-7zm-217 7h7v7h-7zm211 0h6v7h-6zm-204 7h7v6h-7zm197 0h7v6h-7zm-190 6h13v7h-13zm177 0h7v7h-7zm-164 7h6v6h-6zm157 0h7v6h-7zm-144 6h6v7h-6zm131 0h7v7h-7zm-118 7h13v6h-13zm99 0h13v6h-13zm-79 6h26v7h-26zm52 0h27v7h-27z"/><path fill="#ffedb1" d="M1589 28h6v7h-6zm-7 13h7v7h-7zm-6 20h6v7h-6zm-7 13h7v7h-7zm-6 13h6v7h-6zm-7 14h7v6h-7zm-7 13h7v6h-7zm-328 6h6v7h-6zm322 0h6v7h-6zm-316 7h7v6h-7zm7 6h6v7h-6zm302 0h7v7h-7zm-296 7h7v7h-7zm290 0h6v7h-6zm-283 7h7v6h-7zm7 6h6v7h-6zm6 7h7v6h-7zm257 0h6v6h-6zm-250 6h6v7h-6zm243 0h7v7h-7zm-237 7h7v6h-7zm230 0h7v6h-7zm-217 6h7v7h-7zm211 0h6v7h-6zm-204 7h7v7h-7zm197 0h7v7h-7zm-190 7h6v6h-6zm177 0h13v6h-13zm-164 6h6v7h-6zm157 0h7v7h-7zm-151 7h13v6h-13zm138 0h13v6h-13zm-125 6h14v7h-14zm112 0h13v7h-13zm-92 7h20v6h-20zm66 0h20v6h-20zm-33 6h26v7h-26z"/><path fill="#ffedb3" d="M1589 18h6v4h-6zm0 4h6v6h-6zm-7 13h7v6h-7zm-6 13h6v7h-6zm0 7h6v6h-6zm-7 13h7v6h-7zm-6 13h6v6h-6zm-7 13h7v7h-7zm-7 7h7v6h-7zm0 6h7v7h-7zm-328 7h6v6h-6zm322 0h6v6h-6zm-316 6h7v7h-7zm7 7h6v6h-6zm302 0h7v6h-7zm-296 6h7v7h-7zm290 0h6v7h-6zm-283 7h7v7h-7zm7 7h6v6h-6zm269 0h7v6h-7zm-263 6h7v7h-7zm257 0h6v7h-6zm-250 7h6v6h-6zm243 0h7v6h-7zm-237 6h7v7h-7zm230 0h7v7h-7zm-223 7h6v6h-6zm217 0h6v6h-6zm-204 6h7v7h-7zm197 0h7v7h-7zm-190 7h6v7h-6zm184 0h6v7h-6zm-178 7h13v6h-13zm164 0h7v6h-7zm-151 6h13v7h-13zm145 0h6v7h-6zm-132 7h14v6h-14zm112 0h13v6h-13zm-98 6h19v7h-19zm78 0h20v7h-20zm-52 7h46v6h-46z"/><path fill="#ffeeb6" d="M1582 28h7v7h-7zm-6 13h6v7h-6zm-7 14h7v6h-7zm0 6h7v7h-7zm-6 13h6v7h-6zm-7 13h7v7h-7zm-7 7h7v7h-7zm-328 13h6v7h-6zm322 0h6v7h-6zm-316 7h7v6h-7zm7 6h6v7h-6zm302 0h7v7h-7zm-296 7h7v6h-7zm290 0h6v6h-6zm-283 6h7v7h-7zm7 7h6v7h-6zm269 0h7v7h-7zm-263 7h7v6h-7zm257 0h6v6h-6zm-250 6h6v7h-6zm243 0h7v7h-7zm-237 7h7v6h-7zm230 0h7v6h-7zm-223 6h6v7h-6zm217 0h6v7h-6zm-211 7h14v6h-14zm204 0h7v6h-7zm-190 6h6v7h-6zm184 0h6v7h-6zm-178 7h7v7h-7zm164 0h14v7h-14zm-151 7h7v6h-7zm145 0h6v6h-6zm-132 6h7v7h-7zm119 0h13v7h-13zm-105 7h13v6h-13zm85 0h13v6h-13zm-66 6h59v7h-59z"/><path fill="#ffefb8" d="M1582 18h7v4h-7zm0 4h7v6h-7zm-6 13h6v6h-6zm-7 13h7v7h-7zm-6 13h6v7h-6zm0 7h6v6h-6zm-7 6h7v7h-7zm0 7h7v6h-7zm-7 6h7v7h-7zm-328 14h6v6h-6zm322 0h6v6h-6zm-316 6h7v7h-7zm7 7h6v6h-6zm302 0h7v6h-7zm-296 6h7v7h-7zm290 0h6v7h-6zm-283 7h7v6h-7zm7 6h6v7h-6zm269 0h7v7h-7zm-263 7h7v7h-7zm257 0h6v7h-6zm-250 7h6v6h-6zm243 0h7v6h-7zm-237 6h7v7h-7zm230 0h7v7h-7zm-223 7h6v6h-6zm217 0h6v6h-6zm-211 6h7v7h-7zm204 0h7v7h-7zm-190 7h6v6h-6zm184 0h6v6h-6zm-178 6h7v7h-7zm171 0h7v7h-7zm-164 7h13v7h-13zm151 0h6v7h-6zm-138 7h13v6h-13zm125 0h13v6h-13zm-112 6h20v7h-20zm99 0h13v7h-13zm-79 7h72v6h-72z"/><path fill="#ffefbb" d="M1576 28h6v7h-6zm-7 13h7v7h-7zm-6 14h6v6h-6zm-7 13h7v6h-7zm-7 13h7v6h-7zm-328 13h6v7h-6zm322 0h6v7h-6zm-316 7h7v6h-7zm7 6h6v7h-6zm302 0h7v7h-7zm-296 7h7v6h-7zm290 0h6v6h-6zm-283 6h7v7h-7zm7 7h6v6h-6zm269 0h7v6h-7zm-263 6h7v7h-7zm257 0h6v7h-6zm-250 7h6v7h-6zm243 0h7v7h-7zm-237 7h7v6h-7zm230 0h7v6h-7zm-223 6h6v7h-6zm217 0h6v7h-6zm-211 7h7v6h-7zm204 0h7v6h-7zm-197 6h13v7h-13zm191 0h6v7h-6zm-178 7h7v6h-7zm171 0h7v6h-7zm-164 6h13v7h-13zm151 0h13v7h-13zm-138 7h13v7h-13zm131 0h7v7h-7zm-118 7h13v6h-13zm99 0h13v6h-13zm-79 6h19v7h-19zm52 0h27v7h-27z"/><path fill="#fff0bd" d="M1576 18h6v4h-6zm0 4h6v6h-6zm-7 13h7v6h-7zm-6 13h6v7h-6zm-7 13h7v7h-7zm-7 13h7v7h-7zm-328 7h6v6h-6zm0 6h6v7h-6zm322 0h6v7h-6zm-316 7h7v7h-7zm7 7h6v6h-6zm302 0h7v6h-7zm-296 6h7v7h-7zm290 0h6v7h-6zm-283 7h7v6h-7zm7 6h6v7h-6zm269 0h7v7h-7zm-263 7h7v6h-7zm257 0h6v6h-6zm-250 6h6v7h-6zm243 0h7v7h-7zm-237 7h7v7h-7zm230 0h7v7h-7zm-223 7h6v6h-6zm217 0h6v6h-6zm-211 6h7v7h-7zm204 0h7v7h-7zm-197 7h7v6h-7zm191 0h6v6h-6zm-178 6h7v7h-7zm171 0h7v7h-7zm-164 7h6v6h-6zm157 0h7v6h-7zm-144 6h6v7h-6zm131 0h7v7h-7zm-118 7h13v7h-13zm105 0h13v7h-13zm-92 7h20v6h-20zm66 0h20v6h-20zm-40 6h33v7h-33z"/><path fill="#fff0c0" d="M1569 28h7v7h-7zm-6 13h6v7h-6zm-7 14h7v6h-7zm-7 13h7v6h-7zm-328 6h6v7h-6zm6 7h7v6h-7zm316 0h6v6h-6zm-316 6h7v7h-7zm7 7h6v7h-6zm302 0h7v7h-7zm-296 7h7v6h-7zm290 0h6v6h-6zm-283 6h7v7h-7zm7 7h6v6h-6zm269 0h7v6h-7zm-263 6h7v7h-7zm257 0h6v7h-6zm-250 7h6v6h-6zm243 0h7v6h-7zm-237 6h7v7h-7zm230 0h7v7h-7zm-223 7h6v7h-6zm217 0h6v7h-6zm-211 7h7v6h-7zm204 0h7v6h-7zm-197 6h7v7h-7zm191 0h6v7h-6zm-184 7h13v6h-13zm177 0h7v6h-7zm-164 6h6v7h-6zm157 0h7v7h-7zm-151 7h13v6h-13zm138 0h13v6h-13zm-125 6h14v7h-14zm112 0h13v7h-13zm-92 7h13v7h-13zm72 0h20v7h-20zm-52 7h46v6h-46z"/><path fill="#fff1c2" d="M1569 18h7v4h-7zm0 4h7v6h-7zm-6 13h6v6h-6zm-7 13h7v7h-7zm-7 13h7v7h-7zm-328 7h6v6h-6zm6 6h7v7h-7zm316 0h6v7h-6zm-7 7h7v6h-7zm-302 6h6v7h-6zm302 0h7v7h-7zm-296 7h7v7h-7zm290 0h6v7h-6zm-283 7h7v6h-7zm7 6h6v7h-6zm269 0h7v7h-7zm-263 7h7v6h-7zm257 0h6v6h-6zm-250 6h6v7h-6zm243 0h7v7h-7zm-237 7h7v6h-7zm230 0h7v6h-7zm-223 6h6v7h-6zm6 7h7v7h-7zm7 7h7v6h-7zm191 0h6v6h-6zm-184 6h13v7h-13zm177 0h7v7h-7zm-164 7h6v6h-6zm157 0h7v6h-7zm-151 6h13v7h-13zm138 0h13v7h-13zm-125 7h14v6h-14zm112 0h13v6h-13zm-98 6h19v7h-19zm85 0h13v7h-13zm-66 7h59v7h-59z"/><path fill="#fff1c4" d="M1563 22h6v6h-6zm0 6h6v7h-6zm-7 13h7v7h-7zm-7 14h7v6h-7zm-328 6h6v7h-6zm6 7h7v6h-7zm316 0h6v6h-6zm-309 6h6v7h-6zm302 0h7v7h-7zm-302 7h6v6h-6zm6 6h7v7h-7zm290 0h6v7h-6zm-283 7h7v7h-7zm276 0h7v7h-7zm-269 7h6v6h-6zm269 0h7v6h-7zm-263 6h7v7h-7zm257 0h6v7h-6zm-250 7h6v6h-6zm243 0h7v6h-7zm-237 6h7v7h-7zm230 0h7v7h-7zm-223 7h6v6h-6zm6 6h7v7h-7zm211 0h6v7h-6zm-204 7h7v7h-7zm197 0h7v7h-7zm-190 7h13v6h-13zm177 0h7v6h-7zm-164 6h6v7h-6zm157 0h7v7h-7zm-151 7h13v6h-13zm138 0h13v6h-13zm-125 6h14v7h-14zm119 0h6v7h-6zm-105 7h13v6h-13zm85 0h13v6h-13zm-66 6h66v7h-66z"/><path fill="#fff2c7" d="M1563 18h6v4h-6zm-7 10h7v7h-7zm0 7h7v6h-7zm-7 6h7v7h-7zm0 7h7v7h-7zm-328 7h6v6h-6zm322 0h6v6h-6zm-316 6h7v7h-7zm316 0h6v7h-6zm-309 7h6v6h-6zm302 0h7v6h-7zm-296 13h7v6h-7zm290 0h6v6h-6zm-283 6h7v7h-7zm276 0h7v7h-7zm-269 7h6v7h-6zm6 7h7v6h-7zm257 0h6v6h-6zm-250 6h6v7h-6zm243 0h7v7h-7zm-237 7h7v6h-7zm230 0h7v6h-7zm-223 6h6v7h-6zm6 7h7v6h-7zm211 0h6v6h-6zm-204 6h7v7h-7zm197 0h7v7h-7zm-190 7h6v7h-6zm177 0h13v7h-13zm-164 7h6v6h-6zm157 0h7v6h-7zm-151 6h7v7h-7zm145 0h6v7h-6zm-132 7h7v6h-7zm119 0h6v6h-6zm-105 6h13v7h-13zm85 0h20v7h-20zm-72 7h72v6h-72z"/><path fill="#fff3c9" d="M1556 22h7v6h-7zm-7 13h7v6h-7zm-328 13h6v7h-6zm322 0h6v7h-6zm-316 7h7v6h-7zm7 6h6v7h-6zm302 0h7v7h-7zm-296 7h7v6h-7zm0 6h7v7h-7zm290 0h6v7h-6zm-283 7h7v6h-7zm276 0h7v6h-7zm-269 6h6v7h-6zm6 7h7v7h-7zm257 0h6v7h-6zm-250 7h6v6h-6zm243 0h7v6h-7zm-237 6h7v7h-7zm230 0h7v7h-7zm-223 7h6v6h-6zm6 6h7v7h-7zm211 0h6v7h-6zm-204 7h7v6h-7zm197 0h7v6h-7zm-190 6h6v7h-6zm177 0h13v7h-13zm-171 7h13v7h-13zm164 0h7v7h-7zm-151 7h7v6h-7zm145 0h6v6h-6zm-138 6h13v7h-13zm125 0h13v7h-13zm-112 7h20v6h-20zm99 0h13v6h-13zm-79 6h26v7h-26zm46 0h26v7h-26z"/><path fill="#fff3cc" d="M1556 18h7v4h-7zm-7 10h7v7h-7zm-328 7h6v6h-6zm0 6h6v7h-6zm322 0h6v7h-6zm-316 7h7v7h-7zm7 7h6v6h-6zm302 0h7v6h-7zm-296 6h7v7h-7zm7 7h7v6h-7zm283 0h6v6h-6zm-283 6h7v7h-7zm276 0h7v7h-7zm-269 7h6v6h-6zm6 6h7v7h-7zm257 0h6v7h-6zm-250 7h6v7h-6zm243 0h7v7h-7zm-237 7h7v6h-7zm230 0h7v6h-7zm-223 6h6v7h-6zm217 0h6v7h-6zm-211 7h7v6h-7zm211 0h6v6h-6zm-204 6h7v7h-7zm197 0h7v7h-7zm-190 7h6v6h-6zm177 0h13v6h-13zm-171 6h13v7h-13zm164 0h7v7h-7zm-151 7h7v7h-7zm145 0h6v7h-6zm-138 7h13v6h-13zm125 0h13v6h-13zm-112 6h13v7h-13zm99 0h13v7h-13zm-79 7h19v6h-19zm52 0h27v6h-27zm-26 6h20v7h-20z"/><path fill="#fff4ce" d="M1549 22h7v6h-7zm-328 6h6v7h-6zm6 7h7v6h-7zm316 0h6v6h-6zm-316 6h7v7h-7zm7 7h6v7h-6zm302 0h7v7h-7zm-296 7h7v6h-7zm290 0h6v6h-6zm-283 6h7v7h-7zm283 0h6v7h-6zm-7 7h7v6h-7zm-269 6h6v7h-6zm6 7h7v6h-7zm257 0h6v6h-6zm-250 6h6v7h-6zm243 0h7v7h-7zm-237 7h7v7h-7zm230 0h7v7h-7zm-223 7h6v6h-6zm217 0h6v6h-6zm-211 6h7v7h-7zm7 7h7v6h-7zm197 0h7v6h-7zm-190 6h6v7h-6zm177 0h13v7h-13zm-171 7h13v6h-13zm164 0h7v6h-7zm-151 6h7v7h-7zm145 0h6v7h-6zm-138 7h13v7h-13zm125 0h13v7h-13zm-112 7h13v6h-13zm99 0h13v6h-13zm-86 6h26v7h-26zm66 0h20v7h-20zm-40 7h33v6h-33z"/><path fill="#fff4d1" d="M1549 18h7v4h-7zm-328 4h6v6h-6zm322 0h6v6h-6zm-316 6h7v7h-7zm316 0h6v7h-6zm-7 7h7v6h-7zm-302 6h6v7h-6zm302 0h7v7h-7zm-296 7h7v7h-7zm290 0h6v7h-6zm-283 7h7v6h-7zm7 6h6v7h-6zm269 0h7v7h-7zm-269 7h6v6h-6zm263 0h6v6h-6zm-257 6h7v7h-7zm257 0h6v7h-6zm-250 7h6v6h-6zm243 0h7v6h-7zm-237 6h7v7h-7zm230 0h7v7h-7zm-223 7h6v7h-6zm217 0h6v7h-6zm-211 7h7v6h-7zm204 0h7v6h-7zm-197 6h7v7h-7zm197 0h7v7h-7zm-190 7h6v6h-6zm177 0h13v6h-13zm-171 6h13v7h-13zm164 0h7v7h-7zm-151 7h7v6h-7zm145 0h6v6h-6zm-138 6h13v7h-13zm125 0h13v7h-13zm-112 7h13v7h-13zm99 0h13v7h-13zm-86 7h20v6h-20zm66 0h20v6h-20zm-40 6h40v7h-40z"/><path fill="#fff5d3" d="M1221 18h6v4h-6zm322 0h6v4h-6zm-316 4h7v6h-7zm7 6h6v7h-6zm302 0h7v7h-7zm-302 7h6v6h-6zm6 6h7v7h-7zm290 0h6v7h-6zm-283 7h7v7h-7zm7 7h6v6h-6zm269 0h7v6h-7zm-263 6h7v7h-7zm257 0h6v7h-6zm-257 7h7v6h-7zm7 6h6v7h-6zm243 0h7v7h-7zm-237 7h7v6h-7zm230 0h7v6h-7zm-223 6h6v7h-6zm217 0h6v7h-6zm-211 7h7v7h-7zm204 0h7v7h-7zm-197 7h7v6h-7zm191 0h6v6h-6zm-184 6h6v7h-6zm177 0h13v7h-13zm-171 7h13v6h-13zm164 0h7v6h-7zm-151 6h7v7h-7zm145 0h6v7h-6zm-138 7h13v6h-13zm125 0h13v6h-13zm-112 6h13v7h-13zm99 0h13v7h-13zm-86 7h20v7h-20zm66 0h20v7h-20zm-46 7h46v6h-46z"/><path fill="#fff5d6" d="M1227 18h7v4h-7zm7 4h6v6h-6zm302 0h7v6h-7zm-296 6h7v7h-7zm0 7h7v6h-7zm290 0h6v6h-6zm-283 6h7v7h-7zm276 0h7v7h-7zm-269 7h6v7h-6zm269 0h7v7h-7zm-263 7h7v6h-7zm257 0h6v6h-6zm-250 6h6v7h-6zm0 7h6v6h-6zm243 0h7v6h-7zm-237 6h7v7h-7zm230 0h7v7h-7zm-223 7h6v6h-6zm217 0h6v6h-6zm-211 6h7v7h-7zm204 0h7v7h-7zm-197 7h7v7h-7zm191 0h6v7h-6zm-184 7h6v6h-6zm177 0h7v6h-7zm-171 6h13v7h-13zm164 0h7v7h-7zm-151 7h7v6h-7zm145 0h6v6h-6zm-138 6h13v7h-13zm125 0h13v7h-13zm-112 7h13v6h-13zm99 0h13v6h-13zm-86 6h20v7h-20zm66 0h20v7h-20zm-46 7h46v7h-46z"/><path fill="#fff6d8" d="M1234 18h6v4h-6zm302 0h7v4h-7zm-296 4h7v6h-7zm290 0h6v6h-6zm-283 6h7v7h-7zm283 0h6v7h-6zm-283 7h7v6h-7zm276 0h7v6h-7zm-269 6h6v7h-6zm6 7h7v7h-7zm257 0h6v7h-6zm-250 7h6v6h-6zm243 0h7v6h-7zm-237 6h7v7h-7zm237 0h7v7h-7zm-237 7h7v6h-7zm230 0h7v6h-7zm-223 6h6v7h-6zm217 0h6v7h-6zm-211 7h7v6h-7zm204 0h7v6h-7zm-197 6h7v7h-7zm191 0h6v7h-6zm-184 7h13v7h-13zm177 0h7v7h-7zm-171 7h13v6h-13zm164 0h7v6h-7zm-151 6h7v7h-7zm145 0h6v7h-6zm-138 7h13v6h-13zm125 0h13v6h-13zm-112 6h13v7h-13zm99 0h13v7h-13zm-86 7h20v6h-20zm66 0h20v6h-20zm-46 6h46v7h-46z"/><path fill="#fff7da" d="M1240 18h7v4h-7zm290 0h6v4h-6zm-283 4h7v6h-7zm276 6h7v7h-7zm-269 7h6v6h-6zm6 6h7v7h-7zm257 0h6v7h-6zm-250 7h6v7h-6zm243 0h7v7h-7zm-237 7h7v6h-7zm7 6h6v7h-6zm223 0h7v7h-7zm-223 7h6v6h-6zm217 0h6v6h-6zm-211 6h7v7h-7zm204 0h7v7h-7zm-197 7h13v6h-13zm191 0h6v6h-6zm-184 6h13v7h-13zm177 0h7v7h-7zm-164 7h6v7h-6zm157 0h7v7h-7zm-151 7h7v6h-7zm145 0h6v6h-6zm-138 6h13v7h-13zm125 0h13v7h-13zm-112 7h13v6h-13zm99 0h13v6h-13zm-86 6h20v7h-20zm66 0h20v7h-20zm-46 7h46v6h-46z"/><path fill="#fff7dd" d="M1247 18h7v4h-7zm7 4h6v6h-6zm269 0h7v6h-7zm-269 6h6v7h-6zm263 0h6v7h-6zm-257 7h7v6h-7zm257 0h6v6h-6zm-250 6h6v7h-6zm243 0h7v7h-7zm-237 7h7v7h-7zm230 0h7v7h-7zm-223 7h6v6h-6zm223 0h7v6h-7zm-217 6h7v7h-7zm211 0h6v7h-6zm-211 7h14v6h-14zm204 0h7v6h-7zm-197 6h13v7h-13zm191 0h6v7h-6zm-178 7h7v6h-7zm171 0h7v6h-7zm-164 6h6v7h-6zm157 0h7v7h-7zm-151 7h7v7h-7zm145 0h6v7h-6zm-138 7h13v6h-13zm125 0h13v6h-13zm-112 6h13v7h-13zm99 0h13v7h-13zm-86 7h20v6h-20zm66 0h20v6h-20zm-46 6h46v7h-46z"/><path fill="#fff8df" d="M1254 18h6v4h-6zm269 0h7v4h-7zm-263 4h7v6h-7zm257 0h6v6h-6zm-257 6h7v7h-7zm7 7h6v6h-6zm243 0h7v6h-7zm-237 6h7v7h-7zm230 0h7v7h-7zm-223 7h6v7h-6zm6 7h7v6h-7zm211 0h6v6h-6zm-204 6h7v7h-7zm197 0h7v7h-7zm-190 7h6v6h-6zm184 0h6v6h-6zm-178 6h7v7h-7zm171 0h7v7h-7zm-164 7h6v6h-6zm157 0h7v6h-7zm-151 6h13v7h-13zm145 0h6v7h-6zm-138 7h13v7h-13zm125 0h13v7h-13zm-112 7h13v6h-13zm99 0h13v6h-13zm-86 6h20v7h-20zm66 0h20v7h-20zm-46 7h46v6h-46z"/><path fill="#fff8e2" d="M1260 18h7v4h-7zm257 0h6v4h-6zm-250 4h6v6h-6zm243 0h7v6h-7zm-243 6h6v7h-6zm243 0h7v7h-7zm-237 7h7v6h-7zm230 0h7v6h-7zm-223 6h6v7h-6zm217 0h6v7h-6zm-211 7h7v7h-7zm211 0h6v7h-6zm-204 7h7v6h-7zm197 0h7v6h-7zm-190 6h6v7h-6zm184 0h6v7h-6zm-178 7h7v6h-7zm171 0h7v6h-7zm-164 6h6v7h-6zm157 0h7v7h-7zm-151 7h13v6h-13zm138 0h13v6h-13zm-125 6h7v7h-7zm119 0h13v7h-13zm-112 7h13v7h-13zm99 0h13v7h-13zm-86 7h20v6h-20zm66 0h20v6h-20zm-46 6h46v7h-46z"/><path fill="#fff9e4" d="M1267 18h6v4h-6zm243 0h7v4h-7zm-237 4h7v6h-7zm0 6h7v7h-7zm230 0h7v7h-7zm-223 7h6v6h-6zm217 0h6v6h-6zm-211 6h7v7h-7zm204 0h7v7h-7zm-197 7h7v7h-7zm197 0h7v7h-7zm-190 7h6v6h-6zm184 0h6v6h-6zm-178 6h7v7h-7zm171 0h7v7h-7zm-164 7h6v6h-6zm157 0h7v6h-7zm-151 6h13v7h-13zm138 0h13v7h-13zm-125 7h7v6h-7zm119 0h6v6h-6zm-112 6h13v7h-13zm99 0h13v7h-13zm-86 7h26v7h-26zm66 0h20v7h-20zm-46 7h46v6h-46z"/><path fill="#fff9e7" d="M1273 18h7v4h-7zm230 0h7v4h-7zm-223 4h6v6h-6zm223 0h7v6h-7zm-223 6h6v7h-6zm217 0h6v7h-6zm-211 7h7v6h-7zm204 0h7v6h-7zm-197 6h7v7h-7zm191 0h6v7h-6zm-184 7h6v7h-6zm177 0h13v7h-13zm-171 7h7v6h-7zm164 0h14v6h-14zm-157 6h13v7h-13zm151 0h13v7h-13zm-145 7h13v6h-13zm138 0h13v6h-13zm-125 6h14v7h-14zm119 0h6v7h-6zm-112 7h20v6h-20zm99 0h13v6h-13zm-86 6h26v7h-26zm59 0h27v7h-27zm-33 7h40v7h-40z"/><path fill="#fffae9" d="M1280 18h6v4h-6zm6 4h7v6h-7zm211 0h6v6h-6zm-211 6h14v7h-14zm204 0h7v7h-7zm-197 7h13v6h-13zm191 0h6v6h-6zm-184 6h13v7h-13zm177 0h7v7h-7zm-171 7h13v7h-13zm164 0h7v7h-7zm-157 7h13v6h-13zm151 0h6v6h-6zm-138 6h6v7h-6zm131 0h7v7h-7zm-125 7h14v6h-14zm112 0h13v6h-13zm-98 6h13v7h-13zm85 0h20v7h-20zm-72 7h26v6h-26zm52 0h27v6h-27zm-33 6h33v7h-33z"/><path fill="#fffaeb" d="M1286 18h7v4h-7zm211 0h6v4h-6zm-204 4h7v6h-7zm197 0h7v6h-7zm-190 6h6v7h-6zm184 0h6v7h-6zm-178 7h7v6h-7zm171 0h7v6h-7zm-164 6h6v7h-6zm157 0h7v7h-7zm-151 7h7v7h-7zm145 0h6v7h-6zm-138 7h13v6h-13zm131 0h7v6h-7zm-125 6h14v7h-14zm112 0h13v7h-13zm-98 7h13v6h-13zm85 0h13v6h-13zm-72 6h33v7h-33zm46 0h26v7h-26zm-20 7h26v6h-26z"/><path fill="#fffbee" d="M1293 18h7v4h-7zm197 0h7v4h-7zm-190 4h6v6h-6zm184 0h6v6h-6zm-178 6h7v7h-7zm171 0h7v7h-7zm-164 7h6v6h-6zm157 0h7v6h-7zm-151 6h7v7h-7zm145 0h6v7h-6zm-138 7h13v7h-13zm125 0h13v7h-13zm-112 7h13v6h-13zm105 0h13v6h-13zm-98 6h19v7h-19zm85 0h13v7h-13zm-72 7h72v6h-72zm33 6h13v7h-13z"/><path fill="#fffcf0" d="M1300 18h6v4h-6zm177 0h13v4h-13zm-171 4h7v6h-7zm171 0h7v6h-7zm-164 6h6v7h-6zm157 0h7v7h-7zm-151 7h13v6h-13zm138 0h13v6h-13zm-131 6h13v7h-13zm125 0h13v7h-13zm-112 7h13v7h-13zm99 0h13v7h-13zm-86 7h13v6h-13zm72 0h20v6h-20zm-59 6h66v7h-66z"/><path fill="#fffcf3" d="M1306 18h13v4h-13zm164 0h7v4h-7zm-157 4h13v6h-13zm151 0h13v6h-13zm-145 6h13v7h-13zm138 0h13v7h-13zm-125 7h7v6h-7zm119 0h6v6h-6zm-112 6h13v7h-13zm99 0h13v7h-13zm-86 7h20v7h-20zm72 0h14v7h-14zm-59 7h59v6h-59z"/><path fill="#fffdf5" d="M1319 18h7v4h-7zm145 0h6v4h-6zm-138 4h6v6h-6zm131 0h7v6h-7zm-125 6h14v7h-14zm112 0h13v7h-13zm-105 7h20v6h-20zm99 0h13v6h-13zm-86 6h26v7h-26zm66 0h20v7h-20zm-46 7h52v7h-52z"/><path fill="#fffdf8" d="M1326 18h13v4h-13zm125 0h13v4h-13zm-119 4h14v6h-14zm112 0h13v6h-13zm-98 6h13v7h-13zm85 0h13v7h-13zm-72 7h26v6h-26zm52 0h27v6h-27zm-33 6h40v7h-40z"/><path fill="#fffefa" d="M1339 18h13v4h-13zm99 0h13v4h-13zm-92 4h19v6h-19zm78 0h20v6h-20zm-65 6h72v7h-72zm26 7h26v6h-26z"/><path fill="#fffefd" d="M1352 18h20v4h-20zm72 0h14v4h-14zm-59 4h59v6h-59z"/><path fill="#ffffff" d="M1372 18h52v4h-52z"/></g>
<path d="M1217.40 689.10v-5.01M1217.40 4.56v5.01M1253.92 689.10v-5.01M1253.92 4.56v5.01M1290.44 689.10v-8.64M1290.44 4.56v8.64M1326.97 689.10v-5.01M1326.97 4.56v5.01M1363.49 689.10v-5.01M1363.49 4.56v5.01M1400.01 689.10v-5.01M1400.01 4.56v5.01M1436.53 689.10v-8.64M1436.53 4.56v8.64M1473.06 689.10v-5.01M1473.06 4.56v5.01M1509.58 689.10v-5.01M1509.58 4.56v5.01M1546.10 689.10v-5.01M1546.10 4.56v5.01M1582.62 689.10v-8.64M1582.62 4.56v8.64M1619.14 689.10v-5.01M1619.14 4.56v5.01M1655.67 689.10v-5.01M1655.67 4.56v5.01M1692.19 689.10v-5.01M1692.19 4.56v5.01M1728.71 689.10v-8.64M1728.71 4.56v8.64M1765.23 689.10v-5.01M1765.23 4.56v5.01M1801.76 689.10v-5.01M1801.76 4.56v5.01M1838.28 689.10v-5.01M1838.28 4.56v5.01M1874.80 689.10v-8.64M1874.80 4.56v8.64M1203.50 675.76h5.01M1888.40 675.76h-5.01M1203.50 639.24h5.01M1888.40 639.24h-5.01M1203.50 602.72h8.64M1888.40 602.72h-8.64M1203.50 566.20h5.01M1888.40 566.20h-5.01M1203.50 529.68h5.01M1888.40 529.68h-5.01M1203.50 493.16h5.01M1888.40 493.16h-5.01M1203.50 456.64h8.64M1888.40 456.64h-8.64M1203.50 420.12h5.01M1888.40 420.12h-5.01M1203.50 383.60h5.01M1888.40 383.60h-5.01M1203.50 347.08h5.01M1888.40 347.08h-5.01M1203.50 310.56h8.64M1888.40 310.56h-8.64M1203.50 274.04h5.01M1888.40 274.04h-5.01M1203.50 237.52h5.01M1888.40 237.52h-5.01M1203.50 201.00h5.01M1888.40 201.00h-5.01M1203.50 164.48h8.64M1888.40 164.48h-8.64M1203.50 127.96h5.01M1888.40 127.96h-5.01M1203.50 91.44h5.01M1888.40 91.44h-5.01M1203.50 54.92h5.01M1888.40 54.92h-5.01M1203.50 18.40h8.64M1888.40 18.40h-8.64" stroke="#000" stroke-width="1.6" stroke-linecap="round" fill="none"/>
<rect x="1203.50" y="4.56" width="684.90" height="684.54" fill="none" stroke="#000" stroke-width="2.35"/>
<g stroke="#000" stroke-width="0.28">
<text x="1290.44" y="728.07" text-anchor="middle" font-size="38.29">20</text>
<text x="1436.53" y="728.07" text-anchor="middle" font-size="38.29">40</text>
<text x="1582.62" y="728.07" text-anchor="middle" font-size="38.29">60</text>
<text x="1728.71" y="728.07" text-anchor="middle" font-size="38.29">80</text>
<text x="1874.80" y="728.07" text-anchor="middle" font-size="38.29">100</text>
<text x="1197.81" y="613.42" text-anchor="end" font-size="38.29">0.2</text>
<text x="1197.81" y="467.34" text-anchor="end" font-size="38.29">0.4</text>
<text x="1197.81" y="321.26" text-anchor="end" font-size="38.29">0.6</text>
<text x="1197.81" y="175.18" text-anchor="end" font-size="38.29">0.8</text>
<text x="1197.81" y="29.10" text-anchor="end" font-size="38.29">1.0</text>
<g transform="translate(1545.95 784.40) scale(0.9817)"><text transform="translate(-32.52 0.00) scale(1.142 1)" font-size="41.6" font-style="italic" stroke-width="0.15">m</text><text transform="translate(0.20 5.50) scale(1.038 1)" font-size="30">tot</text></g>
<g transform="translate(1124.50 355.03) rotate(-90) scale(0.9817)"><text transform="translate(-1.51 0.00) scale(1.065 1)" font-size="42.8" font-style="italic" stroke-width="0.1">q</text></g>
<g transform="translate(1763.77 612.83) scale(0.9817)"><text transform="translate(-63.80 0.00) scale(1.197 1)" font-size="36.5" font-style="italic" stroke-width="0.1">β</text><text transform="translate(-33.54 3.30) scale(1.047 1)" font-size="39">=</text><text x="-2.22" y="0.00" font-size="39">2.35</text></g>
</g>
<g shape-rendering="crispEdges"><path fill="#000000" d="M974 1552h6v6h-6z"/><path fill="#020102" d="M980 1552h7v6h-7z"/><path fill="#040105" d="M987 1552h13v6h-13z"/><path fill="#050207" d="M1000 1552h7v6h-7z"/><path fill="#14071b" d="M947 1545h7v7h-7z"/><path fill="#15081d" d="M954 1545h6v7h-6z"/><path fill="#170920" d="M960 1545h7v7h-7z"/><path fill="#190922" d="M967 1545h7v7h-7z"/><path fill="#1b0a24" d="M974 1545h6v7h-6z"/><path fill="#1d0b27" d="M980 1545h7v7h-7z"/><path fill="#1e0b29" d="M987 1545h7v7h-7z"/><path fill="#200c2c" d="M994 1545h13v7h-13z"/><path fill="#240d31" d="M927 1538h6v7h-6z"/><path fill="#270e35" d="M933 1538h7v7h-7z"/><path fill="#290f38" d="M940 1538h7v7h-7z"/><path fill="#2d103d" d="M947 1538h7v7h-7z"/><path fill="#2e113f" d="M954 1538h6v7h-6z"/><path fill="#301242" d="M960 1538h7v7h-7z"/><path fill="#321244" d="M907 1531h6v7h-6zm60 7h7v7h-7z"/><path fill="#341346" d="M974 1538h6v7h-6z"/><path fill="#361449" d="M913 1531h7v7h-7zm67 7h7v7h-7z"/><path fill="#37144b" d="M987 1538h13v7h-13z"/><path fill="#39154e" d="M920 1531h7v7h-7zm80 7h7v7h-7z"/><path fill="#3b1650" d="M927 1531h6v7h-6zm80 7h7v7h-7z"/><path fill="#3d1653" d="M887 1525h6v6h-6z"/><path fill="#3f1755" d="M933 1531h7v7h-7z"/><path fill="#401857" d="M893 1525h7v6h-7zm47 6h7v7h-7z"/><path fill="#44195c" d="M900 1525h7v6h-7zm47 6h7v7h-7z"/><path fill="#461a5f" d="M954 1531h6v7h-6z"/><path fill="#481a61" d="M873 1518h7v7h-7zm34 7h6v6h-6zm53 6h7v7h-7z"/><path fill="#491b64" d="M967 1531h7v7h-7z"/><path fill="#4b1c66" d="M880 1518h7v7h-7zm33 7h7v6h-7zm61 6h6v7h-6z"/><path fill="#4d1c68" d="M920 1525h7v6h-7zm60 6h7v7h-7z"/><path fill="#4f1d6b" d="M987 1531h13v7h-13z"/><path fill="#501e6d" d="M860 1511h7v7h-7zm27 7h6v7h-6zm40 7h6v6h-6zm73 6h14v7h-14z"/><path fill="#541f72" d="M893 1518h7v7h-7zm40 7h7v6h-7z"/><path fill="#562075" d="M867 1511h6v7h-6zm73 14h7v6h-7z"/><path fill="#582077" d="M846 1505h7v6h-7zm54 13h7v7h-7zm47 7h7v6h-7z"/><path fill="#592179" d="M873 1511h7v7h-7z"/><path fill="#5b217c" d="M907 1518h6v7h-6zm47 7h6v6h-6z"/><path fill="#5d227e" d="M853 1505h7v6h-7zm107 20h7v6h-7z"/><path fill="#5f2381" d="M880 1511h7v7h-7zm33 7h7v7h-7zm54 7h7v6h-7z"/><path fill="#612380" d="M920 1518h7v7h-7zm54 7h6v6h-6z"/><path fill="#63247f" d="M840 1498h6v7h-6zm20 7h7v6h-7zm27 6h6v7h-6zm93 14h14v6h-14z"/><path fill="#65257e" d="M927 1518h6v7h-6zm67 7h6v6h-6z"/><path fill="#67257d" d="M826 1491h7v7h-7zm67 20h7v7h-7zm107 14h14v6h-14z"/><path fill="#69267c" d="M846 1498h7v7h-7zm21 7h6v6h-6zm66 13h7v7h-7zm81 7h7v6h-7z"/><path fill="#6b267b" d="M900 1511h7v7h-7zm40 7h7v7h-7z"/><path fill="#6d2779" d="M873 1505h7v6h-7zm74 13h7v7h-7z"/><path fill="#6f2878" d="M833 1491h7v7h-7zm20 7h7v7h-7zm54 13h6v7h-6z"/><path fill="#712877" d="M820 1485h6v6h-6zm60 20h7v6h-7zm74 13h6v7h-6z"/><path fill="#732976" d="M913 1511h7v7h-7zm47 7h7v7h-7z"/><path fill="#752975" d="M840 1491h6v7h-6zm20 7h7v7h-7zm107 20h7v7h-7z"/><path fill="#772a74" d="M826 1485h7v6h-7zm61 20h6v6h-6zm33 6h7v7h-7zm54 7h6v7h-6z"/><path fill="#792a73" d="M813 1478h7v7h-7zm114 33h6v7h-6zm53 7h14v7h-14z"/><path fill="#7b2b72" d="M846 1491h7v7h-7zm21 7h6v7h-6zm26 7h7v6h-7zm101 13h6v7h-6z"/><path fill="#7d2c70" d="M933 1511h7v7h-7zm67 7h14v7h-14z"/><path fill="#7f2c6f" d="M833 1485h7v6h-7zm40 13h7v7h-7zm27 7h7v6h-7zm40 6h7v7h-7zm74 7h7v7h-7z"/><path fill="#812d6e" d="M806 1471h7v7h-7zm14 7h6v7h-6zm33 13h7v7h-7z"/><path fill="#832d6d" d="M880 1498h7v7h-7zm27 7h6v6h-6zm40 6h7v7h-7z"/><path fill="#852e6c" d="M840 1485h6v6h-6zm114 26h6v7h-6z"/><path fill="#872f6b" d="M800 1464h6v7h-6zm13 7h7v7h-7zm13 7h7v7h-7zm34 13h7v7h-7zm53 14h7v6h-7zm47 6h7v7h-7z"/><path fill="#892f6a" d="M887 1498h6v7h-6zm33 7h7v6h-7zm47 6h7v7h-7z"/><path fill="#8b3068" d="M793 1458h7v6h-7zm53 27h7v6h-7zm21 6h6v7h-6zm107 20h6v7h-6z"/><path fill="#8d3067" d="M833 1478h7v7h-7zm60 20h7v7h-7zm34 7h6v6h-6zm53 6h7v7h-7z"/><path fill="#8f3166" d="M786 1451h7v7h-7zm20 13h7v7h-7zm14 7h6v7h-6zm167 40h13v7h-13z"/><path fill="#913265" d="M853 1485h7v6h-7zm20 6h7v7h-7zm27 7h7v7h-7zm33 7h7v6h-7zm67 6h14v7h-14z"/><path fill="#933264" d="M779 1444h7v7h-7zm21 14h6v6h-6zm140 47h7v6h-7zm74 6h13v7h-13z"/><path fill="#953363" d="M766 1431h7v7h-7zm7 7h6v6h-6zm40 26h7v7h-7zm13 7h7v7h-7zm14 7h6v7h-6zm40 13h7v7h-7zm27 7h6v7h-6zm40 7h7v6h-7z"/><path fill="#973362" d="M793 1451h7v7h-7zm67 34h7v6h-7z"/><path fill="#993461" d="M887 1491h6v7h-6zm26 7h7v7h-7zm41 7h6v6h-6z"/><path fill="#9b345f" d="M786 1444h7v7h-7zm20 14h7v6h-7zm40 20h7v7h-7zm21 7h6v6h-6zm53 13h7v7h-7zm40 7h7v6h-7z"/><path fill="#9d355e" d="M779 1438h7v6h-7zm41 26h6v7h-6zm13 7h7v7h-7zm60 20h7v7h-7zm74 14h7v6h-7z"/><path fill="#9e365d" d="M773 1431h6v7h-6zm27 20h6v7h-6zm53 27h7v7h-7zm74 20h6v7h-6zm47 7h6v6h-6z"/><path fill="#a0365c" d="M759 1418h7v6h-7zm7 6h7v7h-7zm107 61h7v6h-7zm107 20h14v6h-14z"/><path fill="#a2375b" d="M793 1444h7v7h-7zm20 14h7v6h-7zm13 6h7v7h-7zm14 7h6v7h-6zm60 20h7v7h-7zm33 7h7v7h-7zm61 7h6v6h-6z"/><path fill="#a4375a" d="M860 1478h7v7h-7zm20 7h7v6h-7zm27 6h6v7h-6zm33 7h7v7h-7zm60 7h21v6h-21z"/><path fill="#a63859" d="M786 1438h7v6h-7zm20 13h7v7h-7zm141 47h7v7h-7zm74 7h6v6h-6z"/><path fill="#a83958" d="M753 1404h6v7h-6zm6 7h7v7h-7zm14 13h6v7h-6zm6 7h7v7h-7zm41 27h6v6h-6zm13 6h7v7h-7zm13 7h7v7h-7zm41 14h6v6h-6zm26 6h7v7h-7z"/><path fill="#aa3956" d="M766 1418h7v6h-7zm34 26h6v7h-6zm67 34h6v7h-6zm87 20h6v7h-6z"/><path fill="#ac3a55" d="M920 1491h7v7h-7zm40 7h7v7h-7z"/><path fill="#ae3a54" d="M746 1391h7v7h-7zm47 47h7v6h-7zm20 13h7v7h-7zm40 20h7v7h-7zm20 7h7v7h-7zm20 7h7v6h-7zm74 13h7v7h-7z"/><path fill="#b03b53" d="M753 1398h6v6h-6zm33 33h7v7h-7zm40 27h7v6h-7zm14 6h6v7h-6zm87 27h6v7h-6zm47 7h6v7h-6z"/><path fill="#b23c52" d="M739 1377h7v7h-7zm20 27h7v7h-7zm7 7h7v7h-7zm7 7h6v6h-6zm6 6h7v7h-7zm27 20h7v7h-7zm54 27h7v7h-7zm40 14h7v6h-7zm33 6h7v7h-7zm47 7h14v7h-14z"/><path fill="#b43c51" d="M880 1478h7v7h-7zm27 7h6v6h-6zm87 13h6v7h-6z"/><path fill="#b63d50" d="M733 1364h6v7h-6zm13 20h7v7h-7zm54 54h6v6h-6zm20 13h6v7h-6zm13 7h7v6h-7zm13 6h7v7h-7zm94 27h7v7h-7zm60 7h21v7h-21z"/><path fill="#b83d4e" d="M753 1391h6v7h-6zm40 40h7v7h-7zm74 40h6v7h-6zm20 7h6v7h-6zm26 7h7v6h-7zm34 6h7v7h-7zm74 7h13v7h-13z"/><path fill="#ba3e4d" d="M739 1371h7v6h-7zm20 27h7v6h-7zm27 26h7v7h-7zm27 20h7v7h-7zm141 47h6v7h-6z"/><path fill="#bc3f4c" d="M733 1357h6v7h-6zm33 47h7v7h-7zm7 7h6v7h-6zm6 7h7v6h-7zm47 33h7v7h-7zm14 7h6v6h-6zm13 6h7v7h-7zm40 14h7v7h-7zm27 7h7v6h-7zm40 6h7v7h-7z"/><path fill="#be3f4b" d="M726 1344h7v7h-7zm20 33h7v7h-7zm60 61h7v6h-7zm67 33h7v7h-7zm94 20h7v7h-7z"/><path fill="#c0404a" d="M800 1431h6v7h-6zm20 13h6v7h-6zm40 20h7v7h-7zm40 14h7v7h-7zm27 7h6v6h-6zm47 6h6v7h-6z"/><path fill="#c24049" d="M739 1364h7v7h-7zm14 20h6v7h-6zm80 67h7v7h-7zm13 7h7v6h-7zm34 13h7v7h-7zm53 14h7v6h-7zm47 6h7v7h-7z"/><path fill="#c44148" d="M719 1324h7v7h-7zm7 13h7v7h-7zm7 14h6v6h-6zm26 40h7v7h-7zm7 7h7v6h-7zm20 20h7v6h-7zm7 6h7v7h-7zm114 54h6v7h-6zm80 13h13v7h-13z"/><path fill="#c64147" d="M746 1371h7v6h-7zm27 33h6v7h-6zm6 7h7v7h-7zm34 27h7v6h-7zm54 26h6v7h-6zm20 7h6v7h-6zm53 14h7v6h-7zm60 6h14v7h-14z"/><path fill="#c84245" d="M739 1357h7v7h-7zm14 20h6v7h-6zm53 54h7v7h-7zm20 13h7v7h-7zm14 7h6v7h-6zm13 7h7v6h-7zm60 20h7v7h-7zm34 7h7v6h-7zm67 6h20v7h-20z"/><path fill="#ca4344" d="M719 1317h7v7h-7zm7 14h7v6h-7zm7 13h6v7h-6zm140 120h7v7h-7zm20 7h7v7h-7zm61 14h6v6h-6z"/><path fill="#cb4443" d="M712 1297h7v7h-7zm34 67h7v7h-7zm13 20h7v7h-7zm41 40h6v7h-6zm20 14h6v6h-6zm100 40h7v7h-7zm40 7h7v6h-7z"/><path fill="#cb4542" d="M766 1391h7v7h-7zm7 7h6v6h-6zm6 6h7v7h-7zm7 7h7v7h-7zm7 7h7v6h-7zm40 26h7v7h-7zm13 7h7v7h-7zm14 7h7v6h-7zm40 13h7v7h-7zm27 7h6v7h-6zm40 7h7v6h-7z"/><path fill="#cc4641" d="M719 1310h7v7h-7zm7 14h7v7h-7zm7 13h6v7h-6zm6 14h7v6h-7zm14 20h6v6h-6zm60 60h7v7h-7zm67 33h7v7h-7zm94 21h6v6h-6z"/><path fill="#cd4740" d="M706 1270h6v7h-6zm6 20h7v7h-7zm94 134h7v7h-7zm61 34h6v6h-6zm40 13h6v7h-6zm26 7h7v7h-7zm47 7h7v6h-7z"/><path fill="#ce473f" d="M719 1304h7v6h-7zm27 53h7v7h-7zm13 20h7v7h-7zm67 61h7v6h-7zm14 6h6v7h-6zm13 7h7v7h-7zm34 13h6v7h-6zm53 14h7v7h-7zm47 7h13v6h-13z"/><path fill="#cf483e" d="M706 1264h6v6h-6zm6 20h7v6h-7zm14 33h7v7h-7zm7 14h6v6h-6zm6 13h7v7h-7zm27 40h7v7h-7zm7 7h6v7h-6zm20 20h7v7h-7zm7 7h6v6h-6zm113 53h7v7h-7zm34 7h7v7h-7zm53 7h14v6h-14z"/><path fill="#d0493d" d="M699 1237h7v6h-7zm54 127h6v7h-6zm26 34h7v6h-7zm7 6h7v7h-7zm34 27h6v7h-6zm53 27h7v6h-7zm20 6h7v7h-7zm121 21h27v6h-27z"/><path fill="#d14a3c" d="M706 1257h6v7h-6zm13 40h7v7h-7zm27 54h7v6h-7zm13 20h7v6h-7zm54 53h7v7h-7zm20 14h7v6h-7zm13 6h7v7h-7zm14 7h7v7h-7zm60 20h7v7h-7zm34 7h6v7h-6z"/><path fill="#d24b3b" d="M699 1230h7v7h-7zm13 47h7v7h-7zm14 33h7v7h-7zm7 14h6v7h-6zm6 13h7v7h-7zm67 81h7v6h-7zm74 40h7v6h-7zm20 6h7v7h-7zm27 7h6v7h-6zm33 7h7v7h-7z"/><path fill="#d34c3a" d="M692 1197h7v6h-7zm14 53h6v7h-6zm13 40h7v7h-7zm34 67h6v7h-6zm13 20h7v7h-7zm7 7h6v7h-6zm27 27h6v7h-6zm26 20h7v7h-7zm141 47h7v7h-7z"/><path fill="#d44d39" d="M699 1223h7v7h-7zm13 47h7v7h-7zm67 121h7v7h-7zm7 7h7v6h-7zm7 6h7v7h-7zm47 34h6v6h-6zm13 6h7v7h-7zm14 7h6v7h-6zm40 13h6v7h-6zm26 7h7v7h-7zm41 7h6v7h-6z"/><path fill="#d54e38" d="M692 1190h7v7h-7zm34 114h7v6h-7zm7 13h6v7h-6zm6 14h7v6h-7zm7 13h7v7h-7zm13 20h7v7h-7zm61 60h6v7h-6zm67 34h6v6h-6zm53 13h7v7h-7zm40 7h14v7h-14z"/><path fill="#d64f37" d="M699 1217h7v6h-7zm7 26h6v7h-6zm6 21h7v6h-7zm7 20h7v6h-7zm47 87h7v6h-7zm47 47h7v6h-7zm20 13h7v7h-7zm40 20h7v7h-7zm40 13h7v7h-7zm81 14h6v7h-6z"/><path fill="#d65036" d="M692 1183h7v7h-7zm34 114h7v7h-7zm27 54h6v6h-6zm20 26h6v7h-6zm33 34h7v7h-7zm40 27h7v6h-7zm14 6h7v7h-7zm33 14h7v6h-7zm54 13h7v7h-7zm53 7h21v7h-21z"/><path fill="#d75135" d="M686 1143h6v7h-6zm6 33h7v7h-7zm7 34h7v7h-7zm7 27h6v6h-6zm6 20h7v7h-7zm7 20h7v7h-7zm14 33h6v7h-6zm6 14h7v7h-7zm7 13h7v7h-7zm33 47h7v7h-7zm7 7h7v7h-7zm7 7h7v6h-7zm7 6h6v7h-6zm26 20h7v7h-7zm54 27h7v7h-7zm40 13h7v7h-7zm34 7h6v7h-6zm67 7h20v7h-20z"/><path fill="#d85233" d="M686 1136h6v7h-6zm73 221h7v7h-7zm81 74h6v7h-6zm27 13h6v7h-6zm33 14h7v6h-7zm27 6h6v7h-6zm33 7h7v7h-7z"/><path fill="#d95232" d="M679 1083h7v6h-7zm7 47h6v6h-6zm6 40h7v6h-7zm7 33h7v7h-7zm7 27h6v7h-6zm20 60h7v7h-7zm27 54h6v7h-6zm13 20h7v7h-7zm54 54h6v6h-6zm33 20h7v6h-7zm114 33h7v7h-7z"/><path fill="#da5331" d="M679 1076h7v7h-7zm20 121h7v6h-7zm13 53h7v7h-7zm7 20h7v7h-7zm14 34h6v6h-6zm6 13h7v7h-7zm7 14h7v6h-7zm27 40h6v6h-6zm40 40h7v7h-7zm20 13h7v7h-7zm54 27h6v7h-6zm20 7h6v6h-6zm26 6h7v7h-7zm41 7h6v7h-6z"/><path fill="#db5430" d="M686 1123h6v7h-6zm6 40h7v7h-7zm14 60h6v7h-6zm20 61h7v6h-7zm33 67h7v6h-7zm20 26h7v7h-7zm7 7h7v7h-7zm7 7h7v7h-7zm7 7h6v6h-6zm6 6h7v7h-7zm40 27h7v7h-7zm27 13h7v7h-7zm40 14h7v6h-7zm27 6h7v7h-7zm40 7h14v7h-14z"/><path fill="#dc552f" d="M679 1069h7v7h-7zm7 47h6v7h-6zm6 40h7v7h-7zm7 34h7v7h-7zm7 27h6v6h-6zm6 26h7v7h-7zm7 21h7v6h-7zm34 73h6v7h-6zm73 81h7v6h-7zm34 20h7v6h-7zm33 13h7v7h-7zm54 13h7v7h-7zm47 7h6v7h-6z"/><path fill="#dd562e" d="M672 996h7v6h-7zm7 67h7v6h-7zm7 47h6v6h-6zm47 187h6v7h-6zm6 13h7v7h-7zm7 14h7v7h-7zm20 33h7v7h-7zm54 54h6v7h-6zm60 33h7v7h-7zm40 14h7v6h-7zm80 13h14v7h-14z"/><path fill="#de572d" d="M672 989h7v7h-7zm7 67h7v7h-7zm13 94h7v6h-7zm7 33h7v7h-7zm7 27h6v7h-6zm6 27h7v6h-7zm7 20h7v7h-7zm7 20h7v7h-7zm33 67h7v7h-7zm14 20h6v7h-6zm40 40h7v7h-7zm27 20h6v7h-6zm13 7h7v7h-7zm14 7h6v6h-6zm33 13h7v7h-7zm54 13h6v7h-6zm60 7h33v7h-33z"/><path fill="#df582c" d="M672 982h7v7h-7zm7 67h7v7h-7zm7 54h6v7h-6zm6 40h7v7h-7zm7 33h7v7h-7zm34 114h6v7h-6zm20 41h6v6h-6zm26 40h7v6h-7zm7 6h7v7h-7zm20 21h7v6h-7zm27 20h7v6h-7zm94 40h6v6h-6zm33 6h7v7h-7z"/><path fill="#e0592b" d="M672 969h7v7h-7zm0 7h7v6h-7zm7 67h7v6h-7zm7 53h6v7h-6zm6 40h7v7h-7zm14 67h6v7h-6zm6 27h7v7h-7zm7 20h7v7h-7zm7 20h7v7h-7zm13 34h7v6h-7zm7 13h7v7h-7zm20 34h7v6h-7zm27 33h7v7h-7zm7 7h6v7h-6zm87 53h6v7h-6zm20 7h6v7h-6zm26 7h7v6h-7zm34 6h7v7h-7z"/><path fill="#e15a2a" d="M672 962h7v7h-7zm7 74h7v7h-7zm7 53h6v7h-6zm13 81h7v6h-7zm74 187h6v7h-6zm53 54h7v7h-7zm20 13h7v7h-7zm14 7h7v7h-7zm13 7h7v6h-7zm101 26h6v7h-6z"/><path fill="#e15b29" d="M672 955h7v7h-7zm7 74h7v7h-7zm7 54h6v6h-6zm6 47h7v6h-7zm7 33h7v7h-7zm7 34h6v6h-6zm6 26h7v7h-7zm14 41h7v6h-7zm7 20h6v6h-6zm6 13h7v7h-7zm14 27h6v7h-6zm6 13h7v7h-7zm20 27h7v7h-7zm41 40h6v7h-6zm20 14h6v6h-6zm53 26h7v7h-7zm20 7h7v7h-7zm27 7h7v6h-7zm40 6h14v7h-14z"/><path fill="#e25c28" d="M672 949h7v6h-7zm7 73h7v7h-7zm7 54h6v7h-6zm6 47h7v7h-7zm27 120h7v7h-7zm27 67h7v7h-7zm20 34h7v7h-7zm20 27h7v6h-7zm7 6h7v7h-7zm13 14h7v7h-7zm7 7h7v6h-7zm40 26h7v7h-7zm27 14h7v6h-7zm40 13h7v7h-7zm27 7h7v6h-7zm47 6h13v7h-13z"/><path fill="#e35d27" d="M672 935h7v7h-7zm0 7h7v7h-7zm7 74h7v6h-7zm13 100h7v7h-7zm7 40h7v7h-7zm7 34h6v7h-6zm6 27h7v6h-7zm21 60h6v7h-6zm67 107h6v7h-6zm33 27h7v7h-7zm34 20h6v7h-6zm33 13h7v7h-7zm54 14h6v6h-6zm53 6h14v7h-14z"/><path fill="#e45e26" d="M672 929h7v6h-7zm7 80h7v7h-7zm7 60h6v7h-6zm13 81h7v6h-7zm7 33h6v7h-6zm6 27h7v7h-7zm7 27h7v6h-7zm7 20h7v7h-7zm13 33h7v7h-7zm7 14h7v6h-7zm7 13h6v7h-6zm6 14h7v6h-7zm14 20h6v6h-6zm53 53h7v7h-7zm20 14h7v6h-7zm41 20h6v6h-6zm40 13h6v7h-6zm33 7h7v6h-7zm61 6h26v7h-26z"/><path fill="#e55e25" d="M672 922h7v7h-7zm7 80h7v7h-7zm7 61h6v6h-6zm6 47h7v6h-7zm41 160h6v7h-6zm33 67h7v7h-7zm13 20h7v7h-7zm41 41h6v6h-6zm40 26h7v7h-7zm13 7h7v7h-7zm34 13h6v7h-6zm26 7h7v7h-7zm34 7h7v6h-7z"/><path fill="#e65f24" d="M672 909h7v6h-7zm0 6h7v7h-7zm7 81h7v6h-7zm7 60h6v7h-6zm6 47h7v7h-7zm7 40h7v7h-7zm7 33h6v7h-6zm6 27h7v7h-7zm7 27h7v7h-7zm7 20h7v7h-7zm60 114h7v7h-7zm7 7h7v6h-7zm13 13h7v7h-7zm7 7h7v7h-7zm27 20h6v7h-6zm53 27h7v6h-7zm81 20h6v6h-6z"/><path fill="#e76023" d="M672 902h7v7h-7zm7 80h7v7h-7zm0 7h7v7h-7zm7 60h6v7h-6zm6 47h7v7h-7zm7 40h7v7h-7zm7 34h6v6h-6zm33 114h7v6h-7zm7 13h7v7h-7zm7 13h6v7h-6zm6 14h7v7h-7zm14 20h6v7h-6zm27 33h6v7h-6zm53 41h7v6h-7zm27 13h7v7h-7zm33 13h7v7h-7zm27 7h7v7h-7zm40 7h7v6h-7z"/><path fill="#e86122" d="M672 892h7v3h-7zm0 3h7v7h-7zm7 81h7v6h-7zm7 67h6v6h-6zm6 46h7v7h-7zm20 108h7v6h-7zm7 26h7v7h-7zm7 20h7v7h-7zm7 21h6v6h-6zm46 87h7v6h-7zm54 53h7v7h-7zm34 20h6v7h-6zm33 14h7v6h-7zm20 6h7v7h-7zm27 7h7v7h-7zm40 7h13v6h-13z"/><path fill="#e96221" d="M679 969h7v7h-7zm7 67h6v7h-6zm13 94h7v6h-7zm7 33h6v7h-6zm13 54h7v6h-7zm20 60h7v7h-7zm20 40h7v7h-7zm7 14h7v6h-7zm20 26h7v7h-7zm40 41h7v6h-7zm20 13h7v7h-7zm108 40h6v7h-6zm46 7h14v6h-14z"/><path fill="#ea631f" d="M679 962h7v7h-7zm7 67h6v7h-6zm6 54h7v6h-7zm7 40h7v7h-7zm13 67h7v7h-7zm14 47h7v6h-7zm7 20h6v7h-6zm13 33h7v7h-7zm7 14h6v6h-6zm20 33h6v7h-6zm20 27h7v7h-7zm7 7h6v6h-6zm6 6h7v7h-7zm7 7h7v7h-7zm7 7h6v7h-6zm40 27h7v6h-7zm13 6h7v7h-7zm14 7h6v7h-6zm20 7h6v6h-6zm20 6h6v7h-6zm33 7h7v7h-7zm54 7h40v6h-40z"/><path fill="#eb641e" d="M679 955h7v7h-7zm7 67h6v7h-6zm6 54h7v7h-7zm7 40h7v7h-7zm7 40h6v7h-6zm6 27h7v7h-7zm7 27h7v7h-7zm20 60h7v7h-7zm101 134h6v7h-6zm93 40h7v7h-7zm34 7h7v7h-7z"/><path fill="#ec651d" d="M679 942h7v7h-7zm0 7h7v6h-7zm7 67h6v6h-6zm6 53h7v7h-7zm14 81h6v6h-6zm20 80h7v7h-7zm7 20h6v7h-6zm13 34h7v6h-7zm7 13h6v7h-6zm6 13h7v7h-7zm7 14h7v7h-7zm13 20h7v7h-7zm54 54h7v6h-7zm20 13h7v7h-7zm40 20h7v7h-7zm20 7h7v6h-7zm61 13h6v7h-6z"/><path fill="#ec661c" d="M679 935h7v7h-7zm7 74h6v7h-6zm6 54h7v6h-7zm7 47h7v6h-7zm7 33h6v7h-6zm6 33h7v7h-7zm7 27h7v7h-7zm54 128h6v6h-6zm13 20h7v6h-7zm7 6h7v7h-7zm33 34h7v7h-7zm41 27h6v6h-6zm13 6h7v7h-7zm60 20h7v7h-7zm40 7h7v7h-7z"/><path fill="#ed671b" d="M679 929h7v6h-7zm7 73h6v7h-6zm6 54h7v7h-7zm7 47h7v7h-7zm27 120h7v7h-7zm7 20h6v7h-6zm6 21h7v6h-7zm27 53h7v7h-7zm34 47h6v7h-6zm6 7h7v6h-7zm7 6h7v7h-7zm7 7h6v7h-6zm26 20h7v7h-7zm54 27h7v7h-7zm20 7h7v6h-7zm27 6h7v7h-7zm40 7h7v7h-7z"/><path fill="#ee681a" d="M679 915h7v7h-7zm0 7h7v7h-7zm7 74h6v6h-6zm6 53h7v7h-7zm7 47h7v7h-7zm7 40h6v7h-6zm6 34h7v6h-7zm7 27h7v6h-7zm27 80h7v7h-7zm7 13h6v7h-6zm6 14h7v6h-7zm20 33h7v7h-7zm61 61h6v6h-6zm20 13h7v7h-7zm13 7h7v6h-7zm14 6h6v7h-6zm40 14h6v6h-6zm27 6h6v7h-6zm40 7h13v7h-13z"/><path fill="#ef6919" d="M679 909h7v6h-7zm7 73h6v7h-6zm0 7h6v7h-6zm6 54h7v6h-7zm7 46h7v7h-7zm7 41h6v6h-6zm6 33h7v7h-7zm14 54h7v6h-7zm7 20h6v6h-6zm6 20h7v7h-7zm34 67h6v7h-6zm13 20h7v7h-7zm47 47h7v7h-7zm74 40h6v7h-6zm53 13h7v7h-7zm47 7h47v7h-47z"/><path fill="#f06918" d="M679 895h7v7h-7zm0 7h7v7h-7zm7 74h6v6h-6zm6 60h7v7h-7zm27 154h7v7h-7zm27 80h7v7h-7zm20 40h7v7h-7zm27 41h7v6h-7zm7 6h6v7h-6zm26 27h7v7h-7zm27 20h7v7h-7zm14 7h6v7h-6zm26 13h7v7h-7zm40 14h7v6h-7zm34 6h7v7h-7z"/><path fill="#f16a17" d="M679 892h7v3h-7zm7 77h6v7h-6zm6 60h7v7h-7zm7 54h7v6h-7zm7 40h6v7h-6zm6 33h7v7h-7zm7 27h7v7h-7zm7 27h7v7h-7zm7 20h6v7h-6zm6 20h7v7h-7zm14 34h6v6h-6zm6 13h7v7h-7zm20 34h7v6h-7zm27 33h7v7h-7zm7 7h7v6h-7zm7 6h6v7h-6zm26 21h7v6h-7zm34 20h7v6h-7zm33 13h7v7h-7zm27 7h7v6h-7zm34 6h6v7h-6z"/><path fill="#f26b16" d="M686 962h6v7h-6zm6 60h7v7h-7zm7 54h7v7h-7zm7 40h6v7h-6zm6 34h7v6h-7zm34 114h7v6h-7zm27 53h6v7h-6zm13 20h7v7h-7zm54 54h6v7h-6zm20 13h7v7h-7zm40 20h7v7h-7zm20 7h7v7h-7zm60 13h7v7h-7z"/><path fill="#f36c15" d="M686 955h6v7h-6zm6 61h7v6h-7zm7 53h7v7h-7zm7 41h6v6h-6zm13 66h7v7h-7zm7 27h7v7h-7zm7 20h6v7h-6zm6 20h7v7h-7zm14 34h6v7h-6zm6 13h7v7h-7zm7 14h7v6h-7zm27 40h7v7h-7zm40 40h7v7h-7zm40 27h7v7h-7zm14 7h6v6h-6zm60 20h7v6h-7zm40 6h13v7h-13z"/><path fill="#f46d14" d="M686 942h6v7h-6zm0 7h6v6h-6zm6 60h7v7h-7zm7 54h7v6h-7zm13 80h7v7h-7zm7 27h7v6h-7zm7 27h7v6h-7zm20 60h7v7h-7zm33 67h7v7h-7zm21 27h6v6h-6zm6 6h7v7h-7zm7 7h7v7h-7zm7 7h6v6h-6zm6 6h7v7h-7zm27 21h7v6h-7zm54 26h6v7h-6zm20 7h6v7h-6zm27 7h6v6h-6zm46 6h14v7h-14z"/><path fill="#f56e13" d="M686 935h6v7h-6zm6 67h7v7h-7zm7 54h7v7h-7zm7 47h6v7h-6zm6 33h7v7h-7zm21 81h6v6h-6zm6 20h7v6h-7zm14 33h6v7h-6zm20 40h6v7h-6zm13 21h7v6h-7zm60 60h7v7h-7zm21 13h6v7h-6zm13 7h7v7h-7zm13 7h7v6h-7zm40 13h7v7h-7zm27 7h7v6h-7zm54 6h47v7h-47z"/><path fill="#f66f12" d="M686 929h6v6h-6zm6 67h7v6h-7zm7 53h7v7h-7zm7 47h6v7h-6zm6 34h7v6h-7zm7 33h7v7h-7zm7 27h7v7h-7zm33 94h7v6h-7zm7 13h7v7h-7zm27 40h7v7h-7zm47 47h6v7h-6zm73 40h7v7h-7zm54 14h7v6h-7z"/><path fill="#f77011" d="M686 915h6v7h-6zm0 7h6v7h-6zm6 67h7v7h-7zm7 54h7v6h-7zm7 46h6v7h-6zm27 121h6v7h-6zm6 20h7v7h-7zm7 20h7v7h-7zm33 67h7v7h-7zm21 27h6v7h-6zm33 33h7v7h-7zm27 21h7v6h-7zm13 6h7v7h-7zm27 14h7v6h-7zm20 6h7v7h-7zm20 7h7v7h-7zm34 7h6v6h-6z"/><path fill="#f77110" d="M686 909h6v6h-6zm6 73h7v7h-7zm7 54h7v7h-7zm7 47h6v6h-6zm6 40h7v7h-7zm7 33h7v7h-7zm7 27h7v7h-7zm27 81h6v6h-6zm6 13h7v7h-7zm7 13h7v7h-7zm7 14h6v6h-6zm13 20h7v7h-7zm20 27h7v6h-7zm7 6h7v7h-7zm7 7h6v7h-6zm6 7h7v6h-7zm27 20h7v7h-7zm34 20h6v7h-6zm60 20h7v7h-7zm33 7h14v6h-14z"/><path fill="#f8720f" d="M686 895h6v7h-6zm0 7h6v7h-6zm6 74h7v6h-7zm7 53h7v7h-7zm7 47h6v7h-6zm6 40h7v7h-7zm7 34h7v6h-7zm7 26h7v7h-7zm7 27h6v7h-6zm6 20h7v7h-7zm7 20h7v7h-7zm47 88h7v6h-7zm53 53h7v7h-7zm21 14h6v6h-6zm40 20h6v6h-6zm20 6h6v7h-6zm27 7h6v7h-6zm40 7h13v6h-13z"/><path fill="#f9730e" d="M686 892h6v3h-6zm6 70h7v7h-7zm0 7h7v7h-7zm7 53h7v7h-7zm7 47h6v7h-6zm6 41h7v6h-7zm7 33h7v7h-7zm14 54h6v6h-6zm20 60h6v7h-6zm6 13h7v7h-7zm14 27h6v7h-6zm6 13h7v7h-7zm21 27h6v7h-6zm40 40h6v7h-6zm40 27h7v7h-7zm13 7h7v7h-7zm40 13h7v7h-7zm27 7h7v7h-7zm47 7h14v6h-14z"/><path fill="#fa740d" d="M692 955h7v7h-7zm7 61h7v6h-7zm27 154h7v6h-7zm13 47h7v6h-7zm7 20h7v6h-7zm20 47h7v6h-7zm20 33h7v7h-7zm20 27h7v7h-7zm7 7h7v6h-7zm13 13h7v7h-7zm7 7h7v6h-7zm27 20h7v7h-7zm53 27h7v6h-7zm54 13h7v7h-7zm54 7h40v6h-40z"/><path fill="#fa750e" d="M692 949h7v6h-7zm7 60h7v7h-7zm7 54h6v6h-6zm6 40h7v7h-7zm7 33h7v7h-7zm7 27h7v7h-7zm7 27h6v7h-6zm20 60h6v7h-6zm26 54h7v6h-7zm14 20h7v7h-7zm27 33h6v7h-6zm33 27h7v7h-7zm20 14h7v6h-7zm14 6h6v7h-6zm13 7h7v7h-7zm20 7h7v6h-7zm20 6h7v7h-7zm34 7h6v7h-6z"/><path fill="#fa760e" d="M692 942h7v7h-7zm7 60h7v7h-7zm7 54h6v7h-6zm6 40h7v7h-7zm7 34h7v6h-7zm20 80h7v7h-7zm7 20h7v7h-7zm13 34h7v6h-7zm7 13h7v7h-7zm7 13h6v7h-6zm27 41h6v6h-6zm46 46h7v7h-7zm101 47h7v7h-7zm33 7h7v7h-7z"/><path fill="#fa770e" d="M692 929h7v6h-7zm0 6h7v7h-7zm7 61h7v6h-7zm7 53h6v7h-6zm6 40h7v7h-7zm14 67h7v7h-7zm7 27h6v7h-6zm20 60h6v7h-6zm33 67h7v7h-7zm20 27h7v7h-7zm34 34h6v6h-6zm27 20h6v7h-6zm13 7h7v6h-7zm13 6h7v7h-7zm14 7h6v7h-6zm20 7h6v6h-6zm27 6h6v7h-6zm33 7h13v7h-13z"/><path fill="#fa780f" d="M692 922h7v7h-7zm7 67h7v7h-7zm7 54h6v6h-6zm6 40h7v6h-7zm7 40h7v7h-7zm7 27h7v6h-7zm7 26h6v7h-6zm6 27h7v7h-7zm7 20h7v7h-7zm13 34h7v7h-7zm7 13h7v7h-7zm7 14h6v6h-6zm6 13h7v7h-7zm14 20h7v7h-7zm20 27h7v7h-7zm7 7h6v6h-6zm6 6h7v7h-7zm7 7h7v7h-7zm27 20h7v7h-7zm53 27h7v7h-7zm20 7h7v6h-7zm27 6h7v7h-7zm40 7h14v7h-14z"/><path fill="#fa790f" d="M692 909h7v6h-7zm0 6h7v7h-7zm7 67h7v7h-7zm7 54h6v7h-6zm13 80h7v7h-7zm20 81h7v6h-7zm14 40h6v6h-6zm47 87h6v7h-6zm53 53h7v7h-7zm20 14h7v7h-7zm14 7h6v6h-6zm13 6h7v7h-7zm67 20h7v7h-7zm47 7h53v7h-53z"/><path fill="#fa7a0f" d="M692 902h7v7h-7zm7 74h7v6h-7zm7 53h6v7h-6zm6 47h7v7h-7zm7 34h7v6h-7zm7 33h7v7h-7zm7 27h6v6h-6zm13 47h7v6h-7zm13 33h7v7h-7zm20 40h7v7h-7zm7 14h7v6h-7zm20 27h7v6h-7zm40 40h7v6h-7zm74 40h7v7h-7zm20 7h7v6h-7zm34 6h6v7h-6z"/><path fill="#fa7b10" d="M692 895h7v7h-7zm7 67h7v7h-7zm0 7h7v7h-7zm7 53h6v7h-6zm6 47h7v7h-7zm14 67h7v7h-7zm13 54h7v7h-7zm7 20h7v7h-7zm7 20h6v7h-6zm13 34h7v6h-7zm7 13h6v7h-6zm20 33h7v7h-7zm20 27h7v7h-7zm7 7h6v7h-6zm6 7h7v6h-7zm7 6h7v7h-7zm7 7h6v7h-6zm27 20h6v7h-6zm13 7h7v7h-7zm27 13h6v7h-6zm40 14h7v6h-7zm33 6h7v7h-7z"/><path fill="#fb7d10" d="M692 892h7v3h-7zm7 63h7v7h-7zm7 61h6v6h-6zm6 47h7v6h-7zm7 40h7v7h-7zm14 60h6v7h-6zm26 80h7v7h-7zm27 54h7v7h-7zm14 20h6v7h-6zm60 60h7v7h-7zm33 21h7v6h-7zm34 13h6v7h-6zm27 7h6v6h-6zm33 6h13v7h-13z"/><path fill="#fb7e11" d="M699 949h7v6h-7zm7 60h6v7h-6zm6 47h7v7h-7zm7 40h7v7h-7zm7 34h7v6h-7zm7 26h6v7h-6zm6 27h7v7h-7zm7 20h7v7h-7zm7 20h6v7h-6zm13 34h7v7h-7zm7 13h6v7h-6zm6 14h7v6h-7zm27 40h7v7h-7zm47 47h7v6h-7zm20 13h7v7h-7zm40 20h7v7h-7zm20 7h7v7h-7zm27 7h7v6h-7zm40 6h14v7h-14z"/><path fill="#fb7f11" d="M699 942h7v7h-7zm7 60h6v7h-6zm6 47h7v7h-7zm7 40h7v7h-7zm7 34h7v7h-7zm13 53h7v7h-7zm20 61h7v6h-7zm34 67h7v6h-7zm20 27h7v6h-7zm7 6h6v7h-6zm20 20h6v7h-6zm6 7h7v7h-7zm41 27h6v7h-6zm13 7h7v6h-7zm67 20h7v6h-7zm47 6h53v7h-53z"/><path fill="#fb8011" d="M699 929h7v6h-7zm0 6h7v7h-7zm7 54h6v7h-6zm0 7h6v6h-6zm6 47h7v6h-7zm7 40h7v6h-7zm7 33h7v7h-7zm7 34h6v6h-6zm13 47h7v6h-7zm7 20h6v6h-6zm13 33h7v7h-7zm7 14h6v6h-6zm6 13h7v7h-7zm7 13h7v7h-7zm14 20h6v7h-6zm26 34h7v7h-7zm7 7h7v6h-7zm34 26h6v7h-6zm13 7h7v7h-7zm27 14h6v6h-6zm13 6h7v7h-7zm20 7h7v7h-7zm34 7h6v6h-6z"/><path fill="#fb8112" d="M699 922h7v7h-7zm7 60h6v7h-6zm6 54h7v7h-7zm7 40h7v7h-7zm14 67h6v7h-6zm6 27h7v6h-7zm20 60h7v7h-7zm34 67h7v7h-7zm13 20h7v7h-7zm54 54h7v6h-7zm33 20h7v7h-7zm34 13h6v7h-6zm20 7h7v7h-7zm33 7h7v6h-7z"/><path fill="#fb8212" d="M699 909h7v6h-7zm0 6h7v7h-7zm7 61h6v6h-6zm6 53h7v7h-7zm7 40h7v7h-7zm7 41h7v6h-7zm20 80h7v7h-7zm7 20h6v7h-6zm13 33h7v7h-7zm20 41h7v6h-7zm27 40h7v7h-7zm33 33h7v7h-7zm7 7h7v7h-7zm20 13h7v7h-7zm40 21h7v6h-7zm41 13h6v7h-6zm33 7h13v6h-13z"/><path fill="#fb8313" d="M699 902h7v7h-7zm7 67h6v7h-6zm6 53h7v7h-7zm14 81h7v7h-7zm7 33h6v7h-6zm6 27h7v7h-7zm7 20h7v7h-7zm13 40h7v7h-7zm14 34h6v7h-6zm6 13h7v7h-7zm21 34h6v6h-6zm20 27h6v6h-6zm6 6h7v7h-7zm7 7h7v7h-7zm7 7h6v6h-6zm27 20h6v6h-6zm20 13h6v7h-6zm13 7h7v7h-7zm33 13h7v7h-7zm27 7h7v7h-7zm40 7h14v6h-14zm67 0h7v6h-7z"/><path fill="#fb8413" d="M699 892h7v3h-7zm0 3h7v7h-7zm7 67h6v7h-6zm6 54h7v6h-7zm7 47h7v6h-7zm7 33h7v7h-7zm7 34h6v6h-6zm6 26h7v7h-7zm14 47h6v7h-6zm13 34h7v6h-7zm27 53h7v7h-7zm13 20h7v7h-7zm54 54h7v7h-7zm20 13h7v7h-7zm40 21h7v6h-7zm20 6h7v7h-7zm27 7h7v7h-7zm47 7h53v6h-53z"/><path fill="#fb8513" d="M706 949h6v6h-6zm0 6h6v7h-6zm6 54h7v7h-7zm7 47h7v7h-7zm7 33h7v7h-7zm7 34h6v7h-6zm13 53h7v7h-7zm7 21h6v6h-6zm6 20h7v6h-7zm14 33h6v7h-6zm6 14h7v6h-7zm7 13h7v7h-7zm14 20h6v7h-6zm13 20h7v7h-7zm40 40h7v7h-7zm40 27h7v7h-7zm14 7h6v7h-6zm40 13h7v7h-7zm27 7h6v7h-6z"/><path fill="#fb8714" d="M706 942h6v7h-6zm6 60h7v7h-7zm7 47h7v7h-7zm20 101h7v6h-7zm27 80h7v7h-7zm54 94h6v7h-6zm6 7h7v6h-7zm7 6h7v7h-7zm7 7h6v7h-6zm6 7h7v6h-7zm27 20h7v6h-7zm40 20h7v7h-7zm14 7h6v6h-6zm27 6h6v7h-6zm26 7h14v7h-14z"/><path fill="#fc8814" d="M706 935h6v7h-6zm6 61h7v6h-7zm7 47h7v6h-7zm7 40h7v6h-7zm7 33h6v7h-6zm6 27h7v7h-7zm7 27h7v6h-7zm7 20h6v7h-6zm6 20h7v7h-7zm14 33h6v7h-6zm6 14h7v7h-7zm7 13h7v7h-7zm7 14h7v6h-7zm13 20h7v6h-7zm61 60h6v7h-6zm20 13h6v7h-6zm13 7h7v7h-7zm33 14h7v6h-7zm61 13h6v7h-6z"/><path fill="#fc8914" d="M706 929h6v6h-6zm6 60h7v7h-7zm7 47h7v7h-7zm7 40h7v7h-7zm7 34h6v6h-6zm6 26h7v7h-7zm7 27h7v7h-7zm20 60h7v7h-7zm34 67h6v7h-6zm13 20h7v7h-7zm7 7h6v7h-6zm40 40h7v7h-7zm20 14h7v6h-7zm40 20h7v7h-7zm20 7h7v6h-7zm20 6h7v7h-7zm40 7h21v7h-21zm61 0h13v7h-13z"/><path fill="#fc8a15" d="M706 915h6v7h-6zm0 7h6v7h-6zm6 54h7v6h-7zm0 6h7v7h-7zm7 47h7v7h-7zm7 40h7v7h-7zm7 34h6v7h-6zm20 80h6v7h-6zm6 20h7v7h-7zm14 34h6v6h-6zm6 13h7v7h-7zm7 14h7v6h-7zm7 13h7v7h-7zm13 20h7v7h-7zm20 27h7v7h-7zm7 7h7v6h-7zm7 6h6v7h-6zm6 7h7v7h-7zm7 7h7v6h-7zm20 13h7v7h-7zm20 13h7v7h-7zm14 7h6v7h-6zm60 20h13v7h-13zm54 7h40v7h-40z"/><path fill="#fc8b15" d="M706 909h6v6h-6zm6 60h7v7h-7zm7 53h7v7h-7zm7 41h7v6h-7zm7 33h6v7h-6zm6 34h7v6h-7zm7 26h7v7h-7zm7 20h6v7h-6zm13 41h7v6h-7zm47 87h7v6h-7zm54 53h6v7h-6zm20 14h6v6h-6zm40 20h6v7h-6zm20 7h7v6h-7zm33 6h7v7h-7z"/><path fill="#fc8c16" d="M706 895h6v7h-6zm0 7h6v7h-6zm6 60h7v7h-7zm7 54h7v6h-7zm7 40h7v7h-7zm13 67h7v7h-7zm7 27h7v6h-7zm13 47h7v6h-7zm14 33h6v7h-6zm20 40h7v7h-7zm7 14h6v6h-6zm20 26h6v7h-6zm40 41h7v6h-7zm40 26h7v7h-7zm13 7h7v7h-7zm20 7h7v7h-7zm21 7h6v6h-6zm33 6h7v7h-7z"/><path fill="#fc8d16" d="M706 892h6v3h-6zm6 63h7v7h-7zm7 54h7v7h-7zm7 40h7v7h-7zm7 40h6v7h-6zm6 27h7v7h-7zm14 54h6v6h-6zm6 20h7v7h-7zm7 20h7v7h-7zm13 33h7v7h-7zm7 14h7v7h-7zm20 33h7v7h-7zm20 27h7v7h-7zm7 7h7v7h-7zm7 7h6v6h-6zm6 6h7v7h-7zm7 7h7v7h-7zm27 20h7v7h-7zm40 20h7v7h-7zm40 14h7v6h-7zm34 6h20v7h-20zm73 0h14v7h-14z"/><path fill="#fc8e16" d="M712 942h7v7h-7zm0 7h7v6h-7zm7 53h7v7h-7zm7 41h7v6h-7zm7 40h6v6h-6zm13 60h7v7h-7zm27 80h6v7h-6zm27 54h6v7h-6zm13 20h7v7h-7zm60 60h7v7h-7zm20 14h7v6h-7zm14 6h6v7h-6zm33 14h7v7h-7zm27 7h7v6h-7zm47 6h53v7h-53z"/><path fill="#fc8f17" d="M712 935h7v7h-7zm7 54h7v7h-7zm0 7h7v6h-7zm7 40h7v7h-7zm7 40h6v7h-6zm6 34h7v6h-7zm7 26h7v7h-7zm7 27h6v7h-6zm6 20h7v7h-7zm7 20h7v7h-7zm13 34h7v6h-7zm7 13h7v7h-7zm7 14h7v6h-7zm13 20h7v6h-7zm14 20h6v6h-6zm47 47h6v6h-6zm20 13h6v7h-6zm26 13h7v7h-7zm14 7h6v7h-6zm20 7h7v7h-7zm27 7h6v6h-6z"/><path fill="#fc9117" d="M712 929h7v6h-7zm7 53h7v7h-7zm7 47h7v7h-7zm7 40h6v7h-6zm6 34h7v7h-7zm7 27h7v6h-7zm7 26h6v7h-6zm20 61h6v6h-6zm27 53h6v7h-6zm26 40h7v7h-7zm7 7h7v7h-7zm7 7h6v7h-6zm6 7h7v6h-7zm7 6h7v7h-7zm7 7h7v7h-7zm20 13h7v7h-7zm20 14h7v6h-7zm33 13h7v7h-7zm21 7h6v7h-6zm26 7h14v6h-14z"/><path fill="#fc9217" d="M712 915h7v7h-7zm0 7h7v7h-7zm7 54h7v6h-7zm7 46h7v7h-7zm7 41h6v6h-6zm6 33h7v7h-7zm20 80h7v7h-7zm7 21h7v6h-7zm13 33h7v7h-7zm7 13h7v7h-7zm7 14h7v7h-7zm20 33h7v7h-7zm60 61h7v6h-7zm20 13h7v7h-7zm14 7h6v6h-6zm13 6h7v7h-7zm40 14h7v7h-7zm34 7h13v6h-13zm80 0h7v6h-7z"/><path fill="#fd9318" d="M712 909h7v6h-7zm7 60h7v7h-7zm7 47h7v6h-7zm7 40h6v7h-6zm13 67h7v7h-7zm7 27h6v6h-6zm6 20h7v6h-7zm7 20h7v7h-7zm7 20h6v7h-6zm33 67h7v7h-7zm14 20h6v7h-6zm6 7h7v6h-7zm41 40h6v7h-6zm73 40h7v7h-7zm27 7h7v7h-7zm40 7h20v6h-20zm47 0h20v6h-20z"/><path fill="#fd9418" d="M712 902h7v7h-7zm7 60h7v7h-7zm7 47h7v7h-7zm7 40h6v7h-6zm6 40h7v7h-7zm7 27h7v7h-7zm7 27h6v7h-6zm26 80h7v7h-7zm7 14h7v6h-7zm7 13h7v7h-7zm7 14h6v6h-6zm13 20h7v6h-7zm20 26h7v7h-7zm7 7h6v7h-6zm6 7h7v7h-7zm7 7h7v6h-7zm7 6h7v7h-7zm27 20h6v7h-6zm13 7h7v7h-7zm13 7h7v6h-7zm14 6h6v7h-6zm20 7h7v7h-7zm27 7h6v7h-6zm53 7h27v6h-27z"/><path fill="#fd9519" d="M712 892h7v3h-7zm0 3h7v7h-7zm7 54h7v6h-7zm0 6h7v7h-7zm7 47h7v7h-7zm7 41h6v6h-6zm6 40h7v6h-7zm7 27h7v6h-7zm7 26h6v7h-6zm6 27h7v7h-7zm7 20h7v7h-7zm7 20h6v7h-6zm6 14h7v6h-7zm27 53h7v7h-7zm14 20h6v7h-6zm60 61h7v6h-7zm53 26h7v7h-7zm21 7h6v7h-6zm26 7h14v7h-14z"/><path fill="#fd9619" d="M719 942h7v7h-7zm7 54h7v6h-7zm7 40h6v7h-6zm6 40h7v7h-7zm20 80h7v7h-7zm14 41h6v6h-6zm13 33h7v7h-7zm7 13h7v7h-7zm7 14h6v7h-6zm13 20h7v7h-7zm13 20h7v7h-7zm41 40h6v7h-6zm6 7h7v7h-7zm20 13h7v7h-7zm14 7h6v7h-6zm13 7h7v6h-7zm40 13h7v7h-7zm34 7h6v7h-6zm80 0h14v7h-14z"/><path fill="#fd9719" d="M719 935h7v7h-7zm7 54h7v7h-7zm7 40h6v7h-6zm6 40h7v7h-7zm7 34h7v7h-7zm7 27h6v6h-6zm13 46h7v7h-7zm13 34h7v7h-7zm27 54h7v6h-7zm27 40h7v6h-7zm7 6h6v7h-6zm6 7h7v7h-7zm7 7h7v7h-7zm7 7h7v6h-7zm27 20h6v6h-6zm40 20h6v6h-6zm13 6h7v7h-7zm27 7h7v7h-7zm33 7h21v7h-21zm54 0h20v7h-20z"/><path fill="#fd981a" d="M719 922h7v7h-7zm0 7h7v6h-7zm7 53h7v7h-7zm7 40h6v7h-6zm6 41h7v6h-7zm7 33h7v7h-7zm7 27h6v7h-6zm6 27h7v6h-7zm7 20h7v6h-7zm7 20h6v7h-6zm13 33h7v7h-7zm7 14h7v6h-7zm7 13h6v7h-6zm20 34h6v6h-6zm60 60h7v7h-7zm20 13h7v7h-7zm13 7h7v7h-7zm34 13h7v7h-7zm27 7h6v7h-6zm47 7h33v7h-33z"/><path fill="#fd991a" d="M719 915h7v7h-7zm7 54h7v7h-7zm0 7h7v6h-7zm7 40h6v6h-6zm6 40h7v7h-7zm7 33h7v7h-7zm13 54h7v7h-7zm20 60h7v7h-7zm34 67h7v7h-7zm13 20h7v7h-7zm7 7h7v7h-7zm34 34h6v6h-6zm6 6h7v7h-7zm20 14h7v6h-7zm40 20h7v6h-7zm21 6h6v7h-6zm26 7h14v7h-14z"/><path fill="#fd9a1a" d="M719 909h7v6h-7zm7 53h7v7h-7zm7 47h6v7h-6zm6 40h7v7h-7zm7 34h7v6h-7zm7 33h6v7h-6zm13 47h7v7h-7zm7 20h6v7h-6zm13 34h7v6h-7zm7 13h7v7h-7zm7 13h6v7h-6zm6 14h7v7h-7zm14 20h6v7h-6zm20 27h6v6h-6zm6 6h7v7h-7zm7 7h7v7h-7zm7 7h7v7h-7zm27 20h6v7h-6zm20 13h6v7h-6zm13 7h7v7h-7zm20 7h7v6h-7zm20 6h7v7h-7zm34 7h6v7h-6zm80 0h14v7h-14z"/><path fill="#fd9c1b" d="M719 895h7v7h-7zm0 7h7v7h-7zm7 53h7v7h-7zm7 47h6v7h-6zm6 41h7v6h-7zm7 33h7v7h-7zm7 34h6v6h-6zm6 26h7v7h-7zm7 20h7v7h-7zm7 20h6v7h-6zm6 21h7v6h-7zm34 67h7v6h-7zm13 20h7v6h-7zm54 53h7v7h-7zm20 14h7v6h-7zm13 6h7v7h-7zm14 7h6v7h-6zm40 13h7v7h-7zm33 7h21v7h-21zm54 0h20v7h-20z"/><path fill="#fd9d1b" d="M719 892h7v3h-7zm7 57h7v6h-7zm7 47h6v6h-6zm6 40h7v7h-7zm14 67h6v7h-6zm6 27h7v6h-7zm27 80h7v7h-7zm7 13h7v7h-7zm7 14h6v6h-6zm6 13h7v7h-7zm14 20h6v7h-6zm13 20h7v7h-7zm7 7h6v7h-6zm27 27h6v7h-6zm6 7h7v6h-7zm20 13h7v7h-7zm54 27h7v6h-7zm27 6h6v7h-6zm47 7h33v7h-33z"/><path fill="#fe9e1c" d="M726 935h7v7h-7zm0 7h7v7h-7zm7 47h6v7h-6zm6 40h7v7h-7zm7 40h7v7h-7zm7 27h6v7h-6zm6 27h7v7h-7zm7 27h7v6h-7zm7 20h6v6h-6zm6 20h7v7h-7zm7 13h7v7h-7zm27 54h7v7h-7zm13 20h7v7h-7zm20 27h7v6h-7zm7 6h7v7h-7zm7 7h7v7h-7zm27 20h6v7h-6zm20 14h6v6h-6zm13 6h7v7h-7zm13 7h7v7h-7zm21 7h6v6h-6zm26 6h14v7h-14zm108 0h6v7h-6z"/><path fill="#fe9f1c" d="M726 929h7v6h-7zm7 53h6v7h-6zm6 40h7v7h-7zm7 41h7v6h-7zm20 80h7v7h-7zm7 20h6v7h-6zm6 20h7v7h-7zm14 34h7v6h-7zm7 13h6v7h-6zm6 13h7v7h-7zm27 41h7v6h-7zm47 47h7v6h-7zm20 13h7v7h-7zm40 20h7v7h-7zm20 7h7v6h-7zm34 6h13v7h-13zm80 0h14v7h-14z"/><path fill="#fea01c" d="M726 922h7v7h-7zm7 54h6v6h-6zm6 40h7v6h-7zm7 40h7v7h-7zm7 33h6v7h-6zm6 27h7v7h-7zm27 81h7v6h-7zm34 67h6v6h-6zm20 26h6v7h-6zm6 7h7v7h-7zm7 7h7v6h-7zm7 6h7v7h-7zm7 7h6v7h-6zm6 7h7v7h-7zm20 13h7v7h-7zm20 14h7v6h-7zm14 6h6v7h-6zm20 7h7v7h-7zm20 7h7v6h-7zm40 6h20v7h-20zm47 0h20v7h-20z"/><path fill="#fea11d" d="M726 909h7v6h-7zm0 6h7v7h-7zm7 47h6v7h-6zm0 7h6v7h-6zm6 40h7v7h-7zm7 40h7v7h-7zm7 34h6v6h-6zm6 27h7v6h-7zm7 26h7v7h-7zm7 20h6v7h-6zm6 20h7v7h-7zm14 34h7v7h-7zm7 13h6v7h-6zm6 14h7v6h-7zm7 13h7v7h-7zm13 20h7v7h-7zm61 61h6v6h-6zm20 13h6v7h-6zm13 7h7v6h-7zm13 6h7v7h-7zm21 7h6v7h-6zm20 7h13v6h-13zm53 6h27v7h-27z"/><path fill="#fea21d" d="M726 902h7v7h-7zm7 53h6v7h-6zm6 47h7v7h-7zm7 41h7v6h-7zm7 33h6v7h-6zm6 27h7v7h-7zm7 27h7v6h-7zm7 20h6v6h-6zm6 20h7v6h-7zm7 20h7v7h-7zm34 67h6v7h-6zm13 20h7v7h-7zm7 7h6v6h-6zm40 40h7v7h-7zm20 13h7v7h-7zm40 20h7v7h-7zm20 7h7v7h-7zm27 7h7v6h-7zm94 0h13v6h-13z"/><path fill="#fea31d" d="M726 892h7v3h-7zm0 3h7v7h-7zm7 54h6v6h-6zm6 47h7v6h-7zm7 40h7v7h-7zm7 33h6v7h-6zm6 27h7v7h-7zm7 27h7v7h-7zm27 80h7v7h-7zm7 14h6v6h-6zm6 13h7v7h-7zm7 13h7v7h-7zm13 21h7v6h-7zm20 26h7v7h-7zm7 7h7v7h-7zm7 7h7v6h-7zm7 6h6v7h-6zm6 7h7v7h-7zm40 27h7v7h-7zm14 7h6v6h-6zm40 13h7v7h-7zm27 7h13v6h-13zm73 0h14v6h-14z"/><path fill="#fea41e" d="M733 942h6v7h-6zm6 47h7v7h-7zm7 40h7v7h-7zm7 34h6v6h-6zm20 80h6v7h-6zm6 20h7v7h-7zm7 20h7v7h-7zm7 14h7v6h-7zm27 53h6v7h-6zm13 20h7v7h-7zm54 54h6v7h-6zm6 7h7v6h-7zm14 6h6v7h-6zm26 14h7v6h-7zm14 6h7v7h-7zm27 7h6v7h-6zm33 7h60v6h-60z"/><path fill="#fea61e" d="M733 929h6v6h-6zm0 6h6v7h-6zm6 47h7v7h-7zm7 40h7v7h-7zm7 34h6v7h-6zm6 33h7v7h-7zm7 27h7v7h-7zm7 20h6v7h-6zm6 20h7v7h-7zm7 20h7v7h-7zm14 34h6v7h-6zm6 13h7v7h-7zm7 14h7v6h-7zm13 20h7v7h-7zm14 20h6v7h-6zm6 7h7v6h-7zm34 33h7v7h-7zm40 27h7v7h-7zm34 13h6v7h-6zm26 7h7v7h-7zm108 0h13v7h-13z"/><path fill="#fea71f" d="M733 922h6v7h-6zm6 54h7v6h-7zm7 40h7v6h-7zm7 33h6v7h-6zm6 34h7v6h-7zm7 27h7v6h-7zm27 80h7v7h-7zm27 53h6v7h-6zm13 21h7v6h-7zm20 26h7v7h-7zm7 7h7v7h-7zm7 7h6v6h-6zm6 6h7v7h-7zm27 21h7v6h-7zm13 6h7v7h-7zm14 7h6v7h-6zm13 7h7v6h-7zm20 6h7v7h-7zm27 7h13v7h-13zm87 0h14v7h-14z"/><path fill="#fea81f" d="M733 915h6v7h-6zm6 47h7v7h-7zm0 7h7v7h-7zm7 40h7v7h-7zm7 34h6v6h-6zm6 33h7v7h-7zm7 27h7v7h-7zm7 27h6v6h-6zm6 20h7v6h-7zm7 20h7v6h-7zm14 33h6v7h-6zm6 14h7v6h-7zm7 13h7v7h-7zm13 20h7v7h-7zm14 20h6v7h-6zm47 47h6v7h-6zm6 7h7v7h-7zm14 7h6v6h-6zm40 20h7v6h-7zm20 6h7v7h-7zm33 7h14v7h-14zm61 0h13v7h-13z"/><path fill="#ffa91f" d="M733 902h6v7h-6zm0 7h6v6h-6zm6 46h7v7h-7zm7 47h7v7h-7zm7 34h6v7h-6zm6 33h7v7h-7zm7 27h7v7h-7zm7 27h6v7h-6zm6 20h7v7h-7zm7 20h7v7h-7zm7 20h7v7h-7zm7 14h6v6h-6zm20 40h6v6h-6zm26 40h7v7h-7zm7 7h7v6h-7zm7 6h7v7h-7zm7 7h6v7h-6zm6 7h7v6h-7zm7 6h7v7h-7zm40 27h7v7h-7zm13 7h7v7h-7zm21 7h6v6h-6zm20 6h6v7h-6zm120 0h7v7h-7zm-80 7h47v7h-47z"/><path fill="#ffaa20" d="M733 895h6v7h-6zm6 54h7v6h-7zm7 47h7v6h-7zm7 33h6v7h-6zm6 34h7v6h-7zm14 53h6v7h-6zm20 60h7v7h-7zm13 34h7v7h-7zm7 13h7v7h-7zm20 34h7v7h-7zm7 7h6v6h-6zm53 53h7v7h-7zm7 7h7v7h-7zm13 7h7v6h-7zm14 6h6v7h-6zm13 7h7v7h-7zm20 7h7v6h-7zm20 6h14v7h-14zm101 0h13v7h-13z"/><path fill="#ffab20" d="M733 892h6v3h-6zm6 50h7v7h-7zm7 40h7v7h-7zm0 7h7v7h-7zm7 33h6v7h-6zm6 34h7v7h-7zm7 33h7v7h-7zm13 47h7v7h-7zm7 20h7v7h-7zm14 34h6v7h-6zm6 13h7v7h-7zm7 14h7v6h-7zm7 13h6v7h-6zm6 13h7v7h-7zm20 27h7v7h-7zm41 40h6v7h-6zm20 14h6v7h-6zm40 20h7v7h-7zm20 7h7v6h-7zm27 6h13v7h-13zm73 0h14v7h-14z"/><path fill="#ffac20" d="M739 929h7v6h-7zm0 6h7v7h-7zm7 41h7v6h-7zm7 40h6v6h-6zm6 33h7v7h-7zm7 34h7v6h-7zm7 27h6v6h-6zm6 20h7v6h-7zm7 20h7v6h-7zm7 20h7v6h-7zm40 80h7v7h-7zm20 27h7v7h-7zm7 7h7v6h-7zm7 6h6v7h-6zm6 7h7v7h-7zm7 7h7v6h-7zm20 13h7v7h-7zm20 14h7v6h-7zm13 6h7v7h-7zm21 7h6v7h-6zm20 7h6v6h-6zm120 0h14v6h-14zm-87 6h60v7h-60z"/><path fill="#ffad21" d="M739 922h7v7h-7zm7 47h7v7h-7zm7 40h6v7h-6zm13 67h7v7h-7zm7 27h6v7h-6zm27 80h6v7h-6zm6 14h7v6h-7zm7 13h7v7h-7zm7 13h6v7h-6zm6 14h7v6h-7zm14 20h6v7h-6zm6 7h7v6h-7zm47 46h7v7h-7zm20 14h7v7h-7zm14 7h6v6h-6zm13 6h7v7h-7zm40 14h7v6h-7zm108 0h6v6h-6z"/><path fill="#ffae22" d="M739 909h7v6h-7zm0 6h7v7h-7zm7 47h7v7h-7zm7 40h6v7h-6zm6 41h7v6h-7zm7 26h7v7h-7zm7 27h6v7h-6zm6 27h7v7h-7zm7 20h7v7h-7zm7 20h7v7h-7zm7 13h6v7h-6zm33 67h7v7h-7zm20 27h7v7h-7zm7 7h7v7h-7zm7 7h6v6h-6zm6 6h7v7h-7zm7 7h7v7h-7zm7 7h6v6h-6zm20 13h6v7h-6zm40 20h7v7h-7zm13 7h7v7h-7zm27 7h13v6h-13zm87 0h14v6h-14z"/><path fill="#ffaf23" d="M739 902h7v7h-7zm7 53h7v7h-7zm7 41h6v6h-6zm6 40h7v7h-7zm7 27h7v6h-7zm7 26h6v7h-6zm6 27h7v7h-7zm7 20h7v7h-7zm7 20h7v7h-7zm13 34h7v7h-7zm7 13h7v7h-7zm7 14h6v6h-6zm6 13h7v7h-7zm14 20h6v7h-6zm60 60h7v7h-7zm20 14h7v7h-7zm13 7h7v6h-7zm34 13h13v7h-13zm134 0h7v7h-7zm-101 7h21v6h-21zm54 0h20v6h-20z"/><path fill="#ffb025" d="M739 895h7v7h-7zm7 47h7v7h-7zm0 7h7v6h-7zm7 40h6v7h-6zm6 40h7v7h-7zm7 27h7v7h-7zm13 54h7v6h-7zm21 60h6v6h-6zm33 67h7v6h-7zm13 20h7v7h-7zm7 7h7v6h-7zm34 33h6v7h-6zm6 7h7v6h-7zm20 13h7v7h-7zm14 7h6v7h-6zm13 7h7v6h-7zm14 6h6v7h-6zm26 7h7v7h-7zm108 0h13v7h-13zm-67 7h33v6h-33z"/><path fill="#ffb127" d="M739 892h7v3h-7zm7 43h7v7h-7zm7 47h6v7h-6zm6 34h7v6h-7zm0 6h7v7h-7zm7 27h7v7h-7zm7 34h6v6h-6zm6 20h7v7h-7zm7 27h7v6h-7zm7 20h7v6h-7zm13 33h7v7h-7zm7 14h7v6h-7zm7 13h6v7h-6zm6 13h7v7h-7zm14 20h6v7h-6zm20 27h7v7h-7zm7 7h6v7h-6zm6 7h7v6h-7zm7 6h7v7h-7zm27 20h6v7h-6zm53 27h7v7h-7zm148 0h6v7h-6zm-121 7h13v7h-13zm87 0h14v7h-14z"/><path fill="#ffb229" d="M746 929h7v6h-7zm7 47h6v6h-6zm6 33h7v7h-7zm7 34h7v6h-7zm7 33h6v7h-6zm13 47h7v7h-7zm7 20h7v7h-7zm7 20h6v7h-6zm6 13h7v7h-7zm20 41h7v6h-7zm7 13h7v7h-7zm13 20h7v7h-7zm7 7h7v7h-7zm47 47h7v6h-7zm20 13h7v7h-7zm13 7h7v7h-7zm14 7h7v6h-7zm20 6h7v7h-7zm134 0h7v7h-7zm-101 7h14v7h-14zm61 0h13v7h-13z"/><path fill="#ffb32a" d="M746 915h7v7h-7zm0 7h7v7h-7zm7 40h6v7h-6zm0 7h6v7h-6zm6 33h7v7h-7zm7 34h7v7h-7zm7 33h6v7h-6zm6 27h7v7h-7zm7 20h7v7h-7zm7 20h7v7h-7zm7 20h6v7h-6zm13 34h7v7h-7zm7 13h6v7h-6zm20 34h6v6h-6zm20 27h7v6h-7zm7 6h6v7h-6zm6 7h7v7h-7zm7 7h7v6h-7zm7 6h6v7h-6zm6 7h7v7h-7zm20 13h7v7h-7zm14 7h6v7h-6zm13 7h7v7h-7zm14 7h6v6h-6zm20 6h13v7h-13zm114 0h13v7h-13zm-74 7h47v7h-47z"/><path fill="#ffb42c" d="M746 909h7v6h-7zm7 46h6v7h-6zm6 41h7v6h-7zm7 33h7v7h-7zm7 34h6v6h-6zm6 26h7v7h-7zm27 81h7v6h-7zm7 13h7v7h-7zm7 14h6v6h-6zm6 13h7v7h-7zm7 13h7v7h-7zm13 20h7v7h-7zm61 61h6v6h-6zm40 20h7v7h-7zm13 7h7v6h-7zm148 0h6v6h-6zm-121 6h7v7h-7zm94 0h7v7h-7z"/><path fill="#ffb52e" d="M746 895h7v7h-7zm0 7h7v7h-7zm7 47h6v6h-6zm6 40h7v7h-7zm7 33h7v7h-7zm7 34h6v7h-6zm6 27h7v6h-7zm7 27h7v6h-7zm7 20h7v6h-7zm7 20h6v6h-6zm6 13h7v7h-7zm34 67h6v7h-6zm13 20h7v7h-7zm7 7h7v7h-7zm7 7h6v6h-6zm20 20h6v6h-6zm6 6h7v7h-7zm7 7h7v7h-7zm20 13h7v7h-7zm13 7h7v7h-7zm34 14h7v6h-7zm134 0h7v6h-7zm-107 6h20v7h-20zm67 0h20v7h-20z"/><path fill="#ffb630" d="M746 892h7v3h-7zm7 50h6v7h-6zm6 40h7v7h-7zm7 34h7v6h-7zm7 33h6v7h-6zm6 27h7v7h-7zm7 27h7v7h-7zm7 20h7v7h-7zm7 20h6v7h-6zm13 33h7v7h-7zm7 14h6v7h-6zm6 13h7v7h-7zm7 14h7v6h-7zm13 20h7v6h-7zm27 33h7v7h-7zm7 7h7v7h-7zm27 20h6v7h-6zm6 7h7v6h-7zm14 6h6v7h-6zm13 7h7v7h-7zm14 7h6v7h-6zm160 0h7v7h-7zm-140 7h13v6h-13zm114 0h13v6h-13zm-74 6h47v7h-47z"/><path fill="#ffb731" d="M753 929h6v6h-6zm0 6h6v7h-6zm6 41h7v6h-7zm7 33h7v7h-7zm7 34h6v6h-6zm6 26h7v7h-7zm7 27h7v7h-7zm7 20h7v7h-7zm7 20h6v7h-6zm6 20h7v7h-7zm7 14h7v6h-7zm20 40h7v7h-7zm7 13h6v7h-6zm13 20h7v7h-7zm7 7h7v7h-7zm40 40h7v7h-7zm20 14h7v6h-7zm27 13h7v7h-7zm13 7h7v7h-7zm148 0h6v7h-6zm-121 7h7v6h-7zm94 0h7v6h-7z"/><path fill="#ffb833" d="M753 922h6v7h-6zm6 47h7v7h-7zm7 33h7v7h-7zm7 34h6v7h-6zm13 53h7v7h-7zm20 61h7v6h-7zm14 33h6v7h-6zm6 14h7v6h-7zm20 33h7v7h-7zm21 27h6v7h-6zm6 7h7v6h-7zm7 6h7v7h-7zm7 7h6v7h-6zm6 7h7v6h-7zm20 13h7v7h-7zm20 13h7v7h-7zm34 14h7v7h-7zm134 0h7v7h-7zm-107 7h20v6h-20zm67 0h20v6h-20z"/><path fill="#ffb935" d="M753 909h6v6h-6zm0 6h6v7h-6zm6 40h7v7h-7zm0 7h7v7h-7zm7 34h7v6h-7zm7 33h6v7h-6zm6 34h7v6h-7zm7 20h7v6h-7zm7 27h7v6h-7zm7 20h6v6h-6zm13 33h7v7h-7zm7 13h6v7h-6zm13 27h7v7h-7zm7 14h6v6h-6zm13 20h7v6h-7zm7 6h7v7h-7zm47 47h6v7h-6zm20 14h6v6h-6zm13 6h7v7h-7zm14 7h6v7h-6zm160 0h7v7h-7zm-140 7h13v7h-13zm114 0h13v7h-13zm-74 7h47v6h-47z"/><path fill="#ffba36" d="M753 902h6v7h-6zm6 47h7v6h-7zm7 40h7v7h-7zm7 33h6v7h-6zm6 34h7v7h-7zm14 47h7v7h-7zm7 20h6v7h-6zm6 20h7v7h-7zm20 47h7v7h-7zm20 33h7v7h-7zm21 27h6v7h-6zm6 7h7v7h-7zm7 7h7v6h-7zm7 6h6v7h-6zm6 7h7v7h-7zm7 7h7v6h-7zm20 13h7v7h-7zm13 7h7v6h-7zm14 6h7v7h-7zm174 0h7v7h-7zm-161 7h7v7h-7zm148 0h6v7h-6zm-121 7h7v7h-7zm94 0h7v7h-7z"/><path fill="#ffbb38" d="M753 895h6v7h-6zm6 47h7v7h-7zm7 40h7v7h-7zm7 34h6v6h-6zm6 33h7v7h-7zm7 27h7v7h-7zm7 20h7v7h-7zm7 20h6v7h-6zm6 20h7v7h-7zm7 20h7v7h-7zm7 14h6v6h-6zm6 13h7v7h-7zm7 14h7v6h-7zm7 13h6v7h-6zm13 20h7v7h-7zm7 7h7v6h-7zm47 47h6v6h-6zm6 6h7v7h-7zm14 7h6v7h-6zm27 13h6v7h-6zm160 0h7v7h-7zm-147 7h13v7h-13zm127 0h14v7h-14zm-100 7h20v7h-20zm67 0h20v7h-20z"/><path fill="#ffbc3a" d="M753 892h6v3h-6zm6 37h7v6h-7zm0 6h7v7h-7zm7 41h7v6h-7zm7 33h6v7h-6zm6 34h7v6h-7zm7 26h7v7h-7zm7 20h7v7h-7zm20 61h7v6h-7zm27 53h6v7h-6zm6 14h7v6h-7zm21 26h6v7h-6zm6 7h7v7h-7zm7 7h7v7h-7zm7 7h6v6h-6zm6 6h7v7h-7zm7 7h7v7h-7zm20 13h7v7h-7zm20 14h7v6h-7zm20 6h7v7h-7zm148 0h6v7h-6zm-128 7h7v7h-7zm108 0h6v7h-6zm-74 7h47v7h-47z"/><path fill="#ffbd3c" d="M759 922h7v7h-7zm7 47h7v7h-7zm7 33h6v7h-6zm6 34h7v7h-7zm7 27h7v6h-7zm14 47h6v6h-6zm6 20h7v6h-7zm7 13h7v7h-7zm7 20h6v7h-6zm6 13h7v7h-7zm7 14h7v7h-7zm20 33h7v7h-7zm7 7h7v7h-7zm53 54h7v6h-7zm20 13h7v7h-7zm14 7h7v6h-7zm174 0h7v6h-7zm-154 6h7v7h-7zm134 0h7v7h-7zm-114 7h13v7h-13zm87 0h14v7h-14z"/><path fill="#ffbe3d" d="M759 915h7v7h-7zm7 40h7v7h-7zm0 7h7v7h-7zm7 34h6v6h-6zm6 33h7v7h-7zm7 27h7v7h-7zm7 27h7v6h-7zm7 20h6v7h-6zm6 20h7v7h-7zm14 33h6v7h-6zm6 14h7v6h-7zm7 13h7v7h-7zm7 14h6v6h-6zm6 13h7v7h-7zm21 27h6v6h-6zm6 6h7v7h-7zm27 27h7v7h-7zm7 7h6v7h-6zm20 13h6v7h-6zm13 7h7v7h-7zm188 0h6v7h-6zm-174 7h6v6h-6zm160 0h7v6h-7zm-140 6h6v7h-6zm120 0h7v7h-7zm-94 7h14v7h-14zm61 0h13v7h-13z"/><path fill="#ffbf3f" d="M759 902h7v7h-7zm0 7h7v6h-7zm7 40h7v6h-7zm7 40h6v7h-6zm6 33h7v7h-7zm7 27h7v7h-7zm7 27h7v7h-7zm7 20h6v7h-6zm6 20h7v7h-7zm7 20h7v7h-7zm33 67h7v7h-7zm7 14h7v6h-7zm7 6h7v7h-7zm20 27h7v7h-7zm7 7h6v7h-6zm6 7h7v6h-7zm27 20h7v6h-7zm13 6h7v7h-7zm14 7h7v7h-7zm13 7h7v6h-7zm148 0h6v6h-6zm-128 6h7v7h-7zm108 0h6v7h-6zm-74 7h47v7h-47z"/><path fill="#ffc041" d="M759 895h7v7h-7zm7 47h7v7h-7zm7 40h6v7h-6zm6 34h7v6h-7zm7 27h7v6h-7zm7 26h7v7h-7zm7 20h6v7h-6zm13 41h7v6h-7zm7 20h6v6h-6zm6 13h7v7h-7zm7 13h7v7h-7zm7 14h6v7h-6zm13 20h7v7h-7zm14 20h6v7h-6zm6 7h7v6h-7zm34 33h6v7h-6zm6 7h7v7h-7zm14 7h6v6h-6zm194 13h7v7h-7zm-154 7h7v6h-7zm134 0h7v6h-7zm-114 6h13v7h-13zm87 0h14v7h-14z"/><path fill="#ffc143" d="M759 892h7v3h-7zm7 37h7v6h-7zm0 6h7v7h-7zm7 34h6v7h-6zm0 7h6v6h-6zm6 33h7v7h-7zm7 27h7v7h-7zm7 27h7v6h-7zm13 47h7v6h-7zm14 33h6v7h-6zm6 13h7v7h-7zm20 41h7v6h-7zm14 20h7v6h-7zm20 26h7v7h-7zm7 7h6v7h-6zm6 7h7v7h-7zm7 7h7v6h-7zm20 13h7v7h-7zm20 13h7v7h-7zm188 0h6v7h-6zm-174 7h6v7h-6zm160 0h7v7h-7zm-140 7h6v6h-6zm120 0h7v6h-7zm-94 6h21v7h-21zm54 0h20v7h-20z"/><path fill="#ffc244" d="M766 922h7v7h-7zm7 40h6v7h-6zm6 40h7v7h-7zm7 27h7v7h-7zm7 27h7v7h-7zm7 27h6v6h-6zm6 20h7v7h-7zm7 20h7v7h-7zm7 13h6v7h-6zm13 34h7v6h-7zm7 13h6v7h-6zm13 20h7v7h-7zm14 20h6v7h-6zm6 7h7v7h-7zm34 34h6v6h-6zm6 6h7v7h-7zm20 14h7v6h-7zm201 0h7v6h-7zm-187 6h7v7h-7zm174 0h7v7h-7zm-161 7h7v7h-7zm148 0h6v7h-6zm-128 7h14v6h-14zm101 0h13v6h-13zm-60 6h33v7h-33z"/><path fill="#ffc346" d="M766 915h7v7h-7zm7 40h6v7h-6zm6 34h7v7h-7zm0 7h7v6h-7zm7 26h7v7h-7zm7 27h7v7h-7zm7 27h6v7h-6zm6 20h7v7h-7zm7 20h7v7h-7zm13 34h7v6h-7zm7 13h7v7h-7zm7 13h6v7h-6zm6 14h7v7h-7zm14 20h7v7h-7zm20 27h7v6h-7zm7 6h6v7h-6zm6 7h7v7h-7zm7 7h7v7h-7zm27 20h6v7h-6zm13 7h7v6h-7zm188 0h6v6h-6zm-174 6h6v7h-6zm160 0h7v7h-7zm-147 7h13v7h-13zm127 0h14v7h-14zm-100 7h13v6h-13zm73 0h14v6h-14z"/><path fill="#ffc348" d="M766 902h7v7h-7zm0 7h7v6h-7zm7 40h6v6h-6zm6 33h7v7h-7zm7 34h7v6h-7zm7 27h7v6h-7zm7 26h6v7h-6zm6 20h7v7h-7zm7 21h7v6h-7zm7 20h6v6h-6zm6 13h7v7h-7zm20 40h7v7h-7zm7 14h7v6h-7zm14 20h6v6h-6zm6 6h7v7h-7zm40 41h7v6h-7zm7 6h7v7h-7zm13 7h7v7h-7zm201 0h7v7h-7zm-187 7h7v6h-7zm174 0h7v6h-7zm-161 6h7v7h-7zm148 0h6v7h-6zm-128 7h7v7h-7zm108 0h6v7h-6zm-81 7h60v6h-60z"/><path fill="#ffc44a" d="M1329 892h6v3h-6zm-563 3h7v7h-7zm563 0h6v7h-6zm-556 40h6v7h-6zm0 7h6v7h-6zm6 34h7v6h-7zm7 33h7v7h-7zm7 27h7v7h-7zm7 27h6v6h-6zm6 20h7v6h-7zm14 40h6v7h-6zm13 33h7v7h-7zm7 14h6v6h-6zm20 33h7v7h-7zm20 27h7v7h-7zm7 7h6v6h-6zm6 6h7v7h-7zm7 7h7v7h-7zm7 7h6v7h-6zm20 13h6v7h-6zm214 0h7v7h-7zm-174 20h7v7h-7zm134 0h7v7h-7zm-114 7h13v7h-13zm87 0h14v7h-14z"/><path fill="#ffc54b" d="M766 892h7v3h-7zm7 37h6v6h-6zm6 40h7v7h-7zm7 33h7v7h-7zm7 27h7v7h-7zm7 27h6v7h-6zm13 47h7v7h-7zm13 33h7v7h-7zm7 14h7v6h-7zm7 13h6v7h-6zm6 13h7v7h-7zm7 14h7v7h-7zm14 20h6v7h-6zm6 7h7v6h-7zm40 40h7v7h-7zm7 7h7v6h-7zm20 13h7v7h-7zm188 0h6v7h-6zm-174 7h6v6h-6zm160 0h7v6h-7zm-140 6h6v7h-6zm120 0h7v7h-7zm-94 7h14v7h-14zm61 0h13v7h-13z"/><path fill="#ffc64d" d="M1322 909h7v6h-7zm-549 13h6v7h-6zm6 40h7v7h-7zm7 34h7v6h-7zm7 26h7v7h-7zm7 27h6v7h-6zm6 27h7v7h-7zm7 20h7v7h-7zm7 20h6v7h-6zm6 14h7v6h-7zm27 53h7v7h-7zm7 14h7v6h-7zm7 6h6v7h-6zm13 20h7v7h-7zm7 7h6v7h-6zm6 7h7v6h-7zm7 6h7v7h-7zm7 7h6v7h-6zm20 14h6v6h-6zm6 6h7v7h-7zm201 0h7v7h-7zm-187 7h7v7h-7zm174 0h7v7h-7zm-161 7h7v6h-7zm141 0h13v6h-13zm-121 6h14v7h-14zm101 0h13v7h-13zm-67 7h47v7h-47z"/><path fill="#ffc74f" d="M1322 895h7v7h-7zm0 7h7v7h-7zm-549 7h6v6h-6zm0 6h6v7h-6zm6 34h7v6h-7zm0 6h7v7h-7zm7 34h7v7h-7zm7 27h7v6h-7zm7 27h6v6h-6zm6 26h7v7h-7zm7 20h7v7h-7zm7 21h6v6h-6zm13 33h7v7h-7zm7 13h6v7h-6zm6 14h7v6h-7zm14 20h7v7h-7zm13 20h7v7h-7zm47 47h7v7h-7zm228 0h7v7h-7zm-7 7h7v6h-7zm-201 6h7v7h-7zm188 0h6v7h-6zm-174 7h6v7h-6zm160 0h7v7h-7zm-147 7h13v6h-13zm127 0h7v6h-7zm-100 6h13v7h-13zm73 0h14v7h-14z"/><path fill="#ffc850" d="M1322 892h7v3h-7zm-549 10h6v7h-6zm542 20h7v7h-7zm-536 20h7v7h-7zm7 34h7v6h-7zm0 6h7v7h-7zm7 27h7v7h-7zm7 27h6v7h-6zm6 27h7v6h-7zm7 20h7v6h-7zm7 20h6v7h-6zm6 20h7v7h-7zm7 13h7v7h-7zm7 14h6v6h-6zm6 13h7v7h-7zm7 13h7v7h-7zm14 21h6v6h-6zm13 20h7v6h-7zm7 6h6v7h-6zm6 7h7v7h-7zm7 7h7v6h-7zm7 6h6v7h-6zm6 7h7v7h-7zm20 14h7v6h-7zm201 0h7v6h-7zm-187 6h7v7h-7zm174 0h7v7h-7zm-161 7h7v7h-7zm148 0h6v7h-6zm-128 7h7v6h-7zm108 0h6v6h-6zm-81 6h60v7h-60z"/><path fill="#ffc952" d="M773 892h6v3h-6zm0 3h6v7h-6zm542 14h7v6h-7zm0 6h7v7h-7zm-536 20h7v7h-7zm7 34h7v7h-7zm7 33h7v7h-7zm7 27h6v7h-6zm6 27h7v7h-7zm7 20h7v7h-7zm7 20h6v7h-6zm6 20h7v7h-7zm7 14h7v6h-7zm27 53h7v7h-7zm13 20h7v7h-7zm7 7h7v7h-7zm40 40h7v7h-7zm228 0h7v7h-7zm-221 7h6v7h-6zm214 0h7v7h-7zm-201 7h7v6h-7zm188 0h6v6h-6zm-174 6h6v7h-6zm160 0h7v7h-7zm-147 7h7v7h-7zm134 0h7v7h-7zm-114 7h13v6h-13zm87 0h14v6h-14z"/><path fill="#ffca54" d="M1315 902h7v7h-7zm-536 20h7v7h-7zm0 7h7v6h-7zm530 6h6v7h-6zm-523 27h7v7h-7zm7 34h7v6h-7zm7 26h6v7h-6zm6 27h7v7h-7zm7 20h7v7h-7zm13 41h7v6h-7zm14 33h6v7h-6zm6 13h7v7h-7zm7 14h7v6h-7zm14 20h6v7h-6zm20 27h6v6h-6zm6 6h7v7h-7zm7 7h7v7h-7zm7 7h6v6h-6zm6 6h7v7h-7zm242 0h6v7h-6zm-222 14h7v7h-7zm201 0h7v7h-7zm-187 7h7v6h-7zm174 0h7v6h-7zm-161 6h7v7h-7zm148 0h6v7h-6zm-134 7h6v7h-6zm114 0h13v7h-13zm-88 7h14v6h-14zm54 0h20v6h-20z"/><path fill="#ffcb56" d="M1315 892h7v3h-7zm0 3h7v7h-7zm-536 20h7v7h-7zm530 7h6v7h-6zm0 7h6v6h-6zm-523 26h7v7h-7zm7 34h7v7h-7zm7 27h6v6h-6zm6 27h7v6h-7zm14 46h6v7h-6zm6 14h7v7h-7zm7 20h7v7h-7zm7 13h6v7h-6zm6 14h7v6h-7zm7 13h7v7h-7zm7 13h7v7h-7zm13 21h7v6h-7zm7 6h7v7h-7zm40 40h7v7h-7zm228 0h7v7h-7zm-221 7h6v7h-6zm214 0h7v7h-7zm-201 7h7v7h-7zm188 0h6v7h-6zm-14 7h7v6h-7zm-147 6h7v7h-7zm134 0h7v7h-7zm-121 7h14v7h-14zm101 0h7v7h-7zm-67 7h40v6h-40z"/><path fill="#ffcc57" d="M779 909h7v6h-7zm530 6h6v7h-6zm-7 27h7v7h-7zm-516 7h7v6h-7zm516 0h7v6h-7zm-509 33h7v7h-7zm7 27h6v7h-6zm6 27h7v7h-7zm7 27h7v6h-7zm7 20h6v6h-6zm13 33h7v7h-7zm27 54h7v6h-7zm7 13h6v7h-6zm6 7h7v7h-7zm14 20h6v7h-6zm6 7h7v6h-7zm7 6h7v7h-7zm7 7h6v7h-6zm254 0h7v7h-7zm-248 7h7v6h-7zm242 0h6v6h-6zm-222 13h7v7h-7zm201 0h7v7h-7zm-13 7h7v7h-7zm-167 7h6v6h-6zm154 0h6v6h-6zm-134 6h6v7h-6zm120 0h7v7h-7zm-100 7h13v7h-13zm73 0h14v7h-14z"/><path fill="#ffcd59" d="M779 895h7v7h-7zm0 7h7v7h-7zm530 7h6v6h-6zm-523 26h7v7h-7zm516 0h7v7h-7zm-516 7h7v7h-7zm509 20h7v7h-7zm-502 14h7v6h-7zm7 26h6v7h-6zm6 27h7v7h-7zm7 27h7v7h-7zm7 20h6v7h-6zm6 20h7v7h-7zm7 14h7v6h-7zm7 20h6v6h-6zm6 13h7v7h-7zm7 13h7v7h-7zm14 20h6v7h-6zm13 21h7v6h-7zm7 6h6v7h-6zm33 34h7v6h-7zm228 0h7v6h-7zm-221 6h6v7h-6zm214 0h7v7h-7zm-13 7h6v7h-6zm-181 7h7v7h-7zm13 7h7v6h-7zm141 0h7v6h-7zm-121 6h7v7h-7zm101 0h13v7h-13zm-74 7h60v7h-60z"/><path fill="#ffce5b" d="M779 892h7v3h-7zm530 3h6v7h-6zm0 7h6v7h-6zm-523 27h7v6h-7zm516 0h7v6h-7zm-7 26h7v7h-7zm-502 7h7v7h-7zm0 7h7v7h-7zm7 27h6v6h-6zm6 26h7v7h-7zm7 27h7v7h-7zm7 20h6v7h-6zm6 20h7v7h-7zm14 34h6v7h-6zm6 13h7v7h-7zm7 14h7v6h-7zm7 13h7v7h-7zm13 20h7v7h-7zm20 27h7v7h-7zm7 7h7v6h-7zm268 0h7v6h-7zm-261 6h6v7h-6zm254 0h7v7h-7zm-248 7h7v7h-7zm242 0h6v7h-6zm-222 13h7v7h-7zm201 0h7v7h-7zm-194 7h7v7h-7zm14 7h6v7h-6zm160 0h7v7h-7zm-147 7h13v6h-13zm127 0h7v6h-7zm-107 6h13v7h-13zm80 0h14v7h-14z"/><path fill="#ffcf5d" d="M1309 892h6v3h-6zm-7 23h7v7h-7zm-516 7h7v7h-7zm516 0h7v7h-7zm-7 27h7v6h-7zm-502 6h7v7h-7zm496 21h6v6h-6zm-489 13h6v7h-6zm6 27h7v6h-7zm7 27h7v6h-7zm7 20h6v6h-6zm6 20h7v6h-7zm7 20h7v7h-7zm7 13h6v7h-6zm6 14h7v6h-7zm14 26h7v7h-7zm7 14h6v6h-6zm13 20h7v7h-7zm7 7h6v6h-6zm33 33h7v7h-7zm228 0h7v7h-7zm-221 7h6v6h-6zm214 0h7v6h-7zm-13 6h6v7h-6zm-181 7h7v7h-7zm174 0h7v7h-7zm-161 7h7v7h-7zm141 0h13v7h-13zm-121 7h7v6h-7zm108 0h6v6h-6zm-88 6h27v7h-27zm47 0h20v7h-20z"/><path fill="#ffd05e" d="M786 909h7v6h-7zm516 0h7v6h-7zm-516 6h7v7h-7zm509 20h7v7h-7zm0 7h7v7h-7zm-502 7h7v6h-7zm496 20h6v7h-6zm-489 13h6v7h-6zm482 7h7v7h-7zm-476 20h7v7h-7zm7 27h7v7h-7zm7 20h6v7h-6zm6 20h7v7h-7zm7 20h7v7h-7zm7 14h6v6h-6zm13 33h7v7h-7zm14 20h6v7h-6zm6 13h7v7h-7zm7 7h7v7h-7zm13 20h7v7h-7zm282 0h6v7h-6zm-275 7h7v7h-7zm268 0h7v7h-7zm-261 7h6v6h-6zm254 0h7v6h-7zm-248 6h7v7h-7zm242 0h6v7h-6zm-222 14h7v6h-7zm201 0h7v6h-7zm-194 6h7v7h-7zm14 7h6v7h-6zm160 0h7v7h-7zm-147 7h7v7h-7zm127 0h7v7h-7zm-107 7h13v6h-13zm87 0h14v6h-14zm-47 6h20v7h-20z"/><path fill="#ffd160" d="M786 902h7v7h-7zm516 0h7v7h-7zm-7 27h7v6h-7zm-502 6h7v7h-7zm0 7h7v7h-7zm496 13h6v7h-6zm0 7h6v7h-6zm-489 14h6v6h-6zm482 6h7v7h-7zm-476 20h7v7h-7zm7 27h7v7h-7zm7 20h6v7h-6zm6 20h7v7h-7zm7 20h7v7h-7zm13 34h7v7h-7zm7 13h7v7h-7zm7 14h7v6h-7zm13 20h7v6h-7zm14 20h6v7h-6zm6 7h7v6h-7zm27 26h7v7h-7zm228 0h7v7h-7zm-221 7h6v7h-6zm214 0h7v7h-7zm-13 7h6v6h-6zm-181 6h7v7h-7zm174 0h7v7h-7zm-161 7h7v7h-7zm148 0h6v7h-6zm-134 7h13v7h-13zm114 0h6v7h-6zm-88 7h14v6h-14zm54 0h20v6h-20z"/><path fill="#ffd262" d="M786 892h7v3h-7zm516 0h7v3h-7zm-516 3h7v7h-7zm516 0h7v7h-7zm-7 27h7v7h-7zm-502 7h7v6h-7zm496 20h6v6h-6zm-489 13h6v7h-6zm0 7h6v7h-6zm482 7h7v6h-7zm-476 20h7v6h-7zm469 0h7v6h-7zm0 6h7v7h-7zm-462 20h7v7h-7zm7 21h6v6h-6zm6 20h7v6h-7zm7 20h7v6h-7zm7 20h6v7h-6zm6 13h7v7h-7zm7 14h7v6h-7zm7 13h7v7h-7zm7 13h6v7h-6zm13 20h7v7h-7zm301 14h7v7h-7zm-6 7h6v6h-6zm-275 6h7v7h-7zm268 0h7v7h-7zm-261 7h6v7h-6zm254 0h7v7h-7zm-248 7h7v6h-7zm242 0h6v6h-6zm-222 13h7v7h-7zm201 0h7v7h-7zm-194 7h7v6h-7zm14 6h6v7h-6zm160 0h7v7h-7zm-147 7h7v7h-7zm127 0h14v7h-14zm-107 7h7v7h-7zm87 0h14v7h-14zm-60 7h40v6h-40z"/><path fill="#ffd364" d="M1295 909h7v6h-7zm0 6h7v7h-7zm-502 7h7v7h-7zm496 20h6v7h-6zm-489 13h6v7h-6zm482 14h7v7h-7zm-476 20h7v7h-7zm469 0h7v7h-7zm-462 27h7v6h-7zm455 0h7v6h-7zm-448 20h6v7h-6zm13 40h7v7h-7zm7 20h6v7h-6zm6 14h7v6h-7zm21 40h6v6h-6zm6 13h7v7h-7zm315 13h7v7h-7zm-301 7h6v7h-6zm294 0h7v7h-7zm-288 7h7v7h-7zm282 0h6v7h-6zm-275 7h7v6h-7zm7 6h6v7h-6zm6 7h7v7h-7zm242 0h6v7h-6zm-235 7h7v6h-7zm228 0h7v6h-7zm-221 6h6v7h-6zm214 0h7v7h-7zm-13 7h6v7h-6zm-181 7h7v6h-7zm174 0h7v6h-7zm-161 6h7v7h-7zm148 0h6v7h-6zm-134 7h6v7h-6zm114 0h6v7h-6zm-94 7h20v7h-20zm67 0h13v7h-13z"/><path fill="#ffd465" d="M1295 902h7v7h-7zm-502 7h7v6h-7zm0 6h7v7h-7zm496 14h6v6h-6zm0 6h6v7h-6zm-489 14h6v6h-6zm482 6h7v7h-7zm0 7h7v7h-7zm-476 20h7v7h-7zm469 0h7v7h-7zm-462 27h7v7h-7zm455 0h7v7h-7zm-448 20h6v7h-6zm442 0h6v7h-6zm-7 14h7v6h-7zm-429 13h7v7h-7zm14 33h6v7h-6zm13 34h7v7h-7zm7 13h7v7h-7zm13 20h7v7h-7zm322 7h6v7h-6zm-315 7h7v6h-7zm308 0h7v6h-7zm-301 6h6v7h-6zm281 21h7v6h-7zm-7 6h7v7h-7zm-228 20h7v7h-7zm201 0h7v7h-7zm-194 7h7v7h-7zm14 7h6v6h-6zm160 0h7v6h-7zm-147 6h7v7h-7zm127 0h14v7h-14zm-114 7h14v7h-14zm94 0h14v7h-14zm-60 7h47v7h-47z"/><path fill="#ffd567" d="M1295 892h7v3h-7zm0 3h7v7h-7zm-502 7h7v7h-7zm496 20h6v7h-6zm-489 13h6v7h-6zm0 7h6v7h-6zm482 7h7v6h-7zm-476 20h7v7h-7zm0 7h7v6h-7zm469 0h7v6h-7zm-7 20h7v6h-7zm-455 6h7v7h-7zm455 0h7v7h-7zm-448 20h6v7h-6zm442 0h6v7h-6zm-7 14h7v7h-7zm-429 13h7v7h-7zm422 7h7v7h-7zm-415 13h7v7h-7zm7 14h6v6h-6zm6 20h7v7h-7zm7 13h7v7h-7zm7 14h7v6h-7zm348 6h7v7h-7zm-341 7h6v7h-6zm334 7h7v6h-7zm-6 6h6v7h-6zm-315 7h7v7h-7zm301 13h7v7h-7zm-288 7h7v7h-7zm282 0h6v7h-6zm-275 7h7v7h-7zm268 0h7v7h-7zm-261 7h6v6h-6zm254 0h7v6h-7zm-248 6h7v7h-7zm242 0h6v7h-6zm-235 7h7v7h-7zm228 0h7v7h-7zm-221 7h6v6h-6zm214 0h7v6h-7zm-13 6h6v7h-6zm-181 7h7v7h-7zm174 0h7v7h-7zm-161 7h7v6h-7zm148 0h6v6h-6zm-134 6h6v7h-6zm114 0h6v7h-6zm-94 7h13v7h-13zm67 0h13v7h-13z"/><path fill="#ffd669" d="M793 892h7v3h-7zm0 3h7v7h-7zm496 20h6v7h-6zm-489 14h6v6h-6zm482 13h7v7h-7zm-476 20h7v7h-7zm469 7h7v7h-7zm-462 20h7v7h-7zm455 0h7v7h-7zm-455 7h7v6h-7zm449 13h6v7h-6zm-442 7h6v6h-6zm442 0h6v6h-6zm-7 13h7v7h-7zm-429 14h7v6h-7zm422 6h7v7h-7zm-415 14h7v6h-7zm409 6h6v7h-6zm-7 14h7v6h-7zm-389 13h7v7h-7zm382 0h7v7h-7zm-375 14h7v6h-7zm369 0h6v6h-6zm-362 13h7v7h-7zm355 0h7v7h-7zm-348 13h6v7h-6zm334 7h7v7h-7zm-328 7h7v6h-7zm315 13h7v7h-7zm-301 7h6v6h-6zm294 0h7v6h-7zm-288 6h7v7h-7zm248 34h7v7h-7zm-208 7h7v6h-7zm201 0h7v6h-7zm-194 6h7v7h-7zm181 0h7v7h-7zm-167 7h6v7h-6zm160 0h7v7h-7zm-147 7h7v6h-7zm127 0h14v6h-14zm-114 6h14v7h-14zm101 0h7v7h-7zm-74 7h54v7h-54z"/><path fill="#ffd76a" d="M1289 902h6v7h-6zm0 7h6v6h-6zm-489 13h6v7h-6zm482 7h7v6h-7zm0 6h7v7h-7zm-476 20h7v7h-7zm469 0h7v7h-7zm0 7h7v7h-7zm-462 20h7v7h-7zm455 0h7v7h-7zm-6 20h6v7h-6zm-442 7h6v7h-6zm435 13h7v7h-7zm-429 14h7v7h-7zm422 7h7v6h-7zm-415 13h7v7h-7zm409 7h6v6h-6zm-402 13h6v7h-6zm395 0h7v7h-7zm-389 13h7v7h-7zm382 0h7v7h-7zm-6 14h6v7h-6zm-7 13h7v7h-7zm-7 14h7v6h-7zm-335 13h7v7h-7zm322 7h6v6h-6zm-315 6h7v7h-7zm308 0h7v7h-7zm-301 7h6v7h-6zm288 13h6v7h-6zm-275 7h7v7h-7zm268 0h7v7h-7zm-261 7h6v7h-6zm254 0h7v7h-7zm-248 7h7v6h-7zm242 0h6v6h-6zm-235 6h7v7h-7zm228 0h7v7h-7zm-221 7h6v7h-6zm13 7h7v6h-7zm188 0h6v6h-6zm-181 6h7v7h-7zm13 7h7v7h-7zm148 0h6v7h-6zm-134 7h6v6h-6zm114 0h6v6h-6zm-94 6h13v7h-13zm67 0h20v7h-20z"/><path fill="#ffd86c" d="M1289 895h6v7h-6zm-489 14h6v6h-6zm0 6h6v7h-6zm482 7h7v7h-7zm-476 27h7v6h-7zm469 0h7v6h-7zm-462 27h7v6h-7zm455 0h7v6h-7zm-6 20h6v6h-6zm-442 6h6v7h-6zm435 14h7v6h-7zm-429 13h7v7h-7zm422 7h7v7h-7zm-415 13h7v7h-7zm409 7h6v7h-6zm-402 13h6v7h-6zm395 0h7v7h-7zm-389 14h7v6h-7zm382 0h7v6h-7zm-6 13h6v7h-6zm-369 7h7v7h-7zm362 7h7v6h-7zm-355 6h7v7h-7zm348 7h7v7h-7zm-341 7h6v6h-6zm334 6h7v7h-7zm-6 7h6v7h-6zm-315 7h7v6h-7zm301 13h7v7h-7zm-288 7h7v6h-7zm282 0h6v6h-6zm-275 6h7v7h-7zm268 0h7v7h-7zm-13 14h6v7h-6zm-7 7h7v6h-7zm-221 6h6v7h-6zm214 0h7v7h-7zm-208 7h7v7h-7zm201 0h7v7h-7zm-13 7h7v6h-7zm-167 6h6v7h-6zm160 0h7v7h-7zm-147 7h7v7h-7zm127 0h14v7h-14zm-114 7h14v6h-14zm101 0h7v6h-7zm-74 6h54v7h-54z"/><path fill="#ffd96e" d="M1289 892h6v3h-6zm-489 10h6v7h-6zm482 13h7v7h-7zm-476 20h7v7h-7zm0 7h7v7h-7zm469 0h7v7h-7zm-462 27h7v7h-7zm455 0h7v7h-7zm-6 20h6v7h-6zm-442 7h6v6h-6zm435 13h7v7h-7zm-429 13h7v7h-7zm422 7h7v7h-7zm-415 14h7v6h-7zm409 6h6v7h-6zm-402 14h6v6h-6zm395 0h7v6h-7zm-382 33h7v7h-7zm7 14h7v6h-7zm348 6h7v7h-7zm-341 7h6v7h-6zm334 7h7v6h-7zm-328 6h7v7h-7zm315 14h7v6h-7zm-301 6h6v7h-6zm294 0h7v7h-7zm-288 7h7v7h-7zm14 20h6v7h-6zm254 0h7v7h-7zm-248 7h7v7h-7zm7 7h7v6h-7zm214 6h7v7h-7zm-194 7h7v7h-7zm188 0h6v7h-6zm-181 7h7v6h-7zm167 0h7v6h-7zm-154 6h7v7h-7zm141 0h13v7h-13zm-127 7h6v7h-6zm114 0h6v7h-6zm-94 7h13v6h-13zm67 0h20v6h-20z"/><path fill="#ffd970" d="M800 892h6v3h-6zm0 3h6v7h-6zm482 7h7v7h-7zm0 7h7v6h-7zm-476 20h7v6h-7zm469 6h7v7h-7zm-7 20h7v7h-7zm-455 7h7v7h-7zm455 0h7v7h-7zm-6 20h6v7h-6zm-442 7h6v7h-6zm435 13h7v7h-7zm-429 14h7v6h-7zm422 6h7v7h-7zm-415 14h7v7h-7zm409 7h6v6h-6zm-402 13h6v7h-6zm395 0h7v7h-7zm-389 20h7v7h-7zm382 0h7v7h-7zm-375 13h7v7h-7zm369 0h6v7h-6zm-362 14h7v7h-7zm355 0h7v7h-7zm-348 13h6v7h-6zm334 7h7v7h-7zm-328 7h7v6h-7zm322 6h6v7h-6zm-315 7h7v7h-7zm308 0h7v7h-7zm-301 7h6v6h-6zm288 13h6v7h-6zm-275 7h7v6h-7zm268 0h7v6h-7zm-261 6h6v7h-6zm254 0h7v7h-7zm-248 7h7v7h-7zm242 0h6v7h-6zm-235 7h7v7h-7zm228 0h7v7h-7zm-221 7h6v6h-6zm214 0h7v6h-7zm-208 6h7v7h-7zm188 7h7v7h-7zm-167 7h6v6h-6zm154 0h6v6h-6zm-141 6h7v7h-7zm127 0h7v7h-7zm-114 7h14v7h-14zm94 0h14v7h-14zm-67 7h54v6h-54z"/><path fill="#ffda71" d="M1282 895h7v7h-7zm-476 27h7v7h-7zm469 0h7v7h-7zm0 7h7v6h-7zm-462 20h7v6h-7zm455 0h7v6h-7zm-455 6h7v7h-7zm449 21h6v6h-6zm-442 6h6v7h-6zm435 14h7v6h-7zm-429 13h7v7h-7zm422 7h7v6h-7zm-415 13h7v7h-7zm409 7h6v7h-6zm-402 13h6v7h-6zm395 0h7v7h-7zm-389 20h7v7h-7zm382 0h7v7h-7zm-375 14h7v6h-7zm369 0h6v6h-6zm-362 13h7v7h-7zm355 0h7v7h-7zm-7 14h7v6h-7zm-335 13h7v7h-7zm322 7h6v6h-6zm-315 6h7v7h-7zm301 14h7v6h-7zm-288 6h7v7h-7zm282 0h6v7h-6zm-275 7h7v7h-7zm268 0h7v7h-7zm-27 27h7v7h-7zm-7 7h7v6h-7zm-194 6h7v7h-7zm188 0h6v7h-6zm-181 7h7v7h-7zm167 0h7v7h-7zm-154 7h7v6h-7zm141 0h7v6h-7zm-127 6h6v7h-6zm114 0h6v7h-6zm-94 7h13v7h-13zm67 0h13v7h-13z"/><path fill="#ffdb73" d="M1282 892h7v3h-7zm-476 17h7v6h-7zm0 6h7v7h-7zm469 0h7v7h-7zm-462 27h7v7h-7zm455 0h7v7h-7zm-6 20h6v7h-6zm0 7h6v7h-6zm-442 7h6v6h-6zm435 13h7v7h-7zm-429 7h7v6h-7zm0 6h7v7h-7zm422 7h7v7h-7zm-415 13h7v7h-7zm409 7h6v7h-6zm-402 14h6v6h-6zm395 0h7v6h-7zm-389 20h7v6h-7zm382 0h7v6h-7zm-375 13h7v7h-7zm369 0h6v7h-6zm-7 13h7v7h-7zm-7 14h7v7h-7zm-341 7h6v6h-6zm334 6h7v7h-7zm-6 7h6v7h-6zm-315 7h7v6h-7zm308 6h7v7h-7zm-301 7h6v7h-6zm294 0h7v7h-7zm-288 7h7v6h-7zm14 20h6v6h-6zm254 0h7v6h-7zm-248 6h7v7h-7zm242 0h6v7h-6zm-235 7h7v7h-7zm228 0h7v7h-7zm-221 7h6v7h-6zm6 7h7v6h-7zm195 0h6v6h-6zm-181 6h7v7h-7zm174 0h7v7h-7zm-167 7h6v7h-6zm154 0h6v7h-6zm-141 7h7v6h-7zm127 0h7v6h-7zm-114 6h14v7h-14zm94 0h14v7h-14zm-67 7h54v7h-54z"/><path fill="#ffdc75" d="M806 902h7v7h-7zm469 0h7v7h-7zm0 7h7v6h-7zm-7 20h7v6h-7zm-455 6h7v7h-7zm455 0h7v7h-7zm-6 20h6v7h-6zm-442 7h6v7h-6zm0 7h6v7h-6zm435 13h7v7h-7zm-429 7h7v7h-7zm422 13h7v7h-7zm-415 14h7v6h-7zm409 6h6v7h-6zm-402 14h6v7h-6zm395 0h7v7h-7zm-389 20h7v7h-7zm382 0h7v7h-7zm-375 13h7v7h-7zm369 0h6v7h-6zm-7 14h7v6h-7zm-355 6h7v7h-7zm348 7h7v7h-7zm-341 7h6v7h-6zm334 7h7v6h-7zm-328 6h7v7h-7zm315 14h7v6h-7zm-301 6h6v7h-6zm288 14h6v6h-6zm-275 6h7v7h-7zm268 0h7v7h-7zm-261 7h6v7h-6zm254 0h7v7h-7zm-248 7h7v6h-7zm242 0h6v6h-6zm-7 6h7v7h-7zm-221 7h6v7h-6zm214 0h7v7h-7zm-208 7h7v7h-7zm201 0h7v7h-7zm-194 7h7v6h-7zm14 6h6v7h-6zm160 0h7v7h-7zm-154 7h7v7h-7zm141 0h7v7h-7zm-127 7h13v6h-13zm114 0h6v6h-6zm-94 6h13v7h-13zm67 0h13v7h-13z"/><path fill="#ffdd77" d="M806 892h7v3h-7zm0 3h7v7h-7zm469 0h7v7h-7zm-462 27h7v7h-7zm455 0h7v7h-7zm-455 7h7v6h-7zm449 20h6v6h-6zm-442 6h6v7h-6zm435 14h7v7h-7zm0 7h7v6h-7zm-429 6h7v7h-7zm422 14h7v6h-7zm-415 13h7v7h-7zm409 7h6v6h-6zm-402 13h6v7h-6zm395 0h7v7h-7zm-389 20h7v7h-7zm382 0h7v7h-7zm-6 14h6v6h-6zm-7 13h7v7h-7zm-355 7h7v6h-7zm348 6h7v7h-7zm-341 7h6v7h-6zm334 7h7v7h-7zm-328 7h7v6h-7zm322 6h6v7h-6zm-315 7h7v7h-7zm308 0h7v7h-7zm-7 13h7v7h-7zm-288 7h7v7h-7zm282 0h6v7h-6zm-275 7h7v6h-7zm268 0h7v6h-7zm-248 26h7v7h-7zm214 7h7v7h-7zm-6 7h6v7h-6zm-181 7h7v6h-7zm174 0h7v6h-7zm-13 6h6v7h-6zm-141 7h7v7h-7zm127 0h7v7h-7zm-107 7h7v6h-7zm87 0h14v6h-14zm-67 6h54v7h-54z"/><path fill="#ffde78" d="M1275 892h7v3h-7zm-462 23h7v7h-7zm455 0h7v7h-7zm-6 27h6v7h-6zm-442 7h6v6h-6zm435 13h7v7h-7zm-429 14h7v6h-7zm422 6h7v7h-7zm0 7h7v7h-7zm-415 13h7v7h-7zm409 7h6v7h-6zm-402 13h6v7h-6zm395 0h7v7h-7zm-389 21h7v6h-7zm382 0h7v6h-7zm-6 13h6v7h-6zm-369 7h7v6h-7zm362 6h7v7h-7zm-355 7h7v7h-7zm348 7h7v6h-7zm-341 6h6v7h-6zm334 7h7v7h-7zm-328 7h7v7h-7zm322 7h6v6h-6zm-315 6h7v7h-7zm7 14h6v6h-6zm294 0h7v6h-7zm-288 6h7v7h-7zm282 0h6v7h-6zm-268 20h6v7h-6zm254 0h7v7h-7zm-248 7h7v7h-7zm242 0h6v7h-6zm-235 7h7v6h-7zm228 0h7v6h-7zm-221 6h6v7h-6zm214 0h7v7h-7zm-208 7h7v7h-7zm7 7h7v7h-7zm181 0h7v7h-7zm-167 7h6v6h-6zm160 0h7v6h-7zm-154 6h14v7h-14zm141 0h7v7h-7zm-127 7h13v7h-13zm107 0h13v7h-13zm-87 7h20v6h-20zm67 0h13v6h-13z"/><path fill="#ffdf7a" d="M1268 902h7v7h-7zm-455 7h7v6h-7zm455 0h7v6h-7zm-6 20h6v6h-6zm0 6h6v7h-6zm-442 7h6v7h-6zm435 13h7v7h-7zm-429 14h7v7h-7zm422 7h7v6h-7zm-415 20h7v6h-7zm409 0h6v6h-6zm0 6h6v7h-6zm-402 14h6v6h-6zm395 0h7v6h-7zm-389 20h7v7h-7zm382 0h7v7h-7zm-6 13h6v7h-6zm-369 7h7v7h-7zm362 7h7v6h-7zm-355 6h7v7h-7zm348 7h7v7h-7zm-341 7h6v6h-6zm334 6h7v7h-7zm-328 7h7v7h-7zm322 7h6v7h-6zm-315 7h7v6h-7zm308 6h7v7h-7zm-301 7h6v7h-6zm294 0h7v7h-7zm-281 20h7v7h-7zm268 0h7v7h-7zm-261 7h6v6h-6zm254 0h7v6h-7zm-6 6h6v7h-6zm-7 7h7v7h-7zm-7 7h7v6h-7zm-7 6h7v7h-7zm-194 7h7v7h-7zm188 0h6v7h-6zm-181 7h7v7h-7zm167 0h7v7h-7zm-154 7h7v6h-7zm148 0h6v6h-6zm-134 6h6v7h-6zm120 0h7v7h-7zm-107 7h13v7h-13zm87 0h7v7h-7zm-60 7h47v6h-47z"/><path fill="#ffe07c" d="M813 895h7v7h-7zm455 0h7v7h-7zm-455 7h7v7h-7zm449 20h6v7h-6zm-442 7h6v6h-6zm0 6h6v7h-6zm435 14h7v6h-7zm-429 13h7v7h-7zm422 7h7v7h-7zm-415 13h7v7h-7zm0 7h7v7h-7zm409 0h6v7h-6zm-402 20h6v7h-6zm395 0h7v7h-7zm-389 20h7v7h-7zm382 0h7v7h-7zm-6 14h6v6h-6zm-369 6h7v7h-7zm362 7h7v7h-7zm-355 7h7v6h-7zm335 33h6v7h-6zm-7 14h7v6h-7zm-301 6h6v7h-6zm6 14h7v6h-7zm282 0h6v6h-6zm-275 6h7v7h-7zm268 0h7v7h-7zm-7 7h7v7h-7zm-248 13h7v7h-7zm7 7h7v7h-7zm7 7h6v6h-6zm6 6h7v7h-7zm195 0h6v7h-6zm-181 7h7v7h-7zm174 0h7v7h-7zm-167 7h6v7h-6zm154 0h6v7h-6zm-141 7h7v6h-7zm127 0h14v6h-14zm-114 6h7v7h-7zm101 0h13v7h-13zm-81 7h14v7h-14zm54 0h20v7h-20z"/><path fill="#ffe17e" d="M813 892h7v3h-7zm455 0h7v3h-7zm-6 17h6v6h-6zm0 6h6v7h-6zm-442 7h6v7h-6zm435 13h7v7h-7zm0 7h7v7h-7zm-429 7h7v6h-7zm0 6h7v7h-7zm422 7h7v7h-7zm-415 14h7v6h-7zm409 6h6v7h-6zm-402 20h6v7h-6zm395 0h7v7h-7zm-389 20h7v7h-7zm382 0h7v7h-7zm-6 14h6v7h-6zm-369 7h7v6h-7zm7 13h7v7h-7zm348 13h7v7h-7zm-341 7h6v7h-6zm334 7h7v6h-7zm-328 6h7v7h-7zm322 0h6v7h-6zm-315 14h7v7h-7zm308 0h7v7h-7zm-7 13h7v7h-7zm-288 7h7v7h-7zm282 0h6v7h-6zm-268 20h6v7h-6zm6 7h7v6h-7zm242 0h6v6h-6zm-235 6h7v7h-7zm228 0h7v7h-7zm-221 7h6v7h-6zm214 0h7v7h-7zm-208 7h7v6h-7zm201 0h7v6h-7zm-194 6h7v7h-7zm181 0h7v7h-7zm-7 7h7v7h-7zm-154 7h7v7h-7zm141 0h7v7h-7zm-127 7h6v6h-6zm114 0h6v6h-6zm-101 6h13v7h-13zm80 0h14v7h-14zm-53 7h40v7h-40z"/><path fill="#ffe280" d="M1262 902h6v7h-6zm-442 7h6v6h-6zm0 6h6v7h-6zm435 14h7v6h-7zm-429 13h7v7h-7zm422 13h7v7h-7zm-415 14h7v7h-7zm409 7h6v6h-6zm-402 20h6v6h-6zm395 0h7v6h-7zm-389 20h7v6h-7zm382 0h7v6h-7zm-6 13h6v7h-6zm-369 7h7v7h-7zm7 13h7v7h-7zm355 0h7v7h-7zm-7 14h7v6h-7zm-341 6h6v7h-6zm334 7h7v7h-7zm-328 7h7v6h-7zm7 13h7v7h-7zm308 0h7v7h-7zm-301 14h6v6h-6zm294 0h7v6h-7zm-288 6h7v7h-7zm282 0h6v7h-6zm-275 14h7v6h-7zm268 0h7v6h-7zm-261 6h6v7h-6zm254 0h7v7h-7zm-248 7h7v7h-7zm242 0h6v7h-6zm-7 7h7v6h-7zm-7 6h7v7h-7zm-7 7h7v7h-7zm-194 7h7v6h-7zm188 0h6v6h-6zm-181 6h7v7h-7zm7 7h6v7h-6zm154 0h6v7h-6zm-141 7h7v7h-7zm127 0h7v7h-7zm-114 7h14v6h-14zm101 0h7v6h-7zm-81 6h21v7h-21zm47 0h20v7h-20z"/><path fill="#ffe283" d="M1262 895h6v7h-6zm-442 7h6v7h-6zm435 20h7v7h-7zm-429 13h7v7h-7zm422 7h7v7h-7zm0 7h7v6h-7zm-415 13h7v7h-7zm409 7h6v7h-6zm-402 20h6v7h-6zm395 0h7v7h-7zm-389 20h7v7h-7zm382 0h7v7h-7zm-6 13h6v7h-6zm-369 7h7v7h-7zm7 14h7v6h-7zm355 0h7v6h-7zm-7 13h7v7h-7zm-341 7h6v6h-6zm334 6h7v7h-7zm-328 7h7v7h-7zm322 7h6v6h-6zm-315 6h7v7h-7zm308 0h7v7h-7zm-301 14h6v7h-6zm294 0h7v7h-7zm-281 20h7v7h-7zm268 0h7v7h-7zm-261 7h6v6h-6zm254 0h7v6h-7zm-6 6h6v7h-6zm-235 14h7v6h-7zm7 6h6v7h-6zm6 7h7v7h-7zm195 0h6v7h-6zm-7 7h7v6h-7zm-167 6h6v7h-6zm160 0h7v7h-7zm-154 7h7v7h-7zm141 0h7v7h-7zm-127 7h13v7h-13zm114 0h6v7h-6zm-94 7h13v6h-13zm67 0h20v6h-20zm-40 6h26v7h-26z"/><path fill="#ffe385" d="M1262 892h6v3h-6zm-442 3h6v7h-6zm435 14h7v6h-7zm0 6h7v7h-7zm-429 7h7v7h-7zm0 7h7v6h-7zm422 6h7v7h-7zm-415 20h7v7h-7zm409 0h6v7h-6zm0 7h6v7h-6zm-402 14h6v6h-6zm0 6h6v7h-6zm395 0h7v7h-7zm-7 14h7v6h-7zm-382 6h7v7h-7zm382 0h7v7h-7zm-6 14h6v6h-6zm-369 6h7v7h-7zm362 14h7v7h-7zm-7 13h7v7h-7zm-341 7h6v7h-6zm334 7h7v6h-7zm-328 6h7v7h-7zm322 7h6v7h-6zm-315 7h7v6h-7zm7 13h6v7h-6zm294 0h7v7h-7zm-288 14h7v6h-7zm282 0h6v6h-6zm-275 6h7v7h-7zm268 0h7v7h-7zm-255 20h7v7h-7zm7 7h7v7h-7zm228 0h7v7h-7zm-221 7h6v6h-6zm214 0h7v6h-7zm-208 6h7v7h-7zm201 0h7v7h-7zm-194 7h7v7h-7zm7 7h7v6h-7zm167 0h7v6h-7zm-154 6h7v7h-7zm148 0h6v7h-6zm-141 7h13v7h-13zm127 0h7v7h-7zm-107 7h7v7h-7zm87 0h14v7h-14zm-67 7h54v6h-54z"/><path fill="#ffe387" d="M820 892h6v3h-6zm435 10h7v7h-7zm-429 13h7v7h-7zm422 14h7v6h-7zm-415 13h7v7h-7zm0 7h7v6h-7zm409 0h6v6h-6zm-402 20h6v7h-6zm395 0h7v7h-7zm0 7h7v6h-7zm-7 13h7v7h-7zm-382 7h7v6h-7zm376 13h6v7h-6zm-369 7h7v6h-7zm362 13h7v7h-7zm-355 7h7v7h-7zm348 7h7v6h-7zm-341 6h6v7h-6zm334 7h7v7h-7zm-328 7h7v6h-7zm322 6h6v7h-6zm-315 7h7v7h-7zm308 7h7v6h-7zm-301 6h6v7h-6zm294 0h7v7h-7zm-288 14h7v7h-7zm282 0h6v7h-6zm-7 7h7v6h-7zm-261 13h6v7h-6zm254 0h7v7h-7zm-248 7h7v6h-7zm242 0h6v6h-6zm-7 6h7v7h-7zm-7 7h7v7h-7zm-7 7h7v6h-7zm-194 6h7v7h-7zm188 0h6v7h-6zm-181 7h7v7h-7zm174 0h7v7h-7zm-167 7h6v6h-6zm154 0h6v6h-6zm-141 6h7v7h-7zm127 0h14v7h-14zm-114 7h7v7h-7zm101 0h13v7h-13zm-87 7h20v7h-20zm60 0h20v7h-20z"/><path fill="#ffe48a" d="M1255 892h7v3h-7zm0 3h7v7h-7zm-429 14h7v6h-7zm422 6h7v7h-7zm0 7h7v7h-7zm-415 13h7v7h-7zm409 7h6v7h-6zm-402 20h6v7h-6zm395 0h7v7h-7zm-389 20h7v7h-7zm382 0h7v7h-7zm-382 7h7v7h-7zm376 13h6v7h-6zm-369 7h7v7h-7zm362 7h7v6h-7zm-355 6h7v7h-7zm355 0h7v7h-7zm-355 7h7v7h-7zm348 7h7v7h-7zm-341 7h6v6h-6zm334 6h7v7h-7zm-328 7h7v7h-7zm322 7h6v6h-6zm-7 13h7v7h-7zm-301 7h6v6h-6zm6 13h7v7h-7zm282 0h6v7h-6zm-275 14h7v6h-7zm7 6h6v7h-6zm254 0h7v7h-7zm-6 7h6v7h-6zm-7 7h7v6h-7zm-228 6h7v7h-7zm221 0h7v7h-7zm-214 7h6v7h-6zm207 0h7v7h-7zm-201 7h7v6h-7zm195 0h6v6h-6zm-7 6h7v7h-7zm-167 7h6v7h-6zm160 0h7v7h-7zm-154 7h7v6h-7zm141 0h7v6h-7zm-127 6h6v7h-6zm114 0h6v7h-6zm-101 7h13v7h-13zm80 0h14v7h-14zm-53 7h40v7h-40z"/><path fill="#ffe48c" d="M826 895h7v7h-7zm0 7h7v7h-7zm422 7h7v6h-7zm-415 20h7v6h-7zm409 0h6v6h-6zm0 6h6v7h-6zm-402 20h6v7h-6zm395 0h7v7h-7zm-389 21h7v6h-7zm382 0h7v6h-7zm-6 20h6v6h-6zm-369 6h7v7h-7zm362 7h7v7h-7zm-355 7h7v6h-7zm348 13h7v7h-7zm-341 7h6v7h-6zm334 7h7v6h-7zm-328 6h7v7h-7zm322 7h6v7h-6zm-315 13h7v7h-7zm308 0h7v7h-7zm-7 14h7v6h-7zm-288 6h7v7h-7zm282 0h6v7h-6zm-275 14h7v7h-7zm268 0h7v7h-7zm-261 7h6v6h-6zm254 0h7v6h-7zm-6 6h6v7h-6zm-242 7h7v7h-7zm7 7h7v6h-7zm7 6h6v7h-6zm6 7h7v7h-7zm7 7h7v6h-7zm181 0h7v6h-7zm-174 6h7v7h-7zm167 0h7v7h-7zm-154 7h7v7h-7zm148 0h6v7h-6zm-141 7h7v6h-7zm127 0h7v6h-7zm-114 6h14v7h-14zm94 0h14v7h-14zm-74 7h21v7h-21zm47 0h20v7h-20z"/><path fill="#ffe58f" d="M826 892h7v3h-7zm422 3h7v7h-7zm0 7h7v7h-7zm-415 13h7v7h-7zm0 7h7v7h-7zm409 0h6v7h-6zm-402 20h6v7h-6zm0 7h6v6h-6zm395 0h7v6h-7zm-389 20h7v7h-7zm382 0h7v7h-7zm-375 20h7v7h-7zm369 0h6v7h-6zm-369 7h7v6h-7zm362 6h7v7h-7zm-355 7h7v7h-7zm348 13h7v7h-7zm-341 7h6v7h-6zm334 7h7v7h-7zm-328 7h7v6h-7zm322 6h6v7h-6zm-315 14h7v6h-7zm308 0h7v6h-7zm-301 13h6v7h-6zm294 0h7v7h-7zm-288 7h7v6h-7zm282 0h6v6h-6zm-275 13h7v7h-7zm268 0h7v7h-7zm-7 7h7v7h-7zm-248 13h7v7h-7zm7 7h7v7h-7zm228 0h7v7h-7zm-221 7h6v6h-6zm214 0h7v6h-7zm-208 6h7v7h-7zm201 0h7v7h-7zm-194 7h7v7h-7zm188 0h6v7h-6zm-181 7h7v6h-7zm7 6h6v7h-6zm154 0h6v7h-6zm-141 7h7v7h-7zm127 0h14v7h-14zm-120 7h13v6h-13zm107 0h13v6h-13zm-87 6h13v7h-13zm67 0h13v7h-13zm-40 7h26v7h-26z"/><path fill="#ffe691" d="M1248 892h7v3h-7zm-415 17h7v6h-7zm409 6h6v7h-6zm-402 20h6v7h-6zm395 0h7v7h-7zm0 7h7v7h-7zm-7 13h7v7h-7zm-382 7h7v7h-7zm382 0h7v7h-7zm-6 14h6v6h-6zm-369 6h7v7h-7zm369 0h6v7h-6zm-7 14h7v6h-7zm-355 6h7v7h-7zm348 14h7v6h-7zm-341 6h6v7h-6zm334 7h7v7h-7zm-6 14h6v6h-6zm-315 13h7v7h-7zm308 0h7v7h-7zm-301 13h6v7h-6zm294 0h7v7h-7zm-281 20h7v7h-7zm268 0h7v7h-7zm-261 14h6v7h-6zm6 7h7v6h-7zm242 0h6v6h-6zm-7 6h7v7h-7zm-7 7h7v7h-7zm-7 7h7v6h-7zm-6 6h6v7h-6zm-7 7h7v7h-7zm-167 7h6v6h-6zm160 0h7v6h-7zm-154 6h7v7h-7zm141 0h7v7h-7zm-127 7h6v7h-6zm114 0h6v7h-6zm-101 7h13v6h-13zm87 0h7v6h-7zm-67 6h54v7h-54z"/><path fill="#ffe694" d="M833 895h7v7h-7zm0 7h7v7h-7zm409 0h6v7h-6zm0 7h6v6h-6zm-402 20h6v6h-6zm395 0h7v6h-7zm-7 20h7v6h-7zm-382 6h7v7h-7zm376 14h6v7h-6zm-369 7h7v6h-7zm362 13h7v7h-7zm-355 7h7v6h-7zm348 13h7v7h-7zm-341 7h6v6h-6zm334 6h7v7h-7zm-328 14h7v7h-7zm322 0h6v7h-6zm-315 13h7v7h-7zm308 0h7v7h-7zm-301 14h6v6h-6zm294 0h7v6h-7zm-288 13h7v7h-7zm282 0h6v7h-6zm-275 7h7v6h-7zm268 0h7v6h-7zm-261 13h6v7h-6zm254 0h7v7h-7zm-248 7h7v7h-7zm242 0h6v7h-6zm-7 7h7v6h-7zm-228 6h7v7h-7zm221 0h7v7h-7zm-214 7h6v7h-6zm207 0h7v7h-7zm-201 7h7v6h-7zm195 0h6v6h-6zm-188 6h7v7h-7zm181 0h7v7h-7zm-174 7h7v7h-7zm167 0h7v7h-7zm-154 7h7v6h-7zm148 0h6v6h-6zm-141 6h7v7h-7zm127 0h7v7h-7zm-114 7h14v7h-14zm101 0h7v7h-7zm-81 7h14v6h-14zm54 0h20v6h-20z"/><path fill="#ffe796" d="M833 892h7v3h-7zm409 3h6v7h-6zm-402 20h6v7h-6zm395 0h7v7h-7zm-395 7h6v7h-6zm395 0h7v7h-7zm-389 20h7v7h-7zm382 0h7v7h-7zm-382 7h7v6h-7zm376 13h6v7h-6zm-369 7h7v7h-7zm362 13h7v7h-7zm-355 7h7v7h-7zm348 7h7v6h-7zm0 6h7v7h-7zm-341 7h6v7h-6zm334 7h7v6h-7zm-328 13h7v7h-7zm322 0h6v7h-6zm-315 14h7v6h-7zm308 0h7v6h-7zm-301 13h6v7h-6zm294 0h7v7h-7zm-288 13h7v7h-7zm282 0h6v7h-6zm-7 7h7v7h-7zm-261 13h6v7h-6zm254 0h7v7h-7zm-6 7h6v7h-6zm-7 7h7v7h-7zm-228 7h7v6h-7zm7 6h6v7h-6zm6 7h7v7h-7zm7 7h7v6h-7zm7 6h7v7h-7zm167 0h7v7h-7zm-160 7h6v7h-6zm154 0h6v7h-6zm-141 7h7v6h-7zm127 0h14v6h-14zm-120 6h13v7h-13zm107 0h13v7h-13zm-87 7h13v7h-13zm67 0h20v7h-20zm-47 7h40v6h-40z"/><path fill="#ffe799" d="M1242 892h6v3h-6zm-402 17h6v6h-6zm395 0h7v6h-7zm-389 26h7v7h-7zm382 0h7v7h-7zm-6 20h6v7h-6zm-369 7h7v7h-7zm362 14h7v6h-7zm-355 6h7v7h-7zm348 7h7v7h-7zm-341 13h6v7h-6zm334 7h7v7h-7zm-328 7h7v6h-7zm0 6h7v7h-7zm322 0h6v7h-6zm-315 14h7v7h-7zm308 0h7v7h-7zm-301 13h6v7h-6zm294 0h7v7h-7zm-288 14h7v6h-7zm282 0h6v6h-6zm-7 6h7v7h-7zm-268 7h7v7h-7zm7 7h6v6h-6zm254 0h7v6h-7zm-6 6h6v7h-6zm-242 7h7v7h-7zm7 7h7v7h-7zm7 7h6v6h-6zm214 0h7v6h-7zm-7 6h7v7h-7zm-6 7h6v7h-6zm-181 7h7v6h-7zm174 0h7v6h-7zm-167 6h6v7h-6zm154 0h6v7h-6zm-148 7h7v7h-7zm141 0h7v7h-7zm-127 7h6v6h-6zm114 0h6v6h-6zm-101 6h7v7h-7zm87 0h7v7h-7zm-67 7h54v7h-54z"/><path fill="#ffe89b" d="M840 902h6v7h-6zm395 0h7v7h-7zm-7 20h7v7h-7zm-382 7h7v6h-7zm382 0h7v6h-7zm-6 13h6v7h-6zm-369 7h7v6h-7zm369 0h6v6h-6zm-369 6h7v7h-7zm362 7h7v7h-7zm0 7h7v7h-7zm-355 7h7v6h-7zm348 6h7v7h-7zm-341 14h6v6h-6zm334 6h7v7h-7zm-328 7h7v7h-7zm322 7h6v6h-6zm-315 13h7v7h-7zm308 0h7v7h-7zm-301 14h6v6h-6zm294 0h7v6h-7zm-288 13h7v7h-7zm282 0h6v7h-6zm-7 7h7v6h-7zm-268 6h7v7h-7zm7 7h6v7h-6zm254 0h7v7h-7zm-6 7h6v6h-6zm-242 6h7v7h-7zm7 7h7v7h-7zm228 0h7v7h-7zm-7 7h7v7h-7zm-7 7h7v6h-7zm-201 6h7v7h-7zm195 0h6v7h-6zm-188 7h7v7h-7zm181 0h7v7h-7zm-7 7h7v6h-7zm-154 6h7v7h-7zm141 0h7v7h-7zm-134 7h7v7h-7zm127 0h7v7h-7zm-114 7h14v6h-14zm94 0h14v6h-14zm-80 6h20v7h-20zm60 0h20v7h-20z"/><path fill="#ffe89d" d="M840 892h6v3h-6zm395 0h7v3h-7zm-395 3h6v7h-6zm395 0h7v7h-7zm-389 20h7v7h-7zm382 0h7v7h-7zm-382 7h7v7h-7zm376 13h6v7h-6zm-369 7h7v7h-7zm362 13h7v7h-7zm-355 14h7v7h-7zm348 7h7v6h-7zm-341 13h6v7h-6zm334 0h7v7h-7zm0 7h7v6h-7zm-328 6h7v7h-7zm322 7h6v7h-6zm-315 13h7v7h-7zm308 0h7v7h-7zm-301 14h6v7h-6zm294 0h7v7h-7zm-288 13h7v7h-7zm282 0h6v7h-6zm-275 14h7v6h-7zm261 6h7v7h-7zm-248 14h7v6h-7zm235 6h7v7h-7zm-7 7h7v7h-7zm-214 7h6v7h-6zm207 0h7v7h-7zm-201 7h7v6h-7zm195 0h6v6h-6zm-188 6h7v7h-7zm181 0h7v7h-7zm-174 7h7v7h-7zm167 0h7v7h-7zm-160 7h6v6h-6zm154 0h6v6h-6zm-141 6h7v7h-7zm127 0h7v7h-7zm-120 7h13v7h-13zm107 0h13v7h-13zm-87 7h13v6h-13zm67 0h13v6h-13zm-47 6h40v7h-40z"/><path fill="#ffe9a0" d="M1228 902h7v7h-7zm-382 7h7v6h-7zm382 0h7v6h-7zm-6 20h6v6h-6zm-369 6h7v7h-7zm362 14h7v6h-7zm-355 6h7v7h-7zm0 7h7v7h-7zm348 7h7v7h-7zm-341 7h6v6h-6zm0 6h6v7h-6zm334 0h7v7h-7zm-328 14h7v6h-7zm322 6h6v7h-6zm-315 14h7v6h-7zm308 0h7v6h-7zm-301 13h6v7h-6zm294 0h7v7h-7zm-288 14h7v6h-7zm282 0h6v6h-6zm-275 13h7v7h-7zm268 0h7v7h-7zm-7 7h7v6h-7zm-254 6h6v7h-6zm6 7h7v7h-7zm242 0h6v7h-6zm-7 7h7v6h-7zm-228 6h7v7h-7zm221 0h7v7h-7zm-214 7h6v7h-6zm207 0h7v7h-7zm-201 7h7v7h-7zm7 7h7v6h-7zm181 0h7v6h-7zm-174 6h7v7h-7zm167 0h7v7h-7zm-160 7h6v7h-6zm154 0h6v7h-6zm-148 7h14v6h-14zm141 0h7v6h-7zm-127 6h6v7h-6zm114 0h6v7h-6zm-101 7h13v7h-13zm80 0h14v7h-14zm-60 7h54v6h-54z"/><path fill="#ffeaa2" d="M846 895h7v7h-7zm382 0h7v7h-7zm-382 7h7v7h-7zm376 13h6v7h-6zm-369 7h7v7h-7zm369 0h6v7h-6zm-369 7h7v6h-7zm362 13h7v7h-7zm-355 7h7v6h-7zm348 6h7v7h-7zm0 7h7v7h-7zm-341 7h6v7h-6zm334 7h7v6h-7zm-328 13h7v7h-7zm322 7h6v6h-6zm-315 13h7v7h-7zm308 0h7v7h-7zm-301 13h6v7h-6zm294 0h7v7h-7zm-288 14h7v7h-7zm282 0h6v7h-6zm-275 13h7v7h-7zm268 0h7v7h-7zm-7 7h7v7h-7zm-254 7h6v6h-6zm6 6h7v7h-7zm242 0h6v7h-6zm-7 7h7v7h-7zm-228 7h7v6h-7zm221 0h7v6h-7zm-214 6h6v7h-6zm6 7h7v7h-7zm7 7h7v7h-7zm188 0h6v7h-6zm-181 7h7v6h-7zm7 6h6v7h-6zm154 0h6v7h-6zm-148 7h7v7h-7zm141 0h7v7h-7zm-127 7h6v6h-6zm114 0h13v6h-13zm-108 6h14v7h-14zm94 0h14v7h-14zm-74 7h14v7h-14zm47 0h20v7h-20z"/><path fill="#ffeaa5" d="M846 892h7v3h-7zm382 0h7v3h-7zm-6 17h6v6h-6zm-369 6h7v7h-7zm362 14h7v6h-7zm0 6h7v7h-7zm-355 7h7v7h-7zm348 7h7v6h-7zm-341 13h6v7h-6zm334 7h7v7h-7zm-328 13h7v7h-7zm322 0h6v7h-6zm0 7h6v7h-6zm-315 13h7v7h-7zm308 0h7v7h-7zm-301 14h6v6h-6zm294 0h7v6h-7zm-288 13h7v7h-7zm282 0h6v7h-6zm-275 14h7v6h-7zm268 0h7v6h-7zm-7 6h7v7h-7zm-254 7h6v7h-6zm6 7h7v6h-7zm242 0h6v6h-6zm-7 6h7v7h-7zm-228 7h7v7h-7zm7 7h6v6h-6zm207 6h7v7h-7zm-6 7h6v7h-6zm-7 7h7v7h-7zm-167 7h6v6h-6zm160 0h7v6h-7zm-154 6h7v7h-7zm141 0h7v7h-7zm-134 7h7v7h-7zm127 0h7v7h-7zm-114 7h7v6h-7zm101 0h7v6h-7zm-87 6h13v7h-13zm67 0h13v7h-13zm-47 7h33v7h-33z"/><path fill="#ffeba7" d="M1222 895h6v7h-6zm0 7h6v7h-6zm-369 7h7v6h-7zm362 13h7v7h-7zm-355 7h7v6h-7zm0 6h7v7h-7zm348 7h7v7h-7zm-341 13h6v7h-6zm334 7h7v7h-7zm-328 14h7v6h-7zm322 0h6v6h-6zm-315 13h7v7h-7zm0 7h7v6h-7zm308 0h7v6h-7zm-301 13h6v7h-6zm294 0h7v7h-7zm-288 13h7v7h-7zm282 0h6v7h-6zm-275 14h7v7h-7zm268 0h7v7h-7zm-7 7h7v6h-7zm-254 6h6v7h-6zm248 7h6v7h-6zm-7 7h7v6h-7zm-228 6h7v7h-7zm7 7h6v7h-6zm214 0h7v7h-7zm-7 7h7v6h-7zm-201 6h7v7h-7zm195 0h6v7h-6zm-188 7h7v7h-7zm181 0h7v7h-7zm-174 7h7v7h-7zm167 0h7v7h-7zm-6 7h6v6h-6zm-141 6h7v7h-7zm127 0h7v7h-7zm-120 7h13v7h-13zm107 0h13v7h-13zm-94 7h13v6h-13zm80 0h14v6h-14zm-60 6h54v7h-54z"/><path fill="#ffebaa" d="M1222 892h6v3h-6zm-369 3h7v7h-7zm0 7h7v7h-7zm362 7h7v6h-7zm0 6h7v7h-7zm-355 7h7v7h-7zm348 13h7v7h-7zm-341 7h6v7h-6zm0 7h6v6h-6zm334 0h7v6h-7zm0 6h7v7h-7zm-328 14h7v7h-7zm322 0h6v7h-6zm-315 13h7v7h-7zm308 0h7v7h-7zm0 7h7v7h-7zm-301 13h6v7h-6zm294 0h7v7h-7zm-288 14h7v6h-7zm282 0h6v6h-6zm-275 13h7v7h-7zm268 0h7v7h-7zm-7 7h7v7h-7zm-254 7h6v6h-6zm248 6h6v7h-6zm-242 7h7v7h-7zm235 0h7v7h-7zm-228 7h7v6h-7zm221 6h7v7h-7zm-7 7h7v7h-7zm-201 7h7v6h-7zm195 0h6v6h-6zm-188 6h7v7h-7zm181 0h7v7h-7zm-174 7h7v7h-7zm167 0h7v7h-7zm-160 7h6v7h-6zm154 0h6v7h-6zm-148 7h14v6h-14zm134 0h14v6h-14zm-120 6h6v7h-6zm114 0h6v7h-6zm-101 7h7v7h-7zm87 0h7v7h-7zm-74 7h27v6h-27zm41 0h26v6h-26z"/><path fill="#ffecac" d="M853 892h7v3h-7zm362 10h7v7h-7zm-355 13h7v7h-7zm348 7h7v7h-7zm0 7h7v6h-7zm-341 6h6v7h-6zm334 7h7v7h-7zm-328 13h7v7h-7zm0 7h7v7h-7zm322 0h6v7h-6zm-315 14h7v6h-7zm308 0h7v6h-7zm-301 20h6v6h-6zm294 0h7v6h-7zm-288 13h7v7h-7zm282 0h6v7h-6zm-275 13h7v7h-7zm268 0h7v7h-7zm-7 7h7v7h-7zm-254 7h6v7h-6zm248 7h6v6h-6zm-242 6h7v7h-7zm235 0h7v7h-7zm-228 7h7v7h-7zm221 7h7v6h-7zm-214 6h6v7h-6zm207 0h7v7h-7zm-201 7h7v7h-7zm195 0h6v7h-6zm-188 7h7v6h-7zm181 0h7v6h-7zm-174 6h7v7h-7zm167 0h7v7h-7zm-160 7h6v7h-6zm154 0h6v7h-6zm-148 7h7v7h-7zm141 0h7v7h-7zm-127 7h6v6h-6zm114 0h6v6h-6zm-108 6h14v7h-14zm94 0h14v7h-14zm-80 7h20v7h-20zm60 0h20v7h-20zm-27 7h14v6h-14z"/><path fill="#ffecae" d="M1215 892h7v3h-7zm0 3h7v7h-7zm-355 7h7v7h-7zm0 7h7v6h-7zm348 6h7v7h-7zm-341 14h6v6h-6zm334 6h7v7h-7zm-328 14h7v6h-7zm322 6h6v7h-6zm-315 14h7v7h-7zm308 0h7v7h-7zm-7 13h7v7h-7zm-294 7h6v7h-6zm294 0h7v7h-7zm-288 13h7v7h-7zm282 0h6v7h-6zm-7 7h7v7h-7zm-268 7h7v6h-7zm268 0h7v6h-7zm-7 6h7v7h-7zm-254 7h6v7h-6zm248 7h6v7h-6zm-242 7h7v6h-7zm235 0h7v6h-7zm-228 6h7v7h-7zm221 7h7v7h-7zm-214 7h6v6h-6zm207 0h7v6h-7zm-201 6h7v7h-7zm195 0h6v7h-6zm-188 7h7v7h-7zm181 0h7v7h-7zm-174 7h7v6h-7zm167 0h7v6h-7zm-160 6h6v7h-6zm154 0h6v7h-6zm-148 7h7v7h-7zm141 0h7v7h-7zm-134 7h7v7h-7zm121 0h13v7h-13zm-108 7h7v6h-7zm101 0h7v6h-7zm-87 6h13v7h-13zm67 0h13v7h-13zm-47 7h40v7h-40z"/><path fill="#ffedb1" d="M860 895h7v7h-7zm348 7h7v7h-7zm0 7h7v6h-7zm-341 6h6v7h-6zm0 7h6v7h-6zm334 0h7v7h-7zm0 7h7v6h-7zm-328 13h7v7h-7zm322 0h6v7h-6zm0 7h6v6h-6zm-315 13h7v7h-7zm308 0h7v7h-7zm-301 14h6v6h-6zm294 0h7v6h-7zm-294 6h6v7h-6zm288 7h6v7h-6zm-282 7h7v6h-7zm282 0h6v6h-6zm-7 6h7v7h-7zm-268 7h7v7h-7zm261 7h7v6h-7zm-254 6h6v7h-6zm248 7h6v7h-6zm-242 7h7v7h-7zm235 0h7v7h-7zm-228 7h7v6h-7zm221 6h7v7h-7zm-214 7h6v7h-6zm207 0h7v7h-7zm-201 7h7v6h-7zm195 0h6v6h-6zm-188 6h7v7h-7zm7 7h7v7h-7zm7 7h6v6h-6zm154 0h6v6h-6zm-148 6h7v7h-7zm141 0h7v7h-7zm-134 7h7v7h-7zm127 0h7v7h-7zm-120 7h13v7h-13zm107 0h7v7h-7zm-94 7h13v6h-13zm80 0h14v6h-14zm-60 6h54v7h-54z"/><path fill="#ffedb3" d="M860 892h7v3h-7zm348 3h7v7h-7zm-341 14h6v6h-6zm334 6h7v7h-7zm-328 14h7v6h-7zm0 6h7v7h-7zm322 0h6v7h-6zm-315 14h7v6h-7zm0 6h7v7h-7zm308 0h7v7h-7zm-301 14h6v7h-6zm294 0h7v7h-7zm-6 13h6v7h-6zm-282 7h7v7h-7zm275 7h7v6h-7zm-268 6h7v7h-7zm261 7h7v7h-7zm-254 7h6v6h-6zm248 6h6v7h-6zm-242 7h7v7h-7zm235 0h7v7h-7zm-228 7h7v7h-7zm221 7h7v6h-7zm-214 6h6v7h-6zm207 0h7v7h-7zm-201 7h7v7h-7zm7 7h7v6h-7zm181 6h7v7h-7zm-7 7h7v7h-7zm-154 7h7v6h-7zm141 0h7v6h-7zm-134 6h7v7h-7zm127 0h7v7h-7zm-120 7h13v7h-13zm107 0h13v7h-13zm-94 7h13v7h-13zm80 0h14v7h-14zm-67 7h67v6h-67z"/><path fill="#ffeeb6" d="M1208 892h7v3h-7zm-341 10h6v7h-6zm334 7h7v6h-7zm-328 13h7v7h-7zm322 7h6v6h-6zm-315 13h7v7h-7zm308 0h7v7h-7zm0 7h7v6h-7zm-301 13h6v7h-6zm294 0h7v7h-7zm-288 14h7v6h-7zm282 0h6v6h-6zm-282 6h7v7h-7zm275 7h7v7h-7zm-268 7h7v6h-7zm261 6h7v7h-7zm-254 7h6v7h-6zm248 7h6v6h-6zm-242 6h7v7h-7zm235 0h7v7h-7zm-228 7h7v7h-7zm221 7h7v7h-7zm-214 7h6v6h-6zm207 0h7v6h-7zm-201 6h7v7h-7zm7 7h7v7h-7zm188 0h6v7h-6zm-7 7h7v6h-7zm-174 6h7v7h-7zm167 0h7v7h-7zm-160 7h6v7h-6zm154 0h6v7h-6zm-141 7h7v6h-7zm127 0h7v6h-7zm-120 6h6v7h-6zm114 0h6v7h-6zm-101 7h7v7h-7zm87 0h7v7h-7zm-74 7h21v7h-21zm47 0h20v7h-20z"/><path fill="#ffefb8" d="M867 892h6v3h-6zm0 3h6v7h-6zm334 0h7v7h-7zm0 7h7v7h-7zm-328 13h7v7h-7zm322 0h6v7h-6zm0 7h6v7h-6zm-315 13h7v7h-7zm308 0h7v7h-7zm-7 14h7v6h-7zm-294 6h6v7h-6zm294 0h7v7h-7zm-288 14h7v7h-7zm282 0h6v7h-6zm-7 13h7v7h-7zm-268 7h7v7h-7zm261 7h7v6h-7zm-254 6h6v7h-6zm248 7h6v7h-6zm-242 7h7v6h-7zm235 0h7v6h-7zm-228 6h7v7h-7zm221 7h7v7h-7zm-214 7h6v7h-6zm207 0h7v7h-7zm-201 7h7v6h-7zm195 6h6v7h-6zm-7 7h7v7h-7zm-174 7h7v6h-7zm167 0h7v6h-7zm-160 6h6v7h-6zm154 0h6v7h-6zm-148 7h14v7h-14zm134 0h14v7h-14zm-120 7h6v6h-6zm114 0h6v6h-6zm-108 6h14v7h-14zm94 0h14v7h-14zm-80 7h20v7h-20zm60 0h20v7h-20zm-33 7h26v7h-26z"/><path fill="#ffefbb" d="M1201 892h7v3h-7zm-328 10h7v7h-7zm0 7h7v6h-7zm322 0h6v6h-6zm-315 13h7v7h-7zm0 7h7v6h-7zm308 0h7v6h-7zm-301 13h6v7h-6zm294 0h7v7h-7zm-294 7h6v6h-6zm6 13h7v7h-7zm282 0h6v7h-6zm-275 14h7v6h-7zm268 0h7v6h-7zm-268 6h7v7h-7zm261 7h7v7h-7zm-254 7h6v6h-6zm248 6h6v7h-6zm-242 7h7v7h-7zm235 0h7v7h-7zm-228 7h7v6h-7zm221 6h7v7h-7zm-214 7h6v7h-6zm207 0h7v7h-7zm-201 7h7v7h-7zm195 7h6v6h-6zm-188 6h7v7h-7zm181 0h7v7h-7zm-174 7h7v7h-7zm167 0h7v7h-7zm-160 7h6v6h-6zm154 0h6v6h-6zm-148 6h7v7h-7zm141 0h7v7h-7zm-127 7h6v7h-6zm114 0h6v7h-6zm-108 7h14v6h-14zm94 0h14v6h-14zm-80 6h13v7h-13zm67 0h13v7h-13zm-47 7h40v7h-40z"/><path fill="#fff0bd" d="M873 895h7v7h-7zm322 0h6v7h-6zm0 7h6v7h-6zm-315 13h7v7h-7zm308 0h7v7h-7zm0 7h7v7h-7zm-301 13h6v7h-6zm294 0h7v7h-7zm-6 14h6v6h-6zm-282 6h7v7h-7zm282 0h6v7h-6zm-275 14h7v7h-7zm268 0h7v7h-7zm-261 13h6v7h-6zm254 0h7v7h-7zm-254 7h6v7h-6zm248 0h6v7h-6zm-242 7h7v6h-7zm242 0h6v6h-6zm-242 6h7v7h-7zm235 0h7v7h-7zm-228 7h7v7h-7zm221 7h7v6h-7zm-214 6h6v7h-6zm207 0h7v7h-7zm-201 7h7v7h-7zm195 7h6v7h-6zm-188 7h7v6h-7zm181 0h7v6h-7zm-174 6h7v7h-7zm167 0h7v7h-7zm-160 7h6v7h-6zm154 0h6v7h-6zm-148 7h7v6h-7zm141 0h7v6h-7zm-134 6h13v7h-13zm121 0h13v7h-13zm-108 7h7v7h-7zm101 0h7v7h-7zm-87 7h13v6h-13zm67 0h13v6h-13zm-54 6h54v7h-54z"/><path fill="#fff0c0" d="M873 892h7v3h-7zm322 0h6v3h-6zm-315 17h7v6h-7zm308 0h7v6h-7zm-7 13h7v7h-7zm-294 7h6v6h-6zm294 0h7v6h-7zm-6 13h6v7h-6zm-282 7h7v6h-7zm275 6h7v7h-7zm-268 7h7v7h-7zm268 0h7v7h-7zm-7 7h7v7h-7zm-254 7h6v6h-6zm254 0h7v6h-7zm-6 6h6v7h-6zm-242 7h7v7h-7zm235 7h7v6h-7zm-228 6h7v7h-7zm221 7h7v7h-7zm-214 7h6v6h-6zm207 0h7v6h-7zm-201 6h7v7h-7zm195 7h6v7h-6zm-188 7h7v7h-7zm181 0h7v7h-7zm-174 7h7v6h-7zm167 0h7v6h-7zm-160 6h6v7h-6zm154 0h6v7h-6zm-148 7h7v7h-7zm141 0h7v7h-7zm-134 7h7v6h-7zm121 0h13v6h-13zm-108 6h7v7h-7zm101 0h7v7h-7zm-94 7h13v7h-13zm80 0h14v7h-14zm-60 7h54v6h-54z"/><path fill="#fff1c2" d="M880 895h7v7h-7zm308 0h7v7h-7zm-308 7h7v7h-7zm308 0h7v7h-7zm-301 13h6v7h-6zm294 0h7v7h-7zm-294 7h6v7h-6zm6 13h7v7h-7zm282 0h6v7h-6zm-282 7h7v7h-7zm275 7h7v6h-7zm-268 6h7v7h-7zm261 7h7v7h-7zm-254 7h6v7h-6zm248 7h6v6h-6zm-242 6h7v7h-7zm235 7h7v7h-7zm-228 7h7v6h-7zm221 6h7v7h-7zm-214 7h6v7h-6zm207 0h7v7h-7zm-201 7h7v6h-7zm195 6h6v7h-6zm-188 7h7v7h-7zm181 0h7v7h-7zm-174 7h7v7h-7zm167 0h7v7h-7zm-160 7h6v6h-6zm154 0h6v6h-6zm-148 6h7v7h-7zm141 0h7v7h-7zm-134 7h7v7h-7zm127 0h7v7h-7zm-120 7h13v6h-13zm107 0h7v6h-7zm-94 6h13v7h-13zm80 0h14v7h-14zm-67 7h67v7h-67z"/><path fill="#fff1c4" d="M880 892h7v3h-7zm308 0h7v3h-7zm-301 17h6v6h-6zm294 0h7v6h-7zm-6 13h6v7h-6zm-282 7h7v6h-7zm282 0h6v6h-6zm-275 13h7v7h-7zm268 0h7v7h-7zm-268 7h7v6h-7zm261 6h7v7h-7zm-254 7h6v7h-6zm248 7h6v7h-6zm-242 7h7v6h-7zm235 6h7v7h-7zm-228 7h7v7h-7zm221 0h7v7h-7zm0 7h7v6h-7zm-214 6h6v7h-6zm207 0h7v7h-7zm-201 7h7v7h-7zm195 0h6v7h-6zm0 7h6v6h-6zm-188 6h7v7h-7zm181 0h7v7h-7zm-174 7h7v7h-7zm167 0h7v7h-7zm-160 7h6v7h-6zm154 0h6v7h-6zm-148 7h7v6h-7zm141 0h7v6h-7zm-134 6h7v7h-7zm127 0h7v7h-7zm-120 7h13v7h-13zm107 0h13v7h-13zm-94 7h13v6h-13zm80 0h14v6h-14zm-67 6h21v7h-21zm41 0h26v7h-26z"/><path fill="#fff2c7" d="M1181 895h7v7h-7zm-294 7h6v7h-6zm294 0h7v7h-7zm-6 13h6v7h-6zm-282 7h7v7h-7zm275 7h7v6h-7zm-268 6h7v7h-7zm268 0h7v7h-7zm-7 14h7v6h-7zm-254 6h6v7h-6zm248 7h6v7h-6zm-242 7h7v7h-7zm235 7h7v6h-7zm-228 6h7v7h-7zm221 0h7v7h-7zm-214 7h6v7h-6zm0 7h6v6h-6zm207 0h7v6h-7zm-201 6h7v7h-7zm195 0h6v7h-6zm-188 14h7v6h-7zm181 0h7v6h-7zm-174 6h7v7h-7zm167 0h7v7h-7zm-160 7h6v7h-6zm154 0h6v7h-6zm-148 7h7v7h-7zm141 0h7v7h-7zm-134 7h7v6h-7zm127 0h7v6h-7zm-120 6h13v7h-13zm107 0h13v7h-13zm-94 7h13v7h-13zm80 0h14v7h-14zm-67 7h21v6h-21zm47 0h20v6h-20zm-26 6h20v7h-20z"/><path fill="#fff3c9" d="M887 892h6v3h-6zm294 0h7v3h-7zm-294 3h6v7h-6zm288 7h6v7h-6zm-282 7h7v6h-7zm282 0h6v6h-6zm-282 6h7v7h-7zm275 7h7v7h-7zm-268 7h7v6h-7zm261 6h7v7h-7zm-254 7h6v7h-6zm254 0h7v7h-7zm-254 7h6v6h-6zm248 0h6v6h-6zm0 6h6v7h-6zm-242 7h7v7h-7zm235 0h7v7h-7zm0 7h7v7h-7zm-228 7h7v6h-7zm221 0h7v6h-7zm-214 6h6v7h-6zm207 7h7v7h-7zm-201 7h7v6h-7zm195 0h6v6h-6zm-188 6h7v7h-7zm0 7h7v7h-7zm181 0h7v7h-7zm-174 7h7v6h-7zm167 0h7v6h-7zm-160 6h6v7h-6zm154 0h6v7h-6zm-148 7h7v7h-7zm141 0h7v7h-7zm-134 7h7v7h-7zm127 0h7v7h-7zm-120 7h13v6h-13zm107 0h13v6h-13zm-94 6h7v7h-7zm80 0h14v7h-14zm-67 7h14v7h-14zm47 0h20v7h-20zm-26 7h26v6h-26z"/><path fill="#fff3cc" d="M1175 895h6v7h-6zm-282 7h7v7h-7zm7 13h7v7h-7zm268 0h7v7h-7zm-268 7h7v7h-7zm261 7h7v6h-7zm-254 6h6v7h-6zm248 7h6v7h-6zm-242 7h7v6h-7zm0 6h7v7h-7zm235 0h7v7h-7zm-228 7h7v7h-7zm0 7h7v7h-7zm221 0h7v7h-7zm-214 7h6v6h-6zm207 6h7v7h-7zm-201 7h7v7h-7zm195 0h6v7h-6zm-188 7h7v6h-7zm181 0h7v6h-7zm0 6h7v7h-7zm-174 7h7v7h-7zm167 0h7v7h-7zm-160 7h6v6h-6zm154 0h6v6h-6zm-148 6h7v7h-7zm141 0h7v7h-7zm-134 7h7v7h-7zm127 0h7v7h-7zm-120 7h13v7h-13zm107 0h13v7h-13zm-94 7h7v6h-7zm80 0h14v6h-14zm-73 6h20v7h-20zm60 0h13v7h-13zm-40 7h33v7h-33z"/><path fill="#fff4ce" d="M893 892h7v3h-7zm282 0h6v3h-6zm-282 3h7v7h-7zm275 7h7v7h-7zm-268 7h7v6h-7zm268 0h7v6h-7zm-7 13h7v7h-7zm-254 7h6v6h-6zm248 6h6v7h-6zm-242 7h7v7h-7zm235 7h7v6h-7zm-228 6h7v7h-7zm221 7h7v7h-7zm-214 7h6v7h-6zm207 0h7v7h-7zm0 7h7v6h-7zm-201 6h7v7h-7zm195 0h6v7h-6zm-188 7h7v7h-7zm181 0h7v7h-7zm-174 13h7v7h-7zm167 0h7v7h-7zm-160 7h6v7h-6zm154 0h6v7h-6zm-148 7h7v6h-7zm141 0h7v6h-7zm-134 6h7v7h-7zm127 0h7v7h-7zm-120 7h13v7h-13zm107 0h13v7h-13zm-94 7h7v7h-7zm80 0h14v7h-14zm-73 7h20v6h-20zm60 0h13v6h-13zm-40 6h40v7h-40z"/><path fill="#fff4d1" d="M1168 895h7v7h-7zm-268 7h7v7h-7zm261 7h7v6h-7zm-254 6h6v7h-6zm254 0h7v7h-7zm-254 7h6v7h-6zm248 0h6v7h-6zm0 7h6v6h-6zm-242 6h7v7h-7zm235 7h7v7h-7zm-228 7h7v6h-7zm221 0h7v6h-7zm0 6h7v7h-7zm-214 7h6v7h-6zm207 0h7v7h-7zm-201 7h7v7h-7zm0 7h7v6h-7zm195 0h6v6h-6zm-188 6h7v7h-7zm181 0h7v7h-7zm-174 7h7v7h-7zm167 0h7v7h-7zm-167 7h7v6h-7zm167 0h7v6h-7zm-160 6h6v7h-6zm154 0h6v7h-6zm-148 7h7v7h-7zm141 0h7v7h-7zm-134 7h7v6h-7zm127 0h7v6h-7zm-120 6h13v7h-13zm107 0h13v7h-13zm-94 7h7v7h-7zm80 0h14v7h-14zm-73 7h20v7h-20zm60 0h13v7h-13zm-40 7h40v6h-40z"/><path fill="#fff5d3" d="M900 892h7v3h-7zm268 0h7v3h-7zm-268 3h7v7h-7zm261 7h7v7h-7zm-254 7h6v6h-6zm248 6h6v7h-6zm-242 7h7v7h-7zm0 7h7v6h-7zm235 0h7v6h-7zm-228 6h7v7h-7zm228 0h7v7h-7zm-228 7h7v7h-7zm221 0h7v7h-7zm-214 7h6v6h-6zm0 6h6v7h-6zm207 0h7v7h-7zm-201 7h7v7h-7zm195 7h6v7h-6zm-188 7h7v6h-7zm181 0h7v6h-7zm-174 6h7v7h-7zm167 0h7v7h-7zm-160 14h6v6h-6zm154 0h6v6h-6zm-148 6h7v7h-7zm141 0h7v7h-7zm-134 7h7v7h-7zm121 0h13v7h-13zm-114 7h13v6h-13zm107 0h13v6h-13zm-94 6h7v7h-7zm80 0h14v7h-14zm-73 7h20v7h-20zm60 0h13v7h-13zm-40 7h40v7h-40z"/><path fill="#fff5d6" d="M1161 892h7v3h-7zm-254 3h6v7h-6zm254 0h7v7h-7zm-254 7h6v7h-6zm248 7h6v6h-6zm-242 6h7v7h-7zm235 7h7v7h-7zm-228 7h7v6h-7zm221 6h7v7h-7zm-214 7h6v7h-6zm207 7h7v6h-7zm-201 6h7v7h-7zm195 0h6v7h-6zm0 7h6v7h-6zm-188 7h7v7h-7zm181 0h7v7h-7zm-174 7h7v6h-7zm167 0h7v6h-7zm-160 6h6v7h-6zm154 0h6v7h-6zm-154 7h6v7h-6zm154 0h6v7h-6zm-148 7h7v6h-7zm141 0h7v6h-7zm-134 6h7v7h-7zm121 0h13v7h-13zm-114 7h13v7h-13zm107 0h7v7h-7zm-94 7h7v6h-7zm80 0h14v6h-14zm-73 6h20v7h-20zm60 0h13v7h-13zm-40 7h40v7h-40z"/><path fill="#fff6d8" d="M907 892h6v3h-6zm248 3h6v7h-6zm-242 7h7v7h-7zm242 0h6v7h-6zm-242 7h7v6h-7zm235 0h7v6h-7zm0 6h7v7h-7zm-228 7h7v7h-7zm221 0h7v7h-7zm0 7h7v6h-7zm-214 6h6v7h-6zm207 0h7v7h-7zm0 7h7v7h-7zm-201 7h7v6h-7zm195 0h6v6h-6zm-188 6h7v7h-7zm0 7h7v7h-7zm181 0h7v7h-7zm-174 7h7v7h-7zm167 0h7v7h-7zm-160 7h6v6h-6zm154 0h6v6h-6zm-148 6h7v7h-7zm141 0h7v7h-7zm-141 7h7v7h-7zm134 0h14v7h-14zm-127 7h13v6h-13zm121 0h13v6h-13zm-114 6h13v7h-13zm107 0h7v7h-7zm-94 7h7v7h-7zm80 0h14v7h-14zm-73 7h20v6h-20zm60 0h13v6h-13zm-40 6h40v7h-40z"/><path fill="#fff7da" d="M1155 892h6v3h-6zm-242 3h7v7h-7zm235 7h7v7h-7zm-228 7h7v6h-7zm0 6h7v7h-7zm221 0h7v7h-7zm-214 14h6v6h-6zm207 0h7v6h-7zm-201 6h7v7h-7zm0 7h7v7h-7zm195 0h6v7h-6zm-188 7h7v6h-7zm181 0h7v6h-7zm0 6h7v7h-7zm-174 7h7v7h-7zm167 0h7v7h-7zm-160 7h6v7h-6zm154 0h6v7h-6zm-148 7h7v6h-7zm141 0h7v6h-7zm-134 6h7v7h-7zm127 0h7v7h-7zm-127 7h13v7h-13zm121 0h6v7h-6zm-108 7h7v6h-7zm101 0h7v6h-7zm-94 6h13v7h-13zm80 0h14v7h-14zm-73 7h20v7h-20zm53 0h20v7h-20zm-33 7h40v6h-40z"/><path fill="#fff7dd" d="M913 892h7v3h-7zm235 0h7v3h-7zm0 3h7v7h-7zm-228 7h7v7h-7zm221 7h7v6h-7zm-214 6h6v7h-6zm0 7h6v7h-6zm207 0h7v7h-7zm-201 7h7v6h-7zm195 0h6v6h-6zm0 6h6v7h-6zm-188 7h7v7h-7zm181 0h7v7h-7zm-174 7h7v6h-7zm167 0h7v6h-7zm-167 6h7v7h-7zm167 0h7v7h-7zm-160 7h6v7h-6zm154 0h6v7h-6zm-148 7h7v7h-7zm141 0h7v7h-7zm-134 7h7v6h-7zm127 0h7v6h-7zm-120 6h6v7h-6zm114 0h6v7h-6zm-108 7h7v7h-7zm101 0h7v7h-7zm-94 7h13v6h-13zm80 0h14v6h-14zm-67 6h21v7h-21zm47 0h20v7h-20zm-33 7h33v7h-33z"/><path fill="#fff8df" d="M920 892h7v3h-7zm0 3h7v7h-7zm221 0h7v7h-7zm0 7h7v7h-7zm-214 7h6v6h-6zm207 0h7v6h-7zm0 6h7v7h-7zm-201 7h7v7h-7zm195 0h6v7h-6zm-188 13h7v7h-7zm181 0h7v7h-7zm-174 7h7v7h-7zm167 0h7v7h-7zm-160 13h6v7h-6zm154 0h6v7h-6zm-148 7h7v7h-7zm141 0h7v7h-7zm-134 7h7v7h-7zm127 0h7v7h-7zm-120 7h6v6h-6zm114 0h6v6h-6zm-108 6h7v7h-7zm94 0h14v7h-14zm-87 7h13v7h-13zm80 0h14v7h-14zm-67 7h21v6h-21zm41 0h26v6h-26zm-20 6h26v7h-26z"/><path fill="#fff8e2" d="M1141 892h7v3h-7zm-214 3h6v7h-6zm0 7h6v7h-6zm207 0h7v7h-7zm-201 7h7v6h-7zm0 6h7v7h-7zm195 0h6v7h-6zm-188 7h7v7h-7zm181 0h7v7h-7zm-181 7h7v6h-7zm181 0h7v6h-7zm-174 6h7v7h-7zm167 0h7v7h-7zm-160 7h6v7h-6zm154 0h6v7h-6zm-154 7h6v6h-6zm147 0h13v6h-13zm-141 6h7v7h-7zm141 0h7v7h-7zm-134 7h7v7h-7zm127 0h7v7h-7zm-120 7h6v7h-6zm107 0h13v7h-13zm-101 7h14v6h-14zm94 0h14v6h-14zm-87 6h13v7h-13zm74 0h13v7h-13zm-61 7h67v7h-67zm21 7h20v6h-20z"/><path fill="#fff9e4" d="M927 892h6v3h-6zm207 0h7v3h-7zm0 3h7v7h-7zm-201 7h7v7h-7zm195 0h6v7h-6zm0 7h6v6h-6zm-188 6h7v7h-7zm181 0h7v7h-7zm-174 7h7v7h-7zm167 0h7v7h-7zm-167 7h7v6h-7zm167 0h7v6h-7zm-160 6h6v7h-6zm154 0h6v7h-6zm-148 7h7v7h-7zm141 0h7v7h-7zm-141 7h7v6h-7zm134 0h7v6h-7zm-127 6h7v7h-7zm121 0h13v7h-13zm-114 7h13v7h-13zm107 0h13v7h-13zm-101 7h14v7h-14zm94 0h7v7h-7zm-80 7h13v6h-13zm67 0h13v6h-13zm-61 6h61v7h-61z"/><path fill="#fff9e7" d="M933 892h7v3h-7zm0 3h7v7h-7zm195 0h6v7h-6zm-188 7h7v7h-7zm181 0h7v7h-7zm-181 7h7v6h-7zm181 0h7v6h-7zm-174 6h7v7h-7zm167 0h7v7h-7zm-160 14h6v6h-6zm154 0h6v6h-6zm-148 6h7v7h-7zm141 0h7v7h-7zm-134 7h7v7h-7zm127 0h7v7h-7zm-127 7h13v6h-13zm121 0h6v6h-6zm-114 6h13v7h-13zm107 0h7v7h-7zm-94 7h7v7h-7zm80 0h14v7h-14zm-73 7h13v7h-13zm60 0h20v7h-20zm-47 7h54v6h-54z"/><path fill="#fffae9" d="M1128 892h6v3h-6zm-188 3h7v7h-7zm181 0h7v7h-7zm-174 14h7v6h-7zm167 0h7v6h-7zm-160 6h6v7h-6zm154 0h6v7h-6zm-154 7h6v7h-6zm154 0h6v7h-6zm-148 7h7v6h-7zm141 0h7v6h-7zm-134 6h7v7h-7zm127 0h7v7h-7zm-120 7h6v7h-6zm114 0h6v7h-6zm-108 7h7v6h-7zm101 0h7v6h-7zm-94 6h13v7h-13zm80 0h14v7h-14zm-73 7h20v7h-20zm60 0h13v7h-13zm-47 7h47v7h-47z"/><path fill="#fffaeb" d="M940 892h7v3h-7zm181 0h7v3h-7zm-174 3h7v7h-7zm167 0h7v7h-7zm-167 7h7v7h-7zm167 0h7v7h-7zm-160 7h6v6h-6zm154 0h6v6h-6zm-148 6h7v7h-7zm141 0h7v7h-7zm-141 7h7v7h-7zm134 0h14v7h-14zm-127 7h7v6h-7zm121 0h13v6h-13zm-114 6h6v7h-6zm107 0h13v7h-13zm-101 7h14v7h-14zm94 0h14v7h-14zm-87 7h13v6h-13zm80 0h14v6h-14zm-67 6h21v7h-21zm47 0h20v7h-20zm-33 7h40v7h-40z"/><path fill="#fffbee" d="M947 892h7v3h-7zm167 0h7v3h-7zm-160 3h6v7h-6zm154 0h6v7h-6zm-154 7h6v7h-6zm154 0h6v7h-6zm-148 7h7v6h-7zm141 0h7v6h-7zm-134 6h7v7h-7zm127 0h7v7h-7zm-127 7h13v7h-13zm121 0h6v7h-6zm-114 7h13v6h-13zm107 0h7v6h-7zm-101 6h14v7h-14zm94 0h7v7h-7zm-80 7h13v7h-13zm67 0h13v7h-13zm-61 7h67v6h-67zm21 6h26v7h-26z"/><path fill="#fffcf0" d="M954 892h6v3h-6zm154 0h6v3h-6zm-148 3h7v7h-7zm141 0h7v7h-7zm-141 7h7v7h-7zm141 0h7v7h-7zm-134 7h7v6h-7zm127 0h7v6h-7zm-120 6h6v7h-6zm114 0h6v7h-6zm-108 7h7v7h-7zm101 0h7v7h-7zm-94 7h13v6h-13zm80 0h14v6h-14zm-73 6h13v7h-13zm60 0h20v7h-20zm-47 7h54v7h-54z"/><path fill="#fffcf3" d="M960 892h7v3h-7zm141 0h7v3h-7zm-134 3h7v7h-7zm127 0h7v7h-7zm-127 7h13v7h-13zm121 0h13v7h-13zm-114 7h6v6h-6zm107 0h13v6h-13zm-101 6h14v7h-14zm94 0h14v7h-14zm-87 7h13v7h-13zm80 0h14v7h-14zm-67 7h14v6h-14zm47 0h20v6h-20zm-40 6h47v7h-47z"/><path fill="#fffdf5" d="M967 892h7v3h-7zm127 0h7v3h-7zm-120 3h6v7h-6zm114 0h6v7h-6zm-108 7h7v7h-7zm101 0h7v7h-7zm-101 7h14v6h-14zm94 0h7v6h-7zm-80 6h13v7h-13zm67 0h13v7h-13zm-61 7h27v7h-27zm34 0h33v7h-33zm-20 7h33v6h-33z"/><path fill="#fffdf8" d="M974 892h6v3h-6zm107 0h13v3h-13zm-101 3h7v7h-7zm94 0h14v7h-14zm-87 7h13v7h-13zm80 0h14v7h-14zm-73 7h20v6h-20zm60 0h20v6h-20zm-47 6h54v7h-54zm20 7h7v7h-7z"/><path fill="#fffefa" d="M980 892h14v3h-14zm94 0h7v3h-7zm-87 3h20v7h-20zm74 0h13v7h-13zm-61 7h21v7h-21zm47 0h20v7h-20zm-33 7h40v6h-40z"/><path fill="#fffefd" d="M994 892h13v3h-13zm60 0h20v3h-20zm-47 3h54v7h-54zm14 7h26v7h-26z"/><path fill="#ffffff" d="M1007 892h47v3h-47z"/></g>
<path d="M668.90 1575.35v-5.10M668.90 877.70v5.10M706.11 1575.35v-5.10M706.11 877.70v5.10M743.33 1575.35v-8.80M743.33 877.70v8.80M780.54 1575.35v-5.10M780.54 877.70v5.10M817.76 1575.35v-5.10M817.76 877.70v5.10M854.97 1575.35v-5.10M854.97 877.70v5.10M892.18 1575.35v-8.80M892.18 877.70v8.80M929.40 1575.35v-5.10M929.40 877.70v5.10M966.61 1575.35v-5.10M966.61 877.70v5.10M1003.83 1575.35v-5.10M1003.83 877.70v5.10M1041.04 1575.35v-8.80M1041.04 877.70v8.80M1078.25 1575.35v-5.10M1078.25 877.70v5.10M1115.47 1575.35v-5.10M1115.47 877.70v5.10M1152.68 1575.35v-5.10M1152.68 877.70v5.10M1189.89 1575.35v-8.80M1189.89 877.70v8.80M1227.11 1575.35v-5.10M1227.11 877.70v5.10M1264.32 1575.35v-5.10M1264.32 877.70v5.10M1301.54 1575.35v-5.10M1301.54 877.70v5.10M1338.75 1575.35v-8.80M1338.75 877.70v8.80M655.05 1561.60h5.10M1353.05 1561.60h-5.10M655.05 1524.39h5.10M1353.05 1524.39h-5.10M655.05 1487.18h8.80M1353.05 1487.18h-8.80M655.05 1449.97h5.10M1353.05 1449.97h-5.10M655.05 1412.76h5.10M1353.05 1412.76h-5.10M655.05 1375.56h5.10M1353.05 1375.56h-5.10M655.05 1338.35h8.80M1353.05 1338.35h-8.80M655.05 1301.14h5.10M1353.05 1301.14h-5.10M655.05 1263.93h5.10M1353.05 1263.93h-5.10M655.05 1226.72h5.10M1353.05 1226.72h-5.10M655.05 1189.51h8.80M1353.05 1189.51h-8.80M655.05 1152.30h5.10M1353.05 1152.30h-5.10M655.05 1115.09h5.10M1353.05 1115.09h-5.10M655.05 1077.88h5.10M1353.05 1077.88h-5.10M655.05 1040.68h8.80M1353.05 1040.68h-8.80M655.05 1003.47h5.10M1353.05 1003.47h-5.10M655.05 966.26h5.10M1353.05 966.26h-5.10M655.05 929.05h5.10M1353.05 929.05h-5.10M655.05 891.84h8.80M1353.05 891.84h-8.80" stroke="#000" stroke-width="1.6" stroke-linecap="round" fill="none"/>
<rect x="655.05" y="877.70" width="698.00" height="697.65" fill="none" stroke="#000" stroke-width="2.35"/>
<g stroke="#000" stroke-width="0.28">
<text x="743.33" y="1615.05" text-anchor="middle">20</text>
<text x="892.18" y="1615.05" text-anchor="middle">40</text>
<text x="1041.04" y="1615.05" text-anchor="middle">60</text>
<text x="1189.89" y="1615.05" text-anchor="middle">80</text>
<text x="1338.75" y="1615.05" text-anchor="middle">100</text>
<text x="649.25" y="1498.08" text-anchor="end">0.2</text>
<text x="649.25" y="1349.25" text-anchor="end">0.4</text>
<text x="649.25" y="1200.41" text-anchor="end">0.6</text>
<text x="649.25" y="1051.58" text-anchor="end">0.8</text>
<text x="649.25" y="902.74" text-anchor="end">1.0</text>
<g transform="translate(1004.05 1672.25)"><text transform="translate(-32.52 0.00) scale(1.142 1)" font-size="41.6" font-style="italic" stroke-width="0.15">m</text><text transform="translate(0.20 5.50) scale(1.038 1)" font-size="30">tot</text></g>
<g transform="translate(574.55 1234.23) rotate(-90) scale(1.0000)"><text transform="translate(-1.51 0.00) scale(1.065 1)" font-size="42.8" font-style="italic" stroke-width="0.1">q</text></g>
<g transform="translate(1225.62 1497.48)"><text transform="translate(-39.30 0.00) scale(1.197 1)" font-size="36.5" font-style="italic" stroke-width="0.1">β</text><text transform="translate(-9.04 3.30) scale(1.047 1)" font-size="39">=</text><text x="22.03" y="0.00" font-size="39">3</text></g>
</g>
<rect x="862.00" y="157.20" width="30.80" height="456.00" fill="url(#cb0)" stroke="#777" stroke-opacity="0.4" stroke-width="1"/>
<path d="M891.80 600.54h6.0M891.80 586.86h6.0M891.80 573.18h6.0M891.80 559.50h9.5M891.80 545.82h6.0M891.80 532.14h6.0M891.80 518.46h6.0M891.80 504.78h6.0M891.80 491.10h9.5M891.80 477.42h6.0M891.80 463.74h6.0M891.80 450.06h6.0M891.80 436.38h6.0M891.80 422.70h9.5M891.80 409.02h6.0M891.80 395.34h6.0M891.80 381.66h6.0M891.80 367.98h6.0M891.80 354.30h9.5M891.80 340.62h6.0M891.80 326.94h6.0M891.80 313.26h6.0M891.80 299.58h6.0M891.80 285.90h9.5M891.80 272.22h6.0M891.80 258.54h6.0M891.80 244.86h6.0M891.80 231.18h6.0M891.80 217.50h9.5M891.80 203.82h6.0M891.80 190.14h6.0M891.80 176.46h6.0M891.80 162.78h6.0" stroke="#d4d4d4" stroke-width="0.9" fill="none"/>
<g stroke="#000" stroke-width="0.28">
<text x="907.90" y="228.30">−1.0</text>
<text x="907.90" y="296.70">−1.5</text>
<text x="907.90" y="365.10">−2.0</text>
<text x="907.90" y="433.50">−2.5</text>
<text x="907.90" y="501.90">−3.0</text>
<text x="907.90" y="570.30">−3.5</text>
<g transform="translate(1045.00 595.90) rotate(-90) scale(1.0000)"><text transform="translate(-0.82 0.00) scale(1.021 1)" font-size="40">log</text><rect x="57.4" y="-14.0" width="125.6" height="2.3" fill="#000" stroke="none"/><text transform="translate(96.91 -14.90) scale(1.177 1)" font-size="25.3" stroke-width="0.2">∂</text><text transform="translate(110.87 -24.20) scale(1.091 1)" font-size="21.5" stroke-width="0.2">2</text><text transform="translate(123.04 -15.00) scale(1.055 1)" font-size="24.4" font-family="'DejaVu Math TeX Gyre','DejaVu Sans',serif" stroke-width="0.2">ℛ</text><text transform="translate(54.76 17.50) scale(1.200 1)" font-size="26.2" stroke-width="0.2">∂</text><text transform="translate(74.19 17.30) scale(1.074 1)" font-size="28.2" stroke-width="0.2">ln</text><text transform="translate(98.81 17.60) scale(1.097 1)" font-size="30" font-style="italic" stroke-width="0.2">m</text><text transform="translate(121.16 21.80) scale(1.031 1)" font-size="23.6" stroke-width="0.2">tot</text><text transform="translate(152.00 17.50) scale(1.154 1)" font-size="26.2" stroke-width="0.2">∂</text><text transform="translate(167.03 17.20) scale(1.061 1)" font-size="30.4" font-style="italic" stroke-width="0.2">q</text><text transform="translate(195.20 0.00) scale(0.943 1)" font-size="40">[</text><text transform="translate(206.40 0.00) scale(1.019 1)" font-size="40">yr</text><text x="239.25" y="-13.20" font-size="27.3">−1</text><text x="271.02" y="0.00" font-size="40.5">Gpc</text><text transform="translate(337.80 -13.00) scale(1.018 1)" font-size="27.6">−3</text><text transform="translate(369.73 0.00) scale(0.876 1)" font-size="40">]</text></g>
</g>
<rect x="1947.00" y="153.80" width="30.50" height="447.80" fill="url(#cb1)" stroke="#777" stroke-opacity="0.4" stroke-width="1"/>
<path d="M1976.50 595.13h5.9M1976.50 579.73h9.3M1976.50 564.32h5.9M1976.50 548.92h5.9M1976.50 533.51h5.9M1976.50 518.11h5.9M1976.50 502.70h9.3M1976.50 487.30h5.9M1976.50 471.89h5.9M1976.50 456.49h5.9M1976.50 441.08h5.9M1976.50 425.68h9.3M1976.50 410.27h5.9M1976.50 394.87h5.9M1976.50 379.46h5.9M1976.50 364.06h5.9M1976.50 348.65h9.3M1976.50 333.25h5.9M1976.50 317.84h5.9M1976.50 302.44h5.9M1976.50 287.03h5.9M1976.50 271.62h9.3M1976.50 256.22h5.9M1976.50 240.82h5.9M1976.50 225.41h5.9M1976.50 210.00h5.9M1976.50 194.60h9.3M1976.50 179.20h5.9M1976.50 163.79h5.9" stroke="#d4d4d4" stroke-width="0.9" fill="none"/>
<g stroke="#000" stroke-width="0.28">
<text x="1992.32" y="205.20" font-size="38.29">−1.75</text>
<text x="1992.32" y="282.23" font-size="38.29">−2.00</text>
<text x="1992.32" y="359.25" font-size="38.29">−2.25</text>
<text x="1992.32" y="436.28" font-size="38.29">−2.50</text>
<text x="1992.32" y="513.30" font-size="38.29">−2.75</text>
<text x="1992.32" y="590.33" font-size="38.29">−3.00</text>
<g transform="translate(2147.10 584.70) rotate(-90) scale(0.9817)"><text transform="translate(-0.82 0.00) scale(1.021 1)" font-size="40">log</text><rect x="57.4" y="-14.0" width="125.6" height="2.3" fill="#000" stroke="none"/><text transform="translate(96.91 -14.90) scale(1.177 1)" font-size="25.3" stroke-width="0.2">∂</text><text transform="translate(110.87 -24.20) scale(1.091 1)" font-size="21.5" stroke-width="0.2">2</text><text transform="translate(123.04 -15.00) scale(1.055 1)" font-size="24.4" font-family="'DejaVu Math TeX Gyre','DejaVu Sans',serif" stroke-width="0.2">ℛ</text><text transform="translate(54.76 17.50) scale(1.200 1)" font-size="26.2" stroke-width="0.2">∂</text><text transform="translate(74.19 17.30) scale(1.074 1)" font-size="28.2" stroke-width="0.2">ln</text><text transform="translate(98.81 17.60) scale(1.097 1)" font-size="30" font-style="italic" stroke-width="0.2">m</text><text transform="translate(121.16 21.80) scale(1.031 1)" font-size="23.6" stroke-width="0.2">tot</text><text transform="translate(152.00 17.50) scale(1.154 1)" font-size="26.2" stroke-width="0.2">∂</text><text transform="translate(167.03 17.20) scale(1.061 1)" font-size="30.4" font-style="italic" stroke-width="0.2">q</text><text transform="translate(195.20 0.00) scale(0.943 1)" font-size="40">[</text><text transform="translate(206.40 0.00) scale(1.019 1)" font-size="40">yr</text><text x="239.25" y="-13.20" font-size="27.3">−1</text><text x="271.02" y="0.00" font-size="40.5">Gpc</text><text transform="translate(337.80 -13.00) scale(1.018 1)" font-size="27.6">−3</text><text transform="translate(369.73 0.00) scale(0.876 1)" font-size="40">]</text></g>
</g>
<rect x="1412.30" y="1041.20" width="30.50" height="445.20" fill="url(#cb2)" stroke="#777" stroke-opacity="0.4" stroke-width="1"/>
<path d="M1441.80 1474.68h6.0M1441.80 1447.60h9.5M1441.80 1420.52h6.0M1441.80 1393.44h6.0M1441.80 1366.36h6.0M1441.80 1339.28h6.0M1441.80 1312.20h9.5M1441.80 1285.12h6.0M1441.80 1258.04h6.0M1441.80 1230.96h6.0M1441.80 1203.88h6.0M1441.80 1176.80h9.5M1441.80 1149.72h6.0M1441.80 1122.64h6.0M1441.80 1095.56h6.0M1441.80 1068.48h6.0M1441.80 1041.40h9.5" stroke="#d4d4d4" stroke-width="0.9" fill="none"/>
<g stroke="#000" stroke-width="0.28">
<text x="1457.90" y="1052.20">−2.0</text>
<text x="1457.90" y="1187.60">−2.5</text>
<text x="1457.90" y="1323.00">−3.0</text>
<text x="1457.90" y="1458.40">−3.5</text>
<g transform="translate(1595.90 1468.10) rotate(-90) scale(1.0000)"><text transform="translate(-0.82 0.00) scale(1.021 1)" font-size="40">log</text><rect x="57.4" y="-14.0" width="125.6" height="2.3" fill="#000" stroke="none"/><text transform="translate(96.91 -14.90) scale(1.177 1)" font-size="25.3" stroke-width="0.2">∂</text><text transform="translate(110.87 -24.20) scale(1.091 1)" font-size="21.5" stroke-width="0.2">2</text><text transform="translate(123.04 -15.00) scale(1.055 1)" font-size="24.4" font-family="'DejaVu Math TeX Gyre','DejaVu Sans',serif" stroke-width="0.2">ℛ</text><text transform="translate(54.76 17.50) scale(1.200 1)" font-size="26.2" stroke-width="0.2">∂</text><text transform="translate(74.19 17.30) scale(1.074 1)" font-size="28.2" stroke-width="0.2">ln</text><text transform="translate(98.81 17.60) scale(1.097 1)" font-size="30" font-style="italic" stroke-width="0.2">m</text><text transform="translate(121.16 21.80) scale(1.031 1)" font-size="23.6" stroke-width="0.2">tot</text><text transform="translate(152.00 17.50) scale(1.154 1)" font-size="26.2" stroke-width="0.2">∂</text><text transform="translate(167.03 17.20) scale(1.061 1)" font-size="30.4" font-style="italic" stroke-width="0.2">q</text><text transform="translate(195.20 0.00) scale(0.943 1)" font-size="40">[</text><text transform="translate(206.40 0.00) scale(1.019 1)" font-size="40">yr</text><text x="239.25" y="-13.20" font-size="27.3">−1</text><text x="271.02" y="0.00" font-size="40.5">Gpc</text><text transform="translate(337.80 -13.00) scale(1.018 1)" font-size="27.6">−3</text><text transform="translate(369.73 0.00) scale(0.876 1)" font-size="40">]</text></g>
</g>
</svg></body></html>
